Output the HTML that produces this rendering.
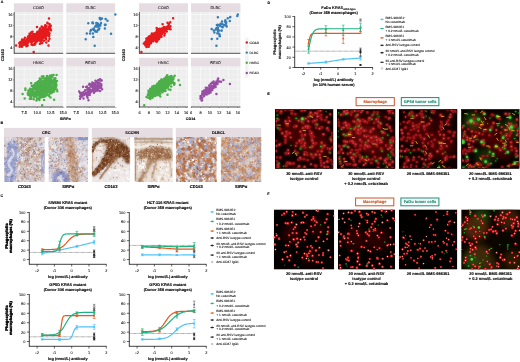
<!DOCTYPE html>
<html lang="en"><head><meta charset="utf-8"><title>Figure</title>
<style>
html,body{margin:0;padding:0;background:#fff;}
body{width:520px;height:362px;overflow:hidden;}
svg{display:block;text-rendering:geometricPrecision;font-family:'Liberation Sans', Arial, sans-serif;}
</style></head><body>
<svg width="520" height="362" viewBox="0 0 520 362">
<defs>
<filter id="semi" x="-5%" y="-5%" width="110%" height="110%"><feGaussianBlur stdDeviation="0.8" result="b"/><feComponentTransfer in="SourceGraphic" result="s"><feFuncA type="linear" slope="0.8"/></feComponentTransfer><feMerge><feMergeNode in="b"/><feMergeNode in="s"/></feMerge></filter>
<filter id="b03" x="-20%" y="-20%" width="140%" height="140%"><feGaussianBlur stdDeviation="0.3"/></filter>
<filter id="b05" x="-20%" y="-20%" width="140%" height="140%"><feGaussianBlur stdDeviation="0.5"/></filter>
<filter id="b08" x="-20%" y="-20%" width="140%" height="140%"><feGaussianBlur stdDeviation="0.8"/></filter>
<filter id="b15" x="-20%" y="-20%" width="140%" height="140%"><feGaussianBlur stdDeviation="1.5"/></filter>
<filter id="b30" x="-20%" y="-20%" width="140%" height="140%"><feGaussianBlur stdDeviation="3"/></filter>
<filter id="b50" x="-20%" y="-20%" width="140%" height="140%"><feGaussianBlur stdDeviation="5"/></filter>
<clipPath id="c1"><rect x="4" y="137" width="40.7" height="45"/></clipPath>
<clipPath id="c2"><rect x="48.5" y="137" width="39.6" height="45"/></clipPath>
<clipPath id="c3"><rect x="91.8" y="137" width="38.4" height="45"/></clipPath>
<clipPath id="c4"><rect x="134.3" y="137" width="38.4" height="45"/></clipPath>
<clipPath id="c5"><rect x="175.9" y="137" width="40.8" height="45"/></clipPath>
<clipPath id="c6"><rect x="220.8" y="137" width="40.6" height="45"/></clipPath>
<radialGradient id="cellE"><stop offset="0" stop-color="#e25c54"/><stop offset="0.55" stop-color="#bc2024"/><stop offset="1" stop-color="#860a0e" stop-opacity="0.25"/></radialGradient>
<radialGradient id="cellD"><stop offset="0" stop-color="#b01a1c"/><stop offset="0.6" stop-color="#a01216" stop-opacity="0.9"/><stop offset="1" stop-color="#700808" stop-opacity="0.3"/></radialGradient>
<radialGradient id="cellF"><stop offset="0" stop-color="#ffd8d0"/><stop offset="0.26" stop-color="#e84840"/><stop offset="0.58" stop-color="#b81418" stop-opacity="0.9"/><stop offset="1" stop-color="#700606" stop-opacity="0"/></radialGradient>
<clipPath id="c7"><rect x="275" y="109.2" width="58.2" height="59.6"/></clipPath>
<clipPath id="c8"><rect x="337" y="109.2" width="58.2" height="59.6"/></clipPath>
<clipPath id="c9"><rect x="399" y="109.2" width="58.2" height="59.6"/></clipPath>
<clipPath id="c10"><rect x="461.2" y="109.2" width="58.2" height="59.6"/></clipPath>
<clipPath id="c11"><rect x="273.8" y="209.4" width="60.4" height="60.2"/></clipPath>
<clipPath id="c12"><rect x="338" y="209.4" width="57" height="60.2"/></clipPath>
<clipPath id="c13"><rect x="398.9" y="209.4" width="58.4" height="60.2"/></clipPath>
<clipPath id="c14"><rect x="461.2" y="209.4" width="58.8" height="60.2"/></clipPath>
</defs>
<rect width="520" height="362" fill="#fff"/>
<rect x="13.9" y="3.3" width="49.3" height="8.8" fill="#e6dde2" />
<rect x="13.9" y="12.1" width="49.3" height="41.2" fill="#ededed" />
<line x1="17.6" y1="12.1" x2="17.6" y2="53.3" stroke="#fff" stroke-width="0.25" />
<line x1="30.8" y1="12.1" x2="30.8" y2="53.3" stroke="#fff" stroke-width="0.25" />
<line x1="44" y1="12.1" x2="44" y2="53.3" stroke="#fff" stroke-width="0.25" />
<line x1="57.2" y1="12.1" x2="57.2" y2="53.3" stroke="#fff" stroke-width="0.25" />
<line x1="13.9" y1="53.12" x2="63.2" y2="53.12" stroke="#fff" stroke-width="0.25" />
<line x1="13.9" y1="42.08" x2="63.2" y2="42.08" stroke="#fff" stroke-width="0.25" />
<line x1="13.9" y1="31.04" x2="63.2" y2="31.04" stroke="#fff" stroke-width="0.25" />
<line x1="13.9" y1="20" x2="63.2" y2="20" stroke="#fff" stroke-width="0.25" />
<line x1="24.2" y1="12.1" x2="24.2" y2="53.3" stroke="#fff" stroke-width="0.5" />
<line x1="37.4" y1="12.1" x2="37.4" y2="53.3" stroke="#fff" stroke-width="0.5" />
<line x1="50.6" y1="12.1" x2="50.6" y2="53.3" stroke="#fff" stroke-width="0.5" />
<line x1="13.9" y1="47.6" x2="63.2" y2="47.6" stroke="#fff" stroke-width="0.5" />
<line x1="13.9" y1="36.56" x2="63.2" y2="36.56" stroke="#fff" stroke-width="0.5" />
<line x1="13.9" y1="25.52" x2="63.2" y2="25.52" stroke="#fff" stroke-width="0.5" />
<line x1="13.9" y1="14.48" x2="63.2" y2="14.48" stroke="#fff" stroke-width="0.5" />
<text transform="translate(38.55 9.1) scale(0.1)" font-size="39" text-anchor="middle" fill="#111" stroke="#111" stroke-width="0.5">COAD</text>
<path d="M34.7 35.9h0M34.2 40.6h0M46.3 30.6h0M39 34.2h0M22.8 41.1h0M41.1 41h0M29.4 41.1h0M36.5 35h0M39.5 34h0M41.6 29.9h0M30.6 40.3h0M42.2 33.2h0M28.8 41.5h0M30 38.9h0M24.3 42h0M19.9 44.7h0M30 38.3h0M24.5 40.2h0M44.9 27.1h0M37.9 40.6h0M31.7 40.2h0M28.7 41.6h0M19.7 46.7h0M49.1 28.5h0M39.9 37.9h0M45.1 28.3h0M38.9 34.1h0M42.1 32.2h0M23.6 39.7h0M41.3 42h0M44 40.7h0M45.5 38.2h0M41.5 35.1h0M42.4 33.7h0M31.3 40.2h0M37.1 39.4h0M49.3 33.1h0M35.7 37.6h0M48.7 35.9h0M26.2 43.2h0M46.4 28.7h0M38.1 35.5h0M35.4 36.3h0M36.9 34h0M39.6 36.9h0M36.8 33.5h0M40.1 28.4h0M27.4 40.2h0M38.9 37.2h0M39.3 37.4h0M39.9 37.2h0M35 37.6h0M32.8 35.4h0M36.3 33.7h0M49.5 38.7h0M34 35.9h0M46.1 38.6h0M24.3 41.8h0M35.6 36.5h0M38.1 36.3h0M45.7 33.9h0M27.2 38.6h0M38 33.6h0M42.3 40.1h0M42.1 38h0M24.5 39.3h0M49.3 35.3h0M27.2 39h0M29.4 35.8h0M35.4 43.6h0M36.1 38.9h0M40.3 29.5h0M46.5 26h0M35.3 39.6h0M37.8 35.7h0M34.6 44.8h0M21.2 42h0M31.7 38.9h0M37.5 31.7h0M45.7 26.4h0M31.2 36.6h0M27.7 45.5h0M26.5 41.2h0M36.6 38.6h0M37.2 34.6h0M35.2 41.3h0M45.9 39.5h0M45.4 29.5h0M43.7 32.9h0M23.7 43.8h0M32.1 41.3h0M23.9 42.6h0M39.9 43.8h0M31.5 44.5h0M34.5 44.6h0M39.3 37.1h0M43.2 31.1h0M48.1 28.6h0M19.3 42.9h0M34.4 39.1h0M22 42.2h0M29 38.2h0M35.9 35.2h0M29.2 40.2h0M43.8 33.6h0M28.3 41.3h0M37.7 39.1h0M46.5 29.6h0M42.1 32.4h0M40.5 35.2h0M20.4 42h0M30.9 35.5h0M25 43.3h0M38.4 37.3h0M45.6 37.7h0M45.2 25.3h0M29.5 39.1h0M30.6 39.5h0M30.7 39.6h0M40.1 32.8h0M34.1 35.3h0M29.9 41.4h0M35.9 36.5h0M38.4 36.4h0M40.4 31.1h0M35.3 35.8h0M20.9 43.6h0M43.1 38.1h0M28.1 36.5h0M25.3 43.4h0M41.1 34h0M42.8 34h0M50.8 25.8h0M27.7 41h0M34.4 34.3h0M44.5 34h0M47.3 32.8h0M34 35.2h0M36.9 40.5h0M39.9 31.1h0M37.1 33.6h0M38.6 35.6h0M42.7 38.1h0M36.9 41.5h0M19.9 45.3h0M41.7 34.6h0M24.9 37.8h0M46.1 36.2h0M21.5 41.9h0M20.8 43.8h0M22 46.8h0M31.6 42.9h0M39 33.4h0M49.6 25.6h0M32.6 41.6h0M36.2 36.8h0M23.5 45.1h0M35.2 38.3h0M30.5 37.5h0M36.1 39.1h0M28.6 40.1h0M38.6 35.3h0M34.8 38.5h0M42 34.4h0M35.7 37.3h0M39.4 38h0M33.7 40.2h0M35.9 38.6h0M41.3 36.2h0M34.2 34.3h0M46.3 42.4h0M39 33.5h0M39.6 30.7h0M44.9 30.9h0M41.2 38.7h0M28.3 39.7h0M35 37.3h0M37.1 39.2h0M41.8 31.7h0M51 30.2h0M33.3 33.9h0M42.6 35.9h0M42.9 28.6h0M31.1 36.8h0M39.5 29.9h0M32.5 31.8h0M43.5 36.2h0M22.1 39.6h0M26.6 44.7h0M46.8 34.1h0M34.2 38.1h0M37.1 41.3h0M39.5 33.7h0M29.2 39.5h0M50.1 27.2h0M32.9 40.4h0M33.9 37h0M41.7 26.4h0M37 27.1h0M32.5 38h0M40.3 35.9h0M37.3 33.7h0M29.4 39.9h0M28 38.9h0M42.2 31.3h0M41.2 35h0M36.6 35.2h0M36 34.5h0M42.3 27h0M38.1 36.5h0M39.5 32.1h0M36.7 36.7h0M49 27.1h0M43.2 34.3h0M40 40.7h0M49.5 33.6h0M25.4 44.4h0M40.5 34h0M32.5 40.5h0M41.5 38.3h0M39.3 34.6h0M35.2 39.1h0M35.9 37.3h0M45.8 26.8h0M44 36.4h0M43.2 27.8h0M36.2 36.2h0M37 38.8h0M27.3 45.7h0M39.1 37.5h0M34.6 39.5h0M23.6 43.9h0M44 34h0M31.3 38.2h0M31.1 32.5h0M37 35.9h0M26.4 46.2h0M43.6 31.1h0M38.6 34.9h0M40 29.1h0M33.7 35.1h0M36.8 37.4h0M29.8 41.4h0M37.2 36.2h0M44.6 31.1h0M42.5 34.7h0M49.2 29h0M46 31.1h0M50.5 29h0M38.5 36.3h0M45.1 32.8h0M39.8 35h0M33.7 38.1h0M33.3 36.1h0M33.8 38.3h0M34.1 35.5h0M37.2 32.3h0M38.6 36.1h0M32 37.3h0M41.1 32.5h0M41.4 40.4h0M23.8 43.8h0M33.5 35.5h0M33.5 36.4h0M36.9 35.3h0M39.1 40.1h0M20.1 44.1h0M45 30.2h0M28 40.3h0M27.7 43.2h0M20.5 44.3h0M40.7 37.5h0M33.5 38.2h0M37 34h0M30.3 40.7h0M30.7 39.4h0M25.4 40.6h0M21.4 42.9h0M21.1 42.1h0M40.9 33.1h0M35 34.6h0M43 37h0M40.6 35.5h0M30.2 39h0M40.5 33h0M48.3 33.2h0M44.4 33h0M32 39.5h0M39.9 39.6h0M38.4 39.4h0M34.5 38.7h0M48 34.6h0M29.5 33.7h0M47 34.9h0M33.2 36.7h0M31.2 33h0M23 41h0M46.6 34.7h0M47.5 31.3h0M22.5 40.5h0M30 37.3h0M42.3 42.9h0M44.5 30.2h0M16.1 45.5h0M28.8 41h0M44.4 35h0M30.2 38.8h0M38.2 38.4h0M46.1 31.2h0M38.6 32.3h0M35.9 35.2h0M34 44.3h0M39.6 35.3h0M39.1 37.1h0M30.6 41h0M27.1 39.4h0M42.4 38h0M48.5 30.5h0M37.3 35.9h0M31.7 38.4h0M37.5 33.8h0M44.5 30.8h0M36.7 37.5h0M35.4 42.8h0M36.7 39.9h0M41.2 35.2h0M35.1 43.2h0M38 34.3h0M41.5 43h0M40 35.1h0M42.3 36h0M32.6 45.1h0M38.6 33.1h0M36.6 34.6h0M47.4 23.3h0M20.6 42.2h0M44.7 29.8h0M30.8 36.8h0M21.6 45.3h0M31.1 41.2h0M49 18.6h0M49.5 23.9h0M49 28.3h0M48.5 32.1h0M49 36.3h0M48.5 40.7h0M48.5 45.4h0M33.7 52h0M47.4 22.8h0" stroke="#e41a1c" stroke-width="2.5" stroke-linecap="round" fill="none"/>
<line x1="14.2" y1="12.1" x2="14.2" y2="53.6" stroke="#2a2a2a" stroke-width="0.8" />
<line x1="13.9" y1="53.3" x2="63.2" y2="53.3" stroke="#2a2a2a" stroke-width="0.8" />
<rect x="66.3" y="3.3" width="48.8" height="8.8" fill="#e6dde2" />
<rect x="66.3" y="12.1" width="48.8" height="41.2" fill="#ededed" />
<line x1="69.6" y1="12.1" x2="69.6" y2="53.3" stroke="#fff" stroke-width="0.25" />
<line x1="82.8" y1="12.1" x2="82.8" y2="53.3" stroke="#fff" stroke-width="0.25" />
<line x1="96" y1="12.1" x2="96" y2="53.3" stroke="#fff" stroke-width="0.25" />
<line x1="109.2" y1="12.1" x2="109.2" y2="53.3" stroke="#fff" stroke-width="0.25" />
<line x1="66.3" y1="53.12" x2="115.1" y2="53.12" stroke="#fff" stroke-width="0.25" />
<line x1="66.3" y1="42.08" x2="115.1" y2="42.08" stroke="#fff" stroke-width="0.25" />
<line x1="66.3" y1="31.04" x2="115.1" y2="31.04" stroke="#fff" stroke-width="0.25" />
<line x1="66.3" y1="20" x2="115.1" y2="20" stroke="#fff" stroke-width="0.25" />
<line x1="76.2" y1="12.1" x2="76.2" y2="53.3" stroke="#fff" stroke-width="0.5" />
<line x1="89.4" y1="12.1" x2="89.4" y2="53.3" stroke="#fff" stroke-width="0.5" />
<line x1="102.6" y1="12.1" x2="102.6" y2="53.3" stroke="#fff" stroke-width="0.5" />
<line x1="66.3" y1="47.6" x2="115.1" y2="47.6" stroke="#fff" stroke-width="0.5" />
<line x1="66.3" y1="36.56" x2="115.1" y2="36.56" stroke="#fff" stroke-width="0.5" />
<line x1="66.3" y1="25.52" x2="115.1" y2="25.52" stroke="#fff" stroke-width="0.5" />
<line x1="66.3" y1="14.48" x2="115.1" y2="14.48" stroke="#fff" stroke-width="0.5" />
<text transform="translate(90.7 9.1) scale(0.1)" font-size="39" text-anchor="middle" fill="#111" stroke="#111" stroke-width="0.5">DLBC</text>
<path d="M93 23.3h0M96.9 31.7h0M104.9 24.9h0M98.6 25.9h0M95.5 26.2h0M93.3 37.1h0M92.9 29.2h0M97.6 24h0M98 29.7h0M96.3 25h0M100.4 25.4h0M96.3 23.1h0M97.4 23.3h0M100.7 23.8h0M104.9 24.8h0M95.2 31.4h0M92.7 22.4h0M107.5 20.7h0M100.6 19.6h0M102 18.6h0M90 33.6h0M99.9 18.8h0M97.9 30.1h0M95.3 30.7h0M92.3 22.8h0M93.7 28.6h0M99.3 28.2h0M99.7 18.1h0M100.9 19h0M97.9 24h0M96.2 25.4h0M104.9 28.6h0M97 25.8h0M94 29.9h0M101 23.1h0M88.3 23.3h0M97.8 26.5h0M90.8 30.6h0M91 29.9h0M100 24.9h0M98.9 29.5h0M105.6 24.8h0M86.8 33.5h0M92.9 33.6h0M95.3 26.5h0M90.5 31.1h0M105.6 18.9h0M96.4 26.6h0M115.3 14.5h0M111 33.8h0M94.7 45.7h0M85.7 39.3h0" stroke="#377eb8" stroke-width="2.5" stroke-linecap="round" fill="none"/>
<line x1="66.3" y1="53.3" x2="115.1" y2="53.3" stroke="#2a2a2a" stroke-width="0.8" />
<rect x="13.9" y="57.8" width="49.3" height="8.8" fill="#e6dde2" />
<rect x="13.9" y="66.6" width="49.3" height="40.4" fill="#ededed" />
<line x1="17.6" y1="66.6" x2="17.6" y2="107" stroke="#fff" stroke-width="0.25" />
<line x1="30.8" y1="66.6" x2="30.8" y2="107" stroke="#fff" stroke-width="0.25" />
<line x1="44" y1="66.6" x2="44" y2="107" stroke="#fff" stroke-width="0.25" />
<line x1="57.2" y1="66.6" x2="57.2" y2="107" stroke="#fff" stroke-width="0.25" />
<line x1="13.9" y1="96.48" x2="63.2" y2="96.48" stroke="#fff" stroke-width="0.25" />
<line x1="13.9" y1="85.44" x2="63.2" y2="85.44" stroke="#fff" stroke-width="0.25" />
<line x1="13.9" y1="74.4" x2="63.2" y2="74.4" stroke="#fff" stroke-width="0.25" />
<line x1="24.2" y1="66.6" x2="24.2" y2="107" stroke="#fff" stroke-width="0.5" />
<line x1="37.4" y1="66.6" x2="37.4" y2="107" stroke="#fff" stroke-width="0.5" />
<line x1="50.6" y1="66.6" x2="50.6" y2="107" stroke="#fff" stroke-width="0.5" />
<line x1="13.9" y1="102" x2="63.2" y2="102" stroke="#fff" stroke-width="0.5" />
<line x1="13.9" y1="90.96" x2="63.2" y2="90.96" stroke="#fff" stroke-width="0.5" />
<line x1="13.9" y1="79.92" x2="63.2" y2="79.92" stroke="#fff" stroke-width="0.5" />
<line x1="13.9" y1="68.88" x2="63.2" y2="68.88" stroke="#fff" stroke-width="0.5" />
<text transform="translate(38.55 63.6) scale(0.1)" font-size="39" text-anchor="middle" fill="#111" stroke="#111" stroke-width="0.5">HNSC</text>
<path d="M43.4 87.9h0M49.3 86.1h0M27.8 93.1h0M38.2 86.4h0M40.1 88.1h0M36.5 96.6h0M46.8 89.5h0M31.4 98.7h0M48.5 89.5h0M41.7 86.7h0M53.6 75.1h0M51.4 84.3h0M45.5 78.5h0M54.1 85.5h0M47.4 84.9h0M44.6 89.6h0M35.2 93h0M33.7 85.3h0M47.9 91.8h0M53.8 79.9h0M31.2 83.3h0M49.8 75.8h0M35.8 87.8h0M47.2 85.4h0M45.4 82h0M34 96.7h0M34.7 93.3h0M40.1 87.1h0M46.1 86.6h0M39.6 91h0M50.8 81.5h0M45 88.6h0M54.9 86.5h0M48.7 80.4h0M42.4 84.1h0M36.6 85.3h0M45.6 94.3h0M48.9 90h0M53.1 87.5h0M43.1 86.4h0M42 86.9h0M40.5 85.5h0M44.3 86.4h0M25.4 88.4h0M44.5 95.6h0M44.9 85h0M51.6 89.9h0M54.9 84.5h0M48.9 87.5h0M36.6 84.9h0M50.5 78h0M50.1 88h0M32.9 94.3h0M39.6 92.8h0M48.3 84.5h0M42.4 87.2h0M43.3 86.7h0M49.4 81.1h0M39.6 96h0M54.1 83.5h0M51.9 92.5h0M42 88h0M34.4 93.2h0M49.2 80.6h0M55.2 87.7h0M34.6 88.2h0M50.7 84.2h0M35.3 86.8h0M49.7 82.9h0M40.9 87.1h0M49.7 88.1h0M31.6 90.2h0M47.6 86.2h0M50.4 88h0M43.7 89h0M48.2 78.6h0M42.5 78.3h0M54.8 80.1h0M48.3 77.7h0M43 88.3h0M37 87.7h0M53.5 81.7h0M47.2 87.3h0M45.4 93.6h0M51.5 86.8h0M36.7 93.5h0M38.6 85.3h0M51.5 91.2h0M50.6 81h0M40.3 95.7h0M39.1 92.1h0M46.6 88.2h0M30.3 91.1h0M33.7 86.8h0M36 93.5h0M38.4 91.9h0M53.2 80.3h0M48.4 84.5h0M33.6 93.5h0M40.5 93.3h0M47.8 89.6h0M39.4 93.9h0M30.1 89.4h0M53.4 83.4h0M45.5 81.3h0M46.3 82.3h0M54.4 78.6h0M41.2 83.5h0M49.6 92.7h0M41.5 95h0M43.5 84.9h0M36.9 99.5h0M53.2 82.5h0M54.4 90.1h0M51.5 75.2h0M46.1 87.5h0M51.1 80.2h0M44.9 93.5h0M49.4 87.8h0M48.6 84.7h0M55.4 78.2h0M41.2 86.8h0M56.4 85.7h0M47.2 80.8h0M52.9 82h0M35.2 96.4h0M46 85h0M52.1 81.1h0M32.8 95.1h0M45.4 89.3h0M43.2 85.5h0M38.7 87.1h0M39.9 91.4h0M47.9 88.8h0M46.2 79.2h0M44.4 88h0M49.3 87.3h0M51.7 90.8h0M48.5 88.3h0M38.8 81h0M38.4 81.2h0M48.8 79h0M37.6 84.1h0M54.3 84.5h0M43.4 76.2h0M45.5 88.9h0M39.9 86.8h0M46.5 85.8h0M56.1 84.8h0M47.5 79.4h0M37.4 84.9h0M56.8 89.4h0M36.7 94.8h0M31.6 89.6h0M31.5 89.4h0M54.2 91.5h0M42.1 97.1h0M49.6 89h0M42.4 87.7h0M48 87.7h0M44.4 89.9h0M45.1 92.6h0M44.7 96.3h0M40.9 79.6h0M44.8 93.1h0M46 91.3h0M32.9 94.7h0M49.3 83.8h0M43.6 91.9h0M36.9 83.6h0M45.9 91.3h0M29.8 98.8h0M43.7 86.6h0M43.2 89h0M34.8 95.5h0M55.9 86.9h0M50.1 93.3h0M42.4 86.8h0M51.4 90.2h0M48.4 84.2h0M39.2 86.9h0M38.1 93.2h0M44.1 100.1h0M43.5 92.3h0M34.2 92.8h0M49.5 87.5h0M53 89.8h0M35.3 83.2h0M47 82h0M38.6 85.6h0M46 83.7h0M44.4 81.7h0M39.8 93.4h0M34.1 85.4h0M39.2 94h0M37.8 91.7h0M35.5 91.7h0M40 91.4h0M37.7 89.5h0M41.1 87.9h0M46 85.2h0M29.2 95h0M38.8 85.6h0M33.4 94.4h0M42.2 89.6h0M51.1 87.1h0M50.9 92h0M31.8 85.9h0M47.3 84.1h0M45.1 84.8h0M35.9 85.8h0M40.6 84h0M44.9 96.4h0M35.4 85.1h0M43.3 89.5h0M45.9 88.8h0M40.5 88.2h0M45.3 79.9h0M44.6 78.5h0M56.6 75.1h0M51.5 84.3h0M45.2 87.7h0M39.2 89.4h0M39.9 81.2h0M47.9 88.2h0M31.1 92.1h0M41.4 93.4h0M36.5 100.6h0M48.2 86.3h0M43.2 81h0M45.2 86.3h0M41.7 91.1h0M54.6 79.1h0M56 85h0M44.5 91.4h0M50.9 91.6h0M48.1 80.9h0M54 88.4h0M51.7 88.1h0M39.1 95.4h0M52.2 76.9h0M40.2 92.3h0M41.9 76.4h0M51.2 87.5h0M31.9 94.8h0M52.4 75.8h0M42.4 91.2h0M40.8 97.4h0M50.5 90.3h0M51.6 92.9h0M35.5 89h0M39 85.5h0M44.3 92.9h0M48.5 82h0M31.1 83.3h0M47.7 82.6h0M31.5 95.1h0M41.9 83.2h0M34.2 95h0M30.3 93.3h0M46.6 94.5h0M40.2 86.4h0M55.1 80.5h0M42.2 93.6h0M37.8 92.7h0M45.3 87.3h0M55.7 82.1h0M36.9 82.7h0M50.8 84.7h0M39.3 97.8h0M37.2 85.5h0M38.8 95.4h0M45.6 85.8h0M48.4 82.9h0M53.9 88h0M51 89.7h0M49 84.9h0M45.9 82.3h0M44.1 82.2h0M50.3 84.7h0M40.4 92.2h0M40.6 89.6h0M48.6 82.3h0M38.4 92.7h0M42.1 87.2h0M37.2 82.3h0M40.4 83.7h0M28.2 92.9h0M46.2 85.8h0M48.4 84.6h0M45.4 95.9h0M39.4 100h0M48.6 84.4h0M42.9 91.7h0M40.3 80.1h0M56.1 83.6h0M53.1 91.8h0M31 94.2h0M38.3 92.1h0M39.7 88.7h0M46.2 86.9h0M50.7 76.9h0M35.7 89.5h0M42.4 86.3h0M33.8 99.2h0M28.4 90.4h0M45.6 86.6h0M28 94.7h0M39.1 95.8h0M38 86.3h0M48 86.2h0M47.8 89h0M44.8 87h0M48.1 86.4h0M43.3 88.3h0M39.8 78.4h0M47.8 84.1h0M33.6 87.8h0M50 76.6h0M53.3 80.7h0M36.2 94.2h0M46.1 84.4h0M37.3 91.6h0M41.5 88h0M46.6 87.9h0M35.8 84.5h0M55.2 84.1h0M51.3 82.9h0M48.8 83.6h0M39 86.5h0M51.2 89.2h0M49.4 87.2h0M40.1 92.6h0M45.1 87.3h0M48.9 95.2h0M44.1 84.3h0M47.5 85h0M42.8 88.4h0M38.6 88.5h0M44.1 85.9h0M38.4 89.2h0M44.6 84.4h0M37 87.9h0M51 82.3h0M41.7 90.5h0M42.6 84.5h0M54.9 84.4h0M39.9 87.1h0M45.7 91.1h0M39.2 89.6h0M48.9 91.4h0M37.3 87.4h0M35.9 89.8h0M46.7 87.1h0M37.3 90.1h0M42 86.6h0M38.5 84.2h0M32.8 92.2h0M44.3 82.9h0M40.1 86.3h0M40.4 85.3h0M56.2 85.2h0M47.3 90.7h0M50.9 79.4h0M44.5 92.6h0M47 81h0M51.7 81h0M31.7 94.9h0M54 89.8h0M52 75.9h0M49.5 80.3h0M42 93.9h0M43.6 88.5h0M43.9 84.2h0M43.3 86.8h0M47.2 86.4h0M56.9 81h0M44.8 88.1h0M40 82.6h0M45.3 92.1h0M40.4 89.3h0M41.2 83.3h0M36.3 87.8h0M45.2 92.5h0M44.6 87.7h0M47.7 88.3h0M46.3 94.5h0M36.8 86.3h0M51.4 85h0M40.2 83.7h0M29.9 96.1h0M48.9 82.7h0M37.2 98.6h0M54.2 83.2h0M38.1 89.2h0M50.5 97.4h0M51.9 81.3h0M30 88.7h0M32 86.2h0M47 75.9h0M40.1 88.8h0M51.5 87.9h0M39.4 90.8h0M43.8 92.6h0M47.6 83.7h0M44.8 79.2h0M42 82h0M40.5 85.1h0M31 91h0M43.1 90.1h0M40.1 90.4h0M39.3 99.3h0M40.2 91.4h0M40.7 93.6h0M43.3 84h0M42.5 90.3h0M53.6 79.6h0M50.6 79.8h0M42 88.7h0M51.9 87.3h0M43.4 85.9h0M46.8 87.8h0M51 85.9h0M49.2 80.6h0M48.8 82.4h0M36.3 96.2h0M40 86.6h0M54.6 89.6h0M46.4 90.6h0M39.2 90.4h0M49 84.7h0M52.4 89.2h0M50.4 80.9h0M44.7 85h0M40.4 93.8h0M41.5 91.3h0M55.6 82.5h0M46.4 83.2h0M38.9 84.9h0M46.8 93.6h0M48.4 83.4h0M47.4 78.9h0M41.4 86h0M49.4 89.8h0M52.5 91.3h0M35.3 88h0M36.8 90.5h0M33 90.9h0M36.5 88.4h0M33.7 88.9h0M42.4 87.7h0M43.8 86.9h0M44.5 91.7h0M41.1 86.4h0M30.6 95.6h0M40.1 93.8h0M46.5 87.3h0M38.6 93.9h0M49.8 88.6h0M48.3 83.9h0M31.3 96.9h0M44.3 85.8h0M49.6 81.8h0M51.4 86.7h0M42.8 84.2h0M41.3 83.4h0M33.4 88.1h0M43.1 97h0M51 83.6h0M44.4 92.4h0M41.1 81.4h0M38.4 95h0M43.4 89.5h0M38 93.5h0M51.5 91.7h0M36.8 86.3h0M48.1 90.9h0M49.4 94.2h0M37.9 84.3h0M42.5 94.1h0M47.8 81.9h0M44.1 95.9h0M41.9 86.2h0M49.5 76.9h0M42.5 90.2h0M44 81.8h0M37.8 83.5h0M25.4 90.1h0M39.6 86.8h0M49 91.3h0M43.7 86.4h0M48.3 90.3h0M37.5 98.7h0M42.7 94.9h0M50.6 87.7h0M54.1 80h0M44.4 83.9h0M36.6 91.5h0M40.3 94.7h0M44.4 88h0M54.1 99.7h0M39.7 93.3h0M41.1 86.5h0M47 86.3h0M41 86.2h0M46.7 95.2h0M42.5 94.4h0M36.2 89.5h0M44.7 86.7h0M38.3 90.4h0M38 87.7h0M49 77.5h0M53 88.2h0M41.1 92.8h0M46.4 77.4h0M49.1 96h0M35.6 96.4h0M47.8 86.2h0M46.3 78.3h0M38.6 93.3h0M38.9 98.7h0M44.7 87h0M51.1 85.7h0M39.5 92.5h0M57.3 91.2h0M45.5 86.8h0M48.5 87.8h0M47.7 82.4h0M43.3 89.9h0M43 92.3h0M42.8 89.3h0M45.7 80.6h0M53.2 86.4h0M48.4 84.6h0M49.5 85.5h0M46.1 88.9h0M38.9 85.1h0M53.2 81.2h0M47.3 85.1h0M41.2 96.8h0M22.6 94h0M24.7 98.4h0M42.2 105.3h0M56.4 84.9h0" stroke="#4daf4a" stroke-width="2.5" stroke-linecap="round" fill="none"/>
<line x1="14.2" y1="66.6" x2="14.2" y2="107.3" stroke="#2a2a2a" stroke-width="0.8" />
<line x1="13.9" y1="107" x2="63.2" y2="107" stroke="#2a2a2a" stroke-width="0.8" />
<rect x="66.3" y="57.8" width="48.8" height="8.8" fill="#e6dde2" />
<rect x="66.3" y="66.6" width="48.8" height="40.4" fill="#ededed" />
<line x1="69.6" y1="66.6" x2="69.6" y2="107" stroke="#fff" stroke-width="0.25" />
<line x1="82.8" y1="66.6" x2="82.8" y2="107" stroke="#fff" stroke-width="0.25" />
<line x1="96" y1="66.6" x2="96" y2="107" stroke="#fff" stroke-width="0.25" />
<line x1="109.2" y1="66.6" x2="109.2" y2="107" stroke="#fff" stroke-width="0.25" />
<line x1="66.3" y1="96.48" x2="115.1" y2="96.48" stroke="#fff" stroke-width="0.25" />
<line x1="66.3" y1="85.44" x2="115.1" y2="85.44" stroke="#fff" stroke-width="0.25" />
<line x1="66.3" y1="74.4" x2="115.1" y2="74.4" stroke="#fff" stroke-width="0.25" />
<line x1="76.2" y1="66.6" x2="76.2" y2="107" stroke="#fff" stroke-width="0.5" />
<line x1="89.4" y1="66.6" x2="89.4" y2="107" stroke="#fff" stroke-width="0.5" />
<line x1="102.6" y1="66.6" x2="102.6" y2="107" stroke="#fff" stroke-width="0.5" />
<line x1="66.3" y1="102" x2="115.1" y2="102" stroke="#fff" stroke-width="0.5" />
<line x1="66.3" y1="90.96" x2="115.1" y2="90.96" stroke="#fff" stroke-width="0.5" />
<line x1="66.3" y1="79.92" x2="115.1" y2="79.92" stroke="#fff" stroke-width="0.5" />
<line x1="66.3" y1="68.88" x2="115.1" y2="68.88" stroke="#fff" stroke-width="0.5" />
<text transform="translate(90.7 63.6) scale(0.1)" font-size="39" text-anchor="middle" fill="#111" stroke="#111" stroke-width="0.5">READ</text>
<path d="M96.2 85.8h0M88.5 94.7h0M100.1 91.1h0M91.9 91h0M93 89.2h0M87.3 87.8h0M87.1 93.8h0M95.6 89h0M89.3 89.3h0M89.7 95h0M91.4 90.2h0M98.2 88.4h0M89.8 91.6h0M93.8 84.8h0M100.5 80.4h0M97.2 88.9h0M97.7 86.1h0M94.3 88.7h0M96.2 82.4h0M99.2 85.6h0M98.3 79.9h0M86.1 86.9h0M83.6 91.9h0M95.8 81.3h0M93.8 89.8h0M87 96.6h0M96.9 87.1h0M87.5 89.7h0M87.2 93.5h0M89.1 84.5h0M101.3 84.3h0M82.1 93.8h0M92.5 87.5h0M95.6 88.2h0M97.9 82.5h0M93.4 89.8h0M89 88.2h0M85.1 93.7h0M87.3 97h0M95.9 86.9h0M92.3 85.6h0M82.6 94.8h0M93.9 84.9h0M85.2 90.3h0M93.4 83.1h0M99.3 82.8h0M89.4 91.9h0M86.1 92.6h0M80.1 96.2h0M94.7 83.8h0M89.8 85.1h0M87.9 91.9h0M80.1 98.8h0M87 86.5h0M95.3 91.2h0M95.3 85.4h0M90.6 89.8h0M90.2 92.1h0M81.1 95.7h0M100 79.2h0M90.3 92.8h0M90.7 86.5h0M94.2 89.9h0M94.3 88.5h0M95.2 88.7h0M82.9 94.1h0M96.7 90.4h0M91.4 86.2h0M89.7 92.7h0M98.4 88.8h0M102.1 89.2h0M88.8 88.2h0M100.2 87.7h0M87.9 90.7h0M80.2 93.6h0M95.5 88.7h0M95.4 84.3h0M93.9 86h0M101.4 85.4h0M93 90.4h0M98.4 86.8h0M95 86.8h0M92.4 82.6h0M91.5 84.2h0M97.1 81.3h0M91 86.3h0M96.7 88.6h0M93.7 88.5h0M91.8 84.4h0M87.6 97.7h0M81.4 96.8h0M88.1 91.3h0M95.5 80.7h0M93.9 86.3h0M87.5 89.5h0M100.3 79.4h0M80.1 92.7h0M101.7 80.4h0M82.9 95.4h0M95.6 85.5h0M87.1 95.1h0M97.9 90.4h0M100.8 83.9h0M93.9 92.8h0M88.4 88.6h0M83.1 86.8h0M83.5 98.4h0M92.3 87.1h0M96.5 87.8h0M90.8 90.6h0M88.5 100.3h0M97.9 84.7h0M93 90.7h0M93.6 88.2h0M91.6 85.3h0M81.6 94.2h0M85.5 93.9h0M101.2 87.6h0M91.4 91.5h0M97.8 89.2h0M81.8 93.1h0M89.9 91.4h0M98.6 88.4h0M89.8 89.8h0M94.6 89.4h0M89.6 83.7h0M79.2 91.4h0M89.9 89.7h0M90 92.5h0M84.3 95h0" stroke="#984ea3" stroke-width="2.5" stroke-linecap="round" fill="none"/>
<line x1="66.3" y1="107" x2="115.1" y2="107" stroke="#2a2a2a" stroke-width="0.8" />
<text transform="translate(12.5 48.85) scale(0.1)" font-size="39" text-anchor="end" fill="#222" stroke="#222" stroke-width="1.1">4</text>
<line x1="12.9" y1="47.6" x2="13.9" y2="47.6" stroke="#333" stroke-width="0.4" />
<text transform="translate(137.6 48.85) scale(0.1)" font-size="39" text-anchor="end" fill="#222" stroke="#222" stroke-width="1.1">4</text>
<line x1="138.1" y1="47.6" x2="139.1" y2="47.6" stroke="#333" stroke-width="0.4" />
<text transform="translate(12.5 37.81) scale(0.1)" font-size="39" text-anchor="end" fill="#222" stroke="#222" stroke-width="1.1">8</text>
<line x1="12.9" y1="36.56" x2="13.9" y2="36.56" stroke="#333" stroke-width="0.4" />
<text transform="translate(137.6 37.81) scale(0.1)" font-size="39" text-anchor="end" fill="#222" stroke="#222" stroke-width="1.1">8</text>
<line x1="138.1" y1="36.56" x2="139.1" y2="36.56" stroke="#333" stroke-width="0.4" />
<text transform="translate(12.5 26.77) scale(0.1)" font-size="39" text-anchor="end" fill="#222" stroke="#222" stroke-width="1.1">12</text>
<line x1="12.9" y1="25.52" x2="13.9" y2="25.52" stroke="#333" stroke-width="0.4" />
<text transform="translate(137.6 26.77) scale(0.1)" font-size="39" text-anchor="end" fill="#222" stroke="#222" stroke-width="1.1">12</text>
<line x1="138.1" y1="25.52" x2="139.1" y2="25.52" stroke="#333" stroke-width="0.4" />
<text transform="translate(12.5 15.73) scale(0.1)" font-size="39" text-anchor="end" fill="#222" stroke="#222" stroke-width="1.1">16</text>
<line x1="12.9" y1="14.48" x2="13.9" y2="14.48" stroke="#333" stroke-width="0.4" />
<text transform="translate(137.6 15.73) scale(0.1)" font-size="39" text-anchor="end" fill="#222" stroke="#222" stroke-width="1.1">16</text>
<line x1="138.1" y1="14.48" x2="139.1" y2="14.48" stroke="#333" stroke-width="0.4" />
<text transform="translate(12.5 103.25) scale(0.1)" font-size="39" text-anchor="end" fill="#222" stroke="#222" stroke-width="1.1">4</text>
<line x1="12.9" y1="102" x2="13.9" y2="102" stroke="#333" stroke-width="0.4" />
<text transform="translate(137.6 103.25) scale(0.1)" font-size="39" text-anchor="end" fill="#222" stroke="#222" stroke-width="1.1">4</text>
<line x1="138.1" y1="102" x2="139.1" y2="102" stroke="#333" stroke-width="0.4" />
<text transform="translate(12.5 92.21) scale(0.1)" font-size="39" text-anchor="end" fill="#222" stroke="#222" stroke-width="1.1">8</text>
<line x1="12.9" y1="90.96" x2="13.9" y2="90.96" stroke="#333" stroke-width="0.4" />
<text transform="translate(137.6 92.21) scale(0.1)" font-size="39" text-anchor="end" fill="#222" stroke="#222" stroke-width="1.1">8</text>
<line x1="138.1" y1="90.96" x2="139.1" y2="90.96" stroke="#333" stroke-width="0.4" />
<text transform="translate(12.5 81.17) scale(0.1)" font-size="39" text-anchor="end" fill="#222" stroke="#222" stroke-width="1.1">12</text>
<line x1="12.9" y1="79.92" x2="13.9" y2="79.92" stroke="#333" stroke-width="0.4" />
<text transform="translate(137.6 81.17) scale(0.1)" font-size="39" text-anchor="end" fill="#222" stroke="#222" stroke-width="1.1">12</text>
<line x1="138.1" y1="79.92" x2="139.1" y2="79.92" stroke="#333" stroke-width="0.4" />
<text transform="translate(12.5 70.13) scale(0.1)" font-size="39" text-anchor="end" fill="#222" stroke="#222" stroke-width="1.1">16</text>
<line x1="12.9" y1="68.88" x2="13.9" y2="68.88" stroke="#333" stroke-width="0.4" />
<text transform="translate(137.6 70.13) scale(0.1)" font-size="39" text-anchor="end" fill="#222" stroke="#222" stroke-width="1.1">16</text>
<line x1="138.1" y1="68.88" x2="139.1" y2="68.88" stroke="#333" stroke-width="0.4" />
<text transform="translate(24.2 113.9) scale(0.1)" font-size="39" text-anchor="middle" fill="#222" stroke="#222" stroke-width="1.1">7.5</text>
<line x1="24.2" y1="107" x2="24.2" y2="108" stroke="#333" stroke-width="0.4" />
<text transform="translate(37.4 113.9) scale(0.1)" font-size="39" text-anchor="middle" fill="#222" stroke="#222" stroke-width="1.1">10.0</text>
<line x1="37.4" y1="107" x2="37.4" y2="108" stroke="#333" stroke-width="0.4" />
<text transform="translate(50.6 113.9) scale(0.1)" font-size="39" text-anchor="middle" fill="#222" stroke="#222" stroke-width="1.1">12.5</text>
<line x1="50.6" y1="107" x2="50.6" y2="108" stroke="#333" stroke-width="0.4" />
<text transform="translate(63.2 113.9) scale(0.1)" font-size="39" text-anchor="middle" fill="#222" stroke="#222" stroke-width="1.1">15.0</text>
<line x1="63.8" y1="107" x2="63.8" y2="108" stroke="#333" stroke-width="0.4" />
<text transform="translate(76.2 113.9) scale(0.1)" font-size="39" text-anchor="middle" fill="#222" stroke="#222" stroke-width="1.1">7.5</text>
<line x1="76.2" y1="107" x2="76.2" y2="108" stroke="#333" stroke-width="0.4" />
<text transform="translate(89.4 113.9) scale(0.1)" font-size="39" text-anchor="middle" fill="#222" stroke="#222" stroke-width="1.1">10.0</text>
<line x1="89.4" y1="107" x2="89.4" y2="108" stroke="#333" stroke-width="0.4" />
<text transform="translate(102.6 113.9) scale(0.1)" font-size="39" text-anchor="middle" fill="#222" stroke="#222" stroke-width="1.1">12.5</text>
<line x1="102.6" y1="107" x2="102.6" y2="108" stroke="#333" stroke-width="0.4" />
<text transform="translate(115.2 113.9) scale(0.1)" font-size="39" text-anchor="middle" fill="#222" stroke="#222" stroke-width="1.1">15.0</text>
<line x1="115.8" y1="107" x2="115.8" y2="108" stroke="#333" stroke-width="0.4" />
<text transform="translate(65.2 119.6) scale(0.1)" font-size="37" text-anchor="middle" font-weight="bold" stroke="#000" stroke-width="1.2" >SIRPα</text>
<text transform="translate(3.6 55.2) rotate(-90) scale(0.1)" font-size="39" text-anchor="middle" font-weight="bold" stroke="#000" stroke-width="1.2" >CD163</text>
<text transform="translate(2.2 3.4) scale(0.1)" font-size="37" text-anchor="middle" font-weight="bold" stroke="#000" stroke-width="1.2" >A</text>
<rect x="139.1" y="3.3" width="48.9" height="8.8" fill="#e6dde2" />
<rect x="139.1" y="12.1" width="48.9" height="41.2" fill="#ededed" />
<line x1="144.16" y1="12.1" x2="144.16" y2="53.3" stroke="#fff" stroke-width="0.25" />
<line x1="153.48" y1="12.1" x2="153.48" y2="53.3" stroke="#fff" stroke-width="0.25" />
<line x1="162.8" y1="12.1" x2="162.8" y2="53.3" stroke="#fff" stroke-width="0.25" />
<line x1="172.12" y1="12.1" x2="172.12" y2="53.3" stroke="#fff" stroke-width="0.25" />
<line x1="181.44" y1="12.1" x2="181.44" y2="53.3" stroke="#fff" stroke-width="0.25" />
<line x1="139.1" y1="53.12" x2="188" y2="53.12" stroke="#fff" stroke-width="0.25" />
<line x1="139.1" y1="42.08" x2="188" y2="42.08" stroke="#fff" stroke-width="0.25" />
<line x1="139.1" y1="31.04" x2="188" y2="31.04" stroke="#fff" stroke-width="0.25" />
<line x1="139.1" y1="20" x2="188" y2="20" stroke="#fff" stroke-width="0.25" />
<line x1="139.5" y1="12.1" x2="139.5" y2="53.3" stroke="#fff" stroke-width="0.5" />
<line x1="148.82" y1="12.1" x2="148.82" y2="53.3" stroke="#fff" stroke-width="0.5" />
<line x1="158.14" y1="12.1" x2="158.14" y2="53.3" stroke="#fff" stroke-width="0.5" />
<line x1="167.46" y1="12.1" x2="167.46" y2="53.3" stroke="#fff" stroke-width="0.5" />
<line x1="176.78" y1="12.1" x2="176.78" y2="53.3" stroke="#fff" stroke-width="0.5" />
<line x1="186.1" y1="12.1" x2="186.1" y2="53.3" stroke="#fff" stroke-width="0.5" />
<line x1="139.1" y1="47.6" x2="188" y2="47.6" stroke="#fff" stroke-width="0.5" />
<line x1="139.1" y1="36.56" x2="188" y2="36.56" stroke="#fff" stroke-width="0.5" />
<line x1="139.1" y1="25.52" x2="188" y2="25.52" stroke="#fff" stroke-width="0.5" />
<line x1="139.1" y1="14.48" x2="188" y2="14.48" stroke="#fff" stroke-width="0.5" />
<text transform="translate(163.55 9.1) scale(0.1)" font-size="39" text-anchor="middle" fill="#111" stroke="#111" stroke-width="0.5">COAD</text>
<path d="M164 27.6h0M153 38.7h0M150.6 41.8h0M167.5 26.4h0M156.1 36.6h0M148.5 37.8h0M160.6 34.6h0M162 34h0M159.7 35.2h0M152.6 36.8h0M158.2 31.8h0M149.7 36.3h0M164.4 29.9h0M158.5 35.6h0M154.3 39.6h0M155.9 35.2h0M164.4 27.8h0M160.8 33.1h0M153.8 37.8h0M156.8 39.2h0M160.5 36h0M151.9 38.3h0M151.9 34.7h0M154.7 33h0M163.2 31.8h0M158 31.3h0M153.1 37.3h0M151.6 38.4h0M153 37.4h0M162.1 28.4h0M156.2 35h0M161.1 32.8h0M148.2 38.4h0M149.1 38.2h0M148.9 36.4h0M148.3 38.9h0M165.4 31.3h0M165.3 31.1h0M160.1 33.3h0M153.3 38.2h0M153.4 41.2h0M151.5 34.6h0M165.7 29.8h0M150.6 38.4h0M162.5 29.6h0M147.5 40.9h0M156.3 32.2h0M163.4 29.4h0M163.5 31.4h0M165.7 30h0M158 32.2h0M149.2 41.7h0M155 37h0M158.7 38.4h0M155.2 35.9h0M153.6 35.5h0M167.1 29h0M149 41.6h0M156 34.3h0M149.6 37.7h0M148.5 38.8h0M158.2 33.1h0M169.8 26.8h0M154.2 35.7h0M161.1 35h0M157.2 36.4h0M159.6 30.1h0M155.7 36h0M156.6 41.7h0M160.5 31.3h0M156.4 36.1h0M150.4 39.7h0M163.5 30.7h0M164.4 35.5h0M152.3 37.5h0M155.3 39.7h0M150.9 36.3h0M146.7 44h0M148 42.2h0M159.7 31.8h0M151.4 40h0M166.5 28.6h0M147 43h0M150.5 41.5h0M153.1 35.6h0M157.7 37.5h0M156.1 35.4h0M160.5 33.3h0M158.4 29.3h0M156 37.9h0M157.5 36.3h0M152.9 37.3h0M157.6 35.1h0M161 32.6h0M146.6 40h0M152.9 35h0M151 37.7h0M157.5 40.5h0M145.3 45.2h0M164.8 33.8h0M161.5 29.5h0M158.7 32.3h0M152 38.3h0M156.9 34.1h0M160.1 33.3h0M150.6 40.4h0M158.1 37.8h0M146.9 42.6h0M151.6 39.1h0M153.7 35.4h0M158.5 32.8h0M163.4 28.3h0M148.3 39.4h0M153.1 39.3h0M165.6 30.4h0M149.6 40.8h0M149.6 37.7h0M157.9 31.2h0M158.1 35.5h0M162.4 32.7h0M152.2 38.5h0M155.6 33.2h0M151.3 38h0M155.2 38.9h0M148 41.5h0M158.1 33.5h0M158.6 33.7h0M152.3 37.1h0M148.6 43.5h0M153.1 40.7h0M151.9 40h0M151.6 38.6h0M150 40.6h0M143.8 43.5h0M149.4 39.1h0M157 40.3h0M152.9 37.4h0M156 38.8h0M156.9 34.6h0M148.8 38.8h0M155 36.2h0M152.3 36.8h0M156 33.1h0M158.4 35.3h0M153.8 35h0M152.9 36.8h0M158.9 34h0M156.8 34.7h0M150.2 36.8h0M154.4 38h0M150.5 38.5h0M148 43.2h0M168.9 24h0M162.5 28.2h0M159.4 37h0M163.4 27.8h0M158.7 38.1h0M163.8 27.3h0M152 38h0M160.6 32.6h0M162.8 30.8h0M160 32.7h0M145.3 45h0M164.2 27.5h0M167 26.9h0M151.3 38.7h0M161.5 36.7h0M156.7 33.3h0M164.3 32h0M150.9 43.2h0M148.4 39.5h0M169.4 29.1h0M164.7 28.7h0M152 33.4h0M156.8 30.3h0M167.5 22.7h0M156.3 33.2h0M164.6 28.6h0M157.8 34.8h0M152.6 40.6h0M168.6 28.1h0M155.1 35.8h0M167.7 27.9h0M153.5 38.9h0M155.2 37.1h0M156.7 28.1h0M158 36.1h0M168.5 25.2h0M160.9 30.7h0M160.9 30.7h0M164.9 27.3h0M164.5 30.9h0M155.3 37.6h0M161.9 29.8h0M152.2 36.8h0M147.8 41.3h0M159.7 33.2h0M158 31.6h0M157.6 36.9h0M160.2 32.9h0M156.1 36.7h0M145.9 45.1h0M152.9 40h0M147.4 43h0M159 38.9h0M164.5 31.6h0M159.8 34h0M157.4 34.4h0M155.3 40.1h0M145.3 42.9h0M164.9 30.7h0M159 33.2h0M158.6 31.6h0M145.1 42.3h0M154.1 37.5h0M149.5 41.7h0M148.3 43.2h0M155.4 34.3h0M148.7 46.7h0M165.1 29.5h0M148.5 41.1h0M148.5 43.7h0M153.8 38h0M149.8 41.7h0M149 39.8h0M164.8 30.1h0M170.6 29.3h0M157.2 37.3h0M154.2 36.5h0M159.2 30.9h0M151.6 41.3h0M154.1 36.2h0M150.6 37.2h0M166.8 31.4h0M157.8 32.1h0M153.8 40.2h0M164.3 29.5h0M152.1 37.2h0M159.7 31.3h0M159.3 32.4h0M147.3 42.4h0M156.2 41.6h0M169.9 27h0M148.2 44.9h0M157 34.8h0M151.4 39.6h0M149.3 41.8h0M154.7 37.9h0M160 33.2h0M156.2 34.5h0M164 28.8h0M156.9 35.3h0M149.9 40.5h0M160 32.4h0M152.7 40.8h0M144.9 42.3h0M162.3 30.5h0M146 42.8h0M156.9 37h0M157.7 34.9h0M149.7 42.6h0M160.9 31.5h0M149.3 42.3h0M161.4 30.6h0M153.3 33.9h0M153.4 39.7h0M162.8 31.4h0M157.7 34.3h0M148.5 43.3h0M154 33.8h0M148.5 37.6h0M156.8 37.5h0M157.2 33.5h0M149.2 44.9h0M157.8 36.8h0M158.3 38.2h0M154.4 38.5h0M145.3 43.3h0M156.5 36.5h0M147.3 41h0M158.7 30h0M161.4 31.2h0M157.1 34.7h0M146.3 38.8h0M158.9 34.2h0M147.6 38h0M159 36.2h0M159.9 28.7h0M155.2 35.2h0M152.5 39.3h0M162.6 24.2h0M156.1 35.7h0M160.7 33h0M160.3 30.8h0M148.4 43h0M154.8 34.5h0M157.2 32h0M146 41.2h0M151.1 38.6h0M157.5 36.7h0M153.8 39.6h0M157.1 36.7h0M152 37.8h0M150.9 36.5h0M151 37h0M157.3 37h0M153.9 38.9h0M152.9 38.3h0M167.7 28.6h0M166 27.8h0M146.5 47.1h0M159.9 37.3h0M160.2 30.4h0M158 34.7h0M153.6 36.6h0M153.3 38.6h0M152.8 35.1h0M151.1 38h0M147.5 42.8h0M146 42.7h0M160 32.2h0M152 36.9h0M153 36.8h0M157.2 33.6h0M160.6 32.7h0M170.5 26.3h0M151.6 35.2h0M159.1 29.3h0M158.8 34.1h0M160.2 34.4h0M141.4 52h0M173.1 18.3h0M170.3 22.2h0" stroke="#e41a1c" stroke-width="2.5" stroke-linecap="round" fill="none"/>
<line x1="139.4" y1="12.1" x2="139.4" y2="53.6" stroke="#2a2a2a" stroke-width="0.8" />
<line x1="139.1" y1="53.3" x2="188" y2="53.3" stroke="#2a2a2a" stroke-width="0.8" />
<rect x="191" y="3.3" width="49.4" height="8.8" fill="#e6dde2" />
<rect x="191" y="12.1" width="49.4" height="41.2" fill="#ededed" />
<line x1="195.86" y1="12.1" x2="195.86" y2="53.3" stroke="#fff" stroke-width="0.25" />
<line x1="205.18" y1="12.1" x2="205.18" y2="53.3" stroke="#fff" stroke-width="0.25" />
<line x1="214.5" y1="12.1" x2="214.5" y2="53.3" stroke="#fff" stroke-width="0.25" />
<line x1="223.82" y1="12.1" x2="223.82" y2="53.3" stroke="#fff" stroke-width="0.25" />
<line x1="233.14" y1="12.1" x2="233.14" y2="53.3" stroke="#fff" stroke-width="0.25" />
<line x1="191" y1="53.12" x2="240.4" y2="53.12" stroke="#fff" stroke-width="0.25" />
<line x1="191" y1="42.08" x2="240.4" y2="42.08" stroke="#fff" stroke-width="0.25" />
<line x1="191" y1="31.04" x2="240.4" y2="31.04" stroke="#fff" stroke-width="0.25" />
<line x1="191" y1="20" x2="240.4" y2="20" stroke="#fff" stroke-width="0.25" />
<line x1="191.2" y1="12.1" x2="191.2" y2="53.3" stroke="#fff" stroke-width="0.5" />
<line x1="200.52" y1="12.1" x2="200.52" y2="53.3" stroke="#fff" stroke-width="0.5" />
<line x1="209.84" y1="12.1" x2="209.84" y2="53.3" stroke="#fff" stroke-width="0.5" />
<line x1="219.16" y1="12.1" x2="219.16" y2="53.3" stroke="#fff" stroke-width="0.5" />
<line x1="228.48" y1="12.1" x2="228.48" y2="53.3" stroke="#fff" stroke-width="0.5" />
<line x1="237.8" y1="12.1" x2="237.8" y2="53.3" stroke="#fff" stroke-width="0.5" />
<line x1="191" y1="47.6" x2="240.4" y2="47.6" stroke="#fff" stroke-width="0.5" />
<line x1="191" y1="36.56" x2="240.4" y2="36.56" stroke="#fff" stroke-width="0.5" />
<line x1="191" y1="25.52" x2="240.4" y2="25.52" stroke="#fff" stroke-width="0.5" />
<line x1="191" y1="14.48" x2="240.4" y2="14.48" stroke="#fff" stroke-width="0.5" />
<text transform="translate(215.7 9.1) scale(0.1)" font-size="39" text-anchor="middle" fill="#111" stroke="#111" stroke-width="0.5">DLBC</text>
<path d="M218 31.1h0M219.3 25h0M217.8 27.9h0M217.7 25.8h0M221.5 30.7h0M226.3 22.2h0M227.8 18.3h0M224.2 25.2h0M214.4 32.4h0M218 28.1h0M217.9 17.2h0M211.6 29.1h0M217.9 30h0M225.8 23.4h0M213.7 30.5h0M219.5 36h0M221.7 30.5h0M216.4 28.3h0M222.2 27.1h0M217.1 28.7h0M219.9 36.2h0M211.7 38.9h0M219 30.5h0M226.1 23.1h0M230.1 17.2h0M229.8 21h0M222.7 27.3h0M219.6 34.6h0M217.3 33.2h0M216.9 25.1h0M222 21.4h0M225.4 20.2h0M226.2 25.5h0M225.1 25.2h0M217.6 24.7h0M230.3 17h0M215.8 29.5h0M222.6 24.2h0M218.6 33.6h0M220.7 23.7h0M225 21.5h0M226.7 26.6h0M220.3 26h0M226.2 22.6h0M237.8 14.5h0M237.3 15.9h0M216.4 45.7h0M217.3 38.8h0" stroke="#377eb8" stroke-width="2.5" stroke-linecap="round" fill="none"/>
<line x1="191" y1="53.3" x2="240.4" y2="53.3" stroke="#2a2a2a" stroke-width="0.8" />
<rect x="139.1" y="57.8" width="48.9" height="8.8" fill="#e6dde2" />
<rect x="139.1" y="66.6" width="48.9" height="40.4" fill="#ededed" />
<line x1="144.16" y1="66.6" x2="144.16" y2="107" stroke="#fff" stroke-width="0.25" />
<line x1="153.48" y1="66.6" x2="153.48" y2="107" stroke="#fff" stroke-width="0.25" />
<line x1="162.8" y1="66.6" x2="162.8" y2="107" stroke="#fff" stroke-width="0.25" />
<line x1="172.12" y1="66.6" x2="172.12" y2="107" stroke="#fff" stroke-width="0.25" />
<line x1="181.44" y1="66.6" x2="181.44" y2="107" stroke="#fff" stroke-width="0.25" />
<line x1="139.1" y1="96.48" x2="188" y2="96.48" stroke="#fff" stroke-width="0.25" />
<line x1="139.1" y1="85.44" x2="188" y2="85.44" stroke="#fff" stroke-width="0.25" />
<line x1="139.1" y1="74.4" x2="188" y2="74.4" stroke="#fff" stroke-width="0.25" />
<line x1="139.5" y1="66.6" x2="139.5" y2="107" stroke="#fff" stroke-width="0.5" />
<line x1="148.82" y1="66.6" x2="148.82" y2="107" stroke="#fff" stroke-width="0.5" />
<line x1="158.14" y1="66.6" x2="158.14" y2="107" stroke="#fff" stroke-width="0.5" />
<line x1="167.46" y1="66.6" x2="167.46" y2="107" stroke="#fff" stroke-width="0.5" />
<line x1="176.78" y1="66.6" x2="176.78" y2="107" stroke="#fff" stroke-width="0.5" />
<line x1="186.1" y1="66.6" x2="186.1" y2="107" stroke="#fff" stroke-width="0.5" />
<line x1="139.1" y1="102" x2="188" y2="102" stroke="#fff" stroke-width="0.5" />
<line x1="139.1" y1="90.96" x2="188" y2="90.96" stroke="#fff" stroke-width="0.5" />
<line x1="139.1" y1="79.92" x2="188" y2="79.92" stroke="#fff" stroke-width="0.5" />
<line x1="139.1" y1="68.88" x2="188" y2="68.88" stroke="#fff" stroke-width="0.5" />
<text transform="translate(163.55 63.6) scale(0.1)" font-size="39" text-anchor="middle" fill="#111" stroke="#111" stroke-width="0.5">HNSC</text>
<path d="M164.5 84.2h0M174.1 84.8h0M161.3 79.5h0M162.8 90.9h0M162.2 90.1h0M157.3 88.5h0M171.8 78.7h0M165.5 81.1h0M162.6 88.2h0M160.8 86h0M159.7 89.5h0M159.2 92.2h0M155.2 90.7h0M159.2 87.8h0M169.9 80.3h0M161.2 90h0M154.9 89.6h0M156.1 88.7h0M154.9 90.3h0M161 84h0M159 89.1h0M162.9 85.4h0M171.6 80.8h0M158.2 89.5h0M164.3 84.1h0M165.6 87.9h0M161.2 90.1h0M162.3 84.8h0M147.9 95h0M152.5 90.9h0M169.8 78.3h0M152.3 88.3h0M166.9 84.1h0M164.4 80.3h0M159.4 87.9h0M158 85.4h0M148.4 90.7h0M155.5 87.6h0M151.6 95.4h0M157.8 86.5h0M151.6 91h0M157.6 85.4h0M159.5 86.3h0M160.4 82.1h0M159.2 88h0M173.4 78.7h0M165.6 86h0M162.6 92.3h0M162 88h0M152.3 96.4h0M168.3 81h0M152.2 87.1h0M157.2 90.3h0M162.9 88.9h0M151.6 94.9h0M168.6 79.3h0M151.8 89.1h0M161.6 85h0M161.7 85.2h0M155.3 93h0M157.1 90.3h0M165.2 87.7h0M171.1 82.3h0M157.8 86.8h0M164 85.9h0M154.9 93.5h0M151.7 89.4h0M168 77h0M164.4 83.7h0M166 80.9h0M159.8 86.5h0M174.4 83.2h0M152.9 94.7h0M166 80.3h0M159.4 85.9h0M161.1 85.9h0M158.1 88.7h0M161.4 83.3h0M164.6 84.5h0M167.3 79.8h0M166.1 81.2h0M155.6 95.1h0M171.5 76.7h0M155.6 86.5h0M165.4 91h0M166.8 85.9h0M168.5 84h0M156.9 93.8h0M160.1 84.5h0M157.3 94.5h0M165.6 85.4h0M154.1 95.9h0M164.8 80.7h0M155 90.6h0M159.7 88.3h0M164.4 78.6h0M157.5 86.5h0M168 83.2h0M160.5 91h0M167.9 83.9h0M157.4 88.9h0M156.2 92.8h0M159.6 83.4h0M160.2 85.8h0M152.5 97.8h0M172.4 80.7h0M152.1 92.7h0M165.1 89.2h0M156.1 89.2h0M155.8 87.8h0M167.2 81.6h0M158.8 88.3h0M157.6 89.3h0M163.3 86.2h0M167.3 75.3h0M158.1 87.7h0M166.4 81.5h0M160 88.8h0M167.5 80.9h0M164.5 86.9h0M165.2 81.8h0M160.3 85.4h0M174.6 83.6h0M165.1 87.6h0M153.1 92.5h0M164.7 84.3h0M154.3 95.2h0M158 88.6h0M156.4 94.1h0M172.1 82.2h0M160.5 88.7h0M157.8 88.7h0M159.6 85.9h0M154.2 95.4h0M173.3 79.3h0M166.1 80.2h0M164.8 84.3h0M151.9 97.1h0M167.4 80.8h0M164.9 89.1h0M148.4 97.8h0M154.2 90.6h0M155.2 85.9h0M157.6 90.6h0M166.7 82.3h0M155.9 87.6h0M173.1 82.7h0M159.9 90.6h0M149.6 92.2h0M165.7 81h0M164 90.7h0M161.2 88.6h0M154.2 94.3h0M166.1 84.4h0M173.4 77.6h0M149.7 91.3h0M169 81.6h0M154 86.1h0M153.4 91.9h0M149.7 97.5h0M151 90h0M168.6 83.2h0M153.1 92h0M163.7 89.5h0M154.3 91.3h0M165.7 83.6h0M164.2 88.4h0M155.8 90.5h0M159.1 86.6h0M156.7 85.3h0M161.6 84.9h0M165.3 81.1h0M163.9 90.1h0M157.5 83.6h0M164.3 83.1h0M164.3 86.6h0M157.2 91.1h0M168.5 81h0M172.3 78.2h0M173 77.9h0M154.1 86.1h0M163.5 81.8h0M162.7 86.7h0M162.4 89.2h0M154 93.8h0M158.2 92.5h0M160.8 86.1h0M161.1 84.2h0M160 86.3h0M161.2 88.3h0M161.9 90.6h0M164.1 85.7h0M154.7 91.8h0M164.8 86.4h0M164.3 83h0M171 83.6h0M160.7 85.5h0M170.7 79.9h0M166.1 87.9h0M157.8 84h0M159.6 81.3h0M156.9 90.2h0M151.5 90.9h0M163 79.6h0M162.4 86.6h0M152.7 92.3h0M167.3 80.7h0M169 79.2h0M161.1 84.9h0M162.5 89.8h0M172 78.7h0M154.9 89.5h0M163.2 82.5h0M170.4 89.8h0M164.9 79.9h0M155.5 95.7h0M163.1 84.5h0M163.6 88.4h0M158.5 87.8h0M166 77.1h0M163.2 87.2h0M160.6 87.4h0M155.2 88.3h0M150.2 93.3h0M162.2 85.2h0M169.5 81.7h0M162 83.6h0M151.7 93.5h0M161.8 83.5h0M156.4 87.3h0M163.8 89.4h0M152.2 96.6h0M162.3 85.4h0M165.9 81.3h0M158 85.6h0M166.5 81.9h0M164.4 88.5h0M163.7 88.2h0M154 92.3h0M162.3 86.2h0M159.3 90.8h0M162.6 88h0M152.6 91.8h0M170.5 82h0M154.8 86.6h0M172.1 80.6h0M160.1 86.8h0M167.6 81.3h0M150 97h0M153.7 90.1h0M162.1 80.8h0M159.7 86.7h0M161.9 85.8h0M170.6 76.9h0M157.6 86.9h0M159 87.7h0M162.4 85.9h0M158.5 83.8h0M159.7 85.5h0M171.9 78h0M167.8 78.4h0M168.2 77.1h0M152.4 86.4h0M161.6 91.6h0M157.4 93.2h0M161.3 91.1h0M155.1 89.7h0M162.4 88.3h0M159.9 87.8h0M161.9 86.3h0M160 84.8h0M151.3 94.4h0M162.2 87.2h0M157.9 90h0M162.7 82h0M160.2 88.1h0M163.6 85.9h0M149.2 93.4h0M159 89.7h0M165.4 83.9h0M157.9 95.3h0M150.6 93.3h0M160.7 85.7h0M162.8 87.1h0M153.4 94.8h0M160.5 90.5h0M166.2 87.5h0M150.1 94.2h0M150.2 88.7h0M155.2 90.6h0M159.9 90h0M150.3 99.1h0M166.8 80.1h0M164.9 84.4h0M166.7 84.7h0M165.9 81h0M165.2 79.8h0M160.3 82.6h0M157 84.4h0M156.4 89.7h0M167.9 80.3h0M162 81.1h0M152.1 94.8h0M170.9 79.6h0M148.4 93.8h0M154 86.8h0M168.6 83.6h0M169.5 83.9h0M167.2 81.2h0M160.6 91.3h0M159.6 94.5h0M157.9 94.3h0M169 84.6h0M163.7 86.6h0M174.7 75.8h0M161.8 88.2h0M167.4 84.5h0M152.5 92.3h0M150.9 93.2h0M166.3 79h0M163.1 84.9h0M166.1 79.4h0M159.4 91.5h0M156.4 93.4h0M155.8 90.4h0M163.6 84.7h0M161.8 87.3h0M164.1 82.2h0M166.2 79.1h0M159.6 88.4h0M172.1 79.2h0M164 85.9h0M167.5 83.9h0M155.1 90.7h0M158.6 85.8h0M159 87.7h0M160 86.4h0M157.4 85.8h0M152.4 93.4h0M156.9 87.4h0M161.7 84.9h0M159.3 90h0M154.4 92h0M158 87.8h0M163.6 82.2h0M160.7 89.2h0M154.7 90.6h0M163.7 79.3h0M162.5 80.6h0M173.2 82.2h0M169 78.3h0M169.9 81.2h0M167.4 84.2h0M161 86.8h0M172.6 80.1h0M167.4 82.6h0M156.9 88.6h0M165.6 86h0M165.4 86.1h0M155.9 89.4h0M159.9 90.4h0M151.2 93h0M162.9 86.9h0M162.6 90.4h0M163.9 83.7h0M163.2 87.3h0M161.9 85.8h0M168.1 81.5h0M163 87.7h0M166.8 79.6h0M158.3 86.6h0M163.3 85.5h0M153.3 86.4h0M149.7 93.1h0M159 84.6h0M158.7 88.1h0M165.2 82.8h0M158.1 86.6h0M163.9 82h0M158.2 88.7h0M158.9 90.6h0M163 84.3h0M170.3 81.9h0M163.8 81.6h0M160.7 86.8h0M162.2 88.1h0M155.2 87.1h0M162.5 86.1h0M153.6 91.1h0M168.8 85.3h0M155.8 86.8h0M170.4 76.3h0M157.9 87h0M156.7 88h0M159.1 87.4h0M169.8 80.2h0M159.9 87.3h0M163.1 87h0M162.7 83.9h0M171.2 86.5h0M154 94.9h0M166.9 75.8h0M162.6 85.4h0M168.5 89.3h0M160.3 96.5h0M162.4 87.4h0M158.4 87.5h0M157.8 85.6h0M161.4 85.4h0M167.2 85.3h0M169.2 78.8h0M162.3 83.1h0M171.5 76.1h0M161.4 86.7h0M168.3 86.5h0M157.6 87.5h0M165 78.8h0M172.4 78.7h0M164.2 88.7h0M160.2 86.5h0M160 87.3h0M165.2 87h0M157.9 94h0M168.5 85.2h0M150.8 91h0M160.1 84.5h0M159.1 81.7h0M165.8 83.3h0M162.1 86.7h0M166.4 77.5h0M158.8 91.4h0M165.1 81h0M152.1 94.4h0M155.2 88.8h0M164.5 86.7h0M154.4 89h0M148.6 92.7h0M160.4 81.5h0M167.6 84.3h0M159.7 88.4h0M156.9 89.2h0M167.4 87.2h0M160 83h0M166 86h0M156.4 92.2h0M151.4 89.5h0M161.8 88.3h0M152.5 93.3h0M158.2 83.5h0M158.6 88h0M168 80.4h0M160.3 93.7h0M170.1 79.3h0M158.7 88.5h0M155.5 92.9h0M152.2 90.9h0M164.6 84h0M166.2 81.9h0M162.2 88.7h0M165.1 80.8h0M165.3 80.4h0M158.5 91.3h0M169.1 83.4h0M162.9 86.2h0M161.5 87.3h0M158.1 93.9h0M173.2 78.5h0M149.5 96.7h0M154.4 93.1h0M171.5 80.9h0M166 81.9h0M153.7 87.8h0M151 94.8h0M159.2 84.3h0M162.1 86.4h0M156.4 89.4h0M161.7 84.2h0M170 79h0M161.5 86.9h0M171.3 79.7h0M161.3 81.4h0M171.1 78.8h0M160.7 88.8h0M168 83.7h0M167.3 85.1h0M162 85h0M162.3 85.3h0M163.8 88.3h0M154.6 91.3h0M172.5 79.9h0M155.7 92.1h0M161.6 83h0M157.9 87.1h0M162.6 86.9h0M155.6 90.7h0M157 87.8h0M150.6 90.1h0M166.1 81.9h0M170.6 79h0M150.9 93h0M164.2 86.8h0M154.5 89.7h0M164.5 85.8h0M159.9 89h0M157.9 88.9h0M168 87.1h0M159.3 83.2h0M163.4 84.9h0M166.5 86.2h0M154 96.1h0M152.5 91.5h0M166.6 84.5h0M157.2 88h0M165.2 83.4h0M149.7 95.5h0M156.2 91.7h0M170.6 76.9h0M164.4 83.9h0M162.5 87.6h0M161.1 81.2h0M144.2 105.3h0M178.6 80.2h0M180 84.9h0M167.5 94.8h0M146.5 97h0" stroke="#4daf4a" stroke-width="2.5" stroke-linecap="round" fill="none"/>
<line x1="139.4" y1="66.6" x2="139.4" y2="107.3" stroke="#2a2a2a" stroke-width="0.8" />
<line x1="139.1" y1="107" x2="188" y2="107" stroke="#2a2a2a" stroke-width="0.8" />
<rect x="191" y="57.8" width="49.4" height="8.8" fill="#e6dde2" />
<rect x="191" y="66.6" width="49.4" height="40.4" fill="#ededed" />
<line x1="195.86" y1="66.6" x2="195.86" y2="107" stroke="#fff" stroke-width="0.25" />
<line x1="205.18" y1="66.6" x2="205.18" y2="107" stroke="#fff" stroke-width="0.25" />
<line x1="214.5" y1="66.6" x2="214.5" y2="107" stroke="#fff" stroke-width="0.25" />
<line x1="223.82" y1="66.6" x2="223.82" y2="107" stroke="#fff" stroke-width="0.25" />
<line x1="233.14" y1="66.6" x2="233.14" y2="107" stroke="#fff" stroke-width="0.25" />
<line x1="191" y1="96.48" x2="240.4" y2="96.48" stroke="#fff" stroke-width="0.25" />
<line x1="191" y1="85.44" x2="240.4" y2="85.44" stroke="#fff" stroke-width="0.25" />
<line x1="191" y1="74.4" x2="240.4" y2="74.4" stroke="#fff" stroke-width="0.25" />
<line x1="191.2" y1="66.6" x2="191.2" y2="107" stroke="#fff" stroke-width="0.5" />
<line x1="200.52" y1="66.6" x2="200.52" y2="107" stroke="#fff" stroke-width="0.5" />
<line x1="209.84" y1="66.6" x2="209.84" y2="107" stroke="#fff" stroke-width="0.5" />
<line x1="219.16" y1="66.6" x2="219.16" y2="107" stroke="#fff" stroke-width="0.5" />
<line x1="228.48" y1="66.6" x2="228.48" y2="107" stroke="#fff" stroke-width="0.5" />
<line x1="237.8" y1="66.6" x2="237.8" y2="107" stroke="#fff" stroke-width="0.5" />
<line x1="191" y1="102" x2="240.4" y2="102" stroke="#fff" stroke-width="0.5" />
<line x1="191" y1="90.96" x2="240.4" y2="90.96" stroke="#fff" stroke-width="0.5" />
<line x1="191" y1="79.92" x2="240.4" y2="79.92" stroke="#fff" stroke-width="0.5" />
<line x1="191" y1="68.88" x2="240.4" y2="68.88" stroke="#fff" stroke-width="0.5" />
<text transform="translate(215.7 63.6) scale(0.1)" font-size="39" text-anchor="middle" fill="#111" stroke="#111" stroke-width="0.5">READ</text>
<path d="M204.8 94.5h0M210.2 86.9h0M213.7 87.4h0M208.7 90.4h0M202.9 94.6h0M206.9 89.7h0M211.6 88.9h0M209.8 89.6h0M206.1 93h0M214.9 85.4h0M200.4 98.4h0M213.6 81.6h0M203.9 94.7h0M207.7 93.4h0M211.5 87.6h0M210.8 83.8h0M208 89h0M213.7 86.8h0M206.3 89h0M213.1 85.9h0M203.7 92.5h0M212.1 82.8h0M217.1 81.2h0M210.8 88h0M206.5 91.2h0M210.6 87h0M215 83.9h0M206.5 90.2h0M217.5 84h0M211.6 86.4h0M212.2 86h0M208.9 89.9h0M218.2 78.5h0M202.1 100.3h0M211.7 88.6h0M206.7 94.6h0M211.2 87.8h0M206.6 90h0M215.5 84.9h0M212.8 86.4h0M215.4 83.1h0M209.2 88.4h0M205.6 91h0M217.2 83.3h0M212.3 90h0M214.3 83.5h0M204.1 90.5h0M210 92.1h0M202.2 93.7h0M208 88.4h0M201.3 96.4h0M214.5 86.2h0M212.9 87h0M211.2 87.2h0M221 81.7h0M213.4 83.4h0M203.5 94.1h0M200.5 96.3h0M205.6 93.6h0M205 92.5h0M206.9 93.1h0M208.2 89.5h0M204.9 91h0M200.7 95.9h0M207.4 88.1h0M206 93.4h0M202.4 91.5h0M212.6 88.6h0M207.6 92.6h0M217.3 81.7h0M214.1 85.2h0M211.8 87.4h0M210.5 88h0M205.7 91.8h0M210.2 88.6h0M205.8 94.3h0M210.7 86.6h0M216.4 81.6h0M205.7 89.9h0M204.2 95.2h0M219.5 81.5h0M208.2 93.4h0M204.1 96h0M208.7 93.4h0M214.9 85.3h0M206.2 93.2h0M213.2 83.1h0M207.3 88.1h0M217.8 79.6h0M210.9 90.8h0M212.9 87.1h0M210.4 92h0M207.9 90.1h0M204.5 92.9h0M218.1 81.4h0M205.8 87.8h0M211.5 88.6h0M213.7 87.1h0M217 81.8h0M215.6 86.9h0M209.4 86.3h0M209.4 89h0M206.1 90h0M205.7 92.2h0M218.7 81.3h0M210.5 92.5h0M209.2 85.5h0M201.6 100.5h0M208.5 91h0M208.3 92.6h0M202.3 97.7h0M212.7 86.5h0M213.7 87.7h0M212.5 87.5h0M209.8 87.1h0M209.5 89.8h0M200.7 96.6h0M213.5 87h0M209 93h0M202.4 94.5h0M229.9 84.1h0M216.4 94h0M223.4 79.9h0" stroke="#984ea3" stroke-width="2.5" stroke-linecap="round" fill="none"/>
<line x1="191" y1="107" x2="240.4" y2="107" stroke="#2a2a2a" stroke-width="0.8" />
<text transform="translate(139.5 113.9) scale(0.1)" font-size="39" text-anchor="middle" fill="#222" stroke="#222" stroke-width="1.1">6</text>
<line x1="139.5" y1="107" x2="139.5" y2="108" stroke="#333" stroke-width="0.4" />
<text transform="translate(148.82 113.9) scale(0.1)" font-size="39" text-anchor="middle" fill="#222" stroke="#222" stroke-width="1.1">8</text>
<line x1="148.82" y1="107" x2="148.82" y2="108" stroke="#333" stroke-width="0.4" />
<text transform="translate(158.14 113.9) scale(0.1)" font-size="39" text-anchor="middle" fill="#222" stroke="#222" stroke-width="1.1">10</text>
<line x1="158.14" y1="107" x2="158.14" y2="108" stroke="#333" stroke-width="0.4" />
<text transform="translate(167.46 113.9) scale(0.1)" font-size="39" text-anchor="middle" fill="#222" stroke="#222" stroke-width="1.1">12</text>
<line x1="167.46" y1="107" x2="167.46" y2="108" stroke="#333" stroke-width="0.4" />
<text transform="translate(176.78 113.9) scale(0.1)" font-size="39" text-anchor="middle" fill="#222" stroke="#222" stroke-width="1.1">14</text>
<line x1="176.78" y1="107" x2="176.78" y2="108" stroke="#333" stroke-width="0.4" />
<text transform="translate(186.1 113.9) scale(0.1)" font-size="39" text-anchor="middle" fill="#222" stroke="#222" stroke-width="1.1">16</text>
<line x1="186.1" y1="107" x2="186.1" y2="108" stroke="#333" stroke-width="0.4" />
<text transform="translate(191.2 113.9) scale(0.1)" font-size="39" text-anchor="middle" fill="#222" stroke="#222" stroke-width="1.1">6</text>
<line x1="191.2" y1="107" x2="191.2" y2="108" stroke="#333" stroke-width="0.4" />
<text transform="translate(200.52 113.9) scale(0.1)" font-size="39" text-anchor="middle" fill="#222" stroke="#222" stroke-width="1.1">8</text>
<line x1="200.52" y1="107" x2="200.52" y2="108" stroke="#333" stroke-width="0.4" />
<text transform="translate(209.84 113.9) scale(0.1)" font-size="39" text-anchor="middle" fill="#222" stroke="#222" stroke-width="1.1">10</text>
<line x1="209.84" y1="107" x2="209.84" y2="108" stroke="#333" stroke-width="0.4" />
<text transform="translate(219.16 113.9) scale(0.1)" font-size="39" text-anchor="middle" fill="#222" stroke="#222" stroke-width="1.1">12</text>
<line x1="219.16" y1="107" x2="219.16" y2="108" stroke="#333" stroke-width="0.4" />
<text transform="translate(228.48 113.9) scale(0.1)" font-size="39" text-anchor="middle" fill="#222" stroke="#222" stroke-width="1.1">14</text>
<line x1="228.48" y1="107" x2="228.48" y2="108" stroke="#333" stroke-width="0.4" />
<text transform="translate(237.8 113.9) scale(0.1)" font-size="39" text-anchor="middle" fill="#222" stroke="#222" stroke-width="1.1">16</text>
<line x1="237.8" y1="107" x2="237.8" y2="108" stroke="#333" stroke-width="0.4" />
<text transform="translate(190.6 119.7) scale(0.1)" font-size="37" text-anchor="middle" font-weight="bold" stroke="#000" stroke-width="1.2" >CD14</text>
<text transform="translate(125.4 55.2) rotate(-90) scale(0.1)" font-size="39" text-anchor="middle" font-weight="bold" stroke="#000" stroke-width="1.2" >CD163</text>
<rect x="245.1" y="37.6" width="3.4" height="40.4" fill="#f2f2f2" />
<circle cx="246.8" cy="42.5" r="1.2" fill="#e41a1c" />
<text transform="translate(249.6 43.65) scale(0.1)" font-size="33" text-anchor="start" fill="#222" stroke="#222" stroke-width="1.1">COAD</text>
<circle cx="246.8" cy="52.6" r="1.2" fill="#377eb8" />
<text transform="translate(249.6 53.75) scale(0.1)" font-size="33" text-anchor="start" fill="#222" stroke="#222" stroke-width="1.1">DLBC</text>
<circle cx="246.8" cy="62.7" r="1.2" fill="#4daf4a" />
<text transform="translate(249.6 63.85) scale(0.1)" font-size="33" text-anchor="start" fill="#222" stroke="#222" stroke-width="1.1">HNSC</text>
<circle cx="246.8" cy="73" r="1.2" fill="#984ea3" />
<text transform="translate(249.6 74.15) scale(0.1)" font-size="33" text-anchor="start" fill="#222" stroke="#222" stroke-width="1.1">READ</text>
<line x1="29.3" y1="252.45" x2="94.17" y2="252.45" stroke="#333" stroke-width="0.55" stroke-dasharray="0.7 0.5"/>
<path d="M42.28 253.39 L43.14 253.23 L44.01 253.06 L44.87 252.9 L45.73 252.73 L46.6 252.57 L47.47 252.4 L48.33 252.24 L49.2 252.07 L50.06 251.91 L50.93 251.75 L51.79 251.58 L52.66 251.42 L53.52 251.25 L54.39 251.09 L55.25 250.92 L56.12 250.76 L56.98 250.59 L57.85 250.43 L58.71 250.26 L59.58 250.1 L60.44 249.91 L61.31 249.72 L62.17 249.54 L63.04 249.35 L63.9 249.16 L64.77 248.97 L65.63 248.78 L66.5 248.6 L67.36 248.41 L68.23 248.22 L69.09 248.03 L69.96 247.84 L70.82 247.66 L71.69 247.47 L72.55 247.28 L73.42 247.09 L74.28 246.9 L75.15 246.72 L76.01 246.53 L76.88 246.34 L77.74 246.13 L78.61 245.92 L79.47 245.71 L80.34 245.49 L81.2 245.28 L82.07 245.07 L82.93 244.86 L83.8 244.65 L84.66 244.44 L85.53 244.22 L86.39 244.01 L87.26 243.8 L88.12 243.59 L88.98 243.38 L89.85 243.17 L90.72 242.96 L91.58 242.74 L92.45 242.53 L93.31 242.32 L94.17 242.11" fill="none" stroke="#4fc3f7" stroke-width="1.2" stroke-linejoin="round"/>
<line x1="42.28" y1="251.98" x2="42.28" y2="254.8" stroke="#4fc3f7" stroke-width="0.65" />
<line x1="40.88" y1="251.98" x2="43.68" y2="251.98" stroke="#4fc3f7" stroke-width="0.65" />
<line x1="40.88" y1="254.8" x2="43.68" y2="254.8" stroke="#4fc3f7" stroke-width="0.65" />
<rect x="41.38" y="252.49" width="1.8" height="1.8" fill="#4fc3f7" />
<line x1="59.58" y1="248.22" x2="59.58" y2="251.98" stroke="#4fc3f7" stroke-width="0.65" />
<line x1="58.18" y1="248.22" x2="60.98" y2="248.22" stroke="#4fc3f7" stroke-width="0.65" />
<line x1="58.18" y1="251.98" x2="60.98" y2="251.98" stroke="#4fc3f7" stroke-width="0.65" />
<rect x="58.68" y="249.2" width="1.8" height="1.8" fill="#4fc3f7" />
<line x1="76.88" y1="245.4" x2="76.88" y2="247.28" stroke="#4fc3f7" stroke-width="0.65" />
<line x1="75.47" y1="245.4" x2="78.28" y2="245.4" stroke="#4fc3f7" stroke-width="0.65" />
<line x1="75.47" y1="247.28" x2="78.28" y2="247.28" stroke="#4fc3f7" stroke-width="0.65" />
<rect x="75.97" y="245.44" width="1.8" height="1.8" fill="#4fc3f7" />
<line x1="94.17" y1="240.23" x2="94.17" y2="243.99" stroke="#4fc3f7" stroke-width="0.65" />
<line x1="92.77" y1="240.23" x2="95.58" y2="240.23" stroke="#4fc3f7" stroke-width="0.65" />
<line x1="92.77" y1="243.99" x2="95.58" y2="243.99" stroke="#4fc3f7" stroke-width="0.65" />
<rect x="93.27" y="241.21" width="1.8" height="1.8" fill="#4fc3f7" />
<path d="M42.28 249.62 L43.14 249.62 L44.01 249.61 L44.87 249.61 L45.73 249.6 L46.6 249.59 L47.47 249.58 L48.33 249.57 L49.2 249.55 L50.06 249.53 L50.93 249.5 L51.79 249.47 L52.66 249.42 L53.52 249.37 L54.39 249.29 L55.25 249.2 L56.12 249.07 L56.98 248.92 L57.85 248.73 L58.71 248.49 L59.58 248.19 L60.44 247.82 L61.31 247.38 L62.17 246.85 L63.04 246.22 L63.9 245.5 L64.77 244.69 L65.63 243.8 L66.5 242.85 L67.36 241.88 L68.23 240.9 L69.09 239.95 L69.96 239.06 L70.82 238.25 L71.69 237.53 L72.55 236.9 L73.42 236.37 L74.28 235.93 L75.15 235.56 L76.01 235.26 L76.88 235.02 L77.74 234.83 L78.61 234.68 L79.47 234.55 L80.34 234.46 L81.2 234.38 L82.07 234.33 L82.93 234.28 L83.8 234.25 L84.66 234.22 L85.53 234.2 L86.39 234.18 L87.26 234.17 L88.12 234.16 L88.98 234.15 L89.85 234.14 L90.72 234.14 L91.58 234.13 L92.45 234.13 L93.31 234.13 L94.17 234.13" fill="none" stroke="#e8571c" stroke-width="1.2" stroke-linejoin="round"/>
<line x1="42.28" y1="248.69" x2="42.28" y2="250.57" stroke="#e8571c" stroke-width="0.65" />
<line x1="40.88" y1="248.69" x2="43.68" y2="248.69" stroke="#e8571c" stroke-width="0.65" />
<line x1="40.88" y1="250.57" x2="43.68" y2="250.57" stroke="#e8571c" stroke-width="0.65" />
<path d="M42.28 248.43L43.48 250.53L41.08 250.53Z" fill="#e8571c"/>
<line x1="59.58" y1="247.28" x2="59.58" y2="250.1" stroke="#e8571c" stroke-width="0.65" />
<line x1="58.18" y1="247.28" x2="60.98" y2="247.28" stroke="#e8571c" stroke-width="0.65" />
<line x1="58.18" y1="250.1" x2="60.98" y2="250.1" stroke="#e8571c" stroke-width="0.65" />
<path d="M59.58 247.49L60.78 249.59L58.38 249.59Z" fill="#e8571c"/>
<line x1="76.88" y1="233.65" x2="76.88" y2="235.53" stroke="#e8571c" stroke-width="0.65" />
<line x1="75.47" y1="233.65" x2="78.28" y2="233.65" stroke="#e8571c" stroke-width="0.65" />
<line x1="75.47" y1="235.53" x2="78.28" y2="235.53" stroke="#e8571c" stroke-width="0.65" />
<path d="M76.88 233.39L78.08 235.49L75.67 235.49Z" fill="#e8571c"/>
<line x1="94.17" y1="233.18" x2="94.17" y2="235.06" stroke="#e8571c" stroke-width="0.65" />
<line x1="92.77" y1="233.18" x2="95.58" y2="233.18" stroke="#e8571c" stroke-width="0.65" />
<line x1="92.77" y1="235.06" x2="95.58" y2="235.06" stroke="#e8571c" stroke-width="0.65" />
<path d="M94.17 232.92L95.38 235.02L92.97 235.02Z" fill="#e8571c"/>
<path d="M42.28 251.51 L43.14 251.51 L44.01 251.51 L44.87 251.51 L45.73 251.51 L46.6 251.51 L47.47 251.51 L48.33 251.51 L49.2 251.51 L50.06 251.5 L50.93 251.5 L51.79 251.48 L52.66 251.46 L53.52 251.4 L54.39 251.3 L55.25 251.1 L56.12 250.7 L56.98 249.97 L57.85 248.69 L58.71 246.65 L59.58 243.91 L60.44 240.9 L61.31 238.27 L62.17 236.39 L63.04 235.24 L63.9 234.59 L64.77 234.25 L65.63 234.07 L66.5 233.98 L67.36 233.93 L68.23 233.91 L69.09 233.9 L69.96 233.89 L70.82 233.89 L71.69 233.89 L72.55 233.89 L73.42 233.89 L74.28 233.89 L75.15 233.89 L76.01 233.89 L76.88 233.89 L77.74 233.89 L78.61 233.89 L79.47 233.89 L80.34 233.89 L81.2 233.89 L82.07 233.89 L82.93 233.89 L83.8 233.89 L84.66 233.89 L85.53 233.89 L86.39 233.89 L87.26 233.89 L88.12 233.89 L88.98 233.89 L89.85 233.89 L90.72 233.89 L91.58 233.89 L92.45 233.89 L93.31 233.89 L94.17 233.89" fill="none" stroke="#1db283" stroke-width="1.2" stroke-linejoin="round"/>
<line x1="42.28" y1="250.57" x2="42.28" y2="252.45" stroke="#1db283" stroke-width="0.65" />
<line x1="40.88" y1="250.57" x2="43.68" y2="250.57" stroke="#1db283" stroke-width="0.65" />
<line x1="40.88" y1="252.45" x2="43.68" y2="252.45" stroke="#1db283" stroke-width="0.65" />
<circle cx="42.28" cy="251.51" r="1" fill="#1db283" />
<line x1="59.58" y1="241.17" x2="59.58" y2="248.69" stroke="#1db283" stroke-width="0.65" />
<line x1="58.18" y1="241.17" x2="60.98" y2="241.17" stroke="#1db283" stroke-width="0.65" />
<line x1="58.18" y1="248.69" x2="60.98" y2="248.69" stroke="#1db283" stroke-width="0.65" />
<circle cx="59.58" cy="244.93" r="1" fill="#1db283" />
<line x1="76.88" y1="231.3" x2="76.88" y2="236" stroke="#1db283" stroke-width="0.65" />
<line x1="75.47" y1="231.3" x2="78.28" y2="231.3" stroke="#1db283" stroke-width="0.65" />
<line x1="75.47" y1="236" x2="78.28" y2="236" stroke="#1db283" stroke-width="0.65" />
<circle cx="76.88" cy="233.65" r="1" fill="#1db283" />
<line x1="94.17" y1="231.77" x2="94.17" y2="236.47" stroke="#1db283" stroke-width="0.65" />
<line x1="92.77" y1="231.77" x2="95.58" y2="231.77" stroke="#1db283" stroke-width="0.65" />
<line x1="92.77" y1="236.47" x2="95.58" y2="236.47" stroke="#1db283" stroke-width="0.65" />
<circle cx="94.17" cy="234.12" r="1" fill="#1db283" />
<line x1="94.17" y1="226.6" x2="94.17" y2="229.42" stroke="#555" stroke-width="0.55" />
<line x1="92.97" y1="226.6" x2="95.38" y2="226.6" stroke="#555" stroke-width="0.55" />
<line x1="92.97" y1="229.42" x2="95.38" y2="229.42" stroke="#555" stroke-width="0.55" />
<path d="M94.17 226.71L95.27 228.01L94.17 229.31L93.08 228.01Z" fill="none" stroke="#555" stroke-width="0.4"/>
<line x1="94.17" y1="229.42" x2="94.17" y2="231.3" stroke="#555" stroke-width="0.55" />
<line x1="92.97" y1="229.42" x2="95.38" y2="229.42" stroke="#555" stroke-width="0.55" />
<line x1="92.97" y1="231.3" x2="95.38" y2="231.3" stroke="#555" stroke-width="0.55" />
<rect x="93.33" y="229.51" width="1.7" height="1.7" fill="#555" />
<line x1="94.17" y1="250.1" x2="94.17" y2="252.92" stroke="#222" stroke-width="0.55" />
<line x1="92.97" y1="250.1" x2="95.38" y2="250.1" stroke="#222" stroke-width="0.55" />
<line x1="92.97" y1="252.92" x2="95.38" y2="252.92" stroke="#222" stroke-width="0.55" />
<circle cx="94.17" cy="251.51" r="0.95" fill="#222" />
<line x1="94.17" y1="253.86" x2="94.17" y2="255.74" stroke="#222" stroke-width="0.55" />
<line x1="92.97" y1="253.86" x2="95.38" y2="253.86" stroke="#222" stroke-width="0.55" />
<line x1="92.97" y1="255.74" x2="95.38" y2="255.74" stroke="#222" stroke-width="0.55" />
<rect x="93.33" y="253.95" width="1.7" height="1.7" fill="#222" />
<line x1="94.17" y1="255.74" x2="94.17" y2="257.62" stroke="#222" stroke-width="0.55" />
<line x1="92.97" y1="255.74" x2="95.38" y2="255.74" stroke="#222" stroke-width="0.55" />
<line x1="92.97" y1="257.62" x2="95.38" y2="257.62" stroke="#222" stroke-width="0.55" />
<path d="M94.17 255.58L95.27 257.58L93.08 257.58Z" fill="#222"/>
<line x1="29.3" y1="212.2" x2="29.3" y2="264.3" stroke="#000" stroke-width="0.75" />
<line x1="28.95" y1="264.3" x2="106.58" y2="264.3" stroke="#000" stroke-width="0.75" />
<line x1="26.9" y1="259.5" x2="29.3" y2="259.5" stroke="#000" stroke-width="0.6" />
<text transform="translate(25.4 260.9) scale(0.1)" font-size="39" text-anchor="end" stroke="#000" stroke-width="0.5">0</text>
<line x1="26.9" y1="250.1" x2="29.3" y2="250.1" stroke="#000" stroke-width="0.6" />
<text transform="translate(25.4 251.5) scale(0.1)" font-size="39" text-anchor="end" stroke="#000" stroke-width="0.5">20</text>
<line x1="26.9" y1="240.7" x2="29.3" y2="240.7" stroke="#000" stroke-width="0.6" />
<text transform="translate(25.4 242.1) scale(0.1)" font-size="39" text-anchor="end" stroke="#000" stroke-width="0.5">40</text>
<line x1="26.9" y1="231.3" x2="29.3" y2="231.3" stroke="#000" stroke-width="0.6" />
<text transform="translate(25.4 232.7) scale(0.1)" font-size="39" text-anchor="end" stroke="#000" stroke-width="0.5">60</text>
<line x1="26.9" y1="221.9" x2="29.3" y2="221.9" stroke="#000" stroke-width="0.6" />
<text transform="translate(25.4 223.3) scale(0.1)" font-size="39" text-anchor="end" stroke="#000" stroke-width="0.5">80</text>
<line x1="26.9" y1="212.5" x2="29.3" y2="212.5" stroke="#000" stroke-width="0.6" />
<text transform="translate(25.4 213.9) scale(0.1)" font-size="39" text-anchor="end" stroke="#000" stroke-width="0.5">100</text>
<line x1="37.09" y1="264.3" x2="37.09" y2="266.5" stroke="#000" stroke-width="0.6" />
<text transform="translate(37.09 271.7) scale(0.1)" font-size="39" text-anchor="middle" stroke="#000" stroke-width="0.5">-2</text>
<line x1="54.39" y1="264.3" x2="54.39" y2="266.5" stroke="#000" stroke-width="0.6" />
<text transform="translate(54.39 271.7) scale(0.1)" font-size="39" text-anchor="middle" stroke="#000" stroke-width="0.5">-1</text>
<line x1="71.69" y1="264.3" x2="71.69" y2="266.5" stroke="#000" stroke-width="0.6" />
<text transform="translate(71.69 271.7) scale(0.1)" font-size="39" text-anchor="middle" stroke="#000" stroke-width="0.5">0</text>
<line x1="88.98" y1="264.3" x2="88.98" y2="266.5" stroke="#000" stroke-width="0.6" />
<text transform="translate(88.98 271.7) scale(0.1)" font-size="39" text-anchor="middle" stroke="#000" stroke-width="0.5">1</text>
<line x1="106.28" y1="264.3" x2="106.28" y2="266.5" stroke="#000" stroke-width="0.6" />
<text transform="translate(106.28 271.7) scale(0.1)" font-size="39" text-anchor="middle" stroke="#000" stroke-width="0.5">2</text>
<text transform="translate(67.79 203.9) scale(0.1)" font-size="39" text-anchor="middle" font-weight="bold" stroke="#000" stroke-width="1.2" >SW480 KRAS mutant</text>
<text transform="translate(67.79 209) scale(0.1)" font-size="39" text-anchor="middle" font-weight="bold" stroke="#000" stroke-width="1.2" >(Donor 336 macrophages)</text>
<text transform="translate(67.79 278) scale(0.1)" font-size="39" text-anchor="middle" font-weight="bold" stroke="#000" stroke-width="1.2" >log (nmol/L) antibody</text>
<text transform="translate(8 236) rotate(-90) scale(0.1)" font-size="40.5" text-anchor="middle" font-weight="bold" stroke="#000" stroke-width="1.2" >Phagocytotic</text>
<text transform="translate(12.4 236) rotate(-90) scale(0.1)" font-size="40.5" text-anchor="middle" font-weight="bold" stroke="#000" stroke-width="1.2" >macrophages (%)</text>
<line x1="129.3" y1="245.4" x2="194.18" y2="245.4" stroke="#333" stroke-width="0.55" stroke-dasharray="0.7 0.5"/>
<path d="M142.28 254.8 L143.14 254.8 L144.01 254.8 L144.87 254.8 L145.74 254.8 L146.6 254.8 L147.47 254.8 L148.33 254.8 L149.2 254.8 L150.06 254.8 L150.93 254.8 L151.79 254.8 L152.66 254.8 L153.52 254.8 L154.39 254.8 L155.25 254.8 L156.12 254.8 L156.98 254.8 L157.85 254.8 L158.71 254.8 L159.58 254.8 L160.44 254.81 L161.31 254.82 L162.17 254.84 L163.04 254.85 L163.9 254.86 L164.77 254.87 L165.63 254.88 L166.5 254.89 L167.36 254.91 L168.23 254.92 L169.09 254.93 L169.96 254.94 L170.82 254.95 L171.69 254.96 L172.55 254.98 L173.42 254.99 L174.28 255 L175.15 255.01 L176.01 255.02 L176.88 255.03 L177.74 255.02 L178.61 255.01 L179.47 255 L180.34 254.99 L181.2 254.98 L182.07 254.96 L182.93 254.95 L183.8 254.94 L184.66 254.93 L185.53 254.92 L186.39 254.91 L187.26 254.89 L188.12 254.88 L188.99 254.87 L189.85 254.86 L190.72 254.85 L191.58 254.84 L192.45 254.82 L193.31 254.81 L194.18 254.8" fill="none" stroke="#4fc3f7" stroke-width="1.2" stroke-linejoin="round"/>
<line x1="142.28" y1="253.86" x2="142.28" y2="255.74" stroke="#4fc3f7" stroke-width="0.65" />
<line x1="140.88" y1="253.86" x2="143.68" y2="253.86" stroke="#4fc3f7" stroke-width="0.65" />
<line x1="140.88" y1="255.74" x2="143.68" y2="255.74" stroke="#4fc3f7" stroke-width="0.65" />
<rect x="141.38" y="253.9" width="1.8" height="1.8" fill="#4fc3f7" />
<line x1="159.58" y1="253.86" x2="159.58" y2="255.74" stroke="#4fc3f7" stroke-width="0.65" />
<line x1="158.18" y1="253.86" x2="160.98" y2="253.86" stroke="#4fc3f7" stroke-width="0.65" />
<line x1="158.18" y1="255.74" x2="160.98" y2="255.74" stroke="#4fc3f7" stroke-width="0.65" />
<rect x="158.68" y="253.9" width="1.8" height="1.8" fill="#4fc3f7" />
<line x1="176.88" y1="254.56" x2="176.88" y2="255.5" stroke="#4fc3f7" stroke-width="0.65" />
<line x1="175.47" y1="254.56" x2="178.28" y2="254.56" stroke="#4fc3f7" stroke-width="0.65" />
<line x1="175.47" y1="255.5" x2="178.28" y2="255.5" stroke="#4fc3f7" stroke-width="0.65" />
<rect x="175.97" y="254.13" width="1.8" height="1.8" fill="#4fc3f7" />
<line x1="194.18" y1="253.86" x2="194.18" y2="255.74" stroke="#4fc3f7" stroke-width="0.65" />
<line x1="192.78" y1="253.86" x2="195.58" y2="253.86" stroke="#4fc3f7" stroke-width="0.65" />
<line x1="192.78" y1="255.74" x2="195.58" y2="255.74" stroke="#4fc3f7" stroke-width="0.65" />
<rect x="193.28" y="253.9" width="1.8" height="1.8" fill="#4fc3f7" />
<path d="M142.28 246.81 L143.14 246.86 L144.01 246.9 L144.87 246.95 L145.74 247 L146.6 247.04 L147.47 247.09 L148.33 247.14 L149.2 247.19 L150.06 247.23 L150.93 247.28 L151.79 247.33 L152.66 247.37 L153.52 247.42 L154.39 247.47 L155.25 247.51 L156.12 247.56 L156.98 247.61 L157.85 247.66 L158.71 247.7 L159.58 247.75 L160.44 247.82 L161.31 247.89 L162.17 247.96 L163.04 248.03 L163.9 248.1 L164.77 248.17 L165.63 248.24 L166.5 248.31 L167.36 248.38 L168.23 248.46 L169.09 248.53 L169.96 248.6 L170.82 248.67 L171.69 248.74 L172.55 248.81 L173.42 248.88 L174.28 248.95 L175.15 249.02 L176.01 249.09 L176.88 249.16 L177.74 249.16 L178.61 249.16 L179.47 249.16 L180.34 249.16 L181.2 249.16 L182.07 249.16 L182.93 249.16 L183.8 249.16 L184.66 249.16 L185.53 249.16 L186.39 249.16 L187.26 249.16 L188.12 249.16 L188.99 249.16 L189.85 249.16 L190.72 249.16 L191.58 249.16 L192.45 249.16 L193.31 249.16 L194.18 249.16" fill="none" stroke="#e8571c" stroke-width="1.2" stroke-linejoin="round"/>
<line x1="142.28" y1="245.4" x2="142.28" y2="248.22" stroke="#e8571c" stroke-width="0.65" />
<line x1="140.88" y1="245.4" x2="143.68" y2="245.4" stroke="#e8571c" stroke-width="0.65" />
<line x1="140.88" y1="248.22" x2="143.68" y2="248.22" stroke="#e8571c" stroke-width="0.65" />
<path d="M142.28 245.61L143.47 247.71L141.08 247.71Z" fill="#e8571c"/>
<line x1="159.58" y1="247.28" x2="159.58" y2="248.22" stroke="#e8571c" stroke-width="0.65" />
<line x1="158.18" y1="247.28" x2="160.98" y2="247.28" stroke="#e8571c" stroke-width="0.65" />
<line x1="158.18" y1="248.22" x2="160.98" y2="248.22" stroke="#e8571c" stroke-width="0.65" />
<path d="M159.58 246.55L160.78 248.65L158.38 248.65Z" fill="#e8571c"/>
<line x1="176.88" y1="250.1" x2="176.88" y2="251.98" stroke="#e8571c" stroke-width="0.65" />
<line x1="175.47" y1="250.1" x2="178.28" y2="250.1" stroke="#e8571c" stroke-width="0.65" />
<line x1="175.47" y1="251.98" x2="178.28" y2="251.98" stroke="#e8571c" stroke-width="0.65" />
<path d="M176.88 249.84L178.07 251.94L175.68 251.94Z" fill="#e8571c"/>
<line x1="194.18" y1="247.28" x2="194.18" y2="251.04" stroke="#e8571c" stroke-width="0.65" />
<line x1="192.78" y1="247.28" x2="195.58" y2="247.28" stroke="#e8571c" stroke-width="0.65" />
<line x1="192.78" y1="251.04" x2="195.58" y2="251.04" stroke="#e8571c" stroke-width="0.65" />
<path d="M194.18 247.96L195.38 250.06L192.98 250.06Z" fill="#e8571c"/>
<path d="M142.28 246.34 L143.14 246.33 L144.01 246.32 L144.87 246.3 L145.74 246.29 L146.6 246.28 L147.47 246.27 L148.33 246.26 L149.2 246.25 L150.06 246.23 L150.93 246.22 L151.79 246.21 L152.66 246.2 L153.52 246.19 L154.39 246.18 L155.25 246.16 L156.12 246.15 L156.98 246.14 L157.85 246.13 L158.71 246.12 L159.58 246.1 L160.44 246.14 L161.31 246.18 L162.17 246.21 L163.04 246.25 L163.9 246.28 L164.77 246.32 L165.63 246.35 L166.5 246.39 L167.36 246.42 L168.23 246.46 L169.09 246.49 L169.96 246.53 L170.82 246.56 L171.69 246.6 L172.55 246.63 L173.42 246.67 L174.28 246.7 L175.15 246.74 L176.01 246.77 L176.88 246.81 L177.74 246.79 L178.61 246.76 L179.47 246.74 L180.34 246.72 L181.2 246.69 L182.07 246.67 L182.93 246.65 L183.8 246.62 L184.66 246.6 L185.53 246.57 L186.39 246.55 L187.26 246.53 L188.12 246.5 L188.99 246.48 L189.85 246.46 L190.72 246.43 L191.58 246.41 L192.45 246.39 L193.31 246.36 L194.18 246.34" fill="none" stroke="#1db283" stroke-width="1.2" stroke-linejoin="round"/>
<line x1="142.28" y1="246.34" x2="142.28" y2="248.22" stroke="#1db283" stroke-width="0.65" />
<line x1="140.88" y1="246.34" x2="143.68" y2="246.34" stroke="#1db283" stroke-width="0.65" />
<line x1="140.88" y1="248.22" x2="143.68" y2="248.22" stroke="#1db283" stroke-width="0.65" />
<circle cx="142.28" cy="247.28" r="1" fill="#1db283" />
<line x1="159.58" y1="245.4" x2="159.58" y2="246.34" stroke="#1db283" stroke-width="0.65" />
<line x1="158.18" y1="245.4" x2="160.98" y2="245.4" stroke="#1db283" stroke-width="0.65" />
<line x1="158.18" y1="246.34" x2="160.98" y2="246.34" stroke="#1db283" stroke-width="0.65" />
<circle cx="159.58" cy="245.87" r="1" fill="#1db283" />
<line x1="176.88" y1="246.81" x2="176.88" y2="248.69" stroke="#1db283" stroke-width="0.65" />
<line x1="175.47" y1="246.81" x2="178.28" y2="246.81" stroke="#1db283" stroke-width="0.65" />
<line x1="175.47" y1="248.69" x2="178.28" y2="248.69" stroke="#1db283" stroke-width="0.65" />
<circle cx="176.88" cy="247.75" r="1" fill="#1db283" />
<line x1="194.18" y1="242.58" x2="194.18" y2="248.22" stroke="#1db283" stroke-width="0.65" />
<line x1="192.78" y1="242.58" x2="195.58" y2="242.58" stroke="#1db283" stroke-width="0.65" />
<line x1="192.78" y1="248.22" x2="195.58" y2="248.22" stroke="#1db283" stroke-width="0.65" />
<circle cx="194.18" cy="245.4" r="1" fill="#1db283" />
<line x1="194.18" y1="250.57" x2="194.18" y2="252.45" stroke="#555" stroke-width="0.55" />
<line x1="192.98" y1="250.57" x2="195.38" y2="250.57" stroke="#555" stroke-width="0.55" />
<line x1="192.98" y1="252.45" x2="195.38" y2="252.45" stroke="#555" stroke-width="0.55" />
<rect x="193.33" y="250.66" width="1.7" height="1.7" fill="#555" />
<line x1="194.18" y1="255.74" x2="194.18" y2="257.62" stroke="#555" stroke-width="0.55" />
<line x1="192.98" y1="255.74" x2="195.38" y2="255.74" stroke="#555" stroke-width="0.55" />
<line x1="192.98" y1="257.62" x2="195.38" y2="257.62" stroke="#555" stroke-width="0.55" />
<path d="M194.18 255.58L195.28 257.58L193.08 257.58Z" fill="#555"/>
<line x1="129.3" y1="212.2" x2="129.3" y2="264.3" stroke="#000" stroke-width="0.75" />
<line x1="128.95" y1="264.3" x2="206.59" y2="264.3" stroke="#000" stroke-width="0.75" />
<line x1="126.9" y1="259.5" x2="129.3" y2="259.5" stroke="#000" stroke-width="0.6" />
<text transform="translate(125.4 260.9) scale(0.1)" font-size="39" text-anchor="end" stroke="#000" stroke-width="0.5">0</text>
<line x1="126.9" y1="250.1" x2="129.3" y2="250.1" stroke="#000" stroke-width="0.6" />
<text transform="translate(125.4 251.5) scale(0.1)" font-size="39" text-anchor="end" stroke="#000" stroke-width="0.5">20</text>
<line x1="126.9" y1="240.7" x2="129.3" y2="240.7" stroke="#000" stroke-width="0.6" />
<text transform="translate(125.4 242.1) scale(0.1)" font-size="39" text-anchor="end" stroke="#000" stroke-width="0.5">40</text>
<line x1="126.9" y1="231.3" x2="129.3" y2="231.3" stroke="#000" stroke-width="0.6" />
<text transform="translate(125.4 232.7) scale(0.1)" font-size="39" text-anchor="end" stroke="#000" stroke-width="0.5">60</text>
<line x1="126.9" y1="221.9" x2="129.3" y2="221.9" stroke="#000" stroke-width="0.6" />
<text transform="translate(125.4 223.3) scale(0.1)" font-size="39" text-anchor="end" stroke="#000" stroke-width="0.5">80</text>
<line x1="126.9" y1="212.5" x2="129.3" y2="212.5" stroke="#000" stroke-width="0.6" />
<text transform="translate(125.4 213.9) scale(0.1)" font-size="39" text-anchor="end" stroke="#000" stroke-width="0.5">100</text>
<line x1="137.09" y1="264.3" x2="137.09" y2="266.5" stroke="#000" stroke-width="0.6" />
<text transform="translate(137.09 271.7) scale(0.1)" font-size="39" text-anchor="middle" stroke="#000" stroke-width="0.5">-2</text>
<line x1="154.39" y1="264.3" x2="154.39" y2="266.5" stroke="#000" stroke-width="0.6" />
<text transform="translate(154.39 271.7) scale(0.1)" font-size="39" text-anchor="middle" stroke="#000" stroke-width="0.5">-1</text>
<line x1="171.69" y1="264.3" x2="171.69" y2="266.5" stroke="#000" stroke-width="0.6" />
<text transform="translate(171.69 271.7) scale(0.1)" font-size="39" text-anchor="middle" stroke="#000" stroke-width="0.5">0</text>
<line x1="188.99" y1="264.3" x2="188.99" y2="266.5" stroke="#000" stroke-width="0.6" />
<text transform="translate(188.99 271.7) scale(0.1)" font-size="39" text-anchor="middle" stroke="#000" stroke-width="0.5">1</text>
<line x1="206.29" y1="264.3" x2="206.29" y2="266.5" stroke="#000" stroke-width="0.6" />
<text transform="translate(206.29 271.7) scale(0.1)" font-size="39" text-anchor="middle" stroke="#000" stroke-width="0.5">2</text>
<text transform="translate(167.79 203.9) scale(0.1)" font-size="39" text-anchor="middle" font-weight="bold" stroke="#000" stroke-width="1.2" >HCT-116 KRAS mutant</text>
<text transform="translate(167.79 209) scale(0.1)" font-size="39" text-anchor="middle" font-weight="bold" stroke="#000" stroke-width="1.2" >(Donor 358 macrophages)</text>
<text transform="translate(167.79 278) scale(0.1)" font-size="39" text-anchor="middle" font-weight="bold" stroke="#000" stroke-width="1.2" >log (nmol/L) antibody</text>
<text transform="translate(8 236) rotate(-90) scale(0.1)" font-size="40.5" text-anchor="middle" font-weight="bold" stroke="#000" stroke-width="1.2" >Phagocytotic</text>
<text transform="translate(12.4 236) rotate(-90) scale(0.1)" font-size="40.5" text-anchor="middle" font-weight="bold" stroke="#000" stroke-width="1.2" >macrophages (%)</text>
<line x1="29.3" y1="336.8" x2="94.17" y2="336.8" stroke="#333" stroke-width="0.55" stroke-dasharray="0.7 0.5"/>
<path d="M42.28 339.38 L43.14 339.38 L44.01 339.38 L44.87 339.38 L45.73 339.38 L46.6 339.38 L47.47 339.38 L48.33 339.38 L49.2 339.38 L50.06 339.38 L50.93 339.38 L51.79 339.38 L52.66 339.38 L53.52 339.38 L54.39 339.38 L55.25 339.38 L56.12 339.38 L56.98 339.38 L57.85 339.38 L58.71 339.38 L59.58 339.38 L60.44 339.38 L61.31 339.38 L62.17 339.38 L63.04 339.38 L63.9 339.38 L64.77 339.38 L65.63 339.37 L66.5 339.36 L67.36 339.32 L68.23 339.25 L69.09 339.09 L69.96 338.74 L70.82 338.02 L71.69 336.7 L72.55 334.63 L73.42 332.16 L74.28 329.98 L75.15 328.5 L76.01 327.69 L76.88 327.28 L77.74 327.09 L78.61 327 L79.47 326.96 L80.34 326.94 L81.2 326.94 L82.07 326.93 L82.93 326.93 L83.8 326.93 L84.66 326.93 L85.53 326.93 L86.39 326.93 L87.26 326.93 L88.12 326.93 L88.98 326.93 L89.85 326.93 L90.72 326.93 L91.58 326.93 L92.45 326.93 L93.31 326.93 L94.17 326.93" fill="none" stroke="#4fc3f7" stroke-width="1.2" stroke-linejoin="round"/>
<line x1="42.28" y1="338.91" x2="42.28" y2="339.86" stroke="#4fc3f7" stroke-width="0.65" />
<line x1="40.88" y1="338.91" x2="43.68" y2="338.91" stroke="#4fc3f7" stroke-width="0.65" />
<line x1="40.88" y1="339.86" x2="43.68" y2="339.86" stroke="#4fc3f7" stroke-width="0.65" />
<rect x="41.38" y="338.49" width="1.8" height="1.8" fill="#4fc3f7" />
<line x1="59.58" y1="338.68" x2="59.58" y2="340.56" stroke="#4fc3f7" stroke-width="0.65" />
<line x1="58.18" y1="338.68" x2="60.98" y2="338.68" stroke="#4fc3f7" stroke-width="0.65" />
<line x1="58.18" y1="340.56" x2="60.98" y2="340.56" stroke="#4fc3f7" stroke-width="0.65" />
<rect x="58.68" y="338.72" width="1.8" height="1.8" fill="#4fc3f7" />
<line x1="76.88" y1="325.52" x2="76.88" y2="329.28" stroke="#4fc3f7" stroke-width="0.65" />
<line x1="75.47" y1="325.52" x2="78.28" y2="325.52" stroke="#4fc3f7" stroke-width="0.65" />
<line x1="75.47" y1="329.28" x2="78.28" y2="329.28" stroke="#4fc3f7" stroke-width="0.65" />
<rect x="75.97" y="326.5" width="1.8" height="1.8" fill="#4fc3f7" />
<line x1="94.17" y1="324.58" x2="94.17" y2="329.28" stroke="#4fc3f7" stroke-width="0.65" />
<line x1="92.77" y1="324.58" x2="95.58" y2="324.58" stroke="#4fc3f7" stroke-width="0.65" />
<line x1="92.77" y1="329.28" x2="95.58" y2="329.28" stroke="#4fc3f7" stroke-width="0.65" />
<rect x="93.27" y="326.03" width="1.8" height="1.8" fill="#4fc3f7" />
<path d="M42.28 335.39 L43.14 335.39 L44.01 335.39 L44.87 335.39 L45.73 335.39 L46.6 335.39 L47.47 335.39 L48.33 335.39 L49.2 335.39 L50.06 335.39 L50.93 335.39 L51.79 335.39 L52.66 335.39 L53.52 335.39 L54.39 335.39 L55.25 335.39 L56.12 335.39 L56.98 335.37 L57.85 335.31 L58.71 335.08 L59.58 334.22 L60.44 331.43 L61.31 325.52 L62.17 319.61 L63.04 316.82 L63.9 315.96 L64.77 315.73 L65.63 315.67 L66.5 315.65 L67.36 315.65 L68.23 315.65 L69.09 315.65 L69.96 315.65 L70.82 315.65 L71.69 315.65 L72.55 315.65 L73.42 315.65 L74.28 315.65 L75.15 315.65 L76.01 315.65 L76.88 315.65 L77.74 315.65 L78.61 315.65 L79.47 315.65 L80.34 315.65 L81.2 315.65 L82.07 315.65 L82.93 315.65 L83.8 315.65 L84.66 315.65 L85.53 315.65 L86.39 315.65 L87.26 315.65 L88.12 315.65 L88.98 315.65 L89.85 315.65 L90.72 315.65 L91.58 315.65 L92.45 315.65 L93.31 315.65 L94.17 315.65" fill="none" stroke="#e8571c" stroke-width="1.2" stroke-linejoin="round"/>
<line x1="42.28" y1="333.98" x2="42.28" y2="335.86" stroke="#e8571c" stroke-width="0.65" />
<line x1="40.88" y1="333.98" x2="43.68" y2="333.98" stroke="#e8571c" stroke-width="0.65" />
<line x1="40.88" y1="335.86" x2="43.68" y2="335.86" stroke="#e8571c" stroke-width="0.65" />
<path d="M42.28 333.72L43.48 335.82L41.08 335.82Z" fill="#e8571c"/>
<line x1="59.58" y1="334.45" x2="59.58" y2="336.33" stroke="#e8571c" stroke-width="0.65" />
<line x1="58.18" y1="334.45" x2="60.98" y2="334.45" stroke="#e8571c" stroke-width="0.65" />
<line x1="58.18" y1="336.33" x2="60.98" y2="336.33" stroke="#e8571c" stroke-width="0.65" />
<path d="M59.58 334.19L60.78 336.29L58.38 336.29Z" fill="#e8571c"/>
<line x1="76.88" y1="314.71" x2="76.88" y2="316.59" stroke="#e8571c" stroke-width="0.65" />
<line x1="75.47" y1="314.71" x2="78.28" y2="314.71" stroke="#e8571c" stroke-width="0.65" />
<line x1="75.47" y1="316.59" x2="78.28" y2="316.59" stroke="#e8571c" stroke-width="0.65" />
<path d="M76.88 314.45L78.08 316.55L75.67 316.55Z" fill="#e8571c"/>
<line x1="94.17" y1="312.83" x2="94.17" y2="318.47" stroke="#e8571c" stroke-width="0.65" />
<line x1="92.77" y1="312.83" x2="95.58" y2="312.83" stroke="#e8571c" stroke-width="0.65" />
<line x1="92.77" y1="318.47" x2="95.58" y2="318.47" stroke="#e8571c" stroke-width="0.65" />
<path d="M94.17 314.45L95.38 316.55L92.97 316.55Z" fill="#e8571c"/>
<path d="M42.28 335.14 L43.14 335.13 L44.01 335.12 L44.87 335.12 L45.73 335.1 L46.6 335.09 L47.47 335.07 L48.33 335.04 L49.2 335.01 L50.06 334.96 L50.93 334.9 L51.79 334.83 L52.66 334.73 L53.52 334.61 L54.39 334.45 L55.25 334.24 L56.12 333.98 L56.98 333.65 L57.85 333.23 L58.71 332.71 L59.58 332.07 L60.44 331.29 L61.31 330.36 L62.17 329.29 L63.04 328.06 L63.9 326.71 L64.77 325.26 L65.63 323.76 L66.5 322.26 L67.36 320.81 L68.23 319.45 L69.09 318.23 L69.96 317.15 L70.82 316.23 L71.69 315.45 L72.55 314.81 L73.42 314.29 L74.28 313.87 L75.15 313.53 L76.01 313.27 L76.88 313.07 L77.74 312.91 L78.61 312.78 L79.47 312.68 L80.34 312.61 L81.2 312.55 L82.07 312.51 L82.93 312.47 L83.8 312.45 L84.66 312.43 L85.53 312.41 L86.39 312.4 L87.26 312.39 L88.12 312.38 L88.98 312.38 L89.85 312.37 L90.72 312.37 L91.58 312.37 L92.45 312.37 L93.31 312.36 L94.17 312.36" fill="none" stroke="#1db283" stroke-width="1.2" stroke-linejoin="round"/>
<line x1="42.28" y1="333.51" x2="42.28" y2="336.33" stroke="#1db283" stroke-width="0.65" />
<line x1="40.88" y1="333.51" x2="43.68" y2="333.51" stroke="#1db283" stroke-width="0.65" />
<line x1="40.88" y1="336.33" x2="43.68" y2="336.33" stroke="#1db283" stroke-width="0.65" />
<circle cx="42.28" cy="334.92" r="1" fill="#1db283" />
<line x1="59.58" y1="330.22" x2="59.58" y2="333.98" stroke="#1db283" stroke-width="0.65" />
<line x1="58.18" y1="330.22" x2="60.98" y2="330.22" stroke="#1db283" stroke-width="0.65" />
<line x1="58.18" y1="333.98" x2="60.98" y2="333.98" stroke="#1db283" stroke-width="0.65" />
<circle cx="59.58" cy="332.1" r="1" fill="#1db283" />
<line x1="76.88" y1="311.89" x2="76.88" y2="313.77" stroke="#1db283" stroke-width="0.65" />
<line x1="75.47" y1="311.89" x2="78.28" y2="311.89" stroke="#1db283" stroke-width="0.65" />
<line x1="75.47" y1="313.77" x2="78.28" y2="313.77" stroke="#1db283" stroke-width="0.65" />
<circle cx="76.88" cy="312.83" r="1" fill="#1db283" />
<line x1="94.17" y1="310.48" x2="94.17" y2="314.24" stroke="#1db283" stroke-width="0.65" />
<line x1="92.77" y1="310.48" x2="95.58" y2="310.48" stroke="#1db283" stroke-width="0.65" />
<line x1="92.77" y1="314.24" x2="95.58" y2="314.24" stroke="#1db283" stroke-width="0.65" />
<circle cx="94.17" cy="312.36" r="1" fill="#1db283" />
<line x1="94.17" y1="304.37" x2="94.17" y2="308.13" stroke="#555" stroke-width="0.55" />
<line x1="92.97" y1="304.37" x2="95.38" y2="304.37" stroke="#555" stroke-width="0.55" />
<line x1="92.97" y1="308.13" x2="95.38" y2="308.13" stroke="#555" stroke-width="0.55" />
<path d="M94.17 304.95L95.27 306.25L94.17 307.55L93.08 306.25Z" fill="none" stroke="#555" stroke-width="0.4"/>
<line x1="94.17" y1="308.13" x2="94.17" y2="310.95" stroke="#555" stroke-width="0.55" />
<line x1="92.97" y1="308.13" x2="95.38" y2="308.13" stroke="#555" stroke-width="0.55" />
<line x1="92.97" y1="310.95" x2="95.38" y2="310.95" stroke="#555" stroke-width="0.55" />
<rect x="93.33" y="308.69" width="1.7" height="1.7" fill="#555" />
<line x1="94.17" y1="333.04" x2="94.17" y2="335.86" stroke="#222" stroke-width="0.55" />
<line x1="92.97" y1="333.04" x2="95.38" y2="333.04" stroke="#222" stroke-width="0.55" />
<line x1="92.97" y1="335.86" x2="95.38" y2="335.86" stroke="#222" stroke-width="0.55" />
<circle cx="94.17" cy="334.45" r="0.95" fill="#222" />
<line x1="94.17" y1="336.8" x2="94.17" y2="338.68" stroke="#222" stroke-width="0.55" />
<line x1="92.97" y1="336.8" x2="95.38" y2="336.8" stroke="#222" stroke-width="0.55" />
<line x1="92.97" y1="338.68" x2="95.38" y2="338.68" stroke="#222" stroke-width="0.55" />
<rect x="93.33" y="336.89" width="1.7" height="1.7" fill="#222" />
<line x1="94.17" y1="338.21" x2="94.17" y2="340.09" stroke="#222" stroke-width="0.55" />
<line x1="92.97" y1="338.21" x2="95.38" y2="338.21" stroke="#222" stroke-width="0.55" />
<line x1="92.97" y1="340.09" x2="95.38" y2="340.09" stroke="#222" stroke-width="0.55" />
<path d="M94.17 338.05L95.27 340.05L93.08 340.05Z" fill="#222"/>
<line x1="29.3" y1="294.2" x2="29.3" y2="346.3" stroke="#000" stroke-width="0.75" />
<line x1="28.95" y1="346.3" x2="106.58" y2="346.3" stroke="#000" stroke-width="0.75" />
<line x1="26.9" y1="341.5" x2="29.3" y2="341.5" stroke="#000" stroke-width="0.6" />
<text transform="translate(25.4 342.9) scale(0.1)" font-size="39" text-anchor="end" stroke="#000" stroke-width="0.5">0</text>
<line x1="26.9" y1="332.1" x2="29.3" y2="332.1" stroke="#000" stroke-width="0.6" />
<text transform="translate(25.4 333.5) scale(0.1)" font-size="39" text-anchor="end" stroke="#000" stroke-width="0.5">20</text>
<line x1="26.9" y1="322.7" x2="29.3" y2="322.7" stroke="#000" stroke-width="0.6" />
<text transform="translate(25.4 324.1) scale(0.1)" font-size="39" text-anchor="end" stroke="#000" stroke-width="0.5">40</text>
<line x1="26.9" y1="313.3" x2="29.3" y2="313.3" stroke="#000" stroke-width="0.6" />
<text transform="translate(25.4 314.7) scale(0.1)" font-size="39" text-anchor="end" stroke="#000" stroke-width="0.5">60</text>
<line x1="26.9" y1="303.9" x2="29.3" y2="303.9" stroke="#000" stroke-width="0.6" />
<text transform="translate(25.4 305.3) scale(0.1)" font-size="39" text-anchor="end" stroke="#000" stroke-width="0.5">80</text>
<line x1="26.9" y1="294.5" x2="29.3" y2="294.5" stroke="#000" stroke-width="0.6" />
<text transform="translate(25.4 295.9) scale(0.1)" font-size="39" text-anchor="end" stroke="#000" stroke-width="0.5">100</text>
<line x1="37.09" y1="346.3" x2="37.09" y2="348.5" stroke="#000" stroke-width="0.6" />
<text transform="translate(37.09 353.7) scale(0.1)" font-size="39" text-anchor="middle" stroke="#000" stroke-width="0.5">-2</text>
<line x1="54.39" y1="346.3" x2="54.39" y2="348.5" stroke="#000" stroke-width="0.6" />
<text transform="translate(54.39 353.7) scale(0.1)" font-size="39" text-anchor="middle" stroke="#000" stroke-width="0.5">-1</text>
<line x1="71.69" y1="346.3" x2="71.69" y2="348.5" stroke="#000" stroke-width="0.6" />
<text transform="translate(71.69 353.7) scale(0.1)" font-size="39" text-anchor="middle" stroke="#000" stroke-width="0.5">0</text>
<line x1="88.98" y1="346.3" x2="88.98" y2="348.5" stroke="#000" stroke-width="0.6" />
<text transform="translate(88.98 353.7) scale(0.1)" font-size="39" text-anchor="middle" stroke="#000" stroke-width="0.5">1</text>
<line x1="106.28" y1="346.3" x2="106.28" y2="348.5" stroke="#000" stroke-width="0.6" />
<text transform="translate(106.28 353.7) scale(0.1)" font-size="39" text-anchor="middle" stroke="#000" stroke-width="0.5">2</text>
<text transform="translate(67.79 285.9) scale(0.1)" font-size="39" text-anchor="middle" font-weight="bold" stroke="#000" stroke-width="1.2" >GP5D KRAS mutant</text>
<text transform="translate(67.79 291) scale(0.1)" font-size="39" text-anchor="middle" font-weight="bold" stroke="#000" stroke-width="1.2" >(Donor 336 macrophages)</text>
<text transform="translate(67.79 360) scale(0.1)" font-size="39" text-anchor="middle" font-weight="bold" stroke="#000" stroke-width="1.2" >log (nmol/L) antibody</text>
<text transform="translate(8 318) rotate(-90) scale(0.1)" font-size="40.5" text-anchor="middle" font-weight="bold" stroke="#000" stroke-width="1.2" >Phagocytotic</text>
<text transform="translate(12.4 318) rotate(-90) scale(0.1)" font-size="40.5" text-anchor="middle" font-weight="bold" stroke="#000" stroke-width="1.2" >macrophages (%)</text>
<line x1="129.3" y1="333.51" x2="194.18" y2="333.51" stroke="#333" stroke-width="0.55" stroke-dasharray="0.7 0.5"/>
<path d="M142.28 339.38 L143.14 339.38 L144.01 339.38 L144.87 339.37 L145.74 339.37 L146.6 339.37 L147.47 339.36 L148.33 339.36 L149.2 339.35 L150.06 339.35 L150.93 339.34 L151.79 339.32 L152.66 339.31 L153.52 339.29 L154.39 339.27 L155.25 339.25 L156.12 339.22 L156.98 339.18 L157.85 339.13 L158.71 339.07 L159.58 339.01 L160.44 338.92 L161.31 338.82 L162.17 338.69 L163.04 338.54 L163.9 338.36 L164.77 338.14 L165.63 337.88 L166.5 337.57 L167.36 337.21 L168.23 336.79 L169.09 336.31 L169.96 335.76 L170.82 335.14 L171.69 334.46 L172.55 333.72 L173.42 332.93 L174.28 332.11 L175.15 331.28 L176.01 330.44 L176.88 329.62 L177.74 328.84 L178.61 328.1 L179.47 327.42 L180.34 326.8 L181.2 326.25 L182.07 325.77 L182.93 325.34 L183.8 324.98 L184.66 324.68 L185.53 324.42 L186.39 324.2 L187.26 324.01 L188.12 323.86 L188.99 323.74 L189.85 323.63 L190.72 323.55 L191.58 323.48 L192.45 323.42 L193.31 323.38 L194.18 323.34" fill="none" stroke="#4fc3f7" stroke-width="1.2" stroke-linejoin="round"/>
<line x1="142.28" y1="338.91" x2="142.28" y2="339.86" stroke="#4fc3f7" stroke-width="0.65" />
<line x1="140.88" y1="338.91" x2="143.68" y2="338.91" stroke="#4fc3f7" stroke-width="0.65" />
<line x1="140.88" y1="339.86" x2="143.68" y2="339.86" stroke="#4fc3f7" stroke-width="0.65" />
<rect x="141.38" y="338.49" width="1.8" height="1.8" fill="#4fc3f7" />
<line x1="159.58" y1="338.21" x2="159.58" y2="339.15" stroke="#4fc3f7" stroke-width="0.65" />
<line x1="158.18" y1="338.21" x2="160.98" y2="338.21" stroke="#4fc3f7" stroke-width="0.65" />
<line x1="158.18" y1="339.15" x2="160.98" y2="339.15" stroke="#4fc3f7" stroke-width="0.65" />
<rect x="158.68" y="337.78" width="1.8" height="1.8" fill="#4fc3f7" />
<line x1="176.88" y1="327.87" x2="176.88" y2="330.69" stroke="#4fc3f7" stroke-width="0.65" />
<line x1="175.47" y1="327.87" x2="178.28" y2="327.87" stroke="#4fc3f7" stroke-width="0.65" />
<line x1="175.47" y1="330.69" x2="178.28" y2="330.69" stroke="#4fc3f7" stroke-width="0.65" />
<rect x="175.97" y="328.38" width="1.8" height="1.8" fill="#4fc3f7" />
<line x1="194.18" y1="319.41" x2="194.18" y2="327.87" stroke="#4fc3f7" stroke-width="0.65" />
<line x1="192.78" y1="319.41" x2="195.58" y2="319.41" stroke="#4fc3f7" stroke-width="0.65" />
<line x1="192.78" y1="327.87" x2="195.58" y2="327.87" stroke="#4fc3f7" stroke-width="0.65" />
<rect x="193.28" y="322.74" width="1.8" height="1.8" fill="#4fc3f7" />
<path d="M142.28 331.61 L143.14 331.6 L144.01 331.59 L144.87 331.58 L145.74 331.57 L146.6 331.55 L147.47 331.53 L148.33 331.5 L149.2 331.47 L150.06 331.42 L150.93 331.36 L151.79 331.28 L152.66 331.18 L153.52 331.06 L154.39 330.9 L155.25 330.7 L156.12 330.44 L156.98 330.13 L157.85 329.73 L158.71 329.25 L159.58 328.66 L160.44 327.96 L161.31 327.13 L162.17 326.18 L163.04 325.11 L163.9 323.94 L164.77 322.7 L165.63 321.41 L166.5 320.12 L167.36 318.87 L168.23 317.7 L169.09 316.63 L169.96 315.68 L170.82 314.85 L171.69 314.15 L172.55 313.57 L173.42 313.08 L174.28 312.69 L175.15 312.37 L176.01 312.12 L176.88 311.92 L177.74 311.76 L178.61 311.63 L179.47 311.53 L180.34 311.46 L181.2 311.4 L182.07 311.35 L182.93 311.31 L183.8 311.28 L184.66 311.26 L185.53 311.25 L186.39 311.23 L187.26 311.22 L188.12 311.21 L188.99 311.21 L189.85 311.2 L190.72 311.2 L191.58 311.2 L192.45 311.19 L193.31 311.19 L194.18 311.19" fill="none" stroke="#e8571c" stroke-width="1.2" stroke-linejoin="round"/>
<line x1="142.28" y1="330.22" x2="142.28" y2="333.04" stroke="#e8571c" stroke-width="0.65" />
<line x1="140.88" y1="330.22" x2="143.68" y2="330.22" stroke="#e8571c" stroke-width="0.65" />
<line x1="140.88" y1="333.04" x2="143.68" y2="333.04" stroke="#e8571c" stroke-width="0.65" />
<path d="M142.28 330.43L143.47 332.53L141.08 332.53Z" fill="#e8571c"/>
<line x1="159.58" y1="329.28" x2="159.58" y2="332.1" stroke="#e8571c" stroke-width="0.65" />
<line x1="158.18" y1="329.28" x2="160.98" y2="329.28" stroke="#e8571c" stroke-width="0.65" />
<line x1="158.18" y1="332.1" x2="160.98" y2="332.1" stroke="#e8571c" stroke-width="0.65" />
<path d="M159.58 329.49L160.78 331.59L158.38 331.59Z" fill="#e8571c"/>
<line x1="176.88" y1="311.42" x2="176.88" y2="313.3" stroke="#e8571c" stroke-width="0.65" />
<line x1="175.47" y1="311.42" x2="178.28" y2="311.42" stroke="#e8571c" stroke-width="0.65" />
<line x1="175.47" y1="313.3" x2="178.28" y2="313.3" stroke="#e8571c" stroke-width="0.65" />
<path d="M176.88 311.16L178.07 313.26L175.68 313.26Z" fill="#e8571c"/>
<line x1="194.18" y1="310.48" x2="194.18" y2="312.36" stroke="#e8571c" stroke-width="0.65" />
<line x1="192.78" y1="310.48" x2="195.58" y2="310.48" stroke="#e8571c" stroke-width="0.65" />
<line x1="192.78" y1="312.36" x2="195.58" y2="312.36" stroke="#e8571c" stroke-width="0.65" />
<path d="M194.18 310.22L195.38 312.32L192.98 312.32Z" fill="#e8571c"/>
<path d="M142.28 332.44 L143.14 332.42 L144.01 332.4 L144.87 332.37 L145.74 332.33 L146.6 332.29 L147.47 332.24 L148.33 332.18 L149.2 332.12 L150.06 332.04 L150.93 331.95 L151.79 331.85 L152.66 331.72 L153.52 331.58 L154.39 331.42 L155.25 331.23 L156.12 331.01 L156.98 330.76 L157.85 330.48 L158.71 330.15 L159.58 329.78 L160.44 329.36 L161.31 328.9 L162.17 328.38 L163.04 327.8 L163.9 327.17 L164.77 326.49 L165.63 325.75 L166.5 324.97 L167.36 324.14 L168.23 323.29 L169.09 322.41 L169.96 321.52 L170.82 320.64 L171.69 319.76 L172.55 318.91 L173.42 318.08 L174.28 317.3 L175.15 316.56 L176.01 315.88 L176.88 315.25 L177.74 314.67 L178.61 314.15 L179.47 313.69 L180.34 313.27 L181.2 312.9 L182.07 312.57 L182.93 312.29 L183.8 312.04 L184.66 311.82 L185.53 311.63 L186.39 311.47 L187.26 311.33 L188.12 311.2 L188.99 311.1 L189.85 311.01 L190.72 310.93 L191.58 310.87 L192.45 310.81 L193.31 310.76 L194.18 310.72" fill="none" stroke="#1db283" stroke-width="1.2" stroke-linejoin="round"/>
<line x1="142.28" y1="328.81" x2="142.28" y2="335.39" stroke="#1db283" stroke-width="0.65" />
<line x1="140.88" y1="328.81" x2="143.68" y2="328.81" stroke="#1db283" stroke-width="0.65" />
<line x1="140.88" y1="335.39" x2="143.68" y2="335.39" stroke="#1db283" stroke-width="0.65" />
<circle cx="142.28" cy="332.1" r="1" fill="#1db283" />
<line x1="159.58" y1="327.4" x2="159.58" y2="331.16" stroke="#1db283" stroke-width="0.65" />
<line x1="158.18" y1="327.4" x2="160.98" y2="327.4" stroke="#1db283" stroke-width="0.65" />
<line x1="158.18" y1="331.16" x2="160.98" y2="331.16" stroke="#1db283" stroke-width="0.65" />
<circle cx="159.58" cy="329.28" r="1" fill="#1db283" />
<line x1="176.88" y1="313.3" x2="176.88" y2="318" stroke="#1db283" stroke-width="0.65" />
<line x1="175.47" y1="313.3" x2="178.28" y2="313.3" stroke="#1db283" stroke-width="0.65" />
<line x1="175.47" y1="318" x2="178.28" y2="318" stroke="#1db283" stroke-width="0.65" />
<circle cx="176.88" cy="315.65" r="1" fill="#1db283" />
<line x1="194.18" y1="309.54" x2="194.18" y2="312.36" stroke="#1db283" stroke-width="0.65" />
<line x1="192.78" y1="309.54" x2="195.58" y2="309.54" stroke="#1db283" stroke-width="0.65" />
<line x1="192.78" y1="312.36" x2="195.58" y2="312.36" stroke="#1db283" stroke-width="0.65" />
<circle cx="194.18" cy="310.95" r="1" fill="#1db283" />
<line x1="194.18" y1="301.08" x2="194.18" y2="307.66" stroke="#555" stroke-width="0.55" />
<line x1="192.98" y1="301.08" x2="195.38" y2="301.08" stroke="#555" stroke-width="0.55" />
<line x1="192.98" y1="307.66" x2="195.38" y2="307.66" stroke="#555" stroke-width="0.55" />
<path d="M194.18 303.27L195.28 305.27L193.08 305.27Z" fill="#555"/>
<line x1="194.18" y1="333.04" x2="194.18" y2="335.86" stroke="#222" stroke-width="0.55" />
<line x1="192.98" y1="333.04" x2="195.38" y2="333.04" stroke="#222" stroke-width="0.55" />
<line x1="192.98" y1="335.86" x2="195.38" y2="335.86" stroke="#222" stroke-width="0.55" />
<circle cx="194.18" cy="334.45" r="0.95" fill="#222" />
<line x1="194.18" y1="337.74" x2="194.18" y2="339.62" stroke="#222" stroke-width="0.55" />
<line x1="192.98" y1="337.74" x2="195.38" y2="337.74" stroke="#222" stroke-width="0.55" />
<line x1="192.98" y1="339.62" x2="195.38" y2="339.62" stroke="#222" stroke-width="0.55" />
<rect x="193.33" y="337.83" width="1.7" height="1.7" fill="#222" />
<line x1="129.3" y1="294.2" x2="129.3" y2="346.3" stroke="#000" stroke-width="0.75" />
<line x1="128.95" y1="346.3" x2="206.59" y2="346.3" stroke="#000" stroke-width="0.75" />
<line x1="126.9" y1="341.5" x2="129.3" y2="341.5" stroke="#000" stroke-width="0.6" />
<text transform="translate(125.4 342.9) scale(0.1)" font-size="39" text-anchor="end" stroke="#000" stroke-width="0.5">0</text>
<line x1="126.9" y1="332.1" x2="129.3" y2="332.1" stroke="#000" stroke-width="0.6" />
<text transform="translate(125.4 333.5) scale(0.1)" font-size="39" text-anchor="end" stroke="#000" stroke-width="0.5">20</text>
<line x1="126.9" y1="322.7" x2="129.3" y2="322.7" stroke="#000" stroke-width="0.6" />
<text transform="translate(125.4 324.1) scale(0.1)" font-size="39" text-anchor="end" stroke="#000" stroke-width="0.5">40</text>
<line x1="126.9" y1="313.3" x2="129.3" y2="313.3" stroke="#000" stroke-width="0.6" />
<text transform="translate(125.4 314.7) scale(0.1)" font-size="39" text-anchor="end" stroke="#000" stroke-width="0.5">60</text>
<line x1="126.9" y1="303.9" x2="129.3" y2="303.9" stroke="#000" stroke-width="0.6" />
<text transform="translate(125.4 305.3) scale(0.1)" font-size="39" text-anchor="end" stroke="#000" stroke-width="0.5">80</text>
<line x1="126.9" y1="294.5" x2="129.3" y2="294.5" stroke="#000" stroke-width="0.6" />
<text transform="translate(125.4 295.9) scale(0.1)" font-size="39" text-anchor="end" stroke="#000" stroke-width="0.5">100</text>
<line x1="137.09" y1="346.3" x2="137.09" y2="348.5" stroke="#000" stroke-width="0.6" />
<text transform="translate(137.09 353.7) scale(0.1)" font-size="39" text-anchor="middle" stroke="#000" stroke-width="0.5">-2</text>
<line x1="154.39" y1="346.3" x2="154.39" y2="348.5" stroke="#000" stroke-width="0.6" />
<text transform="translate(154.39 353.7) scale(0.1)" font-size="39" text-anchor="middle" stroke="#000" stroke-width="0.5">-1</text>
<line x1="171.69" y1="346.3" x2="171.69" y2="348.5" stroke="#000" stroke-width="0.6" />
<text transform="translate(171.69 353.7) scale(0.1)" font-size="39" text-anchor="middle" stroke="#000" stroke-width="0.5">0</text>
<line x1="188.99" y1="346.3" x2="188.99" y2="348.5" stroke="#000" stroke-width="0.6" />
<text transform="translate(188.99 353.7) scale(0.1)" font-size="39" text-anchor="middle" stroke="#000" stroke-width="0.5">1</text>
<line x1="206.29" y1="346.3" x2="206.29" y2="348.5" stroke="#000" stroke-width="0.6" />
<text transform="translate(206.29 353.7) scale(0.1)" font-size="39" text-anchor="middle" stroke="#000" stroke-width="0.5">2</text>
<text transform="translate(167.79 285.9) scale(0.1)" font-size="39" text-anchor="middle" font-weight="bold" stroke="#000" stroke-width="1.2" >GP2D KRAS mutant</text>
<text transform="translate(167.79 291) scale(0.1)" font-size="39" text-anchor="middle" font-weight="bold" stroke="#000" stroke-width="1.2" >(Donor 358 macrophages)</text>
<text transform="translate(167.79 360) scale(0.1)" font-size="39" text-anchor="middle" font-weight="bold" stroke="#000" stroke-width="1.2" >log (nmol/L) antibody</text>
<text transform="translate(8 318) rotate(-90) scale(0.1)" font-size="40.5" text-anchor="middle" font-weight="bold" stroke="#000" stroke-width="1.2" >Phagocytotic</text>
<text transform="translate(12.4 318) rotate(-90) scale(0.1)" font-size="40.5" text-anchor="middle" font-weight="bold" stroke="#000" stroke-width="1.2" >macrophages (%)</text>
<text transform="translate(1.9 196.8) scale(0.1)" font-size="37" text-anchor="middle" font-weight="bold" stroke="#000" stroke-width="1.2" >C</text>
<line x1="210.5" y1="211.9" x2="213.9" y2="211.9" stroke="#4fc3f7" stroke-width="0.9" />
<rect x="211.4" y="211.1" width="1.6" height="1.6" fill="#4fc3f7" />
<text transform="translate(216.3 211) scale(0.1)" font-size="32" text-anchor="start" fill="#111" stroke="#111" stroke-width="0.8">BMS-986351:</text>
<text transform="translate(216.3 215) scale(0.1)" font-size="32" text-anchor="start" fill="#111" stroke="#111" stroke-width="0.8">No cetuximab</text>
<line x1="210.5" y1="221.45" x2="213.9" y2="221.45" stroke="#1db283" stroke-width="0.9" />
<circle cx="212.2" cy="221.45" r="0.85" fill="#1db283" />
<text transform="translate(216.3 220.4) scale(0.1)" font-size="32" text-anchor="start" fill="#111" stroke="#111" stroke-width="0.8">BMS-986351</text>
<text transform="translate(216.3 224.7) scale(0.1)" font-size="32" text-anchor="start" fill="#111" stroke="#111" stroke-width="0.8">+ 0.2 nmol/L cetuximab</text>
<line x1="210.5" y1="231" x2="213.9" y2="231" stroke="#e8571c" stroke-width="0.9" />
<path d="M212.2 230L213.2 231.8L211.2 231.8Z" fill="#e8571c"/>
<text transform="translate(216.3 230.1) scale(0.1)" font-size="32" text-anchor="start" fill="#111" stroke="#111" stroke-width="0.8">BMS-986351</text>
<text transform="translate(216.3 234.1) scale(0.1)" font-size="32" text-anchor="start" fill="#111" stroke="#111" stroke-width="0.8">+ 1 nmol/L cetuximab</text>
<line x1="210.5" y1="238" x2="213.9" y2="238" stroke="#222" stroke-width="0.9" />
<circle cx="212.2" cy="238" r="0.85" fill="#222" />
<text transform="translate(216.3 239.1) scale(0.1)" font-size="32" text-anchor="start" fill="#111" stroke="#111" stroke-width="0.8">Anti-RSV isotype control</text>
<line x1="210.5" y1="245.5" x2="213.9" y2="245.5" stroke="#222" stroke-width="0.9" />
<rect x="211.4" y="244.7" width="1.6" height="1.6" fill="#222" />
<text transform="translate(216.3 245.1) scale(0.1)" font-size="32" text-anchor="start" fill="#111" stroke="#111" stroke-width="0.8">20 nmol/L anti-RSV isotype control</text>
<text transform="translate(216.3 248.1) scale(0.1)" font-size="32" text-anchor="start" fill="#111" stroke="#111" stroke-width="0.8">+ 0.2 nmol/L cetuximab</text>
<line x1="210.5" y1="255.05" x2="213.9" y2="255.05" stroke="#222" stroke-width="0.9" />
<path d="M212.2 254.05L213.2 255.85L211.2 255.85Z" fill="#222"/>
<text transform="translate(216.3 254.3) scale(0.1)" font-size="32" text-anchor="start" fill="#111" stroke="#111" stroke-width="0.8">20 anti-RSV isotype control</text>
<text transform="translate(216.3 258) scale(0.1)" font-size="32" text-anchor="start" fill="#111" stroke="#111" stroke-width="0.8">+ 1 nmol/L cetuximab</text>
<path d="M212.2 261L213 262L212.2 263L211.4 262Z" fill="none" stroke="#555" stroke-width="0.35"/>
<text transform="translate(216.3 263.1) scale(0.1)" font-size="32" text-anchor="start" fill="#111" stroke="#111" stroke-width="0.8">Anti-CD47 IgG1</text>
<line x1="210.5" y1="293.9" x2="213.9" y2="293.9" stroke="#4fc3f7" stroke-width="0.9" />
<rect x="211.4" y="293.1" width="1.6" height="1.6" fill="#4fc3f7" />
<text transform="translate(216.3 293) scale(0.1)" font-size="32" text-anchor="start" fill="#111" stroke="#111" stroke-width="0.8">BMS-986351:</text>
<text transform="translate(216.3 297) scale(0.1)" font-size="32" text-anchor="start" fill="#111" stroke="#111" stroke-width="0.8">No cetuximab</text>
<line x1="210.5" y1="303.45" x2="213.9" y2="303.45" stroke="#1db283" stroke-width="0.9" />
<circle cx="212.2" cy="303.45" r="0.85" fill="#1db283" />
<text transform="translate(216.3 302.4) scale(0.1)" font-size="32" text-anchor="start" fill="#111" stroke="#111" stroke-width="0.8">BMS-986351</text>
<text transform="translate(216.3 306.7) scale(0.1)" font-size="32" text-anchor="start" fill="#111" stroke="#111" stroke-width="0.8">+ 0.2 nmol/L cetuximab</text>
<line x1="210.5" y1="313" x2="213.9" y2="313" stroke="#e8571c" stroke-width="0.9" />
<path d="M212.2 312L213.2 313.8L211.2 313.8Z" fill="#e8571c"/>
<text transform="translate(216.3 312.1) scale(0.1)" font-size="32" text-anchor="start" fill="#111" stroke="#111" stroke-width="0.8">BMS-986351</text>
<text transform="translate(216.3 316.1) scale(0.1)" font-size="32" text-anchor="start" fill="#111" stroke="#111" stroke-width="0.8">+ 1 nmol/L cetuximab</text>
<line x1="210.5" y1="320" x2="213.9" y2="320" stroke="#222" stroke-width="0.9" />
<circle cx="212.2" cy="320" r="0.85" fill="#222" />
<text transform="translate(216.3 321.1) scale(0.1)" font-size="32" text-anchor="start" fill="#111" stroke="#111" stroke-width="0.8">Anti-RSV isotype control</text>
<line x1="210.5" y1="327.5" x2="213.9" y2="327.5" stroke="#222" stroke-width="0.9" />
<rect x="211.4" y="326.7" width="1.6" height="1.6" fill="#222" />
<text transform="translate(216.3 327.1) scale(0.1)" font-size="32" text-anchor="start" fill="#111" stroke="#111" stroke-width="0.8">20 nmol/L anti-RSV isotype control</text>
<text transform="translate(216.3 330.1) scale(0.1)" font-size="32" text-anchor="start" fill="#111" stroke="#111" stroke-width="0.8">+ 0.2 nmol/L cetuximab</text>
<line x1="210.5" y1="337.05" x2="213.9" y2="337.05" stroke="#222" stroke-width="0.9" />
<path d="M212.2 336.05L213.2 337.85L211.2 337.85Z" fill="#222"/>
<text transform="translate(216.3 336.3) scale(0.1)" font-size="32" text-anchor="start" fill="#111" stroke="#111" stroke-width="0.8">20 anti-RSV isotype control</text>
<text transform="translate(216.3 340) scale(0.1)" font-size="32" text-anchor="start" fill="#111" stroke="#111" stroke-width="0.8">+ 1 nmol/L cetuximab</text>
<path d="M212.2 343L213 344L212.2 345L211.4 344Z" fill="none" stroke="#555" stroke-width="0.35"/>
<text transform="translate(216.3 345.1) scale(0.1)" font-size="32" text-anchor="start" fill="#111" stroke="#111" stroke-width="0.8">Anti-CD47 IgG1</text>
<line x1="294.7" y1="51.18" x2="360.49" y2="51.18" stroke="#333" stroke-width="0.55" stroke-dasharray="0.7 0.5"/>
<path d="M308.59 63.42 L309.46 63.36 L310.32 63.29 L311.19 63.23 L312.05 63.16 L312.92 63.1 L313.78 63.04 L314.65 62.97 L315.51 62.91 L316.38 62.85 L317.24 62.78 L318.11 62.72 L318.97 62.66 L319.84 62.59 L320.7 62.53 L321.57 62.46 L322.43 62.4 L323.3 62.34 L324.16 62.27 L325.03 62.21 L325.89 62.15 L326.76 62 L327.62 61.86 L328.49 61.72 L329.35 61.58 L330.22 61.44 L331.08 61.3 L331.95 61.16 L332.81 61.02 L333.68 60.88 L334.54 60.74 L335.41 60.6 L336.27 60.46 L337.14 60.32 L338 60.18 L338.87 60.04 L339.73 59.9 L340.6 59.76 L341.46 59.62 L342.33 59.48 L343.19 59.34 L344.06 59.28 L344.92 59.21 L345.79 59.15 L346.65 59.09 L347.52 59.02 L348.38 58.96 L349.25 58.89 L350.11 58.83 L350.98 58.77 L351.84 58.7 L352.71 58.64 L353.57 58.58 L354.44 58.51 L355.3 58.45 L356.17 58.38 L357.03 58.32 L357.9 58.26 L358.76 58.19 L359.63 58.13 L360.49 58.06" fill="none" stroke="#4fc3f7" stroke-width="1.2" stroke-linejoin="round"/>
<line x1="308.59" y1="62.91" x2="308.59" y2="63.93" stroke="#4fc3f7" stroke-width="0.65" />
<line x1="307.19" y1="62.91" x2="309.99" y2="62.91" stroke="#4fc3f7" stroke-width="0.65" />
<line x1="307.19" y1="63.93" x2="309.99" y2="63.93" stroke="#4fc3f7" stroke-width="0.65" />
<rect x="307.69" y="62.52" width="1.8" height="1.8" fill="#4fc3f7" />
<line x1="325.89" y1="61.12" x2="325.89" y2="63.17" stroke="#4fc3f7" stroke-width="0.65" />
<line x1="324.49" y1="61.12" x2="327.29" y2="61.12" stroke="#4fc3f7" stroke-width="0.65" />
<line x1="324.49" y1="63.17" x2="327.29" y2="63.17" stroke="#4fc3f7" stroke-width="0.65" />
<rect x="324.99" y="61.25" width="1.8" height="1.8" fill="#4fc3f7" />
<line x1="343.19" y1="58.83" x2="343.19" y2="59.85" stroke="#4fc3f7" stroke-width="0.65" />
<line x1="341.79" y1="58.83" x2="344.59" y2="58.83" stroke="#4fc3f7" stroke-width="0.65" />
<line x1="341.79" y1="59.85" x2="344.59" y2="59.85" stroke="#4fc3f7" stroke-width="0.65" />
<rect x="342.29" y="58.44" width="1.8" height="1.8" fill="#4fc3f7" />
<line x1="360.49" y1="56.02" x2="360.49" y2="60.1" stroke="#4fc3f7" stroke-width="0.65" />
<line x1="359.09" y1="56.02" x2="361.89" y2="56.02" stroke="#4fc3f7" stroke-width="0.65" />
<line x1="359.09" y1="60.1" x2="361.89" y2="60.1" stroke="#4fc3f7" stroke-width="0.65" />
<rect x="359.59" y="57.16" width="1.8" height="1.8" fill="#4fc3f7" />
<path d="M308.59 43.56 L309.46 38.81 L310.32 35.86 L311.19 34.41 L312.05 33.77 L312.92 33.51 L313.78 33.4 L314.65 33.36 L315.51 33.34 L316.38 33.33 L317.24 33.33 L318.11 33.33 L318.97 33.33 L319.84 33.33 L320.7 33.33 L321.57 33.33 L322.43 33.33 L323.3 33.33 L324.16 33.33 L325.03 33.33 L325.89 33.33 L326.76 33.33 L327.62 33.33 L328.49 33.33 L329.35 33.33 L330.22 33.33 L331.08 33.33 L331.95 33.33 L332.81 33.33 L333.68 33.33 L334.54 33.33 L335.41 33.33 L336.27 33.33 L337.14 33.33 L338 33.33 L338.87 33.33 L339.73 33.33 L340.6 33.33 L341.46 33.33 L342.33 33.33 L343.19 33.33 L344.06 33.33 L344.92 33.33 L345.79 33.33 L346.65 33.33 L347.52 33.33 L348.38 33.33 L349.25 33.33 L350.11 33.33 L350.98 33.33 L351.84 33.33 L352.71 33.33 L353.57 33.33 L354.44 33.33 L355.3 33.33 L356.17 33.33 L357.03 33.33 L357.9 33.33 L358.76 33.33 L359.63 33.33 L360.49 33.33" fill="none" stroke="#e8571c" stroke-width="1.2" stroke-linejoin="round"/>
<line x1="308.59" y1="39.45" x2="308.59" y2="46.59" stroke="#e8571c" stroke-width="0.65" />
<line x1="307.19" y1="39.45" x2="309.99" y2="39.45" stroke="#e8571c" stroke-width="0.65" />
<line x1="307.19" y1="46.59" x2="309.99" y2="46.59" stroke="#e8571c" stroke-width="0.65" />
<path d="M308.59 41.82L309.79 43.92L307.39 43.92Z" fill="#e8571c"/>
<line x1="325.89" y1="29.76" x2="325.89" y2="35.88" stroke="#e8571c" stroke-width="0.65" />
<line x1="324.49" y1="29.76" x2="327.29" y2="29.76" stroke="#e8571c" stroke-width="0.65" />
<line x1="324.49" y1="35.88" x2="327.29" y2="35.88" stroke="#e8571c" stroke-width="0.65" />
<path d="M325.89 31.62L327.09 33.72L324.69 33.72Z" fill="#e8571c"/>
<line x1="343.19" y1="33.33" x2="343.19" y2="43.53" stroke="#e8571c" stroke-width="0.65" />
<line x1="341.79" y1="33.33" x2="344.59" y2="33.33" stroke="#e8571c" stroke-width="0.65" />
<line x1="341.79" y1="43.53" x2="344.59" y2="43.53" stroke="#e8571c" stroke-width="0.65" />
<path d="M343.19 37.23L344.39 39.33L341.99 39.33Z" fill="#e8571c"/>
<line x1="360.49" y1="28.23" x2="360.49" y2="33.33" stroke="#e8571c" stroke-width="0.65" />
<line x1="359.09" y1="28.23" x2="361.89" y2="28.23" stroke="#e8571c" stroke-width="0.65" />
<line x1="359.09" y1="33.33" x2="361.89" y2="33.33" stroke="#e8571c" stroke-width="0.65" />
<path d="M360.49 29.58L361.69 31.68L359.29 31.68Z" fill="#e8571c"/>
<path d="M308.59 49.14 L309.46 44.93 L310.32 41.01 L311.19 37.66 L312.05 35.01 L312.92 33.04 L313.78 31.63 L314.65 30.65 L315.51 30 L316.38 29.56 L317.24 29.27 L318.11 29.09 L318.97 28.96 L319.84 28.89 L320.7 28.83 L321.57 28.8 L322.43 28.78 L323.3 28.77 L324.16 28.76 L325.03 28.75 L325.89 28.75 L326.76 28.74 L327.62 28.74 L328.49 28.74 L329.35 28.74 L330.22 28.74 L331.08 28.74 L331.95 28.74 L332.81 28.74 L333.68 28.74 L334.54 28.74 L335.41 28.74 L336.27 28.74 L337.14 28.74 L338 28.74 L338.87 28.74 L339.73 28.74 L340.6 28.74 L341.46 28.74 L342.33 28.74 L343.19 28.74 L344.06 28.74 L344.92 28.74 L345.79 28.74 L346.65 28.74 L347.52 28.74 L348.38 28.74 L349.25 28.74 L350.11 28.74 L350.98 28.74 L351.84 28.74 L352.71 28.74 L353.57 28.74 L354.44 28.74 L355.3 28.74 L356.17 28.74 L357.03 28.74 L357.9 28.74 L358.76 28.74 L359.63 28.74 L360.49 28.74" fill="none" stroke="#1db283" stroke-width="1.2" stroke-linejoin="round"/>
<line x1="308.59" y1="45.06" x2="308.59" y2="53.22" stroke="#1db283" stroke-width="0.65" />
<line x1="307.19" y1="45.06" x2="309.99" y2="45.06" stroke="#1db283" stroke-width="0.65" />
<line x1="307.19" y1="53.22" x2="309.99" y2="53.22" stroke="#1db283" stroke-width="0.65" />
<circle cx="308.59" cy="49.14" r="1" fill="#1db283" />
<line x1="325.89" y1="25.68" x2="325.89" y2="32.82" stroke="#1db283" stroke-width="0.65" />
<line x1="324.49" y1="25.68" x2="327.29" y2="25.68" stroke="#1db283" stroke-width="0.65" />
<line x1="324.49" y1="32.82" x2="327.29" y2="32.82" stroke="#1db283" stroke-width="0.65" />
<circle cx="325.89" cy="29.25" r="1" fill="#1db283" />
<line x1="343.19" y1="25.17" x2="343.19" y2="35.37" stroke="#1db283" stroke-width="0.65" />
<line x1="341.79" y1="25.17" x2="344.59" y2="25.17" stroke="#1db283" stroke-width="0.65" />
<line x1="341.79" y1="35.37" x2="344.59" y2="35.37" stroke="#1db283" stroke-width="0.65" />
<circle cx="343.19" cy="30.27" r="1" fill="#1db283" />
<line x1="360.49" y1="23.13" x2="360.49" y2="31.29" stroke="#1db283" stroke-width="0.65" />
<line x1="359.09" y1="23.13" x2="361.89" y2="23.13" stroke="#1db283" stroke-width="0.65" />
<line x1="359.09" y1="31.29" x2="361.89" y2="31.29" stroke="#1db283" stroke-width="0.65" />
<circle cx="360.49" cy="27.21" r="1" fill="#1db283" />
<line x1="360.49" y1="19.05" x2="360.49" y2="21.09" stroke="#555" stroke-width="0.55" />
<line x1="359.29" y1="19.05" x2="361.69" y2="19.05" stroke="#555" stroke-width="0.55" />
<line x1="359.29" y1="21.09" x2="361.69" y2="21.09" stroke="#555" stroke-width="0.55" />
<path d="M360.49 18.77L361.59 20.07L360.49 21.37L359.39 20.07Z" fill="none" stroke="#555" stroke-width="0.4"/>
<line x1="360.49" y1="48.12" x2="360.49" y2="56.28" stroke="#222" stroke-width="0.55" />
<line x1="359.29" y1="48.12" x2="361.69" y2="48.12" stroke="#222" stroke-width="0.55" />
<line x1="359.29" y1="56.28" x2="361.69" y2="56.28" stroke="#222" stroke-width="0.55" />
<circle cx="360.49" cy="52.2" r="0.95" fill="#222" />
<line x1="360.49" y1="49.65" x2="360.49" y2="52.71" stroke="#222" stroke-width="0.55" />
<line x1="359.29" y1="49.65" x2="361.69" y2="49.65" stroke="#222" stroke-width="0.55" />
<line x1="359.29" y1="52.71" x2="361.69" y2="52.71" stroke="#222" stroke-width="0.55" />
<rect x="359.64" y="50.33" width="1.7" height="1.7" fill="#222" />
<line x1="360.49" y1="64.44" x2="360.49" y2="65.46" stroke="#222" stroke-width="0.55" />
<line x1="359.29" y1="64.44" x2="361.69" y2="64.44" stroke="#222" stroke-width="0.55" />
<line x1="359.29" y1="65.46" x2="361.69" y2="65.46" stroke="#222" stroke-width="0.55" />
<circle cx="360.49" cy="64.95" r="0.95" fill="#222" />
<line x1="294.7" y1="16.2" x2="294.7" y2="67.5" stroke="#000" stroke-width="0.75" />
<line x1="294.35" y1="67.5" x2="372.9" y2="67.5" stroke="#000" stroke-width="0.75" />
<line x1="292.3" y1="67.5" x2="294.7" y2="67.5" stroke="#000" stroke-width="0.6" />
<text transform="translate(290.8 68.9) scale(0.1)" font-size="39" text-anchor="end" stroke="#000" stroke-width="0.5">0</text>
<line x1="292.3" y1="57.3" x2="294.7" y2="57.3" stroke="#000" stroke-width="0.6" />
<text transform="translate(290.8 58.7) scale(0.1)" font-size="39" text-anchor="end" stroke="#000" stroke-width="0.5">20</text>
<line x1="292.3" y1="47.1" x2="294.7" y2="47.1" stroke="#000" stroke-width="0.6" />
<text transform="translate(290.8 48.5) scale(0.1)" font-size="39" text-anchor="end" stroke="#000" stroke-width="0.5">40</text>
<line x1="292.3" y1="36.9" x2="294.7" y2="36.9" stroke="#000" stroke-width="0.6" />
<text transform="translate(290.8 38.3) scale(0.1)" font-size="39" text-anchor="end" stroke="#000" stroke-width="0.5">60</text>
<line x1="292.3" y1="26.7" x2="294.7" y2="26.7" stroke="#000" stroke-width="0.6" />
<text transform="translate(290.8 28.1) scale(0.1)" font-size="39" text-anchor="end" stroke="#000" stroke-width="0.5">80</text>
<line x1="292.3" y1="16.5" x2="294.7" y2="16.5" stroke="#000" stroke-width="0.6" />
<text transform="translate(290.8 17.9) scale(0.1)" font-size="39" text-anchor="end" stroke="#000" stroke-width="0.5">100</text>
<line x1="303.4" y1="67.5" x2="303.4" y2="69.7" stroke="#000" stroke-width="0.6" />
<text transform="translate(303.4 74.5) scale(0.1)" font-size="39" text-anchor="middle" stroke="#000" stroke-width="0.5">-2</text>
<line x1="320.7" y1="67.5" x2="320.7" y2="69.7" stroke="#000" stroke-width="0.6" />
<text transform="translate(320.7 74.5) scale(0.1)" font-size="39" text-anchor="middle" stroke="#000" stroke-width="0.5">-1</text>
<line x1="338" y1="67.5" x2="338" y2="69.7" stroke="#000" stroke-width="0.6" />
<text transform="translate(338 74.5) scale(0.1)" font-size="39" text-anchor="middle" stroke="#000" stroke-width="0.5">0</text>
<line x1="355.3" y1="67.5" x2="355.3" y2="69.7" stroke="#000" stroke-width="0.6" />
<text transform="translate(355.3 74.5) scale(0.1)" font-size="39" text-anchor="middle" stroke="#000" stroke-width="0.5">1</text>
<line x1="372.6" y1="67.5" x2="372.6" y2="69.7" stroke="#000" stroke-width="0.6" />
<text transform="translate(372.6 74.5) scale(0.1)" font-size="39" text-anchor="middle" stroke="#000" stroke-width="0.5">2</text>
<text transform="translate(333.65 13.8) scale(0.1)" font-size="39" text-anchor="middle" font-weight="bold" stroke="#000" stroke-width="1.2" >(Donor 358 macrophages)</text>
<text transform="translate(333.65 80.8) scale(0.1)" font-size="39" text-anchor="middle" font-weight="bold" stroke="#000" stroke-width="1.2" >log (nmol/L) antibody</text>
<text transform="translate(333.65 86) scale(0.1)" font-size="39" text-anchor="middle" font-weight="bold" stroke="#000" stroke-width="1.2" >(in 10% human serum)</text>
<text transform="translate(276.3 42) rotate(-90) scale(0.1)" font-size="40.5" text-anchor="middle" font-weight="bold" stroke="#000" stroke-width="1.2" >Phagocytotic</text>
<text transform="translate(281.3 42) rotate(-90) scale(0.1)" font-size="40.5" text-anchor="middle" font-weight="bold" stroke="#000" stroke-width="1.2" >macrophages (%)</text>
<text transform="translate(338.5 8.5) scale(0.1)" font-size="39" text-anchor="middle" font-weight="bold" stroke="#000" stroke-width="0.9">FaDu KRAS<tspan font-size="29" dy="10">wild-type</tspan></text>
<text transform="translate(268.8 4.3) scale(0.1)" font-size="37" text-anchor="middle" font-weight="bold" stroke="#000" stroke-width="1.2" >D</text>
<line x1="380.3" y1="19.4" x2="383.7" y2="19.4" stroke="#4fc3f7" stroke-width="0.9" />
<rect x="381.2" y="18.6" width="1.6" height="1.6" fill="#4fc3f7" />
<text transform="translate(385.4 18.5) scale(0.1)" font-size="32" text-anchor="start" fill="#111" stroke="#111" stroke-width="0.8">BMS-986351:</text>
<text transform="translate(385.4 22.5) scale(0.1)" font-size="32" text-anchor="start" fill="#111" stroke="#111" stroke-width="0.8">No cetuximab</text>
<line x1="380.3" y1="28.5" x2="383.7" y2="28.5" stroke="#1db283" stroke-width="0.9" />
<circle cx="382" cy="28.5" r="0.85" fill="#1db283" />
<text transform="translate(385.4 27.7) scale(0.1)" font-size="32" text-anchor="start" fill="#111" stroke="#111" stroke-width="0.8">BMS-986351</text>
<text transform="translate(385.4 31.5) scale(0.1)" font-size="32" text-anchor="start" fill="#111" stroke="#111" stroke-width="0.8">+ 0.2 nmol/L cetuximab</text>
<line x1="380.3" y1="37.75" x2="383.7" y2="37.75" stroke="#e8571c" stroke-width="0.9" />
<path d="M382 36.75L383 38.55L381 38.55Z" fill="#e8571c"/>
<text transform="translate(385.4 36.8) scale(0.1)" font-size="32" text-anchor="start" fill="#111" stroke="#111" stroke-width="0.8">BMS-986351</text>
<text transform="translate(385.4 40.9) scale(0.1)" font-size="32" text-anchor="start" fill="#111" stroke="#111" stroke-width="0.8">+ 1 nmol/L cetuximab</text>
<line x1="380.3" y1="45.3" x2="383.7" y2="45.3" stroke="#222" stroke-width="0.9" />
<circle cx="382" cy="45.3" r="0.85" fill="#222" />
<text transform="translate(385.4 46.4) scale(0.1)" font-size="32" text-anchor="start" fill="#111" stroke="#111" stroke-width="0.8">Anti-RSV isotype control</text>
<line x1="380.3" y1="52.7" x2="383.7" y2="52.7" stroke="#222" stroke-width="0.9" />
<rect x="381.2" y="51.9" width="1.6" height="1.6" fill="#222" />
<text transform="translate(385.4 51.8) scale(0.1)" font-size="32" text-anchor="start" fill="#111" stroke="#111" stroke-width="0.8">20 nmol/L anti-RSV isotype control</text>
<text transform="translate(385.4 55.8) scale(0.1)" font-size="32" text-anchor="start" fill="#111" stroke="#111" stroke-width="0.8">+ 0.2 nmol/L cetuximab</text>
<line x1="380.3" y1="62.3" x2="383.7" y2="62.3" stroke="#222" stroke-width="0.9" />
<path d="M382 61.3L383 63.1L381 63.1Z" fill="#222"/>
<text transform="translate(385.4 61.5) scale(0.1)" font-size="32" text-anchor="start" fill="#111" stroke="#111" stroke-width="0.8">20 anti-RSV isotype control</text>
<text transform="translate(385.4 65.3) scale(0.1)" font-size="32" text-anchor="start" fill="#111" stroke="#111" stroke-width="0.8">+ 1 nmol/L cetuximab</text>
<path d="M382 67.4L382.8 68.4L382 69.4L381.2 68.4Z" fill="none" stroke="#555" stroke-width="0.35"/>
<text transform="translate(385.4 69.5) scale(0.1)" font-size="32" text-anchor="start" fill="#111" stroke="#111" stroke-width="0.8">Anti-CD47 IgG1</text>
<rect x="4" y="127.9" width="84.5" height="9.1" fill="#e6dde2" />
<text transform="translate(46.25 133.8) scale(0.1)" font-size="39" text-anchor="middle" font-weight="bold" stroke="#111" stroke-width="1.2" fill="#111" >CRC</text>
<rect x="91.8" y="127.9" width="80.9" height="9.1" fill="#e6dde2" />
<text transform="translate(132.25 133.8) scale(0.1)" font-size="39" text-anchor="middle" font-weight="bold" stroke="#111" stroke-width="1.2" fill="#111" >SCCHN</text>
<rect x="175.8" y="127.9" width="85.4" height="9.1" fill="#e6dde2" />
<text transform="translate(218.5 133.8) scale(0.1)" font-size="39" text-anchor="middle" font-weight="bold" stroke="#111" stroke-width="1.2" fill="#111" >DLBCL</text>
<g clip-path="url(#c1)">
<rect x="4" y="137" width="40.7" height="45" fill="#d8d0d2" />
<g filter="url(#semi)">
<path d="M33.3 170.7h0M39.4 177.4h0M10.2 175.9h0M17.5 154.4h0M34 139.7h0M36.6 152.2h0M42.6 165.5h0M26.5 146.3h0M44.5 181.7h0M31.9 168.4h0M43.5 166h0M17.7 153.8h0M25.1 148.2h0M20.7 156.7h0M13.8 165.5h0M38.5 164.1h0M15.2 171.3h0M19 142.1h0M28.1 168h0M18.2 158.8h0M36.3 143.2h0M13.1 155.8h0M34.4 167.5h0M19.5 169.4h0" stroke="#f0ece8" stroke-width="2.2" stroke-linecap="round" fill="none"/>
<path d="M12.8 174.6h0M12.8 161.4h0M18.3 168.1h0M21.7 145.7h0M31.7 138.5h0M42.4 181.9h0M27.7 180.5h0M12 160.3h0M19.3 150.1h0M30.6 174.2h0M8.9 177.6h0M40.1 151.4h0M21.9 172.6h0" stroke="#e8e0dc" stroke-width="2.2" stroke-linecap="round" fill="none"/>
<path d="M6.1 179.5h0M13.5 152.8h0M25.7 178.8h0M15.2 152h0M32.3 144.6h0M17.2 155.4h0M25 159.4h0M30.2 151.3h0M37.2 138.5h0M10.7 178.8h0M19.6 165.1h0M28.3 168.4h0M4.1 147h0M5.5 155.7h0M6.6 163.5h0M8.2 145.9h0M40.7 142.2h0M37.2 139.6h0M32.5 157.9h0M36.4 168.9h0M10.5 159.3h0M21.8 167.3h0M43.9 176.2h0M30.4 153.7h0M17.4 141.9h0M31.9 177.5h0" stroke="#e8e0dc" stroke-width="1.2" stroke-linecap="round" fill="none"/>
<path d="M20.9 151.4h0M19.7 141.2h0M38.4 153.3h0M14.5 172.2h0M16.2 180.6h0M15.7 141.5h0M24.3 181.5h0M5.9 160.4h0M9.8 158.8h0M36.6 147.8h0M42.6 149.1h0M7.7 169.7h0M15.7 144h0M20.4 144.3h0M5.7 161.6h0M9.5 150.9h0M29.4 142.4h0M42.8 160h0M43.5 146.4h0M38.5 144h0M41.4 147h0M40.9 173.9h0" stroke="#dcdae4" stroke-width="2.2" stroke-linecap="round" fill="none"/>
<path d="M14 145.9h0M26.4 155.1h0M41.9 171.1h0M28.5 175.9h0M29.9 153.9h0M43.1 181.2h0M20.5 147.3h0M14.5 157.4h0M17.9 158.3h0M24.8 142.5h0M11 168.7h0M11 166h0M28.9 175.8h0M25.4 143.9h0M19.3 163h0M26.9 177.4h0M10.6 163.4h0M37.8 158.4h0" stroke="#dcdae4" stroke-width="1.7" stroke-linecap="round" fill="none"/>
<path d="M18.5 156.6h0M28 142.6h0M28 167.5h0M16.9 153.9h0M5.9 174.6h0M11.6 159.5h0M37.5 180.3h0M24.1 149.1h0M27.6 167h0M41.7 145.9h0M17.6 149h0M37.8 155.3h0M13 143.9h0M40.2 176.1h0M11.5 144.1h0M41.5 175.4h0M20.2 163.8h0M19.1 171.3h0M23.2 171.8h0M16.7 155.7h0M7.8 141.1h0M10.6 138h0M25.6 153.2h0M41.7 173.5h0M43.9 144.1h0M14.1 140.8h0M30.2 166.6h0M7.7 165.9h0" stroke="#ebe8ee" stroke-width="1.2" stroke-linecap="round" fill="none"/>
<path d="M29.8 157h0M12.5 170.2h0M23.7 138.1h0M14.2 178.1h0M4.5 146.1h0M26.1 144.3h0M6.4 156h0M13.8 174.1h0M35.7 157.1h0M24.4 159h0M31.7 165.1h0M16 146h0M18.2 153.6h0M22.5 147.7h0M4.5 165.2h0M33 169.8h0M36.4 168h0" stroke="#dcdae4" stroke-width="1.2" stroke-linecap="round" fill="none"/>
<path d="M21 174.8h0M32 151.3h0M26.5 171.3h0M40.4 168.2h0M36 175.9h0M31 145.3h0M13.3 165.1h0M16.5 179.7h0M34.8 155.5h0" stroke="#f0ece8" stroke-width="1.7" stroke-linecap="round" fill="none"/>
<path d="M23.3 149.5h0M23.2 159.9h0M6.7 173.5h0M32.1 137.2h0M42.9 178.8h0M15.8 174.8h0M31.3 153.2h0M18.2 169h0M37.8 177.2h0M24.9 178.8h0M10.3 140.2h0M4.8 167.3h0M5.5 151.6h0M37 159.6h0M25.7 169.2h0M43.6 172.4h0M42.1 140.6h0M16.8 165.5h0M15.3 141.5h0M33.6 147.3h0M6 146.7h0" stroke="#f0ece8" stroke-width="1.2" stroke-linecap="round" fill="none"/>
<path d="M20.4 152.9h0M4.3 175.2h0M24.7 169.1h0M9.9 153.5h0M17.2 158.6h0M16.7 146.9h0M36.2 162.9h0M28 143h0M39.7 164.3h0M6.5 154.3h0M40.2 178.2h0M38 163.5h0M31.3 159.3h0M24.5 159.7h0M15.2 171.7h0M33 177.3h0M38.7 177.1h0M37 149.1h0M44.2 139.4h0M39.1 146.4h0M9.1 175.4h0M15.2 165.6h0M31.4 141.3h0M40.5 151.3h0" stroke="#e8e0dc" stroke-width="1.7" stroke-linecap="round" fill="none"/>
<path d="M29.2 144h0M8.7 177.4h0M20.1 179.5h0M36.2 172.5h0M39.9 173.4h0M38 150.5h0M22.9 158.1h0M42.9 166h0M40.9 164.6h0M8.8 174.7h0M16.6 162.5h0M24.2 157.8h0M44.2 147.7h0M7.2 171h0M16.4 151.6h0M8.8 173.3h0M20 145.4h0M26.4 144.4h0M29.2 147.3h0M40.2 166.1h0M13.4 140.1h0" stroke="#e4e2ea" stroke-width="2.2" stroke-linecap="round" fill="none"/>
<path d="M18.8 177.3h0M10.5 138.8h0M8.4 145.9h0M11.3 143.9h0M39.9 164h0M35 162.8h0M8 178.1h0M8.1 178.9h0M39.8 160.2h0M30.6 144.3h0M35.5 171h0M40.9 166.7h0M39.6 181.8h0M27.9 147h0M5.3 148.6h0M31.7 169.8h0M16.5 153.2h0M33.9 148.5h0M11.8 171.8h0M30.6 156h0M21.6 159.9h0M30.8 176.1h0M31.3 170.4h0M44.3 156.8h0M42.2 146.9h0M21.7 175.3h0" stroke="#ebe8ee" stroke-width="2.2" stroke-linecap="round" fill="none"/>
<path d="M36 148.7h0M19.5 166.8h0M32.2 166.1h0M25.2 142.4h0M10.6 176.9h0M12.3 142.6h0M29.6 162.3h0M43.7 140.9h0M9.4 178.4h0M12.1 141h0M4.7 161.7h0M24.8 159.2h0M21.8 137.1h0M23.1 142.9h0M7.2 138.9h0" stroke="#ebe8ee" stroke-width="1.7" stroke-linecap="round" fill="none"/>
<path d="M42.2 154h0M9 180.7h0M26.4 178.5h0M9.1 150.6h0M24.7 168.7h0M7.5 175.3h0M43.6 139.9h0M43.3 155.2h0M21.4 176.2h0M8.5 172.9h0M5.8 169.2h0M43.8 156.7h0M22.8 146.6h0M10 173.3h0M40.9 179.7h0M9.4 153.8h0M15.9 149.5h0M16.4 139.1h0M30.3 158.9h0M14.3 173.6h0M38.1 176.2h0M20.8 170.9h0M44.5 159.9h0" stroke="#e4e2ea" stroke-width="1.2" stroke-linecap="round" fill="none"/>
<path d="M42.3 145.9h0M23.9 149.4h0M22.3 153.6h0M26.3 151.1h0M23.4 138.9h0M36.2 149.8h0M44.3 178.4h0M26.3 154.4h0M34.9 170.7h0M17.3 151.8h0M33.4 152.9h0M14.7 145.2h0M44.5 146.4h0" stroke="#e4e2ea" stroke-width="1.7" stroke-linecap="round" fill="none"/>
<path d="M35.7 178.2h0M22.9 174.8h0M17.5 164.1h0M31.2 144.7h0M39.9 165.6h0" stroke="#9ca6d0" stroke-width="1.4" stroke-linecap="round" fill="none"/>
<path d="M20.1 159.6h0M10.2 160.4h0M24.2 145.4h0M36.6 145.3h0M30.8 155h0M12.4 178.4h0M19.5 137.6h0M11.1 140.4h0M5.5 172.5h0M26.1 153.9h0M4.8 149.2h0" stroke="#aab2d6" stroke-width="0.8" stroke-linecap="round" fill="none"/>
<path d="M8.8 157.9h0M43.4 151.5h0M15.8 180.6h0M34.2 141.4h0M43.9 177.2h0M32.1 178.8h0M40.5 180.1h0M39.8 149h0M7.8 179.5h0M10 154.9h0M15.2 156.4h0M42.6 181.9h0M28.3 142.2h0M36.5 166.7h0M9.9 167.4h0" stroke="#aab2d6" stroke-width="1.1" stroke-linecap="round" fill="none"/>
<path d="M19.6 156.6h0M36.6 159.3h0M34.2 169.2h0M10.3 169.3h0M41.4 174.2h0M15.8 167h0M17.4 144h0" stroke="#9ca6d0" stroke-width="1.1" stroke-linecap="round" fill="none"/>
<path d="M25.1 162h0M26.8 155.7h0M27.8 151.1h0M25.6 158.5h0M27.4 138.4h0M18.1 144.2h0M24.1 153.8h0M33.9 150.7h0" stroke="#8e99c8" stroke-width="1.4" stroke-linecap="round" fill="none"/>
<path d="M5.7 157.2h0M42.2 177.4h0M14.5 173.6h0M34.2 167.5h0M36.3 165.4h0M42.8 155.6h0M32.9 168.6h0M36.8 164.2h0M29 153.7h0" stroke="#9ca6d0" stroke-width="0.8" stroke-linecap="round" fill="none"/>
<path d="M21.9 171.3h0M14.5 168.7h0M31.9 145.8h0M35 164.7h0M36.7 144.9h0M35.7 171.5h0M10.5 141.8h0M13.9 172.5h0" stroke="#8590c2" stroke-width="1.1" stroke-linecap="round" fill="none"/>
<path d="M22.1 178.2h0M6.6 168.2h0M15.5 163.4h0M8.7 159.9h0M16.5 148.1h0M11.1 166.3h0M19.9 143.3h0M44 172.4h0M21.7 145.7h0M31.8 139.1h0M8.2 152h0M27.9 147.7h0M5.9 176.5h0M27.5 154h0M33.8 174.7h0" stroke="#8590c2" stroke-width="1.4" stroke-linecap="round" fill="none"/>
<path d="M21.9 171.3h0M18.8 172.9h0M5.1 159.7h0M26.5 164.2h0M15.2 165.9h0M44.6 166.1h0M21.1 167h0M32 144.9h0M13 181.4h0M27.9 180h0M24.6 143.4h0M32.3 137.9h0M39.8 144.3h0M7.7 167h0" stroke="#8e99c8" stroke-width="0.8" stroke-linecap="round" fill="none"/>
<path d="M20.5 159.8h0M28.3 175.8h0M43.5 150h0M22.3 146.6h0M24 154.8h0M14.6 164.9h0M42.1 144.3h0M38 167.7h0M26.1 138.8h0" stroke="#8e99c8" stroke-width="1.1" stroke-linecap="round" fill="none"/>
<path d="M13.8 163.7h0M4.9 169h0M4.7 158.6h0M38.3 175.4h0M19.4 151.2h0M20.5 141.6h0M26.1 178.8h0M40.6 145.2h0M41.5 151.1h0M8 149.7h0M14 166.9h0" stroke="#aab2d6" stroke-width="1.4" stroke-linecap="round" fill="none"/>
<path d="M22.8 171.2h0M9.5 159.2h0M41.1 144.4h0M21.9 176.9h0M40.1 143.9h0M40.7 139.4h0M25.2 173.3h0M22.3 138.4h0" stroke="#8590c2" stroke-width="0.8" stroke-linecap="round" fill="none"/>
<path d="M12.1 146Q13 150.5 14.6 152.8Q16.2 155 13.8 157.2Q11.3 159.5 9.7 162.2Q8.1 164.9 10.1 167.8Q12.1 170.8 10.5 173.7Q8.9 176.6 8.1 179.3L7.3 182" fill="none" stroke="#8c97c8" stroke-width="8.5" stroke-linecap="round" stroke-linejoin="round" opacity="0.8" filter="url(#b08)"/>
<path d="M8.9 147.8Q12.1 146 14.2 147.3L16.2 148.7" fill="none" stroke="#8c97c8" stroke-width="3.5" stroke-linecap="round" stroke-linejoin="round" opacity="0.8" filter="url(#b05)"/>
<path d="M12.1 149.2Q14.6 153.2 13.4 155.2Q12.1 157.2 10.1 159.3Q8.1 161.3 8.5 163.6Q8.9 165.8 10.9 168.1Q13 170.3 10.5 173L8.1 175.7" fill="none" stroke="#e2e0ee" stroke-width="2.2" stroke-linecap="round" stroke-linejoin="round" opacity="0.9" filter="url(#b03)"/>
<path d="M19.7 150.2h0M11.8 180.8h0M7.9 152.7h0M12.6 155.4h0M10.4 148.8h0M6.2 170.5h0M9.2 150.2h0M15.1 142.6h0M21.5 155.6h0M16.4 144.9h0M8.8 151.4h0M20.1 156h0M15.8 148.5h0M6.5 167.2h0M8.2 153.2h0M4.8 175.8h0" stroke="#6f7ab8" stroke-width="0.8" stroke-linecap="round" fill="none"/>
<path d="M16.5 160.2h0M13.8 165.2h0M14.2 160.2h0M5.8 179h0M9 155.8h0M14.4 168.4h0M16.1 159.5h0M14.4 141.4h0M12.2 175.7h0" stroke="#808bc4" stroke-width="1.1" stroke-linecap="round" fill="none"/>
<path d="M15.7 176.2h0M5.8 158.9h0M14.3 178.2h0M10.3 153.4h0M17.5 161.1h0M14.4 141.4h0M11.5 154.6h0M7.3 171.8h0M10.2 180h0M6 170.3h0M8.6 144.1h0M12.6 177h0M16.9 161h0" stroke="#6f7ab8" stroke-width="1.1" stroke-linecap="round" fill="none"/>
<path d="M6.7 167h0M16.3 147.5h0M9.2 146.8h0M6.3 172.9h0M14.7 147.9h0M7.3 158.2h0M6.9 171.5h0M17.5 152.9h0M12.5 163.3h0M11.9 152.6h0" stroke="#808bc4" stroke-width="0.8" stroke-linecap="round" fill="none"/>
<path d="M6.7 161.9h0M15.5 160.1h0M4.3 163h0M14.8 167.3h0M15.2 164.5h0M5.1 169.5h0M7 147.8h0M8.5 169.7h0M14.5 143.8h0M8.3 157.5h0M7.9 170.8h0M13.3 141h0M5.9 166.5h0M6.5 162.3h0" stroke="#7681bd" stroke-width="0.8" stroke-linecap="round" fill="none"/>
<path d="M13.4 174.9h0M14.1 167.6h0M12.2 181.1h0M17.3 143.6h0M7.6 157.9h0M6 168.7h0" stroke="#808bc4" stroke-width="1.4" stroke-linecap="round" fill="none"/>
<path d="M18.2 158.8h0M12.4 175.8h0M5.5 162.4h0M17.2 147.8h0M11.1 181.7h0M8.6 143.6h0" stroke="#7681bd" stroke-width="1.4" stroke-linecap="round" fill="none"/>
<path d="M13.8 160.4h0M6.4 177.2h0M11.2 178.2h0M15 170.2h0M13.4 141.4h0M5.1 160.7h0M8.1 172.8h0M14.7 167.1h0M15.6 141.8h0M7.5 155h0M16 173.6h0M17.8 151.6h0" stroke="#7681bd" stroke-width="1.1" stroke-linecap="round" fill="none"/>
<path d="M8.5 144.8h0M8.1 151.2h0M19.5 157.2h0M4.2 164.3h0" stroke="#6f7ab8" stroke-width="1.4" stroke-linecap="round" fill="none"/>
<path d="M9.3 180.9h0M10.6 151.1h0M10.8 160.7h0" stroke="#eeeaf2" stroke-width="1.1" stroke-linecap="round" fill="none"/>
<path d="M9.9 161.7h0M18.8 158h0M9 169.4h0M9.4 166.4h0" stroke="#d2d2e8" stroke-width="1.1" stroke-linecap="round" fill="none"/>
<path d="M12.3 145.3h0M8.5 172.1h0M11.5 142.1h0M16 148.9h0" stroke="#d2d2e8" stroke-width="0.8" stroke-linecap="round" fill="none"/>
<path d="M12.8 143.2h0M6.9 174.7h0M8.3 174.1h0M10.1 160.8h0M11.3 147.9h0M12.1 149.6h0M9.4 178.9h0" stroke="#eeeaf2" stroke-width="1.4" stroke-linecap="round" fill="none"/>
<path d="M15.6 145.4h0M18.7 153.2h0M11.9 154.8h0M8.6 162.7h0" stroke="#c4c6e0" stroke-width="1.4" stroke-linecap="round" fill="none"/>
<path d="M6.2 167h0M10.2 175.3h0M11.6 168.7h0M13.2 173.7h0M4.4 179h0M5.2 175.6h0" stroke="#d2d2e8" stroke-width="1.4" stroke-linecap="round" fill="none"/>
<path d="M9 172.7h0M15.1 160h0M14.8 146.8h0M6.5 177.7h0M8.9 148.7h0M14.3 158.3h0M16.4 155h0" stroke="#c4c6e0" stroke-width="0.8" stroke-linecap="round" fill="none"/>
<path d="M15.9 156.5h0M8 174.9h0M11.6 152.1h0M10.6 158h0M7.8 178.2h0M8.7 167h0M7.2 180.7h0M10.7 172.9h0M9.9 161.9h0" stroke="#eeeaf2" stroke-width="0.8" stroke-linecap="round" fill="none"/>
<path d="M20 155.9h0M7 173.8h0M11.4 160.3h0M12.4 158h0M8.3 176.6h0M5.3 161.6h0" stroke="#c4c6e0" stroke-width="1.1" stroke-linecap="round" fill="none"/>
<path d="M44.7 154.1Q41.4 159.5 42.5 162.2Q43.5 164.9 42.7 167.8L41.9 170.8" fill="none" stroke="#8c97c8" stroke-width="4.5" stroke-linecap="round" stroke-linejoin="round" opacity="0.8" filter="url(#b08)"/>
<path d="M43.5 157.2Q41.9 163.1 42.9 165.8L43.9 168.5" fill="none" stroke="#e6e4f0" stroke-width="1" stroke-linecap="round" stroke-linejoin="round" opacity="0.8"/>
<path d="M39.3 140.5h0M27.4 142.9h0M23.2 152.4h0M32 157.4h0M37.1 157.2h0M32.8 153.5h0M21.9 138.8h0M40.7 152.5h0M39 161.4h0M27.2 150.6h0M17.7 137.2h0M34 141.4h0M24.7 138.8h0" stroke="#ad7448" stroke-width="1.1" stroke-linecap="round" fill="none"/>
<path d="M40.3 179.2h0M44.4 162.8h0M23.4 149.8h0M34.5 161.6h0M40 151.4h0M33.8 153.3h0M32.3 171.3h0M42.3 149.9h0M32.2 149.4h0M25.9 153.2h0" stroke="#b98258" stroke-width="0.6" stroke-linecap="round" fill="none"/>
<path d="M18.3 181h0M33.1 175.4h0M36.2 172.1h0M29.3 153.5h0M36.2 146h0M37.8 177.1h0M22.2 179.3h0M16.8 175.8h0M22.1 138.4h0M35.3 159.9h0M23 173.2h0M38 166.4h0M40.5 166.1h0M31.2 146.7h0M32.6 174.4h0M25.7 154h0M31.7 167.4h0M22.7 178.8h0M25.6 147.3h0M18 138.9h0M23.2 147.7h0M31.9 148.4h0M28.5 152.5h0M17.4 164.6h0M24.9 181.6h0M43.3 167.3h0" stroke="#b98868" stroke-width="0.85" stroke-linecap="round" fill="none"/>
<path d="M33.9 172.3h0M25.2 145.6h0M38.2 179.3h0M34.9 179.2h0M22.2 139.3h0M39 171h0M26.6 152.6h0M31.8 176.1h0M19.1 160.2h0M23.3 151.4h0" stroke="#a0663c" stroke-width="0.6" stroke-linecap="round" fill="none"/>
<path d="M27.6 169.1h0M33 146h0M35 178.5h0M27.7 158.9h0M29.1 145h0M27 150h0M25.5 160.7h0M34.8 168.7h0M44.6 158.1h0M34.4 153.7h0M17 140.8h0M27.9 155h0M36.9 154.3h0M24.9 176.8h0" stroke="#a0663c" stroke-width="1.1" stroke-linecap="round" fill="none"/>
<path d="M43.1 172h0M28.6 148.5h0M18.2 146.7h0M25.9 168.9h0M25.3 172.2h0M39.8 151.3h0M41.7 172.8h0M22.9 144.4h0M36.1 143.4h0M44.7 160.6h0M33.9 143.8h0M27.1 178.1h0M21.9 167h0M43.4 175.7h0M38.7 162.5h0M18.9 142.3h0M15.4 179.2h0M25.7 171.8h0M38.4 171.4h0M25 140.9h0M28.6 141h0M22.3 163.2h0" stroke="#c09070" stroke-width="1.1" stroke-linecap="round" fill="none"/>
<path d="M19.4 162.4h0M34.7 173.6h0M28.8 164.7h0M23.3 158.9h0M36 143.5h0M20.9 181.3h0M20.5 139h0M28.5 142.2h0M33.3 177.8h0M43.2 157h0M20.5 147.1h0M39.9 170.8h0M44.2 167.7h0M33.6 162.8h0M19 163.5h0M29.4 176.8h0M44.1 142.4h0M21.6 148.5h0M31.5 155.5h0M30.8 147.9h0M36.8 147.3h0M30.8 156.6h0M17.5 163.1h0M33.9 167.6h0M33.2 149.3h0" stroke="#b98868" stroke-width="0.6" stroke-linecap="round" fill="none"/>
<path d="M34 137.9h0M31.4 167.3h0M24.6 155.4h0M17.6 138.8h0M41.9 152.5h0M33.4 147.2h0M25.6 145h0" stroke="#ad7448" stroke-width="0.6" stroke-linecap="round" fill="none"/>
<path d="M17 137.4h0M41.1 156.5h0M27.1 169.3h0M35.4 170.9h0M28.3 137.4h0M22.7 179.8h0M33.9 156.3h0M24 155.9h0M24.6 162.2h0M37.2 161.4h0M26.5 154.6h0M27.9 175.3h0M37.7 166.5h0M35.1 180.4h0M23.6 169.1h0M31 145.1h0M35.8 180.6h0M6.7 152.3h0M41.5 147.5h0M41.2 173.9h0" stroke="#b98868" stroke-width="1.1" stroke-linecap="round" fill="none"/>
<path d="M29.4 147.5h0M41.7 170.9h0M32.8 166.2h0M41.4 151.5h0M24 164.6h0M5.3 146.2h0M26.6 153.1h0M32 156.9h0M36.3 171h0M41.2 175.8h0M44.5 137h0" stroke="#96582e" stroke-width="0.85" stroke-linecap="round" fill="none"/>
<path d="M18.7 176.4h0M35.6 144h0M44.2 179.4h0M32.4 155.7h0M22.5 151.2h0M39.7 140.3h0M26.4 164.7h0M27.1 139h0M40 172.2h0M21.6 164.8h0M20.7 142.2h0M21.8 144h0M24.6 155.5h0M26.4 146.5h0M17.3 137.7h0M31.6 156.5h0M13.4 137.1h0M31.4 151.8h0M34.4 141h0M33.8 151.6h0" stroke="#c8a080" stroke-width="0.85" stroke-linecap="round" fill="none"/>
<path d="M37.7 138.9h0M29.9 163.9h0M16 141.8h0M38.8 155h0M32.7 174.2h0M39.2 164.3h0M19.5 163.9h0M26.9 161.1h0M38.3 158.8h0M23.8 139.3h0M38 164.8h0M39.8 139.4h0M21 168.9h0M39.4 156.9h0M21.3 174h0M17.6 165.3h0M33.2 138.8h0M30.9 169.2h0M31.5 157.1h0M19.6 159.8h0M24.7 155.2h0M27.2 149.2h0M29.2 146.7h0" stroke="#c09070" stroke-width="0.85" stroke-linecap="round" fill="none"/>
<path d="M37 172.8h0M17.7 139.8h0M26.7 178.1h0M31.6 137.9h0M32.8 167.7h0M23.1 173.3h0M43.5 150.5h0M29.5 174h0M31.9 161.1h0M35.8 169.1h0M26.5 161.5h0M32.1 177.8h0M38.5 156.8h0M37.2 156.5h0M25.3 169.9h0M32.8 153.6h0M40.5 139.1h0M27.3 147h0M24.2 158.2h0M33.5 149.3h0M22.1 176.5h0M24 160.9h0M30.8 144.7h0M21.4 174.5h0M11.9 148.2h0M41.9 172.1h0M26 173.1h0M26.5 164.9h0M24.6 171.2h0M28.9 166.1h0M38.5 154.4h0" stroke="#c8a080" stroke-width="0.6" stroke-linecap="round" fill="none"/>
<path d="M21 174h0M31.7 174.2h0M38.4 154.9h0M37.6 170.1h0M44.1 141.2h0M34.8 170.8h0M29.6 147.5h0M23.1 146.3h0M31.5 173.5h0M11.6 139.5h0" stroke="#ad7448" stroke-width="0.85" stroke-linecap="round" fill="none"/>
<path d="M29.6 163.8h0M20.3 161.9h0M29.9 173.8h0M36.8 156.3h0M39.4 177.6h0M30.3 139h0M28.2 171.9h0M26.2 153.6h0M27 164.8h0M31.5 164.1h0M37.3 176.1h0M28.3 152.1h0M38.1 178.2h0" stroke="#b98258" stroke-width="1.1" stroke-linecap="round" fill="none"/>
<path d="M13.7 139.7h0M27.9 173.2h0M42.7 152.2h0M30.3 147.6h0M28.7 155.8h0M19.1 163.7h0M31.2 150.4h0M18 177.9h0M27.8 162.9h0" stroke="#96582e" stroke-width="0.6" stroke-linecap="round" fill="none"/>
<path d="M26.4 148.5h0M34 170.1h0M39.6 154.2h0M36.1 175h0M14.2 163.9h0M20.8 172.4h0M38.6 150.7h0M24.6 141.4h0M35.1 153.6h0M20.1 146.9h0" stroke="#b98258" stroke-width="0.85" stroke-linecap="round" fill="none"/>
<path d="M34 154.2h0M29.2 158.4h0M30.2 181.8h0M20.6 163.8h0M38.2 168.3h0M31.3 156.6h0M29.6 150.2h0M26.4 166.5h0M40.5 178.1h0M28.9 155.2h0M29.7 140.7h0M29.1 139.7h0" stroke="#a0663c" stroke-width="0.85" stroke-linecap="round" fill="none"/>
<path d="M29.3 140.8h0M36.7 159.2h0M28.4 145.8h0M29.4 165.9h0M34.4 157.1h0M33.9 169.3h0M29.7 166h0M22.9 175.9h0M38.1 158.9h0M35.2 142.9h0M34.5 160.1h0M29.4 156.4h0M31.1 158.7h0M28.6 171.5h0M20.1 162.5h0M21.7 137.4h0M39.6 154.1h0M33.3 159.3h0M24.9 160.2h0M25.8 177.7h0" stroke="#c8a080" stroke-width="1.1" stroke-linecap="round" fill="none"/>
<path d="M28 144.1h0M37.8 171.3h0M27.2 171h0M30.5 142.3h0M30.7 179.9h0M21.2 177.1h0M26.6 163.8h0M24.5 147.7h0M23.5 156.2h0M35.6 158.6h0M29.7 159.7h0M21.7 171.6h0M19 137.1h0M27.6 175.8h0" stroke="#c09070" stroke-width="0.6" stroke-linecap="round" fill="none"/>
<path d="M23.2 143.8h0M36.2 162.2h0M24.8 175.2h0M36.5 175.9h0M32.3 145.1h0M35.5 180.5h0M28.4 139.4h0M17.1 168h0M15.6 178h0M17.9 181.7h0M24.5 173.8h0M36.7 161.9h0M20.5 169.4h0M36.7 176h0" stroke="#8c4e28" stroke-width="0.6" stroke-linecap="round" fill="none"/>
<path d="M36.6 169.5h0M31.1 169.4h0M15.8 146.6h0M19.1 162.3h0M41.5 143.3h0M30.5 174h0M21.2 137.2h0" stroke="#8c4e28" stroke-width="0.85" stroke-linecap="round" fill="none"/>
<path d="M19.6 171h0M30.5 171h0M29.6 150.3h0M23.5 168.7h0M28.4 151h0M20 148.8h0M25.3 160.1h0M37 165.8h0M39.4 153.9h0M30.1 141.8h0M34.3 172.5h0M30.1 138.4h0M24.4 174.8h0" stroke="#96582e" stroke-width="1.1" stroke-linecap="round" fill="none"/>
<path d="M11.4 176.6h0M18 180.6h0M21.1 142.9h0M33.8 152.2h0M30.5 163.2h0M34.4 151.5h0" stroke="#8c4e28" stroke-width="1.1" stroke-linecap="round" fill="none"/>
<path d="M39.8 138h0M40.9 138.7h0M26.9 141.9h0M4.3 157.9h0M36.1 149.7h0M30.5 139.5h0M22 144h0M23.3 146.6h0M24.2 170.3h0M28.4 148h0" stroke="#85461f" stroke-width="0.85" stroke-linecap="round" fill="none"/>
<path d="M27.1 160h0M17.3 141.7h0M39.2 149.8h0M43.6 151.3h0M4.6 145.7h0M35.9 143.3h0M28.2 160.9h0M22.2 153.6h0M27 141.3h0M19 150.1h0" stroke="#7a3e1c" stroke-width="1" stroke-linecap="round" fill="none"/>
<path d="M38.5 149.9h0M42.2 152.1h0M27 178.1h0M21.9 150.6h0M37.4 150.6h0M35.4 152.7h0M6.2 175.1h0M43.4 152.7h0M28.4 179.1h0M43 147.7h0M21.9 145.4h0" stroke="#85461f" stroke-width="0.7" stroke-linecap="round" fill="none"/>
<path d="M21.5 147.4h0M31.2 138.3h0M26.7 144.4h0M25.6 145.4h0M34.8 140.2h0M40.7 169.9h0M44.6 150.5h0M11.2 148h0M7.8 176.8h0M17.1 166.4h0" stroke="#85461f" stroke-width="1" stroke-linecap="round" fill="none"/>
<path d="M32.3 138.3h0M24.9 177.1h0M25.3 143.7h0M24.4 174.5h0M35.3 146.2h0M25.8 149.8h0M20.5 173.2h0M21 154.2h0M25.3 152.6h0" stroke="#7a3e1c" stroke-width="0.85" stroke-linecap="round" fill="none"/>
<path d="M35.1 146.5h0M33.4 149.8h0M28.2 163.3h0M39.2 175.9h0M24 139.6h0M21.7 155.6h0M35.7 148.2h0M29.8 147.8h0M38.4 148.2h0M32.8 147.1h0" stroke="#7a3e1c" stroke-width="0.7" stroke-linecap="round" fill="none"/>
</g></g>
<text transform="translate(24.35 187.6) scale(0.1)" font-size="41.5" text-anchor="middle" font-weight="bold" stroke="#000" stroke-width="1.2" >CD163</text>
<g clip-path="url(#c2)">
<rect x="48.5" y="137" width="39.6" height="45" fill="#dad6de" />
<g filter="url(#semi)">
<path d="M77.9 161.5h0M59.2 152.6h0M71.3 159.6h0M74.4 175.3h0M53.6 142.7h0M73.7 177.2h0M59.3 157.8h0M72.5 162.1h0M52.8 162.1h0M53.5 158.4h0M49 146.8h0M52.9 160h0M62.9 160.5h0M54.5 146.2h0M84.1 181.4h0M58.2 139.4h0M70.7 181.5h0M65.7 137.9h0M52.8 152.3h0M61.1 139.6h0M74.6 142h0M59.8 167.3h0" stroke="#dcdae4" stroke-width="2.2" stroke-linecap="round" fill="none"/>
<path d="M66.7 169.9h0M85.3 159h0M62.7 161.4h0M61.3 163.3h0M87.9 159.9h0M62.2 166.2h0M84.5 171.9h0M49.6 179.8h0M77.3 157.8h0M76 174.3h0M50.6 150.4h0M66 179.9h0M74.5 139.1h0M70 155h0M85.3 179.6h0M52.9 146h0M61.3 145.6h0M84.6 143.3h0M57.5 155.5h0" stroke="#f0ece8" stroke-width="1.2" stroke-linecap="round" fill="none"/>
<path d="M84.8 162.7h0M84.8 143.9h0M85.5 163.6h0M48.9 139.8h0M67.8 153.8h0M70.4 144.4h0M84.1 177.1h0M87.6 179.4h0M86.9 147h0M56.1 163h0M81 167.6h0M63.7 177.1h0M66.1 144.3h0M49 155h0M82.9 161.8h0M52 176.1h0M56.6 151.2h0M82.2 181.5h0M53.2 149h0M64.2 139.9h0M77.3 169.1h0M88 148.5h0M74.9 165.5h0M58.2 150.3h0" stroke="#ebe8ee" stroke-width="1.7" stroke-linecap="round" fill="none"/>
<path d="M66 168h0M68.5 165h0M71.7 164.6h0M71.8 179.6h0M54.3 148.4h0M64.5 161.1h0M59.3 140.5h0M86.2 164.9h0M74.1 164.8h0M56.5 159.3h0M53.5 153.4h0M62.1 169.3h0M69.4 147.3h0M58.2 163.3h0M76.4 178.9h0M51.4 179.5h0M78.8 170h0M76.4 176.6h0M70.5 161.6h0M69.5 161.1h0M67.8 139.4h0M51 181.7h0" stroke="#e8e0dc" stroke-width="1.7" stroke-linecap="round" fill="none"/>
<path d="M63 167.4h0M80.7 154.2h0M64.2 167.9h0M50.4 157.5h0M86.9 166.2h0M55.5 178.2h0M56 147.9h0M76.6 154.5h0M54.1 146.3h0M70.7 178.2h0M87.1 162.7h0M66.2 154.3h0M84.1 137.9h0M75 143.8h0M72.2 141.2h0M76.5 153.8h0M66.5 168.1h0M78.2 157.9h0M83.5 152h0M59.1 141.4h0M79 156.2h0M63.1 173.7h0M65.8 146.1h0M56.2 155.1h0M54.9 149.1h0M77.3 171.9h0M85.9 171.6h0" stroke="#f0ece8" stroke-width="2.2" stroke-linecap="round" fill="none"/>
<path d="M58 158h0M87.8 174.8h0M61.3 150.5h0M62 179.6h0M76.6 160.2h0M70.6 168.5h0M68.3 158.3h0M50.6 151.6h0M84.7 151.2h0M80 155.4h0M85.8 144.6h0M53.2 159.8h0M69.5 150.2h0M70.4 158.8h0M56.4 176.1h0M80.7 144.6h0M82.1 145.4h0" stroke="#ebe8ee" stroke-width="1.2" stroke-linecap="round" fill="none"/>
<path d="M80.3 169h0M79.2 152.5h0M85.6 150.3h0M77.8 169.1h0M48.7 153h0M58.3 179.3h0M66.7 142.2h0M78 146.3h0M58.8 176.9h0M69.1 142h0M65.3 161.7h0M87.9 142.4h0M87.1 177h0M64.1 170.9h0M81.9 180.9h0M68.7 159.3h0M54.2 170.3h0M75.8 150.2h0M87.1 155h0" stroke="#e4e2ea" stroke-width="1.7" stroke-linecap="round" fill="none"/>
<path d="M52.8 143.4h0M59.4 177.3h0M78.4 144.9h0M53.3 178.9h0M56.9 162.1h0M79.8 166.2h0M50.3 173.8h0M84.7 181.7h0M53.7 139.3h0M55 140.6h0M69.7 176.9h0M79.1 169.7h0M87.6 143.7h0M85.1 147.2h0M77.6 174.6h0M61.3 169.1h0M86.2 147.3h0M49.8 163.1h0M58.8 138h0M80.8 174h0M81.1 169h0M78.3 152.6h0M78.7 169.1h0" stroke="#f0ece8" stroke-width="1.7" stroke-linecap="round" fill="none"/>
<path d="M52.4 145.5h0M84 155.1h0M58.1 175.7h0M75.7 156.8h0M60.1 155.8h0M67.6 137.5h0M86.4 146.9h0M66.7 146.5h0M62.1 142.2h0M49 171.3h0M53 163.5h0M65.4 174.3h0M55.4 145.3h0M64.3 169h0M51.4 147h0M80.5 148.3h0M76.8 153h0M81 176.1h0M53.5 165.2h0M75.6 172.2h0" stroke="#e8e0dc" stroke-width="2.2" stroke-linecap="round" fill="none"/>
<path d="M58.7 150.2h0M52.4 156.9h0M76.3 172.7h0M81.7 152.5h0M65.4 146.1h0M66.7 137.6h0M73.7 147.2h0M66.2 154h0M63.7 161.4h0M81.4 138.3h0M64.8 181h0M53.8 176.7h0M79.7 151.7h0M84.4 149.6h0M58 176.6h0M57 170.6h0M85.4 169.6h0M62.9 157h0M54.9 149.9h0M70.1 161.5h0" stroke="#dcdae4" stroke-width="1.2" stroke-linecap="round" fill="none"/>
<path d="M76.3 170h0M83.5 143.6h0M67.8 178.6h0M83.4 139.1h0M55.1 167h0M54.6 151.7h0M87.9 164.8h0M81.8 181.6h0M82.7 152.9h0M61.1 167.1h0M60.3 151.3h0M76 146.3h0M80.5 146h0M80.9 146h0M71.5 181.7h0M66.8 179.2h0M53.1 176.6h0M76.8 141.4h0M69.7 157.8h0M76.4 145.6h0M49.2 137.9h0M50.1 153.3h0" stroke="#e4e2ea" stroke-width="1.2" stroke-linecap="round" fill="none"/>
<path d="M58.1 142.3h0M60.7 178.7h0M62.5 174h0M51.1 146.3h0M56.5 167.8h0M68.6 181.6h0M60.8 179.9h0M58.6 178.5h0M83.4 156.4h0M52.1 139.4h0M65.3 162.6h0M80.6 156.1h0M76.7 160.3h0M57.2 173.5h0M77.6 153.2h0M54.2 160.1h0M65.2 165.4h0M65.3 173.4h0M67.7 161.7h0M80.2 163.4h0M75.4 180.5h0M78.2 143.4h0M87.9 143.4h0M54 143.9h0" stroke="#e4e2ea" stroke-width="2.2" stroke-linecap="round" fill="none"/>
<path d="M51.6 181.1h0M70.3 164.2h0M84.3 144.7h0M54.5 153.1h0M85.5 149.8h0M60.8 142h0M69.4 151.2h0M82.5 155.9h0M53.6 176.8h0M63 170.3h0M76.4 142.6h0M60.8 155.5h0M75.3 159.7h0M84.9 143.6h0M67.3 150.6h0M67.8 149.2h0M70.2 171.8h0M68.3 140.5h0M63.7 163.8h0M58 163.3h0" stroke="#e8e0dc" stroke-width="1.2" stroke-linecap="round" fill="none"/>
<path d="M55.1 154.2h0M58.3 154.4h0M79.7 155.4h0M67.9 172.4h0M71.2 164.8h0M80.1 147.8h0M72.3 174.1h0M72.4 168h0M80.1 165.1h0M53.1 149h0M53.3 153.6h0M60.9 180.7h0M72.1 141.3h0M54.6 153.3h0M52.5 146.9h0M57.5 156.8h0M49.4 160h0M76.7 138.6h0M67.2 154h0M88 171.4h0M83.7 163.6h0" stroke="#ebe8ee" stroke-width="2.2" stroke-linecap="round" fill="none"/>
<path d="M56.3 159.5h0M80.5 142h0M61.1 158.5h0M63.3 164.3h0M73.7 161.4h0M75.7 151.1h0M61.2 160.7h0M85.4 178.3h0M63.6 175.5h0M83.6 172.2h0M72.1 147.2h0M77.8 168.7h0M68.4 159.8h0M75.3 137.7h0M85.6 167.3h0M82.1 139.4h0M76.2 161.4h0M55.1 175.3h0M63.4 148.2h0M68.9 137.7h0" stroke="#dcdae4" stroke-width="1.7" stroke-linecap="round" fill="none"/>
<path d="M52.6 155.2h0M56.4 145.5h0M69.3 155h0M67.7 139.1h0M70.4 178.7h0M57.8 143.3h0M69.6 139.9h0M75.7 181.4h0M88.1 180.3h0M56.8 180.5h0M64.4 141.9h0M59.7 154.8h0M68.2 146.4h0" stroke="#9ca6d0" stroke-width="0.8" stroke-linecap="round" fill="none"/>
<path d="M49.5 168.6h0M55.6 165.2h0M50 155.5h0M67 177.1h0M74.2 176.2h0M51.7 175.2h0M52.1 168.6h0M63.1 140h0M82 181.8h0M73.1 163.7h0M55.1 161.9h0M58.7 141h0M53.3 142.2h0M49.5 149.5h0M62.9 144.9h0" stroke="#aab2d6" stroke-width="1.1" stroke-linecap="round" fill="none"/>
<path d="M78 139.7h0M82.1 146.1h0M55.2 155.6h0M49.7 155.1h0M61.1 169.4h0M61.2 137.7h0M82.2 153.8h0M82.5 171.2h0M78.9 152.3h0M63.1 178.2h0M71.6 179.8h0M62 152.6h0M54.9 154.2h0M53.3 143.3h0M63.7 142.6h0M64.4 140.5h0M51.3 168.6h0" stroke="#8e99c8" stroke-width="0.8" stroke-linecap="round" fill="none"/>
<path d="M60.4 150.7h0M55.8 179.6h0M65.1 168.3h0M52.2 165.5h0M56.2 177.9h0M61.9 172.8h0M83.3 138.9h0M63.1 176.4h0M85 147.6h0M58.7 157.3h0M70.8 161.1h0" stroke="#8590c2" stroke-width="1.4" stroke-linecap="round" fill="none"/>
<path d="M72.9 166h0M74.8 163.3h0M63 139.3h0M57 150.3h0M82.1 137.8h0M62.2 179.2h0M82.1 175h0M71.4 165.6h0M76.4 169.1h0M85.8 145h0M57.4 154.6h0M53.3 168.4h0M65 161.9h0M61.1 160.6h0M73.1 176.9h0M49.2 173.5h0M55.9 152.5h0" stroke="#8e99c8" stroke-width="1.1" stroke-linecap="round" fill="none"/>
<path d="M76.9 148.9h0M81.6 167.2h0M80 158.9h0M73.6 157h0M51.3 173.3h0M63.1 138.5h0M61.9 157.9h0M85.6 177.4h0M75.1 169.4h0M57.7 154.7h0M52.1 167h0M78.5 177.1h0M83.4 148.7h0M86.8 156.5h0M55.3 168.5h0M82.5 149.7h0M64.3 161.7h0M78.3 167.9h0M85 170.8h0M62.6 177.2h0M74.7 176.7h0" stroke="#9ca6d0" stroke-width="1.1" stroke-linecap="round" fill="none"/>
<path d="M83.7 158.9h0M74 145.6h0M59.1 159h0M68.7 173.8h0M75.5 151.8h0M57.7 154.5h0M61.1 139.3h0M72 169h0M53.7 153.3h0M72.9 167.1h0M70.9 147.9h0M70.7 173.6h0M63.9 138.9h0M60.9 143.6h0M63.9 168.4h0M48.9 179h0M62.7 148.2h0M56.1 144.4h0" stroke="#aab2d6" stroke-width="0.8" stroke-linecap="round" fill="none"/>
<path d="M60.6 143.2h0M48.6 144.1h0M49 168.3h0M71.3 150.9h0M63.4 150.1h0M54.7 172.8h0M54.3 162.1h0M87.3 144.8h0M76.7 138.5h0M52.8 149.7h0" stroke="#aab2d6" stroke-width="1.4" stroke-linecap="round" fill="none"/>
<path d="M63.7 147.7h0M59.2 169.4h0M72.2 142.3h0M84.1 145.5h0M50.4 165.6h0M58.7 168.7h0M84.7 169.4h0M61.2 151.4h0M61.2 139.7h0M69.6 146.7h0M69.4 179.3h0M62.8 145.2h0M63.3 175.4h0M80.6 172.4h0M52.4 160.4h0M56 161.5h0M64.8 168.8h0M59.2 179.9h0M57.4 169.9h0" stroke="#8e99c8" stroke-width="1.4" stroke-linecap="round" fill="none"/>
<path d="M72.2 175.2h0M49.5 171.1h0M84.2 137.6h0M54.4 151.7h0M66.2 155.3h0M60.7 173.1h0M59.8 175.8h0M72.7 144.8h0M86.5 149.9h0M76.7 166.4h0M83.5 141h0M58.8 173.9h0" stroke="#9ca6d0" stroke-width="1.4" stroke-linecap="round" fill="none"/>
<path d="M82.5 143.1h0M64.5 160.5h0M64.8 150.2h0M75.1 167.8h0M66 164h0M81.1 156.5h0M58.1 161h0M64.7 159.9h0M78.2 144.8h0M66.3 137.8h0M60.5 181.2h0M55.8 152.6h0M57.3 179.5h0" stroke="#8590c2" stroke-width="1.1" stroke-linecap="round" fill="none"/>
<path d="M52.1 164.7h0M67.7 144.6h0M58.1 147.8h0M63.6 165.3h0M76.7 149.8h0M53.7 158.3h0M58.4 147.2h0M55.5 168.2h0M60.3 155.2h0M63.6 166.9h0M51.4 176.9h0M58.2 179.1h0M87.6 178.5h0M81.3 167.3h0" stroke="#8590c2" stroke-width="0.8" stroke-linecap="round" fill="none"/>
<path d="M54.8 182Q54.8 175.7 57.6 173.9Q60.4 172.1 63.2 173.9Q65.9 175.7 66.3 178.8L66.7 182" fill="none" stroke="#8792c6" stroke-width="5" stroke-linecap="round" stroke-linejoin="round" opacity="0.85" filter="url(#b08)"/>
<path d="M57.2 180.7Q58 176.6 59.6 175.9Q61.2 175.2 62.4 176.8L63.5 178.4" fill="none" stroke="#e6e4f0" stroke-width="1.5" stroke-linecap="round" stroke-linejoin="round" opacity="0.9" filter="url(#b03)"/>
<path d="M66.5 181.7h0M64.7 179.6h0M63 177h0M63.5 173.9h0M57.4 181h0" stroke="#6f7ab8" stroke-width="1.4" stroke-linecap="round" fill="none"/>
<path d="M61.7 172.9h0M64.5 180.5h0M66 181.5h0M65.1 179.5h0" stroke="#7681bd" stroke-width="1.4" stroke-linecap="round" fill="none"/>
<path d="M66.2 178.8h0M57.8 175.2h0" stroke="#808bc4" stroke-width="1.4" stroke-linecap="round" fill="none"/>
<path d="M62.9 176.2h0M57.3 182h0M56.4 178.7h0M61.6 172.9h0" stroke="#6f7ab8" stroke-width="1.1" stroke-linecap="round" fill="none"/>
<path d="M62.2 175.9h0M57 173h0M62.3 170.5h0M57.9 173.6h0M63.2 176.8h0M54.6 181.8h0M63.9 178.7h0" stroke="#808bc4" stroke-width="1.1" stroke-linecap="round" fill="none"/>
<path d="M64.3 173h0M54.3 179.5h0M67.1 178.8h0M53.8 182h0M68.4 180.1h0" stroke="#6f7ab8" stroke-width="0.8" stroke-linecap="round" fill="none"/>
<path d="M64.3 180.8h0M57.5 175.9h0M63.9 172.1h0M57.1 170.7h0M58.9 175.2h0M53.2 174.6h0M65.6 180.8h0" stroke="#7681bd" stroke-width="1.1" stroke-linecap="round" fill="none"/>
<path d="M68.8 178h0M57.3 180.3h0" stroke="#7681bd" stroke-width="0.8" stroke-linecap="round" fill="none"/>
<path d="M54.5 177h0M54.6 176.9h0M65.4 181.2h0M61.3 171h0" stroke="#808bc4" stroke-width="0.8" stroke-linecap="round" fill="none"/>
<path d="M79.4 137.9Q83.3 140.2 85.1 139.2L86.9 138.3" fill="none" stroke="#7f8bc4" stroke-width="3.5" stroke-linecap="round" stroke-linejoin="round" opacity="0.85" filter="url(#b05)"/>
<path d="M69.1 137Q69.1 148.2 70.7 153.9Q72.3 159.5 74.2 165.1Q76.2 170.8 76.2 176.4L76.2 182" fill="none" stroke="#bf9272" stroke-width="10" stroke-linecap="round" stroke-linejoin="round" opacity="0.45" filter="url(#b15)"/>
<path d="M81.2 170.2h0M76.8 161h0M68.5 155.6h0M79.1 180.5h0M75.8 163.6h0M71.9 165.2h0M77.2 156.3h0M77.7 169h0M77.5 169.2h0M65.2 141.1h0M78.2 167.6h0M64.9 137.6h0M73.8 155.4h0M82.3 143.3h0M58.7 147.2h0M56.5 178.8h0M78.3 181.9h0M78.1 155.1h0M70 153.4h0M68 143.9h0M75.4 175.5h0M73.9 168.5h0M79.2 161.1h0M77.8 167.3h0M64.7 140.8h0M68 173.1h0M59.7 154.8h0M70.7 151.3h0M73.6 161.8h0M71.7 158.6h0M77.3 157.8h0M74.6 147.1h0M70.9 161.2h0M74.8 169.2h0" stroke="#c8a080" stroke-width="0.85" stroke-linecap="round" fill="none"/>
<path d="M68.8 162.5h0M78.1 172.6h0M73.4 154.5h0M84.3 176.8h0M76.3 174.4h0M72.5 162.5h0M81.3 175.9h0M74.1 169.3h0M73.1 170h0M68 140.3h0M73.2 161.7h0M53.4 160h0M65.3 149.5h0M61.7 163.9h0M65.7 146.5h0M73.8 157.3h0M83.9 168.5h0M82.5 168.5h0M72 174.1h0M71.5 141.9h0M62.1 158.8h0M75.8 172.2h0M66.9 158.4h0M77.4 178.5h0M72 157.4h0M63.6 141h0M69.2 137.4h0M75 144.5h0M75.6 154.8h0M73.8 167.8h0M70 171.4h0M65.6 150h0M69.1 150.3h0" stroke="#b98868" stroke-width="1.1" stroke-linecap="round" fill="none"/>
<path d="M70.7 151.4h0M80.7 171.9h0M70.8 156.7h0M76.4 162.2h0M67.1 138h0M68.3 171.5h0M78.3 157.1h0M75.7 158.3h0M51.7 165.9h0M73.9 167.3h0M56.1 166.4h0M52.1 161.4h0M66.9 178.6h0" stroke="#96582e" stroke-width="1.1" stroke-linecap="round" fill="none"/>
<path d="M69.1 138.2h0M64.7 137.2h0M73.7 158.2h0M50.6 148.6h0M66.6 145.2h0M77.9 167h0M72.1 146.7h0M57.8 155.2h0M79.8 172.4h0M62.3 151.6h0" stroke="#b98258" stroke-width="1.1" stroke-linecap="round" fill="none"/>
<path d="M87.3 174.2h0M62.4 152h0M72 152.1h0M60.8 139.6h0M72.8 166.8h0M68.2 168.3h0M80.7 169.1h0M85.4 150.8h0M75.9 172.1h0M77 156.4h0M67.2 151.4h0" stroke="#ad7448" stroke-width="0.6" stroke-linecap="round" fill="none"/>
<path d="M65.8 160.2h0M77.7 159.3h0M63 139.5h0M77.3 149.1h0M72.8 143h0M71.8 145.5h0M70.7 178.2h0M67.2 149.9h0M61.5 147.2h0M71.8 153.1h0M83.4 148.9h0M67.8 145.1h0M73.3 141.9h0M85.6 169h0M70.5 166.6h0M70.5 151.5h0M73.8 152.5h0M53 172.5h0M75.5 172.8h0M74.8 152.2h0M73.1 142.4h0M72 173.3h0M66.3 140.2h0M84.2 176.6h0M64.3 150.1h0M52.3 151.2h0" stroke="#c09070" stroke-width="0.6" stroke-linecap="round" fill="none"/>
<path d="M69.1 161.6h0M74.1 160.6h0M85.3 179.5h0M88.1 150.8h0M73.1 176h0M73.9 159.1h0M50.6 158.3h0M63.8 147.3h0M57.7 165.2h0M58.3 160.7h0M66.9 138.8h0M68.5 153.5h0M69.3 175.5h0M68.3 157.2h0M71.8 154.7h0M70.2 158.9h0M53.8 174.7h0M73 153.2h0M66.5 157.2h0M71.5 172.5h0M66.5 154.7h0M71.4 177.3h0M59.2 162.1h0M82.5 150.9h0M60.2 138.7h0M71.7 156.4h0M67.2 139.4h0M68.2 150.3h0" stroke="#c09070" stroke-width="0.85" stroke-linecap="round" fill="none"/>
<path d="M76.1 152.2h0M69.5 155.6h0M49.8 158.3h0M74.7 176.8h0M71.4 146.8h0M80.7 171h0M74 156.9h0M68.3 175.9h0M72.4 153.7h0M61.4 172.4h0M58.9 159.5h0M70.9 165.1h0M62.2 139.9h0M70.6 140h0M68.9 154.1h0" stroke="#8c4e28" stroke-width="1.1" stroke-linecap="round" fill="none"/>
<path d="M82 139h0M71.7 171.1h0M76.4 173.8h0M75.7 153.4h0M79.9 167.8h0M60.9 156.3h0M72.4 167.3h0M70 162.4h0M79.3 153.2h0M68.3 153.9h0M73.9 173h0M82.8 160.8h0M76.3 181.4h0M77.8 169h0M60.8 155.6h0M72.4 178.3h0M76.6 180.9h0M65.7 143.1h0M68.2 145.3h0" stroke="#96582e" stroke-width="0.6" stroke-linecap="round" fill="none"/>
<path d="M72.6 178.2h0M73.6 156.5h0M58.9 161.1h0M68 179.8h0M83.7 167.6h0M80.5 146.9h0M76.1 174h0M55.3 139.1h0M71 151.6h0M67.3 140.7h0M72.6 150.1h0M66.6 156h0M81 171h0M64.5 152.2h0M79.2 174.7h0M53.3 148.8h0M61.9 164.7h0" stroke="#b98868" stroke-width="0.6" stroke-linecap="round" fill="none"/>
<path d="M69.8 165.7h0M72.3 137.1h0M79.9 168.3h0M78.7 162.9h0M73 180.5h0M75.5 178h0M73.6 176.4h0M69.5 178.9h0M62.9 168.6h0M75.1 174.3h0M79.4 143.8h0M77.4 169.5h0M68.4 173.6h0M75.8 139.7h0" stroke="#8c4e28" stroke-width="0.6" stroke-linecap="round" fill="none"/>
<path d="M74.8 173.6h0M67.4 179h0M70.1 150.6h0M52 149.2h0M70.7 152.6h0M69.8 160.7h0M73.3 154.5h0M72.8 154.5h0M75.5 178.8h0M71.1 153.5h0M71.6 157.2h0M77.1 179.7h0" stroke="#ad7448" stroke-width="1.1" stroke-linecap="round" fill="none"/>
<path d="M75.3 138.1h0M70.8 159.1h0M82.6 173.7h0M72.6 166.8h0M60.7 140.3h0M72.7 154h0M67.2 138.7h0M66.2 139.1h0M69.4 181.8h0M76.9 164.8h0M70.3 137.1h0M75.1 181.4h0M58.6 163.9h0M69 182h0M65.6 140.8h0M73.7 149.5h0M82.3 154.6h0M71.7 168.1h0M72.8 167.8h0M70.4 146.1h0" stroke="#a0663c" stroke-width="1.1" stroke-linecap="round" fill="none"/>
<path d="M70.4 154.2h0M65.2 149.8h0M65.1 176.9h0M57.6 150.1h0M79.6 169.7h0M78.1 139.6h0M83 170.6h0M50.3 161.5h0M68.9 156h0M68.1 170.2h0M76.3 142.2h0M77.4 181.9h0M74.9 172.7h0M64.1 138.9h0" stroke="#b98258" stroke-width="0.6" stroke-linecap="round" fill="none"/>
<path d="M67.6 162.4h0M87.2 172.3h0M72.8 160.5h0M75.3 172h0M67 159.8h0M52.1 171.2h0M59.6 172.2h0" stroke="#a0663c" stroke-width="0.85" stroke-linecap="round" fill="none"/>
<path d="M52.6 177.5h0M70.9 164.7h0M78 171.8h0M63.4 148.9h0M81.2 180h0M69.5 176.6h0M60.9 148.3h0M70.7 155.8h0M60 169.5h0M59.9 169.6h0M79.9 159.2h0M57.7 173h0M56.2 149.6h0M71.2 150.8h0M69.5 181.9h0M71.9 159.9h0M72.2 146.4h0M69 169.2h0M80.2 174.9h0M53.1 151.2h0M56.5 166.8h0M64.1 141.9h0M77 151.5h0" stroke="#b98868" stroke-width="0.85" stroke-linecap="round" fill="none"/>
<path d="M69.3 151.2h0M70.1 160h0M77.3 163.5h0M67 164.1h0M76.5 146.6h0M74.4 150.8h0M73.5 161.9h0M64.7 139.1h0M74.4 158.5h0M75.8 180.3h0M65.8 146.3h0" stroke="#ad7448" stroke-width="0.85" stroke-linecap="round" fill="none"/>
<path d="M62.1 139.6h0M54.5 162.1h0M54.5 138.9h0M65 162.5h0M64.7 173.6h0M72.7 178.6h0M61 156h0M68.1 167.6h0M75.4 181.2h0M85.3 156.3h0M73.3 157.3h0M70.5 170.2h0M66.4 142h0M78.7 178.3h0M66.3 145h0M70.8 142.1h0M75 179.3h0M74.1 143.2h0M53.1 140h0M63.7 159.7h0M61.3 137.2h0M54.3 166.2h0M68.3 163.6h0M66 144.9h0M64 145.1h0M66.7 144.5h0" stroke="#c8a080" stroke-width="1.1" stroke-linecap="round" fill="none"/>
<path d="M74.1 165.3h0M67.9 176.7h0M76.8 151.3h0M71.6 163.1h0M76.1 172.5h0M71.4 174.3h0M57.2 164.5h0M78.8 179.3h0M75.7 173.3h0M55.2 168.4h0M65.5 181h0M84.3 165.8h0M68.8 168.8h0M64 142.4h0M76.7 141.1h0M73.9 170.1h0M63.3 172.2h0M79.6 161.3h0M74.8 175.9h0M70 154.4h0M87.4 148.1h0M69.7 173h0M78.1 161.6h0M76.7 168.2h0" stroke="#c8a080" stroke-width="0.6" stroke-linecap="round" fill="none"/>
<path d="M75.2 169.8h0M74.9 161.7h0M68.7 155.4h0M77.6 160.7h0M58.9 175.7h0M87.3 159.5h0M75.4 170.2h0M62.9 142.7h0M56.9 169h0M70.2 155.9h0M65.8 144.4h0M69 172.6h0M79.8 149.4h0" stroke="#96582e" stroke-width="0.85" stroke-linecap="round" fill="none"/>
<path d="M74.8 161.2h0M66.5 166.4h0M81.7 175.1h0M74.4 176.1h0M72.6 144.6h0M69.1 158h0M81.6 175.9h0M65.7 139.1h0M79.6 176.8h0M86.7 181.5h0M70.9 153.5h0M82.6 167.7h0M59.1 171.8h0M77.5 175.8h0M77.1 162h0M71.3 174.3h0M73.9 175.2h0M66.6 170.1h0M86.3 150.2h0M71.4 148h0" stroke="#c09070" stroke-width="1.1" stroke-linecap="round" fill="none"/>
<path d="M75.3 172.8h0M70 155.3h0M70.1 171.5h0M83.1 174h0M72.2 175.6h0M69.5 169.8h0M58 179.6h0M74.2 155.5h0M70.4 161.2h0M67.9 174.4h0M73.8 149.9h0M86.8 178.4h0M72.3 175.7h0" stroke="#b98258" stroke-width="0.85" stroke-linecap="round" fill="none"/>
<path d="M69.3 171.5h0M56.5 170.7h0M71.8 147.1h0M87.4 162.8h0M66.5 140.2h0M69.6 153.4h0M70 153.2h0M72.5 168.9h0M60.3 173h0M77.1 174.6h0" stroke="#8c4e28" stroke-width="0.85" stroke-linecap="round" fill="none"/>
<path d="M77.4 178.7h0M67.5 155.1h0M76.2 163.6h0M61.9 138.9h0M78.9 172.8h0M87.8 142.9h0M71.7 176.4h0" stroke="#a0663c" stroke-width="0.6" stroke-linecap="round" fill="none"/>
<path d="M48.6 161.6h0" stroke="#8c4e28" stroke-width="1" stroke-linecap="round" fill="none"/>
<path d="M53.5 154.6h0M56.5 162.5h0" stroke="#a0663c" stroke-width="0.6" stroke-linecap="round" fill="none"/>
<path d="M58.1 160.5h0M57.9 150.6h0M60.3 149.5h0M57.1 168.5h0M52.4 149.2h0" stroke="#b98258" stroke-width="0.6" stroke-linecap="round" fill="none"/>
<path d="M59 144.3h0M62.2 160.9h0M56.2 139.4h0M62.1 162.6h0M52 159.6h0M58 169.7h0M57.2 152.2h0" stroke="#ad7448" stroke-width="0.6" stroke-linecap="round" fill="none"/>
<path d="M56.5 145.1h0M58.9 154.1h0M60.7 143.8h0M59.9 138.2h0M57 148.4h0M55.3 164.6h0" stroke="#a0663c" stroke-width="1" stroke-linecap="round" fill="none"/>
<path d="M54.6 139.9h0M60.9 153.5h0M54.7 170.6h0M59.7 157.9h0M50 147.9h0" stroke="#b98258" stroke-width="0.8" stroke-linecap="round" fill="none"/>
<path d="M57.3 138.4h0M49 142.2h0M57.8 169.9h0" stroke="#ad7448" stroke-width="1" stroke-linecap="round" fill="none"/>
<path d="M53.6 154.9h0M58.1 141.4h0M52.8 144.3h0M56.4 158.4h0" stroke="#8c4e28" stroke-width="0.8" stroke-linecap="round" fill="none"/>
<path d="M60.8 149.7h0M56.7 158.8h0" stroke="#a0663c" stroke-width="0.8" stroke-linecap="round" fill="none"/>
<path d="M48.5 143.1h0M60.6 141.2h0" stroke="#96582e" stroke-width="0.8" stroke-linecap="round" fill="none"/>
<path d="M53.2 149.7h0M48.7 139.7h0M53.8 149.9h0M53 151.4h0M50.7 156.4h0" stroke="#ad7448" stroke-width="0.8" stroke-linecap="round" fill="none"/>
<path d="M58.9 167.5h0M49.7 167.8h0" stroke="#96582e" stroke-width="0.6" stroke-linecap="round" fill="none"/>
<path d="M48.9 146.1h0M61 149.2h0M56.5 141.9h0M49.9 162.7h0M51 157.8h0M55.5 143h0M61 143.8h0" stroke="#96582e" stroke-width="1" stroke-linecap="round" fill="none"/>
<path d="M60.5 149h0M54 162.2h0" stroke="#8c4e28" stroke-width="0.6" stroke-linecap="round" fill="none"/>
<path d="M48.5 154.3h0M50.2 146.5h0M52.4 138.3h0M54.8 166.5h0M55.7 141.5h0M55.9 138.4h0M49.2 167.7h0" stroke="#b98258" stroke-width="1" stroke-linecap="round" fill="none"/>
</g></g>
<text transform="translate(68.3 187.6) scale(0.1)" font-size="41.5" text-anchor="middle" font-weight="bold" stroke="#000" stroke-width="1.2" >SIRPα</text>
<g clip-path="url(#c3)">
<rect x="91.8" y="137" width="38.4" height="45" fill="#ebe5e3" />
<g filter="url(#semi)">
<path d="M110.6 169.5h0M97.4 160h0M125.5 166.6h0M126.5 143.3h0M117.2 149.3h0M101.2 164.1h0M104.7 168.6h0M121.4 150.7h0M96.1 147.9h0M121.6 170.7h0M119.6 169.7h0M119.4 159.2h0M94.5 159.3h0M119.5 177.3h0M106.4 181.3h0M117.3 149.8h0M113.4 170.9h0" stroke="#e8e0dc" stroke-width="1.2" stroke-linecap="round" fill="none"/>
<path d="M99.7 168.3h0M123.3 148.1h0M111.9 173.3h0M96.2 170.8h0M121 168.8h0M112.4 139.7h0M114.4 141.6h0M107 159.1h0M109.9 141.4h0M105.7 167.3h0M99.7 169.8h0" stroke="#e6e2e8" stroke-width="1.7" stroke-linecap="round" fill="none"/>
<path d="M102.4 173.7h0M123.5 169.1h0M109.7 169.3h0M118.1 140.6h0M94.8 151.6h0M94.5 180.9h0M97.6 179h0M97.1 173.7h0M105.6 149.6h0M96.3 144.7h0M108.2 167.5h0M115.2 142.3h0M107.9 152.3h0M112.4 137.9h0M108.2 179.6h0M92 178.8h0" stroke="#f4f0ee" stroke-width="1.7" stroke-linecap="round" fill="none"/>
<path d="M123.6 152.2h0M127.2 177.4h0M126.6 157.9h0M126 140.5h0M112.1 170.7h0M115.5 158.2h0M109.3 172.2h0M122.1 149.5h0M115.5 167.7h0M100.2 170.7h0M92.3 138.2h0M101.8 180.7h0M107.9 150.2h0M103.2 155h0M105.5 143.5h0M110.7 155.4h0M110.2 145.3h0M126.1 151.1h0" stroke="#f4f0ee" stroke-width="2.2" stroke-linecap="round" fill="none"/>
<path d="M128.8 177.4h0M107.9 156.8h0M121.8 161.1h0M123.7 164h0M113.4 158.6h0M115.5 144.7h0M121.7 164.8h0M115.4 181.4h0M106.1 164.4h0M115.9 139.1h0M97.6 141.1h0M108 163.2h0M114.5 167.2h0M125.2 173.1h0M111.1 140h0M100.4 145.3h0M117.4 140.6h0M107.7 144.1h0M94 163.5h0" stroke="#e8e0dc" stroke-width="2.2" stroke-linecap="round" fill="none"/>
<path d="M126.9 144.9h0M107.1 164h0M106.7 159h0M110.3 138.4h0M102.9 173.7h0M93.6 137.4h0M100.9 144.1h0M115.4 179.9h0M111.8 150h0M106.4 159.2h0M123.6 174.9h0" stroke="#e8e0dc" stroke-width="1.7" stroke-linecap="round" fill="none"/>
<path d="M110.6 158.9h0M92.6 173.7h0M105.8 179.6h0M107.2 159.3h0M129.5 159.6h0M118.7 178.5h0M129.2 164.9h0M98.3 148.6h0M96.4 137.8h0M106 166.3h0M114.3 152.6h0M92 159.7h0M123.2 171.9h0M128.9 157.7h0M125.8 137.9h0M105.2 142.9h0M99.1 157.4h0" stroke="#f4f0ee" stroke-width="1.2" stroke-linecap="round" fill="none"/>
<path d="M96.1 172h0M105.3 155.6h0M99.6 174.7h0M92.3 153.8h0M114.3 169.8h0M103 171.3h0M114.3 152.1h0M114.7 154.6h0M93.9 165.7h0M109.3 172.5h0M124.2 164.6h0M128.6 145.6h0M121.1 141.5h0M106 157.8h0M130 153.1h0M127.9 166.2h0M114.8 160.6h0M113.2 143h0M101.6 148.4h0M121.1 157.3h0M103.9 160.9h0M120.7 177.5h0M125.2 171.1h0" stroke="#eee8e6" stroke-width="2.2" stroke-linecap="round" fill="none"/>
<path d="M106.7 176.2h0M95.5 159.9h0M119.8 165.5h0M95.1 151.3h0M92.8 173.6h0M127.7 150.3h0M94.1 167.1h0M123.3 170h0M97.5 174.1h0M98.3 168.3h0M98.3 171.5h0M121.5 141.4h0M109.2 140.5h0M94.6 166.6h0M100.5 177.5h0M112.1 141.9h0M98.7 169.1h0M109.2 168.5h0M102.5 145.9h0M97 160h0" stroke="#eee8e6" stroke-width="1.7" stroke-linecap="round" fill="none"/>
<path d="M108.5 172.3h0M126.3 158.8h0M104.9 164.7h0M100 138.7h0M109 175.6h0M92.8 149.2h0M102.4 179.5h0M106.3 155.3h0M100 157h0M93.3 170.5h0M112.3 163.8h0M102.4 148.8h0M100.4 142h0" stroke="#e6e2e8" stroke-width="1.2" stroke-linecap="round" fill="none"/>
<path d="M125.7 179.8h0M103.1 162.8h0M115.2 140.4h0M120.6 143.6h0M121.3 159.1h0M119.8 157.4h0M96.7 181.2h0M96.4 164.5h0M104.6 163.5h0M104.6 172.6h0M118.8 174.2h0M112.9 176.7h0M104.8 176.3h0M125.9 174.5h0M114.3 173.1h0" stroke="#e6e2e8" stroke-width="2.2" stroke-linecap="round" fill="none"/>
<path d="M117.3 147.2h0M129 146.3h0M120 155.8h0M112.9 138h0M125 137.6h0M97.2 165.1h0M96.3 161.7h0M104.2 150.4h0M123.3 161.8h0M116.4 139.6h0M99.1 158.3h0M102.5 171h0M111.2 164.8h0M109.3 144.2h0M105.9 146.7h0M100.2 147.9h0M97.9 148.3h0M95 146h0M117.8 165.4h0M106.3 168.7h0" stroke="#eee8e6" stroke-width="1.2" stroke-linecap="round" fill="none"/>
<path d="M92.6 151.4Q94.1 144.7 97.2 142.6Q100.2 140.6 103.7 141.1L107.2 141.5" fill="none" stroke="#7a4524" stroke-width="2.6" stroke-linecap="round" stroke-linejoin="round" opacity="0.8" filter="url(#b05)"/>
<path d="M104.5 141.5L111 138.3L119.4 140.2L125.6 145.1L129.8 149.6L129.8 164L126.4 163.1L122.5 156.8L117.1 157.7L114.1 162.2L107.9 163.1L102.2 161.3L104.5 155L107.2 147.8Z" fill="#7a4524" opacity="0.8" filter="url(#b08)"/>
<path d="M102.9 157.7L111 160.8L106 166.2L99.5 172.1L93.7 176.6L91.8 173.9L96 168.1L100.2 163.1Z" fill="#7a4524" opacity="0.8" filter="url(#b05)"/>
<path d="M111.8 162.2Q108.7 167.6 106 170.3Q103.3 173 101.8 175.7L100.2 178.4" fill="none" stroke="#8a5630" stroke-width="1.8" stroke-linecap="round" stroke-linejoin="round" opacity="0.7" filter="url(#b05)"/>
<path d="M92.6 150.5Q93 159.5 92.8 165.1L92.6 170.8" fill="none" stroke="#a87850" stroke-width="1.5" stroke-linecap="round" stroke-linejoin="round" opacity="0.6" filter="url(#b05)"/>
<path d="M91.8 138.8Q103.3 137.9 109.1 138.1L114.8 138.3" fill="none" stroke="#b89880" stroke-width="1.5" stroke-linecap="round" stroke-linejoin="round" opacity="0.6" filter="url(#b05)"/>
<path d="M102.6 141.3h0M110.5 152.6h0M113 151h0M116.1 149.4h0M99.5 171.2h0M104.7 164.6h0M106.8 151.7h0M129 160.3h0M106.4 144.4h0M107.3 162.6h0M121.8 154h0M104.2 164.9h0M110.9 151.7h0M119.2 152.2h0M107.3 147.4h0M117.3 149.8h0" stroke="#633216" stroke-width="0.9" stroke-linecap="round" fill="none"/>
<path d="M111.1 145.3h0M111.4 150.8h0M127.6 148.3h0M118.8 146.1h0M119.7 144.5h0M113.2 147.2h0M117.4 148.2h0M127.7 149.6h0M118.7 154.9h0M115.2 158.5h0M125.2 154.3h0M116 144.5h0M117.4 147.6h0M121.9 145.4h0M111.1 141.9h0M110.7 139.5h0" stroke="#4e240c" stroke-width="0.9" stroke-linecap="round" fill="none"/>
<path d="M107.5 152.8h0M100.1 166.2h0M94 171.7h0M111.6 149.2h0M123.6 156.8h0M114.8 146h0M103.9 163.4h0M110.9 140.3h0M111.6 145h0M102.3 161.6h0M113.6 145h0M102.3 159.5h0M107.6 147.9h0M97.6 168.6h0M97.1 144.7h0M104.1 166.2h0M106.3 157.7h0" stroke="#7a4422" stroke-width="0.9" stroke-linecap="round" fill="none"/>
<path d="M127 151.4h0M99.5 166.1h0M105.6 165.8h0M116.7 146.8h0M110.3 140.7h0M109.1 148.3h0M112.2 146.3h0M109.3 162.5h0M95.4 145.5h0M95.7 169.1h0M97.3 170.2h0M113.8 151.5h0M113.3 140.7h0" stroke="#6e3a1a" stroke-width="1.6" stroke-linecap="round" fill="none"/>
<path d="M109.8 159.6h0M111.8 139.6h0M125.9 156.8h0M116.7 152.1h0M103.7 158.8h0M121.9 147.5h0M119.8 156.4h0M101.7 141.8h0M100.1 166.3h0M100.6 165.3h0M121.7 151.4h0M116 149.7h0M121 153.8h0M108.6 144h0M119.1 149.6h0M115 144.9h0M118.3 141.1h0M97.3 172.6h0M121.9 145.2h0M112.1 141.1h0M128.5 150.8h0M92.4 174h0M108.8 145.2h0M94.4 172.6h0" stroke="#633216" stroke-width="1.25" stroke-linecap="round" fill="none"/>
<path d="M91.9 147.7h0M105.5 142.5h0M97.8 171h0M105.8 164.9h0M106.7 142.1h0M127.1 155.4h0M106.5 160.3h0M109.9 154h0M111.8 144.3h0M117.7 146.5h0M117.8 152h0M121.6 144.1h0M128.1 161.7h0M103.8 164.2h0M120.3 152.9h0" stroke="#57290f" stroke-width="1.25" stroke-linecap="round" fill="none"/>
<path d="M112.2 145.2h0M105.6 160.7h0M93.3 144.1h0M107.5 154.3h0M97.1 173.8h0M108.4 146.5h0M119.6 157.1h0M99.1 172.4h0M106.1 162.8h0M121.3 142.9h0M117.9 153.5h0M106.4 153h0M112.6 153.1h0M102.3 168.9h0M110.9 158.8h0M116.7 155h0" stroke="#6e3a1a" stroke-width="1.25" stroke-linecap="round" fill="none"/>
<path d="M110.3 150.5h0M114.6 151h0M106.2 161.6h0M102.3 162.8h0M126.7 150.9h0M94.6 174.7h0M117.7 144.2h0M123 148h0M99.9 166.7h0M103.7 139.9h0M106.2 155.6h0M102.4 168.2h0M101.3 166.9h0M112 144h0M92 151h0" stroke="#7a4422" stroke-width="1.6" stroke-linecap="round" fill="none"/>
<path d="M92.5 147.1h0M126.8 147.3h0M123 149.2h0M124.1 156.5h0M101.1 139h0M104 161h0M102.8 168.6h0M111.3 155.5h0M127.2 160.9h0M93.2 150.9h0M107.2 158h0M106.6 159.2h0M102.8 163.1h0M127.5 155.8h0M108.3 150.2h0M127.1 158.4h0M110.4 140.6h0M124.6 148.4h0" stroke="#57290f" stroke-width="1.6" stroke-linecap="round" fill="none"/>
<path d="M108.9 157.4h0M96.4 174.2h0M118.8 148.2h0M96.5 171.6h0M92.8 146.7h0M112.1 151.2h0M112.2 149.5h0M119.9 153.1h0M105.7 142h0M119.3 153.9h0M125.8 147.5h0M92.6 148.6h0M126 152.2h0M107.8 163.9h0M93.1 175h0M114.9 143.1h0M122.2 145.1h0M127.2 148.8h0" stroke="#57290f" stroke-width="0.9" stroke-linecap="round" fill="none"/>
<path d="M103.9 158.1h0M126.5 146.1h0M120.1 156.6h0M97.4 143.3h0M95.9 142.4h0M99.7 141.7h0M127.1 150h0M106.5 150.3h0M128.2 155h0M109.1 148.3h0M125.4 154.5h0M103 159.2h0M113.3 146.7h0M115.9 156.2h0M119.7 155.5h0M110.2 149h0M95.6 145.3h0M110.1 153.7h0" stroke="#4e240c" stroke-width="1.25" stroke-linecap="round" fill="none"/>
<path d="M107.6 159.9h0M106.2 158.2h0M93.3 172h0M97.6 143.9h0M106.7 140.5h0M104.7 158.1h0M109 148.7h0M128.9 157.5h0M126.6 148.6h0M112.9 161.2h0M121.4 146.6h0M127.8 157.1h0M92.4 173.1h0M126.4 157.4h0M111.3 147.8h0M123.7 156.4h0M128.7 161.5h0M107 140.3h0M127.1 158.5h0M106.8 160.1h0M127.8 153.5h0" stroke="#633216" stroke-width="1.6" stroke-linecap="round" fill="none"/>
<path d="M111.5 151.4h0M128.6 153.6h0M121.5 151.8h0M98 171.5h0M113.6 141.1h0M101.8 167.6h0M114.5 147h0M108.5 154.8h0M109.5 153.6h0M109.7 139.4h0M104.3 159.7h0M108.2 155.8h0M126.2 161.9h0M106 159.4h0M101.6 165.7h0M104.7 140.8h0M117.8 154.9h0" stroke="#7a4422" stroke-width="1.25" stroke-linecap="round" fill="none"/>
<path d="M124 148.1h0M121.5 150.6h0M97.6 169.2h0M105 156h0M107.7 153h0M116.3 149.5h0M106.7 154.2h0M122.9 156.2h0M94.9 145.7h0M109.6 154.8h0M98.7 166h0M111.4 155.4h0M123.3 147h0M123.7 151.4h0M128.8 151.4h0M114.7 143.1h0M105.1 164.2h0M116.4 140.1h0" stroke="#4e240c" stroke-width="1.6" stroke-linecap="round" fill="none"/>
<path d="M99.1 140.4h0M104.9 164.5h0M94.9 145.4h0M128.3 152h0M115 141.7h0M109.8 144.1h0M119.4 150.9h0M113.9 142.5h0M98.3 168.2h0M110.9 152.5h0M128.1 151h0M110.9 141.8h0M106.2 164.8h0M103.7 166.9h0M129.1 161.1h0M112.5 162.4h0M119.7 153.6h0M116.4 150.5h0" stroke="#6e3a1a" stroke-width="0.9" stroke-linecap="round" fill="none"/>
<path d="M107.2 145.5h0M109.4 147.6h0M105.1 156.6h0M122.4 151.5h0M127.5 154.4h0M92.4 148.5h0" stroke="#e0c8b4" stroke-width="0.95" stroke-linecap="round" fill="none"/>
<path d="M94.1 175.7h0M117.6 155.4h0M109.6 144h0M105.3 142.1h0M111.4 162.1h0M114.7 153.6h0" stroke="#a87850" stroke-width="0.7" stroke-linecap="round" fill="none"/>
<path d="M114.9 144.9h0M109.1 154.1h0M100 139.2h0" stroke="#96643c" stroke-width="1.2" stroke-linecap="round" fill="none"/>
<path d="M114.5 144h0M95.7 141.6h0M129.4 161.3h0M108.1 155.5h0M97.2 166.9h0M128.2 150.2h0M105.5 162.7h0" stroke="#c8a080" stroke-width="1.2" stroke-linecap="round" fill="none"/>
<path d="M129.1 160.1h0M111.1 141h0M124.6 160h0" stroke="#c8a080" stroke-width="0.7" stroke-linecap="round" fill="none"/>
<path d="M126.6 157.5h0M107.8 140.9h0M119.1 146.3h0M105.8 161.9h0M101.7 161.9h0" stroke="#96643c" stroke-width="0.95" stroke-linecap="round" fill="none"/>
<path d="M103.6 157.4h0M101.1 164.7h0M121.6 154.1h0M106.4 143.5h0M112 162.3h0M127 160.6h0M95.2 170.9h0" stroke="#e0c8b4" stroke-width="0.7" stroke-linecap="round" fill="none"/>
<path d="M109.8 159.6h0M96.2 144.1h0M120.1 155.6h0M108.6 162.6h0M108.6 154.4h0M111 144.9h0M95.6 145.2h0" stroke="#96643c" stroke-width="0.7" stroke-linecap="round" fill="none"/>
<path d="M113 152.2h0M124.9 151.7h0" stroke="#c8a080" stroke-width="0.95" stroke-linecap="round" fill="none"/>
<path d="M111.5 140.5h0M118.9 143.5h0M100.3 140.9h0M116.4 144.7h0M115.4 145.6h0M107.3 158h0" stroke="#e0c8b4" stroke-width="1.2" stroke-linecap="round" fill="none"/>
<path d="M104.5 162.4h0M116.9 156.1h0M125.4 148.6h0" stroke="#a87850" stroke-width="0.95" stroke-linecap="round" fill="none"/>
<path d="M94.1 146.5h0M94.1 145.8h0M106.3 151.1h0M93.4 175.9h0M128 157.9h0" stroke="#a87850" stroke-width="1.2" stroke-linecap="round" fill="none"/>
<path d="M105.4 158.6h0M96.3 150.8h0M102.3 145.8h0M104.5 144.1h0M118.4 155.7h0M124.6 145.5h0M118.7 154.7h0M115.2 166.6h0M115.4 147.9h0M116.5 154.6h0M99.7 169h0M114.8 142.8h0M119.6 149h0" stroke="#ad7448" stroke-width="0.85" stroke-linecap="round" fill="none"/>
<path d="M118.4 163.4h0M108.6 141.5h0M110.4 138.5h0M111.7 143.9h0M101.3 152h0M114.4 160.7h0" stroke="#b98258" stroke-width="1.1" stroke-linecap="round" fill="none"/>
<path d="M114.5 143.6h0M124.2 153.3h0M127.6 139.5h0M123.9 149h0M114.4 163.2h0" stroke="#b98868" stroke-width="0.6" stroke-linecap="round" fill="none"/>
<path d="M114.3 155.5h0M109.3 147.3h0M116.7 177.2h0M110.3 152.7h0M114 163.1h0M93.2 167h0M125.2 169.6h0M92.8 161.1h0M110.6 146.3h0" stroke="#c8a080" stroke-width="1.1" stroke-linecap="round" fill="none"/>
<path d="M105.5 164.3h0M111.7 167.8h0M112.5 137h0M107.8 144.9h0M113.4 146.7h0M105.5 137.1h0M111.8 152h0M107.7 157.8h0M107.8 166.5h0M102.5 161.1h0M115.5 139.6h0M111.7 160.9h0" stroke="#a0663c" stroke-width="1.1" stroke-linecap="round" fill="none"/>
<path d="M105.4 158.6h0M115.4 166.5h0" stroke="#b98258" stroke-width="0.6" stroke-linecap="round" fill="none"/>
<path d="M116.5 158.5h0M123.8 146.9h0M94.3 145.8h0M123.1 155.6h0M126.1 155.5h0M117.3 178h0M116.2 159.7h0" stroke="#96582e" stroke-width="0.6" stroke-linecap="round" fill="none"/>
<path d="M110.3 149.5h0M121.7 150.7h0M115.8 146.7h0M94.1 159.8h0M109.2 158.8h0M118.5 154.5h0M125.4 142h0M115.9 158.7h0" stroke="#b98868" stroke-width="0.85" stroke-linecap="round" fill="none"/>
<path d="M115.2 150.3h0M130 169.5h0M124.2 170.1h0M116.9 161h0M117.7 162.7h0M105.6 150.1h0M110.8 142.9h0M110.5 150.4h0" stroke="#a0663c" stroke-width="0.6" stroke-linecap="round" fill="none"/>
<path d="M109.7 171.1h0M125.7 145.9h0M101.4 142.5h0M101.5 169.2h0M110.9 158.8h0M93 160.8h0M128.1 148.2h0M123.2 155.7h0M127.1 150.8h0" stroke="#ad7448" stroke-width="0.6" stroke-linecap="round" fill="none"/>
<path d="M113.6 177.5h0M108.5 147.9h0M122.4 165.8h0M124.6 153.1h0M101.9 160.3h0M93.9 141.3h0M91.8 167h0M95 148.5h0M112.3 155.6h0" stroke="#96582e" stroke-width="1.1" stroke-linecap="round" fill="none"/>
<path d="M120.1 150.2h0M121.1 153.9h0M107.2 143.3h0M128.1 180.7h0M103.2 174.1h0M102.2 165.4h0" stroke="#c09070" stroke-width="0.85" stroke-linecap="round" fill="none"/>
<path d="M116.1 157.5h0M118.6 146.6h0M116.7 154.9h0M105 145.4h0M114.2 159.4h0M113.9 149h0M122.2 158.8h0" stroke="#c8a080" stroke-width="0.6" stroke-linecap="round" fill="none"/>
<path d="M115.3 141.2h0M99.5 172.4h0M115 154.8h0M107.3 155.6h0M101.1 159h0M118.1 141.1h0M111.5 165.3h0M111.4 141.2h0M125.1 150.1h0M100.7 138.7h0" stroke="#c09070" stroke-width="0.6" stroke-linecap="round" fill="none"/>
<path d="M115.3 168.2h0M110.6 151.6h0M105.2 156.7h0M96.5 157.8h0M122.3 160.7h0M125.7 146h0M108.4 146h0M93 149.7h0M126.1 167.5h0" stroke="#8c4e28" stroke-width="1.1" stroke-linecap="round" fill="none"/>
<path d="M106.2 144.9h0M126 155.2h0M106.9 146.8h0M100 146.4h0" stroke="#ad7448" stroke-width="1.1" stroke-linecap="round" fill="none"/>
<path d="M120.6 165.3h0M114.2 167.8h0M94.8 175.7h0M125.2 140.2h0M110.2 179.3h0M122.8 166.6h0" stroke="#8c4e28" stroke-width="0.85" stroke-linecap="round" fill="none"/>
<path d="M98.3 150.3h0M123.4 140.7h0M100.7 157h0M113.9 155.7h0M108.6 166.6h0M113.5 147h0M99.8 146.6h0M122.1 153h0M96.2 159.9h0M93.1 148.2h0M101.3 166.5h0M112.4 160.8h0" stroke="#c09070" stroke-width="1.1" stroke-linecap="round" fill="none"/>
<path d="M103.8 148.9h0M100.2 150.3h0M103.7 145.9h0M101.1 140.5h0M106.3 156.6h0" stroke="#b98868" stroke-width="1.1" stroke-linecap="round" fill="none"/>
<path d="M103.2 153.6h0M109.6 151.7h0M122.4 156.3h0M100 174.3h0M111 164h0M94.7 172.6h0" stroke="#96582e" stroke-width="0.85" stroke-linecap="round" fill="none"/>
<path d="M109.5 158.1h0M105.8 151.8h0" stroke="#b98258" stroke-width="0.85" stroke-linecap="round" fill="none"/>
<path d="M98.5 161.1h0M106.5 141.3h0M102.1 142.8h0M116.2 157.3h0M129.5 138.1h0" stroke="#8c4e28" stroke-width="0.6" stroke-linecap="round" fill="none"/>
<path d="M106.8 167.2h0M100.8 163.9h0M107.5 137.5h0M101.9 161.3h0M109.4 157.4h0M101.1 142.7h0" stroke="#a0663c" stroke-width="0.85" stroke-linecap="round" fill="none"/>
<path d="M114.3 168.9h0M109 160.6h0M108.9 163.5h0M116.4 143.9h0" stroke="#c8a080" stroke-width="0.85" stroke-linecap="round" fill="none"/>
<path d="M99.6 147.7h0M126.4 173.3h0M119.1 170h0M115.2 170.1h0M109.2 172.4h0" stroke="#ffffff" stroke-width="2" stroke-linecap="round" fill="none"/>
<path d="M110.6 180.6h0M115.5 181h0M101.3 153.3h0M127.2 177.6h0M120.7 172.9h0M128.3 179.8h0M125.3 169.3h0M119.9 170.5h0M122.8 177.5h0M122.3 172h0M116.1 175.4h0" stroke="#ffffff" stroke-width="1.2" stroke-linecap="round" fill="none"/>
<path d="M128.7 179.5h0M110.1 173.7h0M116.2 170.3h0M123.1 179.3h0M127.7 178.4h0M118.3 181h0M126.1 168.1h0M128.8 178.9h0M127.9 171.2h0M112.8 181.7h0" stroke="#f8f4f2" stroke-width="2" stroke-linecap="round" fill="none"/>
<path d="M114.5 177.8h0M98.7 152.2h0M114.9 174.9h0M129.3 180.2h0M120.8 176.6h0M127.6 173.9h0M127 179.3h0" stroke="#f8f4f2" stroke-width="1.2" stroke-linecap="round" fill="none"/>
<path d="M128.6 176.2h0M121 180.5h0M122.2 172.2h0M127 180.7h0M114.7 170.2h0" stroke="#f8f4f2" stroke-width="1.6" stroke-linecap="round" fill="none"/>
<path d="M123.8 181.5h0M130.2 178.9h0" stroke="#ffffff" stroke-width="1.6" stroke-linecap="round" fill="none"/>
</g></g>
<text transform="translate(111 187.6) scale(0.1)" font-size="41.5" text-anchor="middle" font-weight="bold" stroke="#000" stroke-width="1.2" >CD163</text>
<g clip-path="url(#c4)">
<rect x="134.3" y="137" width="38.4" height="45" fill="#eae0d6" />
<g filter="url(#semi)">
<path d="M170.5 140.4h0M138.3 156.4h0M157.8 167.2h0M141.6 168.8h0M136.9 156h0M154.4 181.9h0M144.7 147.8h0M171.7 168.4h0M162.8 164.6h0M142.6 170.1h0M148 137h0M139.9 166.4h0M143.5 160.2h0M139 177.3h0M158.3 146.3h0M170.2 139.7h0M135.5 147.9h0M135.3 160.4h0M164.9 165.8h0M165.1 139.1h0M140.2 176.3h0M166.9 148.2h0M167.5 152.2h0M169 140.4h0M170.9 180.8h0M152.9 169.7h0" stroke="#f2ece6" stroke-width="1.7" stroke-linecap="round" fill="none"/>
<path d="M153.9 152.2h0M150.6 154.6h0M155.8 157.4h0M142 165.7h0M152.3 150.5h0M156.9 161h0M137.3 159.7h0M146.6 141.2h0M146.9 164.6h0M144.1 158.2h0M165 137h0M161.5 153.8h0M165.7 168.3h0M141.2 165.4h0M164.3 139.7h0M149.2 162.1h0M166.7 174.2h0M137.7 181.4h0M145.5 181h0M143.6 159.2h0" stroke="#e6d8c8" stroke-width="2.2" stroke-linecap="round" fill="none"/>
<path d="M152.8 147.2h0M168.1 140.5h0M139.7 177.6h0M157.1 168.9h0M155.6 170.9h0M155.7 177.4h0M150.3 152.6h0M155.3 158.1h0M140.4 158h0M142 157.8h0M170.5 142.7h0M160.1 175h0M169.8 160.6h0M155.5 160.1h0M159.3 163.7h0M144.9 170.7h0M160.5 147.5h0M136 171.8h0M166.9 152h0M159.1 161.3h0M142.5 173.7h0M134.5 180.2h0M157.7 137.6h0M168.3 178.7h0M143.3 170.5h0M160.7 137.5h0M150.9 150.9h0M165.1 156.1h0M170.1 141.8h0M159.8 159h0M159.1 144.1h0" stroke="#f2ece6" stroke-width="1.2" stroke-linecap="round" fill="none"/>
<path d="M141.8 177h0M151.7 178h0M141.4 147.4h0M160.2 165h0M158.4 180.3h0M145.7 159.9h0M139.1 145.1h0M148.8 141.2h0M143.8 179.4h0M168.7 151.3h0M163.1 170.6h0M140.8 165.3h0M164.5 171.7h0M150 177.5h0M135.4 160.6h0M138.6 143.2h0M140.8 174.7h0M167.4 153.5h0M146.4 144.4h0M157.8 162.6h0M152.7 171.4h0M152.3 174.8h0" stroke="#eee6de" stroke-width="2.2" stroke-linecap="round" fill="none"/>
<path d="M167 145h0M162.8 138.3h0M156.9 147.4h0M145.3 144.8h0M142.4 140.5h0M139.2 175h0M150.8 157.5h0M147.2 167.9h0M167.1 166.1h0M146.3 170.4h0M157.8 159.8h0M144.9 166.7h0M159.5 154.8h0M137.9 149.9h0M146.4 143.7h0M143.6 167.6h0M161.5 178.1h0M166.8 177.9h0M137.6 177.3h0M166.6 176.3h0M170.2 152h0" stroke="#e4dada" stroke-width="1.2" stroke-linecap="round" fill="none"/>
<path d="M146.8 155.7h0M137.3 177.3h0M169.2 172.8h0M137.4 178.8h0M142.9 151.8h0M167.5 174.9h0M168.3 146.9h0M154.3 149.8h0M143 160h0M163.1 176h0M149.2 170.9h0M162.2 157.6h0M162.9 179.5h0M164.6 148.4h0M139.5 137h0M136.5 140.4h0M156 167.7h0M170 152.9h0M155.1 174.3h0M165.8 181.5h0" stroke="#e6d8c8" stroke-width="1.7" stroke-linecap="round" fill="none"/>
<path d="M160.1 168.5h0M153.3 148.6h0M145.4 142.1h0M143.6 148.6h0M144.5 142.5h0M170.3 170.3h0M150.6 177.8h0M155.3 155.6h0M160 149.2h0M141.4 163.4h0M137.6 151.8h0M148.5 164.8h0M161.9 137.7h0M152.7 158.8h0M142.2 145.1h0M136.7 146.4h0M169.2 176.4h0" stroke="#e4dada" stroke-width="1.7" stroke-linecap="round" fill="none"/>
<path d="M166.9 161.6h0M138.4 141.3h0M144 147.5h0M171.1 171.8h0M160.8 167.9h0M138.7 168.3h0M157.4 161.1h0M164.7 157h0M172.7 163.8h0M144 148.9h0M172.1 168.4h0M171.5 179.1h0M134.5 181.5h0M168.4 144.7h0M168.2 140.2h0M150.7 176.5h0M168.7 146.3h0M169.8 152.2h0M171.6 156.2h0M164.5 140.6h0M148.3 153h0M147.5 154.6h0M170.6 180.3h0M147.6 157.6h0" stroke="#f2ece6" stroke-width="2.2" stroke-linecap="round" fill="none"/>
<path d="M165.6 147.8h0M143.5 160.4h0M166.2 140.1h0M142.3 173.9h0M165 162.8h0M169.5 180.1h0M134.5 164h0M160.2 174.3h0M172.4 144.3h0M147.3 174.8h0M142.4 153.8h0M146.3 169.8h0M141.9 174.3h0M164.1 166.4h0M148.9 166.6h0M160.3 161.6h0M151.9 167.5h0M135.4 155h0M170.8 171.7h0M144.8 143.2h0" stroke="#e4dada" stroke-width="2.2" stroke-linecap="round" fill="none"/>
<path d="M144.5 147.3h0M140 143.5h0M164.8 162.7h0M146 144.8h0M139.3 163.5h0M145 177.5h0M140.3 155.1h0M172.6 146h0M134.6 148.1h0M154.6 142.9h0M136.9 173.3h0M138.5 174.1h0M162.4 138.9h0M169.9 140h0M156.4 158.1h0M172.1 181.6h0M172.4 160.2h0M160.3 178.8h0M158.6 163.2h0" stroke="#e6d8c8" stroke-width="1.2" stroke-linecap="round" fill="none"/>
<path d="M149.5 143.1h0M139 162.9h0M158.7 140.1h0M167.3 180.5h0M154.1 157.1h0M134.5 138.9h0M167.4 177.5h0M166.2 168.4h0M153.8 156.9h0M160.1 151.1h0M149.7 149h0M144.3 175.1h0M163.7 150.7h0M151.6 157.5h0M163.8 153.5h0M149 145.4h0M140 150.3h0M143 143.4h0M165.1 172.1h0M166.7 169.6h0M142.7 140h0" stroke="#eee6de" stroke-width="1.7" stroke-linecap="round" fill="none"/>
<path d="M136.4 150.2h0M141.4 167.4h0M170.5 156.8h0M143.5 144.5h0M137.4 171.7h0M142.4 141.8h0M161.6 175.2h0M151.5 160.1h0M137.4 162.9h0M153.9 164.2h0M140.7 175.9h0M157.5 139.4h0M162.1 147.1h0M135.9 176.9h0M136.6 142h0M169.3 176.7h0M135.7 150.6h0M145 148.8h0M155.7 175.9h0" stroke="#eee6de" stroke-width="1.2" stroke-linecap="round" fill="none"/>
<path d="M134.3 138.8Q149.7 137.9 161.2 138.6L172.7 139.2" fill="none" stroke="#a48a78" stroke-width="2.6" stroke-linecap="round" stroke-linejoin="round" opacity="0.75" filter="url(#b05)"/>
<path d="M134.3 142.4Q149.7 141.5 161.2 142.2L172.7 142.8" fill="none" stroke="#b49a84" stroke-width="1.8" stroke-linecap="round" stroke-linejoin="round" opacity="0.65" filter="url(#b05)"/>
<path d="M142 149.2L157.3 146.9L170.8 149.6L172.3 157.7L166.9 160.4L161.2 157.7L155.8 162.7L149.7 160.4L145.8 156.8L139.7 158.2L137.4 153.2Z" fill="#9a6842" opacity="0.78" filter="url(#b08)"/>
<path d="M134.3 147.8Q143.9 146 150.6 145.1Q157.3 144.2 165 145.1L172.7 146" fill="none" stroke="#f4eee8" stroke-width="1.6" stroke-linecap="round" stroke-linejoin="round" opacity="0.85" filter="url(#b05)"/>
<path d="M151.6 159.5Q148.9 164.9 146.4 168.9Q143.9 173 141.6 177.5L139.3 182" fill="none" stroke="#9a6842" stroke-width="3.2" stroke-linecap="round" stroke-linejoin="round" opacity="0.75" filter="url(#b08)"/>
<path d="M135.5 149.6Q135.8 164 135.6 171.9L135.5 179.8" fill="none" stroke="#9a6842" stroke-width="2.4" stroke-linecap="round" stroke-linejoin="round" opacity="0.7" filter="url(#b05)"/>
<path d="M155.8 164Q153.5 170.8 152.7 174.1L152 177.5" fill="none" stroke="#b08660" stroke-width="2" stroke-linecap="round" stroke-linejoin="round" opacity="0.6" filter="url(#b05)"/>
<path d="M168.9 159.5Q171.5 168.5 171.4 173L171.2 177.5" fill="none" stroke="#c0a080" stroke-width="1.6" stroke-linecap="round" stroke-linejoin="round" opacity="0.5" filter="url(#b05)"/>
<path d="M152.7 146.1h0M161.8 149.8h0M151.2 147.7h0M162 152.7h0M155.1 155h0M151.2 151.9h0M169 152.8h0M147.9 151.3h0M160.2 155.3h0M166.6 149.8h0M154.3 161.2h0M142.9 152.6h0M141.7 160.1h0M158.2 150.8h0M161.8 153.8h0M147.6 153.5h0M146.8 162.1h0M159.8 156.7h0M169 151.6h0M143.8 162h0M168.9 147.3h0M158.1 153.8h0" stroke="#8a5630" stroke-width="0.7" stroke-linecap="round" fill="none"/>
<path d="M146.4 148.5h0M157.7 157.4h0M159 155.9h0M156.6 152.1h0M161.3 153.3h0M157.5 149.4h0M168 149.7h0M145.9 155.4h0M142.1 157.8h0M136.6 155.8h0M152.8 151.4h0M145.4 152.1h0M154.2 155.4h0M147 149.2h0M160.2 145.4h0M142.3 154.5h0M166.8 151.4h0" stroke="#7d4a26" stroke-width="0.7" stroke-linecap="round" fill="none"/>
<path d="M163 149h0M141.5 161.3h0M148 150.3h0M146.9 153.7h0M154.8 151.8h0M153.8 150.1h0M148.7 151.3h0M166.6 151.8h0M147.3 150.6h0M160.3 155h0M167.7 151.8h0M155.7 151.7h0M165.8 159h0M143.3 155.5h0M169.3 148.7h0" stroke="#9a6640" stroke-width="0.95" stroke-linecap="round" fill="none"/>
<path d="M140.9 156.7h0M162.8 160.2h0M152.8 149.4h0M159.4 157h0M150.7 152.8h0M164.2 156.9h0M148.3 150.6h0M162.7 155.4h0M161.3 153.1h0M172.5 156h0M164 163h0M138.1 155.5h0M170.2 152.2h0M154.5 153.2h0M162 146.7h0M155 154.6h0M149.2 156.2h0M168.6 154.8h0M149.3 155.8h0M140.9 151h0M170.8 156.8h0" stroke="#7d4a26" stroke-width="0.95" stroke-linecap="round" fill="none"/>
<path d="M160.5 153.7h0M157.4 144.4h0M163.4 150.9h0M144.5 157.8h0M166.7 160h0M153.2 146.4h0M158.5 151.7h0M157.8 153.4h0M157.8 149.8h0M145.1 149h0M154.1 158h0M156.3 147.8h0M145.2 153.5h0M156.3 153.3h0M150.7 154.7h0M164.9 156.1h0M138.7 152.2h0" stroke="#8a5630" stroke-width="1.2" stroke-linecap="round" fill="none"/>
<path d="M147.3 153.7h0M161.9 154.9h0M148.6 159h0M153.6 150.8h0M154.5 151.9h0M162.2 158.8h0M147.4 161.1h0M146.4 155.9h0M161.4 156.2h0M160.8 153.3h0M136.5 150h0M150.2 148.8h0M162.8 150.2h0M162.7 148.6h0M172.7 160h0M152.3 157.5h0M163.3 163.1h0M171.9 153.5h0M160.4 151.4h0" stroke="#8a5630" stroke-width="0.95" stroke-linecap="round" fill="none"/>
<path d="M146.3 155h0M160.5 153.4h0M146.4 150.7h0M146 153.2h0M154.8 151.6h0M149.7 146.4h0M143.1 158h0M153.3 154.4h0M158.8 155.6h0M159.7 152.7h0M162.7 149h0M145.8 153.7h0M170.2 157.3h0M164.2 157.4h0M158.4 152.2h0" stroke="#7d4a26" stroke-width="1.2" stroke-linecap="round" fill="none"/>
<path d="M145.5 156.4h0M160.4 154.2h0M167.1 158.9h0M153.4 162.1h0M152.2 152h0M144.2 151.4h0M153.2 151.9h0M153 148.6h0M149 151h0M149.4 154.8h0M153 151.6h0M138.9 158.5h0M160.4 160.4h0" stroke="#9a6640" stroke-width="0.7" stroke-linecap="round" fill="none"/>
<path d="M160.9 155.2h0M167.2 153.3h0M154.6 155.3h0M163.5 149.3h0M154.9 154.6h0M153.2 159h0M150 157.4h0M137.7 159.3h0M151.9 149.6h0M141 158.7h0M160.8 159h0" stroke="#9a6640" stroke-width="1.2" stroke-linecap="round" fill="none"/>
<path d="M152.2 161.2h0M159.5 153.1h0M153.2 148.9h0M146.1 148.1h0M162.5 161.3h0M151.7 154.7h0M151.5 153h0M148.2 148h0M155.9 149.8h0" stroke="#e8d8c8" stroke-width="0.7" stroke-linecap="round" fill="none"/>
<path d="M152.8 153.6h0M141.2 164.1h0M153.3 148.5h0M154 157.2h0M147.6 155.5h0M162.2 155.2h0M150.1 148.3h0M151.7 155.2h0M139.9 153.5h0M147.8 154.8h0M158.3 153h0M163.2 154.3h0M145.4 152h0" stroke="#e8d8c8" stroke-width="1.2" stroke-linecap="round" fill="none"/>
<path d="M145.4 154.9h0M166.4 159.8h0M139.3 160h0M153.9 151.7h0M164.2 151.5h0M163.9 150.4h0" stroke="#d8c0a8" stroke-width="0.95" stroke-linecap="round" fill="none"/>
<path d="M146 158.2h0M150 147.3h0M155.8 153.7h0M148.4 150.5h0M142.2 154.4h0M138.1 153.9h0M163.4 157.3h0M151.6 157.7h0M169.1 152h0M168.5 151.3h0" stroke="#d8c0a8" stroke-width="1.2" stroke-linecap="round" fill="none"/>
<path d="M166 152h0M154.4 160.8h0M165.9 152.4h0M146.7 162.2h0M154.1 155.7h0M154.2 160h0M152.3 145.5h0M146.1 154h0" stroke="#f4ece4" stroke-width="0.7" stroke-linecap="round" fill="none"/>
<path d="M151 155.8h0M147.6 153h0M152.7 155.9h0M165.6 150.9h0" stroke="#f4ece4" stroke-width="0.95" stroke-linecap="round" fill="none"/>
<path d="M160.4 153.7h0M170.7 153.4h0M167.4 146.9h0M167.2 160h0" stroke="#f4ece4" stroke-width="1.2" stroke-linecap="round" fill="none"/>
<path d="M151.6 154.3h0M150 160.2h0M155 155.7h0M157.5 164h0M143 150.2h0" stroke="#e8d8c8" stroke-width="0.95" stroke-linecap="round" fill="none"/>
<path d="M150.8 154.2h0M141 159.3h0M160.4 160.2h0M152.2 162.1h0M151.9 151.1h0M164.5 157.2h0M151.5 158h0M162.1 159.9h0M158.1 150h0M160.5 160.1h0M142.5 155.3h0" stroke="#d8c0a8" stroke-width="0.7" stroke-linecap="round" fill="none"/>
<path d="M163.2 157.9h0M142.4 181h0M153.4 154.2h0M137.8 153.4h0M171.4 172.1h0M166.1 166.7h0M142 144.1h0" stroke="#c8a080" stroke-width="1" stroke-linecap="round" fill="none"/>
<path d="M170.9 150.3h0M160.8 181.1h0M162.8 154.5h0M156 149.8h0M145.1 177.9h0M163.6 175.3h0M154.5 179.3h0M136.3 172.5h0M139.7 162.4h0M151.2 146.2h0" stroke="#c8a080" stroke-width="0.6" stroke-linecap="round" fill="none"/>
<path d="M135.6 174.7h0M162.6 178.3h0M161.8 179.7h0M135.8 144.8h0M148 156.2h0M141.9 162.1h0M134.8 137.6h0M166.8 139h0" stroke="#a0663c" stroke-width="1" stroke-linecap="round" fill="none"/>
<path d="M137.5 154h0M143.5 182h0M140.2 158h0M137.9 166.7h0M150.9 145.4h0M152.9 157.2h0M140.8 160.8h0" stroke="#8c4e28" stroke-width="0.8" stroke-linecap="round" fill="none"/>
<path d="M166.2 162.8h0M159.3 179.2h0M166.6 162.1h0M151.8 152.4h0M153 140.6h0" stroke="#8c4e28" stroke-width="0.6" stroke-linecap="round" fill="none"/>
<path d="M139.6 163.3h0M146.1 142.8h0M150.4 150.5h0M160.3 167h0" stroke="#96582e" stroke-width="1" stroke-linecap="round" fill="none"/>
<path d="M135.7 153h0M161.2 147h0M145.7 151.5h0M153.7 179.9h0M161.6 152.2h0M143.7 160.9h0" stroke="#a0663c" stroke-width="0.8" stroke-linecap="round" fill="none"/>
<path d="M156.1 181.9h0M172.5 169h0M157 158.5h0M169.5 154.9h0M139.6 160.1h0" stroke="#b98868" stroke-width="0.8" stroke-linecap="round" fill="none"/>
<path d="M146.4 164.1h0M152.8 173.2h0M136.3 155.7h0M139.6 180.3h0M142.4 169.8h0" stroke="#8c4e28" stroke-width="1" stroke-linecap="round" fill="none"/>
<path d="M161.1 139.5h0M161 158.9h0M135.5 140.3h0M154.8 177.7h0" stroke="#c8a080" stroke-width="0.8" stroke-linecap="round" fill="none"/>
<path d="M153.3 166.5h0M141.4 177.2h0M161.4 149.2h0M158.6 170.7h0M146.4 177.7h0M161.5 146.5h0" stroke="#b98258" stroke-width="0.8" stroke-linecap="round" fill="none"/>
<path d="M141.6 158.7h0M171.6 175.1h0" stroke="#96582e" stroke-width="0.8" stroke-linecap="round" fill="none"/>
<path d="M152.6 141.3h0M136.2 177.9h0M166.1 142h0M144.7 138.3h0M156.3 169.5h0M144 144.3h0M163.6 163.2h0M168.5 180.1h0" stroke="#c09070" stroke-width="1" stroke-linecap="round" fill="none"/>
<path d="M148.3 140.8h0M149.4 153.2h0M154.8 180.4h0M157.7 138.2h0M168.1 144.2h0M149.3 159.6h0M161.4 143.3h0M142 178h0" stroke="#b98258" stroke-width="1" stroke-linecap="round" fill="none"/>
<path d="M141 145.6h0M136.2 162.6h0M155.7 156.7h0M165.3 152.7h0M140.4 167.2h0M153.1 148h0" stroke="#ad7448" stroke-width="0.8" stroke-linecap="round" fill="none"/>
<path d="M136.4 138h0M144 161.2h0M143.1 152.1h0M156.8 168.3h0M139.9 157.6h0M161.2 143h0M136.5 150.2h0M146.1 157.1h0M151.3 140.9h0" stroke="#ad7448" stroke-width="1" stroke-linecap="round" fill="none"/>
<path d="M135 167h0M140.1 172.9h0M168.3 148.2h0M170.5 154.1h0M159.3 180.9h0M135.9 165.1h0" stroke="#c09070" stroke-width="0.8" stroke-linecap="round" fill="none"/>
<path d="M141.1 150.7h0M152 155.9h0M149.8 160.6h0M163.8 139.1h0M158.8 140.5h0M159 148.3h0M137.6 169.1h0" stroke="#b98258" stroke-width="0.6" stroke-linecap="round" fill="none"/>
<path d="M156.3 158.3h0M144.8 169.3h0M146.2 176.1h0M139 178.7h0M163.2 152.6h0M155.7 155.8h0M158.3 146.8h0M144.9 141h0" stroke="#a0663c" stroke-width="0.6" stroke-linecap="round" fill="none"/>
<path d="M165.1 169.9h0M169.9 139.7h0M151.7 182h0M139 155.8h0" stroke="#b98868" stroke-width="1" stroke-linecap="round" fill="none"/>
<path d="M147.1 172.2h0M160.9 159.6h0M163.4 179.3h0M138.6 149.6h0" stroke="#b98868" stroke-width="0.6" stroke-linecap="round" fill="none"/>
<path d="M165.8 147.3h0M162.4 168.3h0M154.4 147.2h0" stroke="#ad7448" stroke-width="0.6" stroke-linecap="round" fill="none"/>
<path d="M170.9 160.7h0M155.4 160.1h0M143.3 181.8h0M148.9 138.8h0" stroke="#c09070" stroke-width="0.6" stroke-linecap="round" fill="none"/>
<path d="M164 177.4h0M156.7 146.7h0M162.8 143.8h0M165.9 171.5h0" stroke="#96582e" stroke-width="0.6" stroke-linecap="round" fill="none"/>
<path d="M166.6 180.2h0M167.5 165.8h0M159.3 179.1h0M145.6 167.1h0M164.5 176.6h0M170.2 180.8h0M162 166.5h0M142.6 162.1h0M144.1 168.9h0" stroke="#f8f4f0" stroke-width="1.6" stroke-linecap="round" fill="none"/>
<path d="M142.8 163.3h0M142.4 167.8h0M161.5 172.7h0M158.9 180.8h0M163.8 164.2h0M143.2 167h0M166.7 170.2h0M140.6 166.5h0M166.5 169.5h0" stroke="#ffffff" stroke-width="2" stroke-linecap="round" fill="none"/>
<path d="M160.7 165.5h0M160.2 176.3h0M159 178h0M158.5 177.8h0M145 170.7h0M171.2 178.6h0" stroke="#ffffff" stroke-width="1.6" stroke-linecap="round" fill="none"/>
<path d="M162.3 170.8h0M164.4 177.6h0M139 170.2h0M161.1 173.4h0M161.8 181.6h0M172.3 177.2h0M157.9 176.2h0" stroke="#f8f4f0" stroke-width="1.2" stroke-linecap="round" fill="none"/>
<path d="M162.9 163.3h0M168.2 164.8h0M165.7 178.1h0M144.2 164.9h0M138.2 164.1h0M169.1 175.5h0M160.3 169.1h0M172.3 167.1h0M139 166.7h0M164.7 170.9h0M168 168.9h0M160.4 169.3h0M165.8 173.8h0" stroke="#f8f4f0" stroke-width="2" stroke-linecap="round" fill="none"/>
<path d="M146.2 169.1h0M170.4 178.6h0M140.3 161.2h0M158.8 179.5h0M167.4 174.7h0M144.3 163.2h0" stroke="#ffffff" stroke-width="1.2" stroke-linecap="round" fill="none"/>
</g></g>
<text transform="translate(153.5 187.6) scale(0.1)" font-size="41.5" text-anchor="middle" font-weight="bold" stroke="#000" stroke-width="1.2" >SIRPα</text>
<g clip-path="url(#c5)">
<rect x="175.9" y="137" width="40.8" height="45" fill="#dcc8bc" />
<g filter="url(#semi)">
<path d="M201.4 176.4h0M176.7 158.1h0M191 143.4h0M212.7 163.1h0M205.4 176.9h0M215.3 151.6h0M204.3 155.1h0M178.4 152.1h0M179.2 142.2h0M211.1 181.5h0" stroke="#aab2d6" stroke-width="2.6" stroke-linecap="round" fill="none"/>
<path d="M212.4 172.6h0M215.3 153.7h0M176.9 180h0M208.5 175.1h0M204.3 141.7h0M199.5 176.4h0M200 167.6h0M180 142.5h0M212.9 147.1h0M195.9 143.5h0M185.6 138h0M209 164.9h0M180.5 162.7h0" stroke="#9ca6d0" stroke-width="2.6" stroke-linecap="round" fill="none"/>
<path d="M177.3 154.2h0M190.8 143h0M190.6 179.2h0M191.7 167.5h0M183.3 148h0M211.8 164h0M201.5 168.4h0M200.6 168.3h0M203.4 162.7h0M203.5 164.8h0" stroke="#aab2d6" stroke-width="2.1" stroke-linecap="round" fill="none"/>
<path d="M200.7 138.5h0M182.3 154.4h0M205.9 154h0M215.1 155.1h0M204.3 160.4h0M180 148.3h0M188.4 149.5h0M185 160.2h0M181.5 148.9h0M197.8 180.7h0M177.8 149.8h0" stroke="#9ca6d0" stroke-width="2.1" stroke-linecap="round" fill="none"/>
<path d="M208.8 164.6h0M210.2 151.6h0M178.1 153.7h0M200.8 175.6h0M189.5 147.2h0" stroke="#8590c2" stroke-width="2.1" stroke-linecap="round" fill="none"/>
<path d="M203.3 146.8h0M178.7 150.3h0M213.1 155.2h0M177.9 153.1h0M213.9 176.4h0M203 142.1h0M180.2 161h0" stroke="#8590c2" stroke-width="1.6" stroke-linecap="round" fill="none"/>
<path d="M193.9 164h0M188.9 180.4h0M181.8 144.7h0M182.8 176.2h0M181.1 148.4h0M187.1 142.9h0" stroke="#aab2d6" stroke-width="1.6" stroke-linecap="round" fill="none"/>
<path d="M193.1 156.4h0M187.9 169.6h0M199.6 180h0M179.4 166.9h0M183.8 142.4h0M181.1 169h0M214.2 163.1h0M185.7 150.2h0M206.8 146.1h0M188.6 169.9h0" stroke="#8e99c8" stroke-width="2.1" stroke-linecap="round" fill="none"/>
<path d="M182.9 170.5h0M177 180.1h0M216.2 181h0M197.2 167.2h0" stroke="#8590c2" stroke-width="2.6" stroke-linecap="round" fill="none"/>
<path d="M200.9 161.2h0M187 155.3h0M214.3 162.4h0M201.3 166h0M212 166.6h0M205.7 139.3h0M186.6 147.4h0M201.9 180.7h0" stroke="#b8bcd6" stroke-width="2.6" stroke-linecap="round" fill="none"/>
<path d="M199.7 179.8h0M190.6 141.5h0M189.8 181.5h0M196.7 171.4h0M181.5 157.4h0M205.6 149h0" stroke="#8e99c8" stroke-width="2.6" stroke-linecap="round" fill="none"/>
<path d="M179.3 153.3h0M211.9 137h0M198 154.4h0M182.8 175.3h0M214.8 159.1h0M191.4 163.7h0M176.1 143.6h0M193.6 169.3h0" stroke="#9ca6d0" stroke-width="1.6" stroke-linecap="round" fill="none"/>
<path d="M195.7 181h0M189.3 175.9h0M201 140.6h0M179.9 158h0M213.3 145h0" stroke="#b8bcd6" stroke-width="2.1" stroke-linecap="round" fill="none"/>
<path d="M199.2 154.1h0M206.8 156.8h0M213.1 172.4h0M190 161.5h0M210.8 169.9h0M181.4 156.8h0M182.1 177.7h0M210.5 171.7h0" stroke="#8e99c8" stroke-width="1.6" stroke-linecap="round" fill="none"/>
<path d="M210.6 143.6h0M187.5 164.2h0M203 151h0M181.9 163.5h0M208.9 146.2h0M215.7 169.9h0M179.6 174.5h0M216.5 139.7h0M214.9 144.8h0" stroke="#b8bcd6" stroke-width="1.6" stroke-linecap="round" fill="none"/>
<path d="M184.8 162.1h0M202.2 141.2h0M195.3 152.7h0M212.5 173.8h0M176.3 162.3h0M208.1 176.5h0M215.9 152.9h0M209.4 146.8h0M210.2 174.8h0M201.5 180.4h0M213.5 154.9h0M201.5 145.2h0M183.8 149.3h0M176.7 142.7h0M211.4 162.6h0M181.6 139.9h0" stroke="#b8703e" stroke-width="2.8" stroke-linecap="round" fill="none"/>
<path d="M182 176.8h0M205 175.1h0M199.6 171h0M191.7 137.2h0M203.6 165.1h0M206.7 165h0M177.9 154.8h0M204.2 145.7h0M185.4 161.8h0M210 153.8h0" stroke="#b8703e" stroke-width="2.2" stroke-linecap="round" fill="none"/>
<path d="M187.7 138.1h0M211.8 174.4h0M205.7 169.3h0M214.1 156.8h0M187.6 148.8h0M191.1 152.1h0M202.3 153.2h0M185.4 137.6h0M182.3 173.6h0M213.6 139.2h0M214.3 176.4h0M210.9 147.8h0M202.5 147.5h0M205.5 150.6h0" stroke="#b56c3c" stroke-width="2.8" stroke-linecap="round" fill="none"/>
<path d="M193.9 147.2h0M181.7 148.9h0M192.6 144.9h0M177.5 161.3h0M194.2 174.8h0M203.9 140.3h0M206.8 175.4h0M179.6 167.6h0M176.3 157.4h0M213.1 170.4h0M206.7 163.7h0M209 143.6h0M187.5 170.6h0" stroke="#b56c3c" stroke-width="2.2" stroke-linecap="round" fill="none"/>
<path d="M194.5 150.4h0M178.7 170.5h0M210.9 155.6h0M189.3 155.7h0M199.3 159.3h0M204.1 160.5h0M182.2 139.2h0M188.8 162.9h0M209 147h0M194.7 146.1h0M190.5 137.2h0M175.9 157.9h0M189 168h0M199.4 169.2h0M186.1 156.8h0M177.3 145.5h0M190.5 162.5h0M214.2 179.2h0M202.2 145h0M184.3 168.2h0M183.1 178.4h0M209.6 162.2h0M190.2 161.3h0M180.7 156.5h0M215.1 164.9h0M208.4 161.2h0" stroke="#c88858" stroke-width="2.8" stroke-linecap="round" fill="none"/>
<path d="M204.1 157.7h0M208 139.5h0M206.2 168.3h0M204.5 176.5h0M215 147.5h0M208.2 146.6h0M195.7 165.6h0M183.6 160.7h0M199.2 149.1h0M208.9 154.1h0M184.9 137h0M179.3 159.3h0" stroke="#c88858" stroke-width="1.6" stroke-linecap="round" fill="none"/>
<path d="M180.4 166.6h0M191.6 137.9h0M204.2 159.1h0M202.2 152.9h0M200.8 153.2h0M200 142.3h0M187.6 174.1h0M210.1 142.2h0M193.3 173.6h0M177.3 154.9h0M214.7 155.2h0M215.5 158.7h0" stroke="#c07a48" stroke-width="1.6" stroke-linecap="round" fill="none"/>
<path d="M212 145.2h0M211.3 152.7h0M182.4 170.9h0M185.4 155.1h0M202.1 154.5h0M197.4 173.6h0M195.4 151.8h0M197 141.9h0M199.5 181.5h0M176.3 169.9h0M196.9 151.5h0" stroke="#b8703e" stroke-width="1.6" stroke-linecap="round" fill="none"/>
<path d="M199.6 151.4h0M189.4 159.1h0M180.9 139.6h0M213.3 143.2h0M182.7 155.7h0M198.1 155.5h0M186.8 137.2h0M207.3 180.6h0M189.4 181.1h0M206.7 181.2h0M181.7 154.2h0M192 165.8h0M186.5 178.8h0M202.7 171.9h0M214.4 147.4h0M213.2 148.7h0M210.6 158.9h0M200.5 164.8h0M202.5 159.1h0" stroke="#c88858" stroke-width="2.2" stroke-linecap="round" fill="none"/>
<path d="M194.3 176.2h0M216.4 181.2h0M193.9 161.3h0M210.6 167.6h0M206.2 167.5h0M199.4 143.8h0M184.9 140.2h0M195.5 155.8h0M200.4 145.5h0M212.4 173.4h0M196.6 156.1h0M190 165.4h0M204.4 141.4h0" stroke="#a86030" stroke-width="2.8" stroke-linecap="round" fill="none"/>
<path d="M212.2 166.6h0M177.1 171.4h0M200.5 176.6h0M183 164.5h0M188.8 147.2h0M183.3 148.6h0M189 158.7h0M216.6 160h0M200.4 174.8h0M190 149.4h0M206.3 162.2h0M188.3 174.6h0M201.4 141.1h0M183.9 159.4h0M184 168.7h0M187.2 142.6h0M192.6 155.3h0M203 149.6h0M178.2 173.9h0M182.9 153.8h0" stroke="#a86030" stroke-width="2.2" stroke-linecap="round" fill="none"/>
<path d="M177.5 144.9h0M179.9 158.6h0M199 161.5h0M191.7 148.9h0M183.2 170h0M207.2 161.3h0M209.9 143.1h0M201.9 156h0M186.6 170.2h0M198 139.3h0M196.2 159.8h0M215.8 143.1h0M209.4 159.3h0M197.5 139.7h0M211.4 175h0M199.4 157.3h0" stroke="#c07a48" stroke-width="2.8" stroke-linecap="round" fill="none"/>
<path d="M193.9 175.6h0M210 164.3h0M182.3 149h0M199.8 143.2h0M211.5 144.6h0M206.6 137.2h0M211.7 149.7h0M204.7 141.2h0M179 156.9h0M202.1 163.6h0M177.3 169.7h0M197.3 142.4h0M202.4 154.8h0M194.2 169.8h0M184.6 161.6h0M198.1 145.2h0M181.8 139.7h0M207.3 178.8h0M193.9 150.9h0M179.3 155.3h0M210.6 156.3h0" stroke="#a86030" stroke-width="1.6" stroke-linecap="round" fill="none"/>
<path d="M198.9 142h0M193.7 145h0M195.1 177.3h0M213.1 149.7h0M210.9 170.4h0M185 163h0M202.1 138.3h0M191.7 162.6h0M190.4 180.5h0M202.7 175h0M185.4 170.9h0M208.1 160.2h0M204.6 153.5h0M214 172.3h0M207.7 150.3h0" stroke="#c07a48" stroke-width="2.2" stroke-linecap="round" fill="none"/>
<path d="M183.6 180.7h0M188.7 148.3h0M179.7 175.2h0M179.4 141.7h0M208.5 162.4h0M206.1 150.1h0M181.4 163.6h0M183.9 163.9h0M194.5 172.6h0M207.9 175.3h0M199 164.7h0M203.7 141.4h0" stroke="#b56c3c" stroke-width="1.6" stroke-linecap="round" fill="none"/>
<path d="M190.9 139.8h0M191.2 161.5h0M212.7 169.2h0M183.4 145.8h0M214.1 143.3h0M203.1 173.8h0M186.6 177h0M196.3 139.1h0" stroke="#b8bcd6" stroke-width="1.6" stroke-linecap="round" fill="none"/>
<path d="M179 155.7h0M215.3 161.1h0M200.2 140.9h0M199.2 158.6h0M204.1 166.1h0" stroke="#8590c2" stroke-width="1.2" stroke-linecap="round" fill="none"/>
<path d="M202.5 159.4h0M201.7 171.6h0M194.5 144.5h0M179.9 163.2h0M215.1 149.5h0M180.5 148.2h0" stroke="#9ca6d0" stroke-width="1.2" stroke-linecap="round" fill="none"/>
<path d="M182.1 172.2h0M176.4 161.5h0M196.2 160.4h0M213.6 148.8h0M197.2 160.6h0" stroke="#b8bcd6" stroke-width="1.2" stroke-linecap="round" fill="none"/>
<path d="M205.2 159.2h0M176.3 150h0M192.8 165.5h0M180.3 144.9h0M176.3 142.1h0M200.2 140.5h0M200.9 168.6h0M188.1 175.1h0" stroke="#aab2d6" stroke-width="1.6" stroke-linecap="round" fill="none"/>
<path d="M205.6 145.7h0M176.8 180.1h0M198.9 171.4h0M211.6 158.2h0M194.4 164.8h0" stroke="#9ca6d0" stroke-width="1.6" stroke-linecap="round" fill="none"/>
<path d="M192.9 149.4h0M192.1 138.6h0M190.4 181.3h0M192.7 153.2h0M190 141h0M187.1 146.9h0M212.5 177.1h0M201.5 177.7h0M207.7 155.9h0M185.6 157.9h0" stroke="#aab2d6" stroke-width="2" stroke-linecap="round" fill="none"/>
<path d="M193.3 175h0M180.8 138.7h0M195.7 151.3h0" stroke="#8e99c8" stroke-width="1.2" stroke-linecap="round" fill="none"/>
<path d="M200.4 159.9h0M190.4 138.7h0M189.5 168.6h0M188.4 166.3h0M195.1 174.3h0" stroke="#b8bcd6" stroke-width="2" stroke-linecap="round" fill="none"/>
<path d="M190.9 158.2h0M195.3 154h0M210.2 147.6h0M209.4 175.5h0M212.5 146.8h0" stroke="#8590c2" stroke-width="1.6" stroke-linecap="round" fill="none"/>
<path d="M179.7 160.4h0M179.2 167.2h0" stroke="#8e99c8" stroke-width="2" stroke-linecap="round" fill="none"/>
<path d="M177.1 157.8h0M187.8 162.3h0M185.4 144.7h0M199.7 170.9h0M177.7 137.5h0M195.5 166.3h0" stroke="#8e99c8" stroke-width="1.6" stroke-linecap="round" fill="none"/>
<path d="M207.4 165.2h0M181.2 151.7h0M198 163.8h0M199.4 171.3h0M196.6 157.1h0M201.6 138.7h0" stroke="#9ca6d0" stroke-width="2" stroke-linecap="round" fill="none"/>
<path d="M187.7 163.9h0M212.3 171.8h0M201.3 175.6h0M184.9 165.9h0M210 166.5h0M205.2 174.6h0M204.1 143.8h0M191.4 167h0" stroke="#8590c2" stroke-width="2" stroke-linecap="round" fill="none"/>
<path d="M177.1 176h0M181.7 163h0M206.2 162.4h0M194.1 147h0M194.2 167.1h0M200.4 145.2h0M176.9 151.4h0M201.2 137.8h0" stroke="#aab2d6" stroke-width="1.2" stroke-linecap="round" fill="none"/>
<path d="M212.6 172.1h0M201 171h0M177.5 163.3h0M183.2 141.1h0M213.2 178.5h0M196.8 151.3h0M186.9 167.7h0M185.5 144h0M213.7 161h0M191 170.4h0M212.9 158.9h0M182.7 138.3h0M208.6 154h0M176.6 149.6h0M184.5 146.1h0M209.1 143.9h0M186.2 181.9h0" stroke="#efe8e2" stroke-width="1.6" stroke-linecap="round" fill="none"/>
<path d="M206.5 143.1h0M177.8 138h0M213.3 168.2h0M187.7 164.5h0M191.5 156.4h0M177.6 175.9h0M203.8 175.8h0M187.6 162.4h0M204.5 177.6h0M195.8 174.6h0M177.3 153.3h0M207.6 157.8h0M192.9 142h0M206.2 152.2h0" stroke="#ffffff" stroke-width="1.2" stroke-linecap="round" fill="none"/>
<path d="M186.5 167.9h0M184.1 141.2h0M209.4 152.6h0M190.2 144.9h0M198.7 175h0M202.8 178h0M183.9 139h0M183.2 139.9h0M176.4 150.2h0" stroke="#f6f2ee" stroke-width="1.2" stroke-linecap="round" fill="none"/>
<path d="M181.6 176h0M201.7 150.3h0M194.4 164.1h0M190.4 181.2h0M201.4 166.2h0M209.4 168.7h0M209.4 165.4h0M192.9 159.5h0M192 171.5h0M199.4 141.2h0M186.9 175.2h0M188.1 177.7h0M188.4 141.9h0M215.4 143h0M194.4 165.8h0M201.2 174.3h0M187.7 164h0M202.7 164.7h0" stroke="#f6f2ee" stroke-width="2" stroke-linecap="round" fill="none"/>
<path d="M202.6 181.9h0M202 162.8h0M189.1 151.8h0M187.8 139.5h0M205.5 137.5h0M197.2 151h0M195.8 137.2h0M196.4 155.1h0M209.9 140.6h0M204.5 162.7h0M201.5 149.6h0M202.5 164.5h0M205.5 172.6h0M204.1 181.4h0M192.1 167.6h0M192.1 169.1h0" stroke="#efe8e2" stroke-width="1.2" stroke-linecap="round" fill="none"/>
<path d="M185.7 139.5h0M187.5 142.6h0M202.7 178.4h0M213.3 157.7h0M204.2 180.2h0M209.6 179.1h0M198.2 181.1h0M202.7 157.5h0M177.1 154.2h0M204.9 144.3h0" stroke="#ffffff" stroke-width="1.6" stroke-linecap="round" fill="none"/>
<path d="M189.2 161.6h0M206.1 137.8h0M190.4 178.6h0M199.6 140.4h0M186.1 181.5h0M213.4 179.6h0M193 160.2h0M185.4 174.1h0M184.5 141.2h0M213.8 150h0" stroke="#ffffff" stroke-width="2" stroke-linecap="round" fill="none"/>
<path d="M190.2 145h0M195.4 142h0M197.2 146.6h0M191.1 150.7h0M194.5 164.9h0M179.3 167.8h0M181.1 147.2h0M213.4 162.4h0M210.5 140.9h0" stroke="#f6f2ee" stroke-width="1.6" stroke-linecap="round" fill="none"/>
<path d="M212.5 170.7h0M196.3 159.7h0M196.5 161h0M179.4 143.9h0M210.6 141h0M178.9 179.6h0M212 172.3h0" stroke="#efe8e2" stroke-width="2" stroke-linecap="round" fill="none"/>
<path d="M212.2 153.2h0M198.9 163.3h0M182.8 167.2h0M194.7 165.5h0M189.5 147.3h0M206.3 177.3h0M203.7 174.4h0M182 178h0M205.7 169.1h0M214.3 147.6h0M182.6 180.5h0M200 171.2h0M183.7 158.9h0M193 141.1h0M190.9 138.1h0" stroke="#984e22" stroke-width="0.9" stroke-linecap="round" fill="none"/>
<path d="M203.6 158.1h0M209.1 154.3h0M176.2 168h0M176 170.5h0M200.5 139.5h0M184.3 158.6h0M182.8 148.5h0M202.4 175.2h0M202.8 152.2h0M195.2 148.3h0M183.4 153.6h0M209.7 150.6h0M202.4 169.3h0M183.4 153.7h0M211.6 140.4h0M215 144.9h0M184.2 171.2h0M216.3 168.1h0M189.4 157h0M201.9 165.5h0M190 175.9h0" stroke="#a45a2a" stroke-width="0.9" stroke-linecap="round" fill="none"/>
<path d="M190.7 160.4h0M178.8 154h0M193.7 138.5h0M192.3 163.8h0M184.7 153.1h0M213.1 179.5h0M201.1 137.6h0M210.1 170.2h0M178.2 172.6h0M189.4 181.2h0M176.2 147.8h0M185.9 162.1h0" stroke="#a45a2a" stroke-width="1.25" stroke-linecap="round" fill="none"/>
<path d="M216.5 156.5h0M211.9 163.3h0M180.5 154.9h0M183.5 179h0M193.6 161.8h0M184.1 145.7h0M201.5 163h0M192.9 172.5h0M185.5 181.8h0M209.9 181.5h0M192.5 170.7h0M190.4 154.8h0M203.1 167.5h0M209.7 173.8h0M183.4 150.2h0" stroke="#bb7444" stroke-width="0.9" stroke-linecap="round" fill="none"/>
<path d="M196.9 174.1h0M206.1 151.4h0M193.6 142.7h0M197.1 168.1h0M196.5 150.7h0M189.5 137.3h0M184.5 166.6h0M211.4 138.3h0M206 165h0M192.5 158.2h0M203.1 173.9h0M194.6 173.9h0M197.7 169.3h0M193.8 164.9h0M184.8 181.6h0" stroke="#984e22" stroke-width="1.6" stroke-linecap="round" fill="none"/>
<path d="M180.7 181.2h0M198.4 160h0M211.6 164.8h0M209.9 160.8h0M193.3 141.7h0M184 158.1h0M196.8 179h0M199.5 147.8h0M179.2 174.5h0M196.2 160.5h0M213.2 157.1h0" stroke="#b0683a" stroke-width="1.6" stroke-linecap="round" fill="none"/>
<path d="M188.8 175.3h0M197.6 150.2h0M176.3 180.3h0M214.5 147.5h0M210.5 179.2h0M190.7 148.5h0M198.9 161.5h0M192.1 175.1h0M205.1 161.7h0M205.9 141.4h0M189.7 150h0M204.5 160.8h0M210.3 174.2h0" stroke="#b0683a" stroke-width="0.9" stroke-linecap="round" fill="none"/>
<path d="M194.5 150h0M203.9 155.5h0M203 169.2h0M207.3 144.3h0M205 165.9h0M179.3 155.1h0M183.2 143.5h0M214.6 176.2h0M210.3 164.1h0M211.1 176.8h0M192.5 156.5h0M190.3 169.1h0M197.8 140.3h0" stroke="#bb7444" stroke-width="1.25" stroke-linecap="round" fill="none"/>
<path d="M189.5 150.3h0M184.2 178.3h0M187 159.8h0M215.8 158.3h0M207.3 158.8h0M184.4 166h0M189.9 167.8h0M200.9 145h0M191.5 156.1h0M182.3 178.2h0M183.8 180.1h0M183.8 139.8h0" stroke="#a45a2a" stroke-width="1.6" stroke-linecap="round" fill="none"/>
<path d="M178.5 175.4h0M180.3 178.8h0M212.4 146h0M184.9 174.7h0M203.2 177h0M193 172.4h0M206.4 143.3h0M180.2 161.1h0M190.9 177.1h0M208 160.6h0M183 175.1h0M180.2 172.6h0" stroke="#bb7444" stroke-width="1.6" stroke-linecap="round" fill="none"/>
<path d="M212.6 163.7h0M208.1 142.8h0M200.3 170.2h0M196.3 157h0M184.2 158.3h0M215.7 155.3h0M204.6 179.1h0" stroke="#984e22" stroke-width="1.25" stroke-linecap="round" fill="none"/>
<path d="M190.6 165.5h0M215.8 170.5h0M210.4 160.1h0M201.1 169.3h0" stroke="#b0683a" stroke-width="1.25" stroke-linecap="round" fill="none"/>
</g></g>
<text transform="translate(196.3 187.6) scale(0.1)" font-size="41.5" text-anchor="middle" font-weight="bold" stroke="#000" stroke-width="1.2" >CD163</text>
<g clip-path="url(#c6)">
<rect x="220.8" y="137" width="40.6" height="45" fill="#dcc6b4" />
<g filter="url(#semi)">
<path d="M233.8 169.2h0M239.1 165.9h0M252.1 138.9h0M236.7 164.3h0M260.1 137.2h0M258.1 170.9h0M246.1 176.5h0M239.6 156h0M243.5 148h0M224.3 180.2h0" stroke="#8e99c8" stroke-width="2.2" stroke-linecap="round" fill="none"/>
<path d="M225.9 173.9h0M252.4 151.5h0M251.2 147.5h0M242.5 162.5h0M239.6 149h0M251.8 176.7h0M257.9 181.2h0M240.1 179.7h0M231.4 142.4h0M256.3 165.6h0M232.1 142.3h0M253.7 156h0M233.9 156.3h0" stroke="#9ca6d0" stroke-width="2.2" stroke-linecap="round" fill="none"/>
<path d="M243 179.4h0M228.5 179.2h0M227 149.9h0M227.4 154.5h0M259.6 180.2h0M221.3 145.1h0M232.8 153.1h0M252.9 141.5h0M229.1 137.7h0M238.9 138h0M228.2 167.8h0M226.6 181.9h0M225.4 161.5h0M225.9 137.7h0M251.2 169.1h0" stroke="#b8bcd6" stroke-width="1.8" stroke-linecap="round" fill="none"/>
<path d="M229.7 156.3h0M253.3 137.6h0M243.2 146.9h0M248.2 142.1h0M234 150.5h0M253.3 175h0M230.2 177.4h0M246.8 156.1h0M223.2 168.1h0M253.5 142.1h0M249.4 170.6h0M230.5 164.5h0M222.1 166.5h0" stroke="#9ca6d0" stroke-width="1.8" stroke-linecap="round" fill="none"/>
<path d="M245.4 154h0M239.5 170.6h0M239.5 170.2h0M252.6 138.5h0M255.6 145h0M247.5 162.5h0M244.6 149.8h0M224.3 139.6h0" stroke="#c4c6da" stroke-width="1.4" stroke-linecap="round" fill="none"/>
<path d="M239.1 156.9h0M261.3 167.4h0M244.1 138.9h0M221.7 161.7h0M256.8 167.1h0M224 152.4h0M246.8 177.6h0" stroke="#9ca6d0" stroke-width="1.4" stroke-linecap="round" fill="none"/>
<path d="M244 146.5h0M256.3 141.1h0M236.5 176.3h0M233.2 174.4h0M258.1 153h0M230.9 141.3h0M243.8 177h0M256.5 170h0M240.5 162.7h0M239.9 152.8h0M259.3 146.9h0M224.5 181.4h0" stroke="#b8bcd6" stroke-width="1.4" stroke-linecap="round" fill="none"/>
<path d="M260.2 142.2h0M245.7 138.3h0M239.7 174.2h0M231.7 145.2h0M250 138.6h0M226.2 161.2h0M228.8 163.3h0M222.6 178.5h0M240.8 156h0M259.1 152.1h0M238.1 149.9h0M252.9 164.7h0M250.3 171.3h0M248.2 177.6h0M247.8 144.2h0M245.3 139h0M253.8 137.7h0M235.8 154.7h0M237.5 174.1h0" stroke="#c4c6da" stroke-width="2.2" stroke-linecap="round" fill="none"/>
<path d="M248.5 146.7h0M239.3 150.2h0M224.3 161.6h0M255.8 148.8h0M247.4 156.4h0M233.5 138.5h0M249.8 172.8h0M227.4 182h0M259 176.6h0M230.7 162.2h0M242.7 159.4h0M224.1 176.4h0" stroke="#b8bcd6" stroke-width="2.2" stroke-linecap="round" fill="none"/>
<path d="M248.7 162.4h0M257.7 142.5h0M249 143.6h0M236.6 145.4h0M226 149.9h0M249.4 144.1h0M252.4 151.5h0M243.1 142.4h0M229.9 164.6h0M224.2 177.2h0M236.5 145.4h0M250.6 160.6h0M242.2 156.1h0M242.7 160.1h0" stroke="#aab2d6" stroke-width="2.2" stroke-linecap="round" fill="none"/>
<path d="M251.2 144.4h0M249.3 142.5h0M244.6 179.2h0M225.7 162.6h0M243 158.4h0M231.5 155.3h0M249.4 174.6h0M225.3 142.7h0M220.9 170.6h0M230.3 166.5h0" stroke="#aab2d6" stroke-width="1.8" stroke-linecap="round" fill="none"/>
<path d="M259.7 154.1h0M256.4 145.8h0M228 167.5h0M238.5 153.4h0M257.4 170.3h0M237.1 176.1h0M248.5 169.7h0M239 176.6h0M239.6 140.7h0M245.4 144.5h0" stroke="#aab2d6" stroke-width="1.4" stroke-linecap="round" fill="none"/>
<path d="M248.9 144.6h0M258.7 162.9h0M247.4 137.7h0M260.5 143.9h0M238.8 137.2h0M245.6 173.8h0M230.9 166.9h0M226.1 159.3h0M230.1 160.8h0M239.4 169.2h0" stroke="#8590c2" stroke-width="1.8" stroke-linecap="round" fill="none"/>
<path d="M251 147.6h0M234.2 176h0M235 159.8h0M233.1 180.2h0M245 174.2h0M224.2 181.9h0M259.7 152.1h0M250.4 166.5h0" stroke="#c4c6da" stroke-width="1.8" stroke-linecap="round" fill="none"/>
<path d="M255.4 171.5h0M241.2 144.2h0M238.2 177.4h0M252.2 138.7h0M229.3 154.8h0M249.6 171.2h0M229.8 167.6h0" stroke="#8e99c8" stroke-width="1.8" stroke-linecap="round" fill="none"/>
<path d="M255.4 150.1h0M252.4 170.6h0M247.2 175h0M232 141.2h0M231 168.1h0M244.1 164.2h0M223.1 143.2h0M254.5 154.3h0M251.1 176.5h0M252.8 171.6h0M247.7 142.9h0M243.4 149.5h0M237.6 141.2h0M250.9 156.8h0" stroke="#8e99c8" stroke-width="1.4" stroke-linecap="round" fill="none"/>
<path d="M238 146.3h0M255.4 158.6h0M225.4 154.9h0M236.3 146.4h0M255.4 158.4h0M259.4 149.5h0M258.5 160.6h0M255.7 140.8h0M226.7 166.6h0M252.7 141.9h0M230 174.7h0M228.9 145.8h0M249.5 155.4h0M233.8 167.5h0" stroke="#8590c2" stroke-width="2.2" stroke-linecap="round" fill="none"/>
<path d="M250.2 162.9h0M234.7 156.3h0M234.1 180h0M248.4 165.9h0" stroke="#8590c2" stroke-width="1.4" stroke-linecap="round" fill="none"/>
<path d="M244.3 176.2h0M232.8 163.5h0M247.9 151.6h0M245.8 148.5h0M258.9 171.2h0M247.1 143.8h0M222.3 151.9h0M245.8 166.8h0M233.5 143.4h0M235.2 173.8h0M229.6 160.3h0M243.1 171.9h0M258.1 176.5h0M244.9 173.1h0M222 155.4h0M233.8 169.6h0M243.9 142.2h0M258 158.8h0M244.8 149.7h0M228.9 149.1h0M254.4 153h0M228 157.1h0" stroke="#d09a70" stroke-width="2.2" stroke-linecap="round" fill="none"/>
<path d="M250.4 177.5h0M234.9 166.5h0M221 138.5h0M251.8 181.3h0M235.3 165.9h0M256.2 137.2h0M232.3 149.7h0M242.2 165.3h0M221.2 154.6h0M241.8 172.7h0M233.7 177.6h0M242.4 170.5h0M259 148.9h0M248.3 146.1h0M250.8 179.2h0M236.5 179.8h0M248 166.8h0M232.4 174.1h0M225.3 171.8h0M225.8 175.9h0M238.8 146.2h0M241.6 167.8h0M239.4 152h0M242.7 145.4h0M226.7 178.6h0" stroke="#d09a70" stroke-width="1.2" stroke-linecap="round" fill="none"/>
<path d="M239.2 170.9h0M228.8 181.1h0M229.7 151.1h0M238.3 161h0M236.5 165.5h0M225.2 154.4h0M261.2 181.1h0M234.5 178.9h0M221 174h0M246 159.8h0M244.8 160.6h0M244.8 138h0M247 180.6h0M241.4 146.4h0M257.8 161.4h0M232.5 165.7h0M231.2 160.8h0M257.7 138.7h0M226.5 180.9h0M224.3 158.8h0M242.4 181.4h0M239.4 140.9h0M258 168.1h0M244.1 146.3h0M229.2 138.7h0M229.7 151.6h0" stroke="#c4865a" stroke-width="1.2" stroke-linecap="round" fill="none"/>
<path d="M245 166.2h0M253.4 170.8h0M245.3 165.9h0M229.2 163h0M239.4 153.4h0M246.7 139h0M223.1 141.1h0M228 170h0M261 163.8h0M235.1 156.9h0M223.7 180.3h0M234.8 161.8h0M227.5 152.3h0M242.1 168.6h0M239.3 166.1h0M252.2 169.9h0M232.7 153.9h0M230.2 171.5h0M245.4 171.7h0M229.1 143.2h0M254.9 161.5h0" stroke="#c07a48" stroke-width="1.7" stroke-linecap="round" fill="none"/>
<path d="M242.2 149.2h0M236.7 167.5h0M228.5 142.4h0M260.6 165.3h0M251.2 165.6h0M255.1 169.2h0M234.1 154.7h0M238.1 181.3h0M239.6 138.1h0M238.5 155h0M228.9 159h0M224.7 164.1h0M244 138h0M229.8 171.4h0M256.4 164.2h0M229.2 157.9h0M246.6 155.8h0M242.9 170.3h0M236.6 140.4h0M259.2 148h0M234 161.6h0M236.3 156.3h0" stroke="#bd7c4e" stroke-width="1.2" stroke-linecap="round" fill="none"/>
<path d="M233.7 140.4h0M233.5 145.9h0M233.1 165.9h0M242.4 156.6h0M227 149.5h0M250 162.4h0M256.4 148.8h0M229.3 165.8h0M257.9 171.2h0M229.2 150.9h0M224.1 168.1h0M230.5 151.5h0M222 145.5h0M250.6 143.3h0M240.2 160.5h0M247.4 173.8h0M230.8 166.3h0" stroke="#bd7c4e" stroke-width="1.7" stroke-linecap="round" fill="none"/>
<path d="M224 155.7h0M229 157h0M247.9 153h0M237.1 159.5h0M232 137.4h0M260.7 164.4h0M254.4 174.6h0M238.2 141.4h0M256.9 169.7h0M227.1 161.7h0M240.7 159.3h0M251.9 138.1h0M226.2 138h0M229.6 158.1h0M231.4 176.4h0M242.9 172.5h0M225.6 171.5h0" stroke="#c07a48" stroke-width="2.2" stroke-linecap="round" fill="none"/>
<path d="M252 139.7h0M241.9 178.5h0M233 176.8h0M223.7 142.9h0M259 169.4h0M246.7 146.6h0M259.2 168.7h0M229.8 180.3h0M221.6 171.9h0M244.8 179.5h0M244.7 163.4h0M257 156.2h0M244.4 141.3h0M225.4 158.6h0M233.4 167.6h0M221.1 153.6h0M239.1 179.8h0M254.1 168.2h0M229.4 152.1h0M250.7 177.4h0" stroke="#bd7c4e" stroke-width="2.2" stroke-linecap="round" fill="none"/>
<path d="M222.4 163.3h0M251.7 162.6h0M245.4 179.6h0M228.1 173.7h0M228.7 171.3h0M227.7 157.8h0M240.1 160.6h0M222.1 181.8h0M236.2 147.8h0M240.8 182h0M245.5 164.9h0M232.4 152.6h0M222.6 144.5h0M225.5 140.9h0M225 174.6h0" stroke="#c4865a" stroke-width="2.2" stroke-linecap="round" fill="none"/>
<path d="M243.8 157.6h0M224 142.9h0M257.3 152.3h0M238.5 164.5h0M223.7 142.7h0M245.5 177.2h0M241.6 161.3h0M226.2 172.8h0M232.7 159.9h0M249.6 164.9h0M259.8 169.7h0M254.1 170.7h0M257.2 159h0M237.1 152h0M223.9 145.1h0M243 174.7h0M236.7 179.5h0M225.2 146.8h0M249.7 179.3h0M259.2 151.2h0" stroke="#d09a70" stroke-width="1.7" stroke-linecap="round" fill="none"/>
<path d="M248.5 175.4h0M226.7 146.5h0M247.2 146.8h0M240.5 176.8h0M254.7 179.4h0M243.3 137.4h0M252.1 140.1h0M260.3 155.5h0M247.4 175.2h0M258.6 175.6h0M240.7 147.3h0M250.7 141.5h0M245.3 164.6h0" stroke="#cc9266" stroke-width="1.7" stroke-linecap="round" fill="none"/>
<path d="M246 175.5h0M259.4 175.3h0M243 148.3h0M222.3 160.9h0M239 168h0M255.3 144.9h0M237.5 158.7h0M240.4 147.2h0M232.4 174.4h0M244.4 147.5h0M221 162.1h0M235 175.5h0M233.1 167.7h0M229.2 140.3h0M224.4 164.5h0M222.4 140.5h0M261.2 155h0M233.1 153.2h0M257.7 177.4h0M247.6 177.8h0M244.5 147h0M227 160.2h0M222.8 138.1h0M251.1 142.6h0M227.7 144h0M244.2 162.5h0" stroke="#c07a48" stroke-width="1.2" stroke-linecap="round" fill="none"/>
<path d="M238 180.3h0M257.5 168.6h0M246.2 138.3h0M254.6 138.3h0M243.5 174.5h0M260 171.3h0M241.1 150.6h0M237.4 139.5h0M258.5 140.5h0M243.6 179.5h0M241.6 169.7h0M256.1 170.9h0M249.2 173.7h0M230.4 144.7h0M243.6 176h0M255.1 152.3h0M259.7 148.5h0M228 142.1h0M244.2 159.8h0M240.4 152h0M243 174.5h0M233.8 152.9h0M237.7 154.9h0M221.9 144.5h0" stroke="#cc9266" stroke-width="1.2" stroke-linecap="round" fill="none"/>
<path d="M255.6 160.1h0M247.4 176.8h0M236.7 162.9h0M257.3 178.4h0M243.8 181.9h0M236.8 180.3h0M260 163.6h0M239.7 159.8h0M227.5 181h0M257.7 138.8h0M234.5 155.1h0M251.3 164.5h0M224.1 148.1h0M221.6 154.5h0M236.1 175.1h0M225.6 153.9h0M245.3 169.8h0M252.8 155.5h0M252.6 154.5h0M239.8 169.5h0" stroke="#c4865a" stroke-width="1.7" stroke-linecap="round" fill="none"/>
<path d="M233.2 178.1h0M225.9 160.1h0M232 147.6h0M222.8 173h0M251.5 168.5h0M250.6 166.9h0M254.2 177.4h0M249.1 177.2h0M238.2 147.2h0M253.6 158.2h0M234.7 158.3h0M232 153.7h0" stroke="#cc9266" stroke-width="2.2" stroke-linecap="round" fill="none"/>
<path d="M246.4 141.8h0M249.8 139h0M240.7 179.6h0M233.6 175.1h0M258.8 172.7h0M242.3 139.2h0" stroke="#8e99c8" stroke-width="1" stroke-linecap="round" fill="none"/>
<path d="M233.1 167.9h0M260.2 154h0M240.4 148.2h0M255.4 181h0M237.2 151.2h0M260.8 151.4h0M259.5 181.5h0M238.3 148.2h0M229.1 138.1h0" stroke="#8590c2" stroke-width="1.6" stroke-linecap="round" fill="none"/>
<path d="M234.7 180h0M253 148.1h0M244.5 163.8h0M248.3 140.7h0M246.2 160.5h0M235.5 144.3h0M244.1 167.5h0" stroke="#c4c6da" stroke-width="1.3" stroke-linecap="round" fill="none"/>
<path d="M234.6 154.3h0M221.7 137.9h0M257.2 140.7h0M221.4 152.3h0M254 164.9h0M253.2 155h0M234.7 159.7h0M236 138.2h0M226.9 173.4h0M251.2 168h0" stroke="#c4c6da" stroke-width="1.6" stroke-linecap="round" fill="none"/>
<path d="M243 181.8h0M233.6 151.8h0M238.2 151.9h0M250 141.2h0M226.6 171.6h0M253.1 155.3h0M249.8 151.9h0" stroke="#c4c6da" stroke-width="1" stroke-linecap="round" fill="none"/>
<path d="M261.2 161.4h0M223.8 147.8h0M230.4 151.4h0M235.8 181h0M225.5 164.5h0M248.7 176.4h0M235.7 175.3h0" stroke="#9ca6d0" stroke-width="1.6" stroke-linecap="round" fill="none"/>
<path d="M226.5 151.2h0M238.5 150.9h0M247.6 164.6h0M233 176.1h0M229.8 156.4h0M223.6 166.1h0M239.9 155.1h0M248.9 160.8h0M255.6 162.3h0" stroke="#b8bcd6" stroke-width="1" stroke-linecap="round" fill="none"/>
<path d="M247.5 180.1h0M260.8 158.5h0M243.4 140.4h0M259.7 153.8h0M230.9 155.5h0M242.3 137.3h0M254.5 173.8h0M232.5 144.2h0" stroke="#8e99c8" stroke-width="1.3" stroke-linecap="round" fill="none"/>
<path d="M260.1 165.9h0M234.8 162h0M258.9 139.4h0M252.4 143.4h0M236.4 151.4h0M250.2 173.7h0M224.4 171.3h0M232.4 145.7h0" stroke="#8590c2" stroke-width="1.3" stroke-linecap="round" fill="none"/>
<path d="M237.7 160.4h0M255.8 151.8h0M237.2 144.3h0M252.9 174.6h0M225 178.8h0M247.6 175.6h0" stroke="#b8bcd6" stroke-width="1.3" stroke-linecap="round" fill="none"/>
<path d="M255.1 165.6h0M230.8 162.6h0M252.6 158.9h0M247.6 138.4h0M240 181.7h0" stroke="#aab2d6" stroke-width="1.3" stroke-linecap="round" fill="none"/>
<path d="M233.1 181h0M252.1 165.4h0M220.9 181.7h0M245.5 153.6h0M255.1 156.7h0M252.1 137.7h0M223.1 150.7h0" stroke="#9ca6d0" stroke-width="1" stroke-linecap="round" fill="none"/>
<path d="M253.4 169.6h0M238.6 152h0M253.9 148.4h0M226.3 181h0M243.7 143.7h0" stroke="#8590c2" stroke-width="1" stroke-linecap="round" fill="none"/>
<path d="M251.1 173.2h0M256.3 156.2h0M237.9 144h0M244.4 162h0M243 172.7h0" stroke="#9ca6d0" stroke-width="1.3" stroke-linecap="round" fill="none"/>
<path d="M254.6 150.8h0M255.6 142.1h0M235.4 168.5h0M232.2 161h0M243.1 173.9h0M247.2 173.1h0M240.7 156.8h0M233.2 163.6h0M244.1 171.9h0" stroke="#aab2d6" stroke-width="1" stroke-linecap="round" fill="none"/>
<path d="M233.6 141.3h0M240.4 147.8h0M241.4 158.4h0" stroke="#8e99c8" stroke-width="1.6" stroke-linecap="round" fill="none"/>
<path d="M226.5 174.3h0M251.6 167.8h0M243.2 165.2h0M236.8 165.9h0" stroke="#aab2d6" stroke-width="1.6" stroke-linecap="round" fill="none"/>
<path d="M232.3 175.6h0M258.2 146.6h0M250 160.1h0M221.8 178.1h0M245.7 175.2h0" stroke="#b8bcd6" stroke-width="1.6" stroke-linecap="round" fill="none"/>
<path d="M232.2 151.7h0M243.7 146.1h0M239.3 163.5h0M251.3 153.7h0M230.6 181.4h0M241.6 157.1h0M231.5 145.9h0M238.2 158h0M252.4 141.2h0" stroke="#f2ece6" stroke-width="1.3" stroke-linecap="round" fill="none"/>
<path d="M229.4 151.2h0M255.7 166.2h0M246.1 139.2h0M256.6 168.7h0M231.9 138.2h0M240.9 180.8h0M243.8 146h0M241.9 149h0M233.8 138.8h0M227.4 154.4h0M233 137.1h0M223.6 173.4h0M232.3 177.8h0M254 173.2h0M228.2 150.5h0M247.1 169.1h0M235.9 179h0" stroke="#ebe2da" stroke-width="1" stroke-linecap="round" fill="none"/>
<path d="M240.5 154.6h0M255.6 163.1h0M226.3 141.2h0M239.1 165.2h0M242.6 149.2h0M235.3 161.5h0M224.6 172.3h0M244.6 166.9h0M254.6 179.8h0M234.4 161.6h0M244.3 150.7h0M248.9 173.6h0M247 176.8h0M260.9 162.4h0M256 165.4h0M227.2 171.9h0M252.4 137.2h0M225.9 172.6h0M229.2 149.4h0" stroke="#ebe2da" stroke-width="1.3" stroke-linecap="round" fill="none"/>
<path d="M232.6 174.8h0M251.5 163.1h0M231.3 137.1h0M255.8 149.4h0M253.2 161h0M253.9 173.4h0M256.6 144.4h0M242.6 139.9h0M224.4 137.7h0M230.9 144.3h0M239 142.4h0M230 160.1h0" stroke="#ebe2da" stroke-width="1.6" stroke-linecap="round" fill="none"/>
<path d="M249.3 171.1h0M242.1 175.4h0M228.5 162.3h0M251.2 160.7h0M257.9 146h0M232.3 140.9h0M253.6 181.1h0M237.9 169.5h0M240.2 139.3h0M221.2 137.1h0M253.9 158.3h0M230.7 177.3h0M246.8 150.7h0M248.5 162.8h0M222.5 148.2h0" stroke="#f2ece6" stroke-width="1.6" stroke-linecap="round" fill="none"/>
<path d="M231.7 165.9h0M255.6 158.7h0M244.4 152.4h0M245.8 164.2h0M240.4 141.3h0M260.3 164.6h0M240.2 160h0M235.4 171.8h0M251.1 170.2h0M256 157.5h0M236.4 142.4h0M247.7 165.2h0M250 155.4h0M258.7 180.7h0M253.6 146.7h0M226.4 149.2h0M230 166.3h0M244.5 137.9h0" stroke="#f2ece6" stroke-width="1" stroke-linecap="round" fill="none"/>
<path d="M241.1 164.9Q249.2 160.4 253.3 158.8L257.3 157.2" fill="none" stroke="#e8dcd6" stroke-width="2.5" stroke-linecap="round" stroke-linejoin="round" opacity="0.6" filter="url(#b08)"/>
<path d="M232 146.7h0M238.6 140.4h0M253.2 156.1h0M231.7 156h0M244.9 145.5h0M225.4 160.9h0M229.6 169.1h0M225.1 142.3h0M250.2 167.5h0M228.7 149h0M226.9 166.8h0M237.4 154.2h0M260.9 145.8h0M228 178.4h0M225.3 167.6h0M249.7 139.8h0" stroke="#b06838" stroke-width="0.8" stroke-linecap="round" fill="none"/>
<path d="M228.4 178h0M223.2 173.8h0M260.3 147.5h0M251.2 138.6h0M230 154.8h0M246.9 152.7h0M230 148.9h0M228.3 171.4h0M250.6 166.6h0M226.5 176.5h0M257.8 140.9h0M224.4 181h0M227.5 139.8h0M232.4 146.8h0M240 151.3h0M257.3 169.9h0M250.1 166.5h0M237.5 161.7h0M226.3 155.4h0" stroke="#b87040" stroke-width="1.1" stroke-linecap="round" fill="none"/>
<path d="M256.4 174h0M223.1 166.3h0M232.7 139.6h0M238.5 153h0M243.9 169.8h0M226.3 171.4h0M244.5 145.9h0M255.4 139.1h0M257.1 149.1h0M246.7 156.4h0M258.3 146.9h0M247.6 141.7h0M248.1 177.5h0M254.8 155.3h0M259.8 142.2h0M248.3 178.1h0" stroke="#c07c4c" stroke-width="1.4" stroke-linecap="round" fill="none"/>
<path d="M243.7 147h0M234.9 138.5h0M232.8 140.9h0M228.5 161.3h0M236.4 139.4h0M229.2 156.4h0M256.4 143.6h0M260.7 169.3h0M253.4 143.1h0M229.6 180.9h0M228.2 149.4h0M237.6 163.2h0" stroke="#c88a5c" stroke-width="1.4" stroke-linecap="round" fill="none"/>
<path d="M226.6 142.2h0M258.9 173h0M257.9 167.5h0M247.7 158.1h0M243.1 153.1h0M229.5 163h0M242.7 149.4h0M254.2 147.3h0M239.8 161.2h0M256.6 164.8h0M230.7 179.5h0M255.4 142.2h0M259.1 150.9h0M236.4 159.2h0M244.4 151h0" stroke="#c07c4c" stroke-width="1.1" stroke-linecap="round" fill="none"/>
<path d="M243.1 177.5h0M239.5 178.1h0M228.3 147.7h0M242.9 167.6h0M253.3 179.1h0M242.8 177.1h0M251.9 139.3h0M251.6 177.1h0M259.5 138.5h0M224.3 159h0M257.5 145h0M222.8 167.9h0M239.4 156.9h0" stroke="#b87040" stroke-width="1.4" stroke-linecap="round" fill="none"/>
<path d="M228.7 150.5h0M236 164.7h0M245.9 137.9h0M254.7 171.5h0M222 170.3h0M242.6 142.3h0M254.7 137h0M239.1 157.8h0M224.9 138.5h0M242.2 169.5h0M235.1 169.7h0M261 146.1h0M240.6 166.4h0M257.3 146.5h0M234.9 139.7h0M261.2 151.6h0" stroke="#c07c4c" stroke-width="0.8" stroke-linecap="round" fill="none"/>
<path d="M243.9 157.6h0M254.2 137.1h0M243.9 168h0M221.6 170.7h0M236.3 166h0M244 165.6h0M227.8 143.2h0M233 145.8h0M242.6 159.8h0M244.8 176.6h0M223.2 154.6h0M242.9 164.3h0M253.2 170.4h0" stroke="#b87040" stroke-width="0.8" stroke-linecap="round" fill="none"/>
<path d="M229.2 173.9h0M228.6 153.5h0M233.7 149.8h0M225.1 159.6h0M224.6 167.1h0M230.6 139.6h0M242.9 170.7h0M242.6 177.2h0M229.4 140.2h0M260 149.6h0M246.9 177.2h0M254.2 153.2h0M239.1 173.2h0M241.5 151.9h0" stroke="#b06838" stroke-width="1.1" stroke-linecap="round" fill="none"/>
<path d="M254.3 157.9h0M237.8 150h0M242.3 152h0M260.2 161.5h0M224.1 157.7h0M223.4 178.4h0M247 161.4h0M259.9 161.6h0M240.5 175.4h0M234.6 138.8h0M237.4 151.2h0M222.3 177.6h0M230 149.1h0M224.8 174.8h0M245.4 172.5h0M221.8 173.2h0M226.3 147.3h0M226.1 143.8h0M224 162h0M245.3 181.5h0M240.4 165.2h0M238.3 168.6h0M240.3 170.8h0M249.6 157.7h0M243.5 147h0" stroke="#c88a5c" stroke-width="0.8" stroke-linecap="round" fill="none"/>
<path d="M261.2 140.6h0M254.4 178.4h0M231.5 165.8h0M226.3 169.3h0M250.9 179.1h0M227.5 171.6h0M234.6 153.4h0M252.1 162h0M223.6 179.9h0M256 181.7h0M233.9 163.2h0M223.8 179.2h0M251.2 178.1h0M236.6 167.1h0M244.5 156.5h0M253.4 142.5h0M258.3 150.4h0M257.8 156.7h0M257.6 151.5h0M245.3 180.2h0M251.9 166.6h0" stroke="#b06838" stroke-width="1.4" stroke-linecap="round" fill="none"/>
<path d="M229.6 174.9h0M258.2 141.8h0M252.6 171.2h0M234.5 154.7h0M241 176h0M241.1 149h0M229.9 161.8h0M248.8 178.3h0M260.6 138.2h0M257.1 150.9h0M253.6 151.6h0M246.7 145.7h0M235.7 149.5h0M260 140.2h0M258.1 158.5h0M238.1 154.8h0M254.2 141.5h0M233.2 174.4h0M230.9 141.6h0M257.3 163.6h0" stroke="#c88a5c" stroke-width="1.1" stroke-linecap="round" fill="none"/>
</g></g>
<text transform="translate(241.1 187.6) scale(0.1)" font-size="41.5" text-anchor="middle" font-weight="bold" stroke="#000" stroke-width="1.2" >SIRPα</text>
<text transform="translate(1.8 124) scale(0.1)" font-size="37" text-anchor="middle" font-weight="bold" stroke="#000" stroke-width="1.2" >B</text>
<g clip-path="url(#c7)">
<rect x="275" y="109.2" width="58.2" height="59.6" fill="#0e0000" />
<circle cx="295.37" cy="130.06" r="15" fill="#5a0606" opacity="0.7" filter="url(#b30)"/>
<circle cx="315.74" cy="144.96" r="14" fill="#5a0606" opacity="0.7" filter="url(#b30)"/>
<circle cx="316.9" cy="121.12" r="10" fill="#4a0505" opacity="0.5" filter="url(#b30)"/>
<g filter="url(#semi)">
<circle cx="301.3" cy="142.6" r="2.02" fill="url(#cellD)"/>
<circle cx="302.1" cy="139.5" r="1.86" fill="url(#cellD)"/>
<circle cx="285.7" cy="139.7" r="1.88" fill="url(#cellD)"/>
<circle cx="321.2" cy="114.8" r="1.72" fill="url(#cellD)"/>
<circle cx="280.3" cy="157.5" r="1.91" fill="url(#cellD)"/>
<circle cx="277.4" cy="167.7" r="2.05" fill="url(#cellD)"/>
<circle cx="313.1" cy="145.9" r="1.65" fill="url(#cellD)"/>
<circle cx="275.9" cy="140.7" r="1.6" fill="url(#cellD)"/>
<circle cx="286.1" cy="123.6" r="1.58" fill="url(#cellD)"/>
<circle cx="302" cy="135.5" r="1.98" fill="url(#cellD)"/>
<circle cx="305.2" cy="147.4" r="1.81" fill="url(#cellD)"/>
<circle cx="313.6" cy="136.5" r="1.71" fill="url(#cellD)"/>
<circle cx="333.1" cy="168.5" r="1.98" fill="url(#cellD)"/>
<circle cx="316.2" cy="128" r="1.68" fill="url(#cellD)"/>
<circle cx="291.8" cy="113.4" r="1.95" fill="url(#cellD)"/>
<circle cx="298.3" cy="159.7" r="1.76" fill="url(#cellD)"/>
<circle cx="330.8" cy="159.7" r="1.57" fill="url(#cellD)"/>
<circle cx="287.2" cy="163.5" r="1.8" fill="url(#cellD)"/>
<circle cx="332.1" cy="132.9" r="1.6" fill="url(#cellD)"/>
<circle cx="311.6" cy="155.6" r="1.7" fill="url(#cellD)"/>
<circle cx="280.1" cy="129" r="2.04" fill="url(#cellD)"/>
<circle cx="319.1" cy="116.2" r="1.69" fill="url(#cellD)"/>
<circle cx="280.9" cy="112.8" r="1.96" fill="url(#cellD)"/>
<circle cx="285.3" cy="142.5" r="1.79" fill="url(#cellD)"/>
<circle cx="286.1" cy="152.8" r="1.63" fill="url(#cellD)"/>
<circle cx="312.5" cy="116.1" r="1.78" fill="url(#cellD)"/>
<circle cx="287.4" cy="125.3" r="2.05" fill="url(#cellD)"/>
<circle cx="321.8" cy="127.3" r="2.01" fill="url(#cellD)"/>
<circle cx="287.3" cy="132.7" r="1.99" fill="url(#cellD)"/>
<circle cx="312.4" cy="115.2" r="2.06" fill="url(#cellD)"/>
<circle cx="287.4" cy="124.6" r="1.95" fill="url(#cellD)"/>
<circle cx="294.1" cy="126.9" r="1.6" fill="url(#cellD)"/>
<circle cx="280.2" cy="143.9" r="1.69" fill="url(#cellD)"/>
<circle cx="310" cy="131.4" r="1.79" fill="url(#cellD)"/>
<circle cx="330.8" cy="138" r="1.85" fill="url(#cellD)"/>
<circle cx="325.4" cy="120.1" r="1.64" fill="url(#cellD)"/>
<circle cx="327.9" cy="157.9" r="1.69" fill="url(#cellD)"/>
<circle cx="286" cy="153.3" r="2.03" fill="url(#cellD)"/>
<circle cx="286.4" cy="165.8" r="2" fill="url(#cellD)"/>
<circle cx="310.1" cy="134.3" r="1.62" fill="url(#cellD)"/>
<circle cx="277.3" cy="166.6" r="1.69" fill="url(#cellD)"/>
<circle cx="316" cy="124.5" r="1.98" fill="url(#cellD)"/>
<circle cx="309.7" cy="126.7" r="1.65" fill="url(#cellD)"/>
<circle cx="316.9" cy="113.3" r="1.68" fill="url(#cellD)"/>
<circle cx="307.6" cy="160" r="1.87" fill="url(#cellD)"/>
<circle cx="291.3" cy="163.9" r="1.67" fill="url(#cellD)"/>
<circle cx="276" cy="125.2" r="1.79" fill="url(#cellD)"/>
<circle cx="278.5" cy="119.7" r="1.75" fill="url(#cellD)"/>
<circle cx="308.3" cy="117" r="1.75" fill="url(#cellD)"/>
<circle cx="326.9" cy="167.6" r="1.89" fill="url(#cellD)"/>
<circle cx="315.2" cy="144" r="1.64" fill="url(#cellD)"/>
<circle cx="277" cy="110.3" r="2.02" fill="url(#cellD)"/>
<circle cx="315.8" cy="166.6" r="1.58" fill="url(#cellD)"/>
<circle cx="312" cy="137.9" r="1.93" fill="url(#cellD)"/>
<circle cx="293.6" cy="168.8" r="1.6" fill="url(#cellD)"/>
<circle cx="306.8" cy="153.1" r="2.01" fill="url(#cellD)"/>
<circle cx="317.9" cy="151.1" r="1.96" fill="url(#cellD)"/>
<circle cx="328.3" cy="130.2" r="1.91" fill="url(#cellD)"/>
<circle cx="327.4" cy="161.1" r="1.77" fill="url(#cellD)"/>
<circle cx="321" cy="160.7" r="1.85" fill="url(#cellD)"/>
<circle cx="311.4" cy="132" r="1.86" fill="url(#cellD)"/>
<circle cx="310.4" cy="114" r="1.88" fill="url(#cellD)"/>
<circle cx="332.8" cy="161.6" r="1.93" fill="url(#cellD)"/>
<circle cx="297.6" cy="153" r="1.86" fill="url(#cellD)"/>
<circle cx="300.6" cy="159.2" r="1.61" fill="url(#cellD)"/>
<circle cx="318.7" cy="111" r="1.87" fill="url(#cellD)"/>
<circle cx="303" cy="122.9" r="1.91" fill="url(#cellD)"/>
<circle cx="303.9" cy="145.8" r="2.02" fill="url(#cellD)"/>
<circle cx="289.9" cy="109.9" r="1.72" fill="url(#cellD)"/>
<circle cx="314.5" cy="121.3" r="1.65" fill="url(#cellD)"/>
<circle cx="327.7" cy="148.5" r="1.79" fill="url(#cellD)"/>
<circle cx="326.9" cy="128.7" r="1.9" fill="url(#cellD)"/>
<circle cx="286.6" cy="134.9" r="1.97" fill="url(#cellD)"/>
<circle cx="328.2" cy="161.7" r="1.76" fill="url(#cellD)"/>
<circle cx="308.9" cy="128.1" r="1.63" fill="url(#cellD)"/>
<circle cx="303.9" cy="159.1" r="1.99" fill="url(#cellD)"/>
<circle cx="316.4" cy="165.8" r="1.7" fill="url(#cellD)"/>
<circle cx="284.8" cy="136.1" r="1.7" fill="url(#cellD)"/>
<circle cx="287.5" cy="133.9" r="1.88" fill="url(#cellD)"/>
<circle cx="303.7" cy="128" r="1.98" fill="url(#cellD)"/>
<circle cx="332.2" cy="136.2" r="1.6" fill="url(#cellD)"/>
<circle cx="276.8" cy="161.2" r="1.59" fill="url(#cellD)"/>
<circle cx="316.2" cy="143.2" r="1.72" fill="url(#cellD)"/>
<circle cx="321.1" cy="110.3" r="1.63" fill="url(#cellD)"/>
<circle cx="301.5" cy="110.7" r="1.98" fill="url(#cellD)"/>
<circle cx="288.8" cy="117.6" r="1.59" fill="url(#cellD)"/>
<circle cx="311.6" cy="135.8" r="1.88" fill="url(#cellD)"/>
<circle cx="313.1" cy="157.3" r="2.04" fill="url(#cellD)"/>
<circle cx="314.8" cy="121.1" r="1.8" fill="url(#cellD)"/>
<circle cx="285.4" cy="109.8" r="1.8" fill="url(#cellD)"/>
<circle cx="316.6" cy="119.9" r="1.7" fill="url(#cellD)"/>
<circle cx="295.1" cy="150.8" r="1.83" fill="url(#cellD)"/>
<circle cx="310.8" cy="154.3" r="1.76" fill="url(#cellD)"/>
<circle cx="321.1" cy="163.2" r="1.61" fill="url(#cellD)"/>
<circle cx="329.3" cy="152.3" r="1.63" fill="url(#cellD)"/>
<circle cx="301.4" cy="146.5" r="2.02" fill="url(#cellD)"/>
<circle cx="296.9" cy="143.1" r="2" fill="url(#cellD)"/>
<circle cx="321.4" cy="165.5" r="1.8" fill="url(#cellD)"/>
<circle cx="312.9" cy="121.4" r="1.92" fill="url(#cellD)"/>
<circle cx="322.6" cy="147.4" r="1.92" fill="url(#cellD)"/>
<circle cx="287.4" cy="162.8" r="2.05" fill="url(#cellD)"/>
<circle cx="331.9" cy="141.2" r="1.96" fill="url(#cellD)"/>
<circle cx="293.6" cy="163.4" r="1.99" fill="url(#cellD)"/>
<circle cx="295.3" cy="114.1" r="1.79" fill="url(#cellD)"/>
<circle cx="307" cy="155" r="1.81" fill="url(#cellD)"/>
<circle cx="276.7" cy="157.4" r="1.6" fill="url(#cellD)"/>
<circle cx="321.6" cy="119.5" r="1.73" fill="url(#cellD)"/>
<circle cx="320.9" cy="117.6" r="1.64" fill="url(#cellD)"/>
<circle cx="305.1" cy="152.3" r="1.98" fill="url(#cellD)"/>
<circle cx="315.1" cy="165.6" r="1.81" fill="url(#cellD)"/>
<circle cx="330.2" cy="114.3" r="1.51" fill="url(#cellE)"/>
<circle cx="305.7" cy="126.5" r="1.76" fill="url(#cellE)"/>
<circle cx="312.2" cy="140.4" r="1.82" fill="url(#cellE)"/>
<circle cx="307.6" cy="127.8" r="1.59" fill="url(#cellE)"/>
<circle cx="324.2" cy="162.9" r="1.51" fill="url(#cellE)"/>
<circle cx="324.5" cy="166.9" r="1.66" fill="url(#cellE)"/>
<circle cx="308.3" cy="121.2" r="1.67" fill="url(#cellE)"/>
<circle cx="304.3" cy="145.3" r="1.42" fill="url(#cellE)"/>
<circle cx="331.4" cy="140" r="1.6" fill="url(#cellE)"/>
<circle cx="321.6" cy="142.7" r="1.65" fill="url(#cellE)"/>
<circle cx="315.2" cy="113.1" r="1.67" fill="url(#cellE)"/>
<circle cx="299.1" cy="166.2" r="1.86" fill="url(#cellE)"/>
<circle cx="290.7" cy="137.4" r="1.47" fill="url(#cellE)"/>
<circle cx="300.2" cy="157.8" r="1.85" fill="url(#cellE)"/>
<circle cx="302.7" cy="128.1" r="1.5" fill="url(#cellE)"/>
<circle cx="311" cy="164.3" r="1.47" fill="url(#cellE)"/>
<circle cx="320.4" cy="110.6" r="1.5" fill="url(#cellE)"/>
<circle cx="288.2" cy="150.1" r="1.56" fill="url(#cellE)"/>
<circle cx="295.7" cy="146.1" r="1.45" fill="url(#cellE)"/>
<circle cx="317.5" cy="116.5" r="1.66" fill="url(#cellE)"/>
<circle cx="289.6" cy="121" r="1.67" fill="url(#cellE)"/>
<circle cx="300.4" cy="131.6" r="1.61" fill="url(#cellE)"/>
<circle cx="305.8" cy="118.7" r="1.5" fill="url(#cellE)"/>
<circle cx="311.7" cy="147.3" r="1.66" fill="url(#cellE)"/>
<circle cx="324.5" cy="145.7" r="1.83" fill="url(#cellE)"/>
<circle cx="288.5" cy="153.3" r="1.8" fill="url(#cellE)"/>
<circle cx="327.5" cy="128" r="1.56" fill="url(#cellE)"/>
<circle cx="328.7" cy="122.2" r="1.9" fill="url(#cellE)"/>
<circle cx="326.7" cy="117.2" r="1.52" fill="url(#cellE)"/>
<circle cx="317.3" cy="124.7" r="1.45" fill="url(#cellE)"/>
<circle cx="323.4" cy="134.3" r="1.79" fill="url(#cellE)"/>
<circle cx="282.3" cy="133.2" r="1.74" fill="url(#cellE)"/>
<circle cx="276" cy="121.2" r="1.74" fill="url(#cellE)"/>
<circle cx="328" cy="166.9" r="1.46" fill="url(#cellE)"/>
<circle cx="304.4" cy="154.4" r="1.65" fill="url(#cellE)"/>
<circle cx="314.9" cy="120.5" r="1.44" fill="url(#cellE)"/>
<circle cx="281.2" cy="111.4" r="1.68" fill="url(#cellE)"/>
<circle cx="305" cy="143.1" r="1.48" fill="url(#cellE)"/>
<circle cx="285.7" cy="121.4" r="1.82" fill="url(#cellE)"/>
<circle cx="332.6" cy="164.4" r="1.45" fill="url(#cellE)"/>
<circle cx="278.6" cy="165.9" r="1.63" fill="url(#cellE)"/>
<circle cx="319.5" cy="128.7" r="1.63" fill="url(#cellE)"/>
<circle cx="305" cy="134.8" r="1.7" fill="url(#cellE)"/>
<circle cx="275.8" cy="151" r="1.82" fill="url(#cellE)"/>
<circle cx="285.5" cy="136.3" r="1.77" fill="url(#cellE)"/>
<circle cx="298.6" cy="120.8" r="1.48" fill="url(#cellE)"/>
<circle cx="304.8" cy="110.1" r="1.84" fill="url(#cellE)"/>
<circle cx="321.7" cy="151.2" r="1.83" fill="url(#cellE)"/>
<circle cx="311.6" cy="133.3" r="1.7" fill="url(#cellE)"/>
<circle cx="304.3" cy="167.8" r="1.8" fill="url(#cellE)"/>
<circle cx="290" cy="163.5" r="1.77" fill="url(#cellE)"/>
<circle cx="320.3" cy="157.8" r="1.6" fill="url(#cellE)"/>
<circle cx="327.2" cy="161.6" r="1.75" fill="url(#cellE)"/>
<circle cx="319.7" cy="154.8" r="1.6" fill="url(#cellE)"/>
<circle cx="317.1" cy="113.4" r="1.57" fill="url(#cellE)"/>
<circle cx="302.3" cy="109.8" r="1.58" fill="url(#cellE)"/>
<circle cx="312.2" cy="146.4" r="1.52" fill="url(#cellE)"/>
<circle cx="330" cy="148.9" r="1.57" fill="url(#cellE)"/>
<circle cx="313.4" cy="143.1" r="1.67" fill="url(#cellE)"/>
<circle cx="297.7" cy="168.8" r="1.72" fill="url(#cellE)"/>
<circle cx="315.8" cy="154.6" r="1.89" fill="url(#cellE)"/>
<circle cx="276.3" cy="145.9" r="1.77" fill="url(#cellE)"/>
<circle cx="289.9" cy="133.1" r="1.43" fill="url(#cellE)"/>
<circle cx="286.4" cy="131.6" r="1.45" fill="url(#cellE)"/>
<circle cx="289.6" cy="163.2" r="1.67" fill="url(#cellE)"/>
<circle cx="304.6" cy="166.8" r="1.68" fill="url(#cellE)"/>
<circle cx="332.9" cy="147.2" r="1.8" fill="url(#cellE)"/>
<circle cx="279.4" cy="144.8" r="1.78" fill="url(#cellE)"/>
<circle cx="277.6" cy="164.6" r="1.48" fill="url(#cellE)"/>
<circle cx="302.5" cy="119.3" r="1.65" fill="url(#cellE)"/>
<circle cx="310.6" cy="112.7" r="1.87" fill="url(#cellE)"/>
<circle cx="299.5" cy="140.6" r="1.7" fill="url(#cellE)"/>
<circle cx="296.3" cy="126.2" r="1.73" fill="url(#cellE)"/>
<circle cx="307.6" cy="126.1" r="1.76" fill="url(#cellE)"/>
<circle cx="292.2" cy="110" r="1.52" fill="url(#cellE)"/>
<circle cx="302.35" cy="118.74" r="1.5" fill="#4ee044"/>
<path d="M277.5 118.5h-0.6M278.1 128h-0.6M277.9 168.1h0.8M279.3 163.2h-0.6M316.9 124.2h0M277.6 115.1h-0.6M283.4 166.4h0M310.1 116.1h-0.6M301.5 121.3h0M295.8 118.4h0.8M300.8 149h-0.6M310 147.3h-0.6M296.2 153.5h0M330.4 153h0M303 139.2h0.8M320.6 146.4h0.8M291 145.5h0M311.8 154.1h0M330.4 139.1h0M326.1 111.6h0" stroke="#22b822" stroke-width="1.3" stroke-linecap="round" fill="none"/>
</g>
<path d="M277.5 125.1l3.3 0M310.2 116.1l2.9 1.6M291.8 153.7l2.7 -1.9M285.6 123.7l3.3 0M302.7 130.6l3.3 0M295.3 153.1l1.8 2.8M323.3 156.4l3.3 0" stroke="#ecca1c" stroke-width="0.8" fill="none" filter="url(#b03)"/>
</g>
<rect x="275.3" y="109.5" width="57.6" height="59" fill="none" stroke="#0c0000" stroke-width="0.6"/>
<g clip-path="url(#c8)">
<rect x="337" y="109.2" width="58.2" height="59.6" fill="#100000" />
<circle cx="357.37" cy="130.06" r="15" fill="#5a0606" opacity="0.7" filter="url(#b30)"/>
<circle cx="377.74" cy="144.96" r="14" fill="#5a0606" opacity="0.7" filter="url(#b30)"/>
<circle cx="378.9" cy="121.12" r="10" fill="#4a0505" opacity="0.5" filter="url(#b30)"/>
<circle cx="366.1" cy="139" r="14" fill="#6a0808" opacity="0.6" filter="url(#b30)"/>
<g filter="url(#semi)">
<circle cx="364.6" cy="148.4" r="1.9" fill="url(#cellD)"/>
<circle cx="345.3" cy="109.8" r="1.75" fill="url(#cellD)"/>
<circle cx="352.9" cy="157.5" r="1.91" fill="url(#cellD)"/>
<circle cx="372" cy="142.5" r="1.89" fill="url(#cellD)"/>
<circle cx="345.5" cy="135.4" r="1.65" fill="url(#cellD)"/>
<circle cx="389.7" cy="112.7" r="1.97" fill="url(#cellD)"/>
<circle cx="341.3" cy="150.1" r="1.73" fill="url(#cellD)"/>
<circle cx="360.5" cy="159.4" r="1.58" fill="url(#cellD)"/>
<circle cx="340.5" cy="163.7" r="1.82" fill="url(#cellD)"/>
<circle cx="342.3" cy="168" r="2.04" fill="url(#cellD)"/>
<circle cx="343.5" cy="134.4" r="1.63" fill="url(#cellD)"/>
<circle cx="355.2" cy="146.2" r="1.65" fill="url(#cellD)"/>
<circle cx="377.6" cy="112.3" r="1.65" fill="url(#cellD)"/>
<circle cx="384.5" cy="133.1" r="1.77" fill="url(#cellD)"/>
<circle cx="371.7" cy="137.6" r="1.76" fill="url(#cellD)"/>
<circle cx="338.8" cy="152.5" r="2.05" fill="url(#cellD)"/>
<circle cx="393.8" cy="148.8" r="1.74" fill="url(#cellD)"/>
<circle cx="358.1" cy="150.3" r="1.9" fill="url(#cellD)"/>
<circle cx="343.6" cy="123.2" r="1.75" fill="url(#cellD)"/>
<circle cx="366.8" cy="157.5" r="1.82" fill="url(#cellD)"/>
<circle cx="338.6" cy="158.2" r="1.78" fill="url(#cellD)"/>
<circle cx="367.2" cy="122.4" r="1.78" fill="url(#cellD)"/>
<circle cx="359.6" cy="155.2" r="1.62" fill="url(#cellD)"/>
<circle cx="369" cy="119.8" r="1.91" fill="url(#cellD)"/>
<circle cx="339.1" cy="125.7" r="1.74" fill="url(#cellD)"/>
<circle cx="374.1" cy="112.3" r="1.79" fill="url(#cellD)"/>
<circle cx="349.2" cy="126" r="1.8" fill="url(#cellD)"/>
<circle cx="392.8" cy="137.9" r="2.04" fill="url(#cellD)"/>
<circle cx="346.8" cy="164.3" r="1.75" fill="url(#cellD)"/>
<circle cx="348" cy="153.8" r="2.02" fill="url(#cellD)"/>
<circle cx="337.4" cy="125.2" r="1.95" fill="url(#cellD)"/>
<circle cx="356.9" cy="123.6" r="1.57" fill="url(#cellD)"/>
<circle cx="339.3" cy="146.1" r="2.05" fill="url(#cellD)"/>
<circle cx="395.1" cy="139.2" r="1.58" fill="url(#cellD)"/>
<circle cx="355.8" cy="156.1" r="1.98" fill="url(#cellD)"/>
<circle cx="374.2" cy="122.9" r="1.83" fill="url(#cellD)"/>
<circle cx="364.8" cy="146.6" r="1.7" fill="url(#cellD)"/>
<circle cx="392.1" cy="162.5" r="1.65" fill="url(#cellD)"/>
<circle cx="354" cy="161.2" r="1.71" fill="url(#cellD)"/>
<circle cx="391.9" cy="139.9" r="1.91" fill="url(#cellD)"/>
<circle cx="378" cy="122" r="1.71" fill="url(#cellD)"/>
<circle cx="351.8" cy="149.9" r="1.91" fill="url(#cellD)"/>
<circle cx="344.7" cy="162" r="1.78" fill="url(#cellD)"/>
<circle cx="351" cy="135.1" r="2.05" fill="url(#cellD)"/>
<circle cx="369.6" cy="146.4" r="2.02" fill="url(#cellD)"/>
<circle cx="393" cy="154.5" r="1.77" fill="url(#cellD)"/>
<circle cx="371.2" cy="162.9" r="1.96" fill="url(#cellD)"/>
<circle cx="370.8" cy="129.9" r="1.75" fill="url(#cellD)"/>
<circle cx="379.8" cy="142.8" r="1.58" fill="url(#cellD)"/>
<circle cx="378.3" cy="163.1" r="1.96" fill="url(#cellD)"/>
<circle cx="389.2" cy="163.5" r="1.83" fill="url(#cellD)"/>
<circle cx="382.9" cy="131.8" r="1.62" fill="url(#cellD)"/>
<circle cx="357.6" cy="127.8" r="2.03" fill="url(#cellD)"/>
<circle cx="377.1" cy="141.5" r="1.88" fill="url(#cellD)"/>
<circle cx="344.3" cy="141" r="1.91" fill="url(#cellD)"/>
<circle cx="359.9" cy="123.8" r="1.77" fill="url(#cellD)"/>
<circle cx="355.8" cy="150" r="1.64" fill="url(#cellD)"/>
<circle cx="342.3" cy="127.8" r="1.91" fill="url(#cellD)"/>
<circle cx="381.2" cy="148.5" r="2.03" fill="url(#cellD)"/>
<circle cx="358.3" cy="111" r="1.81" fill="url(#cellD)"/>
<circle cx="362.8" cy="119.9" r="1.9" fill="url(#cellD)"/>
<circle cx="356.9" cy="123.4" r="1.73" fill="url(#cellD)"/>
<circle cx="391.9" cy="109.7" r="1.75" fill="url(#cellD)"/>
<circle cx="353.3" cy="121.2" r="1.78" fill="url(#cellD)"/>
<circle cx="349.8" cy="164" r="1.82" fill="url(#cellD)"/>
<circle cx="377.6" cy="118.9" r="1.8" fill="url(#cellD)"/>
<circle cx="372.3" cy="159.4" r="1.69" fill="url(#cellD)"/>
<circle cx="363.8" cy="160.1" r="1.98" fill="url(#cellD)"/>
<circle cx="350.2" cy="141.3" r="1.94" fill="url(#cellD)"/>
<circle cx="360" cy="149.3" r="1.9" fill="url(#cellD)"/>
<circle cx="393.6" cy="142.2" r="1.9" fill="url(#cellD)"/>
<circle cx="357.4" cy="152.8" r="1.73" fill="url(#cellD)"/>
<circle cx="366.1" cy="130.7" r="1.72" fill="url(#cellD)"/>
<circle cx="344.9" cy="122.7" r="1.84" fill="url(#cellD)"/>
<circle cx="351.7" cy="111.9" r="1.97" fill="url(#cellD)"/>
<circle cx="353.6" cy="165" r="1.86" fill="url(#cellD)"/>
<circle cx="359.6" cy="161.2" r="2.01" fill="url(#cellD)"/>
<circle cx="355.7" cy="116.7" r="1.88" fill="url(#cellD)"/>
<circle cx="386" cy="145.5" r="1.96" fill="url(#cellD)"/>
<circle cx="361" cy="146" r="1.7" fill="url(#cellD)"/>
<circle cx="360.7" cy="131.8" r="1.76" fill="url(#cellD)"/>
<circle cx="360.3" cy="157.3" r="1.65" fill="url(#cellD)"/>
<circle cx="348.9" cy="124.4" r="2.05" fill="url(#cellD)"/>
<circle cx="367.4" cy="112.4" r="1.98" fill="url(#cellD)"/>
<circle cx="387.8" cy="158.1" r="1.75" fill="url(#cellD)"/>
<circle cx="379.8" cy="127.4" r="1.64" fill="url(#cellD)"/>
<circle cx="387.4" cy="158.8" r="1.67" fill="url(#cellD)"/>
<circle cx="388.2" cy="110.7" r="1.72" fill="url(#cellD)"/>
<circle cx="337.8" cy="119.4" r="1.65" fill="url(#cellD)"/>
<circle cx="378.7" cy="126.9" r="1.66" fill="url(#cellD)"/>
<circle cx="347.7" cy="127.8" r="1.99" fill="url(#cellD)"/>
<circle cx="372.3" cy="115.3" r="1.91" fill="url(#cellD)"/>
<circle cx="368.2" cy="135.9" r="1.83" fill="url(#cellD)"/>
<circle cx="374.9" cy="156.9" r="1.82" fill="url(#cellD)"/>
<circle cx="374" cy="137.1" r="1.88" fill="url(#cellD)"/>
<circle cx="359.6" cy="133.9" r="1.82" fill="url(#cellD)"/>
<circle cx="378.6" cy="125.8" r="2.03" fill="url(#cellD)"/>
<circle cx="365.6" cy="160.2" r="1.91" fill="url(#cellD)"/>
<circle cx="392.7" cy="149.9" r="1.78" fill="url(#cellD)"/>
<circle cx="360.6" cy="145.4" r="1.94" fill="url(#cellD)"/>
<circle cx="385.8" cy="116.9" r="1.6" fill="url(#cellD)"/>
<circle cx="343.3" cy="114.2" r="1.6" fill="url(#cellD)"/>
<circle cx="337.5" cy="124.1" r="1.62" fill="url(#cellD)"/>
<circle cx="376.9" cy="145.9" r="2.05" fill="url(#cellD)"/>
<circle cx="392.9" cy="153.7" r="2.04" fill="url(#cellD)"/>
<circle cx="338.6" cy="122.8" r="2.03" fill="url(#cellD)"/>
<circle cx="364.7" cy="121.5" r="1.94" fill="url(#cellD)"/>
<circle cx="361.7" cy="141.6" r="1.72" fill="url(#cellD)"/>
<circle cx="351.1" cy="114.4" r="1.87" fill="url(#cellD)"/>
<circle cx="392.4" cy="168" r="1.95" fill="url(#cellD)"/>
<circle cx="391.3" cy="130.8" r="1.72" fill="url(#cellD)"/>
<circle cx="390.7" cy="145" r="1.9" fill="url(#cellD)"/>
<circle cx="337.7" cy="122.8" r="1.81" fill="url(#cellD)"/>
<circle cx="379.5" cy="158.4" r="1.94" fill="url(#cellD)"/>
<circle cx="356.8" cy="131.9" r="1.99" fill="url(#cellD)"/>
<circle cx="394.6" cy="138.1" r="1.66" fill="url(#cellD)"/>
<circle cx="373.3" cy="141.1" r="1.75" fill="url(#cellD)"/>
<circle cx="350.4" cy="132.2" r="1.87" fill="url(#cellD)"/>
<circle cx="344.4" cy="141.4" r="2.04" fill="url(#cellD)"/>
<circle cx="380.4" cy="124.2" r="1.77" fill="url(#cellD)"/>
<circle cx="343" cy="153.1" r="1.72" fill="url(#cellE)"/>
<circle cx="347.1" cy="141.9" r="1.7" fill="url(#cellE)"/>
<circle cx="370.6" cy="131.8" r="1.56" fill="url(#cellE)"/>
<circle cx="357.7" cy="168.7" r="1.57" fill="url(#cellE)"/>
<circle cx="366.2" cy="136.6" r="1.49" fill="url(#cellE)"/>
<circle cx="360.3" cy="121.4" r="1.56" fill="url(#cellE)"/>
<circle cx="358.4" cy="130.1" r="1.87" fill="url(#cellE)"/>
<circle cx="354.3" cy="129" r="1.73" fill="url(#cellE)"/>
<circle cx="360.1" cy="139.9" r="1.72" fill="url(#cellE)"/>
<circle cx="341.3" cy="149.2" r="1.45" fill="url(#cellE)"/>
<circle cx="351.6" cy="157.5" r="1.89" fill="url(#cellE)"/>
<circle cx="376.2" cy="119.4" r="1.62" fill="url(#cellE)"/>
<circle cx="353.4" cy="159.3" r="1.52" fill="url(#cellE)"/>
<circle cx="348.4" cy="147.2" r="1.72" fill="url(#cellE)"/>
<circle cx="371.3" cy="137.7" r="1.88" fill="url(#cellE)"/>
<circle cx="363.7" cy="165" r="1.6" fill="url(#cellE)"/>
<circle cx="364.1" cy="130.6" r="1.76" fill="url(#cellE)"/>
<circle cx="380.7" cy="123.5" r="1.66" fill="url(#cellE)"/>
<circle cx="379.3" cy="139.1" r="1.73" fill="url(#cellE)"/>
<circle cx="372.9" cy="151.8" r="1.58" fill="url(#cellE)"/>
<circle cx="354.8" cy="110.7" r="1.84" fill="url(#cellE)"/>
<circle cx="383" cy="132.5" r="1.88" fill="url(#cellE)"/>
<circle cx="389.5" cy="118.2" r="1.82" fill="url(#cellE)"/>
<circle cx="361.5" cy="127.9" r="1.53" fill="url(#cellE)"/>
<circle cx="361.1" cy="112.3" r="1.43" fill="url(#cellE)"/>
<circle cx="343.8" cy="127.5" r="1.48" fill="url(#cellE)"/>
<circle cx="344.1" cy="158.8" r="1.59" fill="url(#cellE)"/>
<circle cx="365.5" cy="145" r="1.86" fill="url(#cellE)"/>
<circle cx="345.5" cy="122.8" r="1.83" fill="url(#cellE)"/>
<circle cx="389.9" cy="164.7" r="1.66" fill="url(#cellE)"/>
<circle cx="358.4" cy="120.4" r="1.85" fill="url(#cellE)"/>
<circle cx="381.5" cy="142.1" r="1.79" fill="url(#cellE)"/>
<circle cx="352.2" cy="141" r="1.85" fill="url(#cellE)"/>
<circle cx="343.3" cy="146" r="1.49" fill="url(#cellE)"/>
<circle cx="385.8" cy="159.2" r="1.72" fill="url(#cellE)"/>
<circle cx="362.4" cy="110.5" r="1.65" fill="url(#cellE)"/>
<circle cx="357.9" cy="133" r="1.44" fill="url(#cellE)"/>
<circle cx="390.6" cy="140.3" r="1.68" fill="url(#cellE)"/>
<circle cx="386" cy="162.6" r="1.67" fill="url(#cellE)"/>
<circle cx="368.7" cy="159.7" r="1.59" fill="url(#cellE)"/>
<circle cx="389.4" cy="110.7" r="1.8" fill="url(#cellE)"/>
<circle cx="367.7" cy="146.3" r="1.89" fill="url(#cellE)"/>
<circle cx="349.8" cy="133.5" r="1.8" fill="url(#cellE)"/>
<circle cx="380.5" cy="140.4" r="1.79" fill="url(#cellE)"/>
<circle cx="376.4" cy="161" r="1.72" fill="url(#cellE)"/>
<circle cx="358.1" cy="126.3" r="1.44" fill="url(#cellE)"/>
<circle cx="344.2" cy="111.7" r="1.89" fill="url(#cellE)"/>
<circle cx="345.2" cy="145.1" r="1.47" fill="url(#cellE)"/>
<circle cx="393.2" cy="141" r="1.49" fill="url(#cellE)"/>
<circle cx="385.1" cy="160.5" r="1.89" fill="url(#cellE)"/>
<circle cx="350" cy="133.2" r="1.73" fill="url(#cellE)"/>
<circle cx="353.4" cy="143.1" r="1.75" fill="url(#cellE)"/>
<circle cx="380.7" cy="158.3" r="1.77" fill="url(#cellE)"/>
<circle cx="353.6" cy="154.2" r="1.62" fill="url(#cellE)"/>
<circle cx="346.9" cy="110.4" r="1.71" fill="url(#cellE)"/>
<circle cx="357.8" cy="114.8" r="1.65" fill="url(#cellE)"/>
<circle cx="361.1" cy="128.6" r="1.68" fill="url(#cellE)"/>
<circle cx="368.4" cy="140.8" r="1.89" fill="url(#cellE)"/>
<circle cx="389.7" cy="127" r="1.83" fill="url(#cellE)"/>
<circle cx="355.3" cy="165" r="1.43" fill="url(#cellE)"/>
<circle cx="355.5" cy="164.7" r="1.73" fill="url(#cellE)"/>
<circle cx="378.1" cy="121.4" r="1.46" fill="url(#cellE)"/>
<circle cx="392.9" cy="113.1" r="1.49" fill="url(#cellE)"/>
<circle cx="362.1" cy="158" r="1.74" fill="url(#cellE)"/>
<circle cx="395.1" cy="155.6" r="1.62" fill="url(#cellE)"/>
<circle cx="390" cy="128.1" r="1.43" fill="url(#cellE)"/>
<circle cx="392.8" cy="161.7" r="1.73" fill="url(#cellE)"/>
<circle cx="364.9" cy="121.3" r="1.51" fill="url(#cellE)"/>
<circle cx="340.9" cy="114.8" r="1.64" fill="url(#cellE)"/>
<circle cx="389.2" cy="164.8" r="1.66" fill="url(#cellE)"/>
<circle cx="376.2" cy="137.1" r="1.79" fill="url(#cellE)"/>
<circle cx="378.1" cy="167.9" r="1.82" fill="url(#cellE)"/>
<circle cx="376.5" cy="144.4" r="1.49" fill="url(#cellE)"/>
<circle cx="364.4" cy="135.9" r="1.48" fill="url(#cellE)"/>
<circle cx="348.7" cy="133.7" r="1.49" fill="url(#cellE)"/>
<circle cx="373.3" cy="128.8" r="1.89" fill="url(#cellE)"/>
<circle cx="376.8" cy="140" r="1.62" fill="url(#cellE)"/>
<circle cx="359.8" cy="121.1" r="1.88" fill="url(#cellE)"/>
<circle cx="390.2" cy="147.9" r="1.72" fill="url(#cellE)"/>
<circle cx="345.4" cy="141.5" r="1.49" fill="url(#cellE)"/>
<circle cx="355.9" cy="144.2" r="1.49" fill="url(#cellE)"/>
<circle cx="350.6" cy="152.7" r="1.64" fill="url(#cellE)"/>
<circle cx="388.8" cy="118.7" r="1.45" fill="url(#cellE)"/>
<circle cx="391.6" cy="145.5" r="1.75" fill="url(#cellE)"/>
<circle cx="369.4" cy="118.1" r="1.89" fill="url(#cellE)"/>
<circle cx="365.8" cy="163.4" r="1.47" fill="url(#cellE)"/>
<circle cx="353" cy="141.9" r="1.53" fill="url(#cellE)"/>
<circle cx="387" cy="124.7" r="1.44" fill="url(#cellE)"/>
<circle cx="346.5" cy="125.4" r="1.87" fill="url(#cellE)"/>
<circle cx="388.1" cy="149.1" r="1.61" fill="url(#cellE)"/>
<circle cx="339.4" cy="158.8" r="1.46" fill="url(#cellE)"/>
<circle cx="348.6" cy="135.1" r="1.83" fill="url(#cellE)"/>
<circle cx="347.6" cy="112.9" r="1.85" fill="url(#cellE)"/>
<circle cx="337.5" cy="153" r="1.47" fill="url(#cellE)"/>
<circle cx="354.4" cy="121.6" r="1.62" fill="url(#cellE)"/>
<path d="M390.6 159.3h0M366.7 156.5h0M383.2 163.8h0M386 167.5h0M345.8 114h0.8M381.2 131.3h0.8M379 116.3h0M362.5 156.7h0M388.1 135.2h-0.6M358.6 125.9h0.8M395.1 115.5h0.8M350.4 128.6h0.8M382.3 137.8h0.8M337.2 114.3h0M346.2 135.3h-0.6M376.5 160.6h-0.6M388.5 154.8h-0.6M377.3 114.7h0M372.4 119.2h-0.6M355.2 127h0M339.7 161.3h0.8M365.7 142.6h0M390.6 157.1h-0.6M344.6 146.3h-0.6M337.3 136.8h0.8M341.4 129.4h0M343.3 134.5h0.8M348.3 133.9h0M391 152h0M380 122.7h0M340 156.6h0M338.3 131.2h0M358.4 119.5h-0.6M373.2 114.6h0M390.7 142.6h-0.6M347.8 146.6h-0.6M356.6 115.2h0M354.8 154.2h0M338.6 112.6h0M381.7 151.2h0.8" stroke="#22b822" stroke-width="1.3" stroke-linecap="round" fill="none"/>
</g>
<path d="M347.8 134.5l3.3 0M384.9 129.1l3.3 0M341.2 166.8l2.7 -1.9M344.3 161.4l3.3 0M386.5 165.7l1.8 2.8M382.6 128l2.9 1.6M364.6 159.3l2.9 1.6M351.9 137.6l3.3 0M372.4 144l3.3 0" stroke="#ecca1c" stroke-width="0.8" fill="none" filter="url(#b03)"/>
</g>
<rect x="337.3" y="109.5" width="57.6" height="59" fill="none" stroke="#0c0000" stroke-width="0.6"/>
<g clip-path="url(#c9)">
<rect x="399" y="109.2" width="58.2" height="59.6" fill="#0e0000" />
<circle cx="419.37" cy="130.06" r="15" fill="#5a0606" opacity="0.7" filter="url(#b30)"/>
<circle cx="439.74" cy="144.96" r="14" fill="#5a0606" opacity="0.7" filter="url(#b30)"/>
<circle cx="440.9" cy="121.12" r="10" fill="#4a0505" opacity="0.5" filter="url(#b30)"/>
<g filter="url(#semi)">
<circle cx="414.1" cy="150" r="1.85" fill="url(#cellD)"/>
<circle cx="448.4" cy="120.3" r="1.63" fill="url(#cellD)"/>
<circle cx="407.6" cy="122.6" r="1.87" fill="url(#cellD)"/>
<circle cx="406.6" cy="140.9" r="1.62" fill="url(#cellD)"/>
<circle cx="416.1" cy="134.9" r="1.92" fill="url(#cellD)"/>
<circle cx="434.4" cy="110.1" r="1.65" fill="url(#cellD)"/>
<circle cx="407.5" cy="161.1" r="1.91" fill="url(#cellD)"/>
<circle cx="445.9" cy="158.5" r="1.88" fill="url(#cellD)"/>
<circle cx="454.3" cy="156.5" r="1.64" fill="url(#cellD)"/>
<circle cx="448.5" cy="138.2" r="1.88" fill="url(#cellD)"/>
<circle cx="431.8" cy="134.8" r="1.69" fill="url(#cellD)"/>
<circle cx="424" cy="127.9" r="1.58" fill="url(#cellD)"/>
<circle cx="446.7" cy="156.8" r="1.99" fill="url(#cellD)"/>
<circle cx="439.2" cy="142.2" r="1.88" fill="url(#cellD)"/>
<circle cx="406.8" cy="149.5" r="1.73" fill="url(#cellD)"/>
<circle cx="409.3" cy="121.3" r="1.77" fill="url(#cellD)"/>
<circle cx="413.7" cy="136.6" r="1.81" fill="url(#cellD)"/>
<circle cx="422" cy="117" r="1.76" fill="url(#cellD)"/>
<circle cx="412.7" cy="123.2" r="1.61" fill="url(#cellD)"/>
<circle cx="420.3" cy="113.6" r="1.83" fill="url(#cellD)"/>
<circle cx="454.5" cy="132.4" r="1.87" fill="url(#cellD)"/>
<circle cx="453.3" cy="111.8" r="1.59" fill="url(#cellD)"/>
<circle cx="445.9" cy="159.2" r="1.83" fill="url(#cellD)"/>
<circle cx="408.3" cy="133.8" r="1.94" fill="url(#cellD)"/>
<circle cx="450.6" cy="157.1" r="1.62" fill="url(#cellD)"/>
<circle cx="448.7" cy="131.5" r="1.86" fill="url(#cellD)"/>
<circle cx="407" cy="167.1" r="1.81" fill="url(#cellD)"/>
<circle cx="441.1" cy="121.8" r="1.82" fill="url(#cellD)"/>
<circle cx="432.8" cy="144.4" r="1.69" fill="url(#cellD)"/>
<circle cx="441.4" cy="129.5" r="1.66" fill="url(#cellD)"/>
<circle cx="408.6" cy="150" r="1.57" fill="url(#cellD)"/>
<circle cx="412.1" cy="113.3" r="1.83" fill="url(#cellD)"/>
<circle cx="431.4" cy="141.6" r="1.54" fill="url(#cellD)"/>
<circle cx="424.6" cy="129.6" r="1.56" fill="url(#cellD)"/>
<circle cx="399.2" cy="168.7" r="1.58" fill="url(#cellD)"/>
<circle cx="416.5" cy="125.2" r="1.81" fill="url(#cellD)"/>
<circle cx="403.5" cy="137.2" r="1.7" fill="url(#cellD)"/>
<circle cx="447.6" cy="109.5" r="1.68" fill="url(#cellD)"/>
<circle cx="427.9" cy="167" r="1.77" fill="url(#cellD)"/>
<circle cx="426.6" cy="149.1" r="1.66" fill="url(#cellD)"/>
<circle cx="400.8" cy="139.1" r="1.96" fill="url(#cellD)"/>
<circle cx="442" cy="124.6" r="1.85" fill="url(#cellD)"/>
<circle cx="448.4" cy="124.6" r="1.8" fill="url(#cellD)"/>
<circle cx="419.7" cy="123.8" r="1.66" fill="url(#cellD)"/>
<circle cx="410.9" cy="130.1" r="1.54" fill="url(#cellD)"/>
<circle cx="422.1" cy="114.4" r="1.88" fill="url(#cellD)"/>
<circle cx="433.9" cy="109.4" r="1.89" fill="url(#cellD)"/>
<circle cx="410.1" cy="137.9" r="1.79" fill="url(#cellD)"/>
<circle cx="418.4" cy="126.5" r="1.73" fill="url(#cellD)"/>
<circle cx="407" cy="160.7" r="1.57" fill="url(#cellD)"/>
<circle cx="446.9" cy="122.2" r="1.67" fill="url(#cellD)"/>
<circle cx="421.6" cy="111.2" r="1.58" fill="url(#cellD)"/>
<circle cx="420" cy="135.5" r="1.94" fill="url(#cellD)"/>
<circle cx="456.6" cy="111.8" r="1.78" fill="url(#cellD)"/>
<circle cx="406.5" cy="157.1" r="1.67" fill="url(#cellD)"/>
<circle cx="451" cy="141.7" r="1.58" fill="url(#cellD)"/>
<circle cx="399.3" cy="124" r="1.94" fill="url(#cellD)"/>
<circle cx="407.7" cy="137.7" r="1.7" fill="url(#cellD)"/>
<circle cx="419.1" cy="157" r="1.62" fill="url(#cellD)"/>
<circle cx="440.8" cy="148.9" r="1.97" fill="url(#cellD)"/>
<circle cx="429.3" cy="164.1" r="1.73" fill="url(#cellD)"/>
<circle cx="432.4" cy="146.2" r="1.92" fill="url(#cellD)"/>
<circle cx="451.2" cy="116.1" r="1.59" fill="url(#cellD)"/>
<circle cx="430.1" cy="157.6" r="1.78" fill="url(#cellD)"/>
<circle cx="416.4" cy="166.5" r="1.66" fill="url(#cellD)"/>
<circle cx="404.1" cy="112.3" r="1.53" fill="url(#cellD)"/>
<circle cx="441.3" cy="115.6" r="1.86" fill="url(#cellD)"/>
<circle cx="449.4" cy="168.8" r="1.91" fill="url(#cellD)"/>
<circle cx="423.7" cy="146.3" r="1.92" fill="url(#cellD)"/>
<circle cx="440.7" cy="126.5" r="1.89" fill="url(#cellD)"/>
<circle cx="405.4" cy="127.6" r="2" fill="url(#cellD)"/>
<circle cx="426.4" cy="125.2" r="1.9" fill="url(#cellD)"/>
<circle cx="425.2" cy="109.4" r="1.53" fill="url(#cellD)"/>
<circle cx="414.1" cy="129" r="1.97" fill="url(#cellD)"/>
<circle cx="413.4" cy="159.9" r="1.93" fill="url(#cellD)"/>
<circle cx="423.2" cy="168.4" r="1.89" fill="url(#cellD)"/>
<circle cx="427.2" cy="124.8" r="1.74" fill="url(#cellD)"/>
<circle cx="451.5" cy="141.2" r="1.61" fill="url(#cellD)"/>
<circle cx="420.9" cy="137.6" r="1.61" fill="url(#cellD)"/>
<circle cx="432.3" cy="111.2" r="1.91" fill="url(#cellD)"/>
<circle cx="409.4" cy="115.3" r="1.8" fill="url(#cellD)"/>
<circle cx="416.9" cy="162" r="1.76" fill="url(#cellD)"/>
<circle cx="429.3" cy="158.9" r="1.62" fill="url(#cellD)"/>
<circle cx="442.4" cy="147.9" r="1.73" fill="url(#cellD)"/>
<circle cx="454.8" cy="110.5" r="1.93" fill="url(#cellD)"/>
<circle cx="407.3" cy="159.2" r="1.59" fill="url(#cellD)"/>
<circle cx="402.1" cy="139" r="1.96" fill="url(#cellD)"/>
<circle cx="414" cy="138.2" r="1.81" fill="url(#cellD)"/>
<circle cx="413.2" cy="140.8" r="1.52" fill="url(#cellD)"/>
<circle cx="425.2" cy="154.5" r="1.68" fill="url(#cellD)"/>
<circle cx="411.8" cy="112.2" r="1.86" fill="url(#cellD)"/>
<circle cx="423.9" cy="163.7" r="1.88" fill="url(#cellD)"/>
<circle cx="404.8" cy="163.7" r="1.97" fill="url(#cellD)"/>
<circle cx="446.5" cy="158.7" r="1.85" fill="url(#cellD)"/>
<circle cx="441" cy="149" r="1.8" fill="url(#cellD)"/>
<circle cx="414" cy="117.2" r="1.87" fill="url(#cellD)"/>
<circle cx="433.7" cy="112.6" r="1.83" fill="url(#cellD)"/>
<circle cx="434.5" cy="139.7" r="1.89" fill="url(#cellD)"/>
<circle cx="450" cy="131.9" r="1.91" fill="url(#cellD)"/>
<circle cx="428.1" cy="143.3" r="1.72" fill="url(#cellD)"/>
<circle cx="453.3" cy="135.7" r="1.98" fill="url(#cellD)"/>
<circle cx="418.7" cy="149.3" r="1.96" fill="url(#cellD)"/>
<circle cx="438.8" cy="131.6" r="1.56" fill="url(#cellD)"/>
<circle cx="426.8" cy="133.9" r="1.91" fill="url(#cellD)"/>
<circle cx="444.6" cy="168" r="1.73" fill="url(#cellD)"/>
<circle cx="422.9" cy="142.8" r="1.88" fill="url(#cellD)"/>
<circle cx="403.7" cy="122" r="1.59" fill="url(#cellD)"/>
<circle cx="417.9" cy="127.1" r="1.98" fill="url(#cellD)"/>
<circle cx="411.1" cy="164.8" r="1.66" fill="url(#cellD)"/>
<circle cx="410.9" cy="167.3" r="1.56" fill="url(#cellD)"/>
<circle cx="405.6" cy="116.9" r="1.39" fill="url(#cellE)"/>
<circle cx="421.5" cy="121.9" r="1.44" fill="url(#cellE)"/>
<circle cx="399.9" cy="150.8" r="1.38" fill="url(#cellE)"/>
<circle cx="412.5" cy="142.9" r="1.78" fill="url(#cellE)"/>
<circle cx="437.4" cy="151.4" r="1.7" fill="url(#cellE)"/>
<circle cx="445.4" cy="160" r="1.43" fill="url(#cellE)"/>
<circle cx="402.1" cy="146.2" r="1.61" fill="url(#cellE)"/>
<circle cx="429.3" cy="155.8" r="1.44" fill="url(#cellE)"/>
<circle cx="440.1" cy="134.6" r="1.56" fill="url(#cellE)"/>
<circle cx="413.2" cy="126" r="1.64" fill="url(#cellE)"/>
<circle cx="431.2" cy="163.2" r="1.49" fill="url(#cellE)"/>
<circle cx="440.6" cy="115" r="1.67" fill="url(#cellE)"/>
<circle cx="408.4" cy="160.3" r="1.82" fill="url(#cellE)"/>
<circle cx="413.8" cy="157.4" r="1.47" fill="url(#cellE)"/>
<circle cx="416.8" cy="115.4" r="1.57" fill="url(#cellE)"/>
<circle cx="405.1" cy="151.2" r="1.64" fill="url(#cellE)"/>
<circle cx="423.4" cy="151.5" r="1.47" fill="url(#cellE)"/>
<circle cx="418.3" cy="130.9" r="1.36" fill="url(#cellE)"/>
<circle cx="450.6" cy="114.5" r="1.41" fill="url(#cellE)"/>
<circle cx="445.4" cy="158" r="1.57" fill="url(#cellE)"/>
<circle cx="423.5" cy="117.5" r="1.36" fill="url(#cellE)"/>
<circle cx="429.3" cy="123.7" r="1.43" fill="url(#cellE)"/>
<circle cx="451.7" cy="110.3" r="1.53" fill="url(#cellE)"/>
<circle cx="442.7" cy="153.7" r="1.41" fill="url(#cellE)"/>
<circle cx="442.2" cy="142.8" r="1.66" fill="url(#cellE)"/>
<circle cx="453.9" cy="156.8" r="1.65" fill="url(#cellE)"/>
<circle cx="443.8" cy="138.5" r="1.62" fill="url(#cellE)"/>
<circle cx="446.6" cy="146.1" r="1.54" fill="url(#cellE)"/>
<circle cx="400.2" cy="156.3" r="1.52" fill="url(#cellE)"/>
<circle cx="424" cy="126.3" r="1.63" fill="url(#cellE)"/>
<circle cx="422.3" cy="158.9" r="1.65" fill="url(#cellE)"/>
<circle cx="431.5" cy="155.9" r="1.57" fill="url(#cellE)"/>
<circle cx="430.2" cy="153.9" r="1.71" fill="url(#cellE)"/>
<circle cx="442.3" cy="162.3" r="1.63" fill="url(#cellE)"/>
<circle cx="431.3" cy="120.4" r="1.48" fill="url(#cellE)"/>
<circle cx="424.3" cy="138.9" r="1.79" fill="url(#cellE)"/>
<circle cx="401.5" cy="130" r="1.72" fill="url(#cellE)"/>
<circle cx="425.7" cy="159.8" r="1.44" fill="url(#cellE)"/>
<circle cx="443.9" cy="134.9" r="1.63" fill="url(#cellE)"/>
<circle cx="402.3" cy="133.2" r="1.75" fill="url(#cellE)"/>
<circle cx="441.8" cy="142.8" r="1.56" fill="url(#cellE)"/>
<circle cx="401.3" cy="150.9" r="1.57" fill="url(#cellE)"/>
<circle cx="441.1" cy="145.7" r="1.55" fill="url(#cellE)"/>
<circle cx="449.9" cy="117.1" r="1.82" fill="url(#cellE)"/>
<circle cx="404" cy="167" r="1.64" fill="url(#cellE)"/>
<path d="M425.1 165h0M402.5 156.7h0M412.9 116h-0.6M439.8 142.6h0M426.1 111.3h0M410.8 152.8h-0.6M429.6 118h0M445.2 152.1h0M409.3 113.2h0M439.5 166.5h-0.6M399.1 151.9h0M426.2 116.1h0M421.6 150.8h0M431.8 112.6h0" stroke="#22b822" stroke-width="1.3" stroke-linecap="round" fill="none"/>
</g>
<path d="M421.3 122l3.3 0M437 167.6l3.3 0M424.8 144.8l1.8 2.8M410.3 118.3l3.3 0M431.8 164.2l2.7 -1.9M438.8 143.1l3.3 0M427.8 134.9l1.8 2.8M410 145.8l3.3 0M442.4 126.7l1.8 2.8M441 116.4l3.3 0M425.3 151.3l1.8 2.8M444.4 125.4l2.7 -1.9M442 165.4l2.9 1.6M415.7 141.2l1.8 2.8M438.5 161.9l2.7 -1.9M442.6 143.6l3.3 0" stroke="#ecca1c" stroke-width="0.8" fill="none" filter="url(#b03)"/>
</g>
<rect x="399.3" y="109.5" width="57.6" height="59" fill="none" stroke="#0c0000" stroke-width="0.6"/>
<g clip-path="url(#c10)">
<rect x="461.2" y="109.2" width="58.2" height="59.6" fill="#0a0200" />
<circle cx="481.57" cy="130.06" r="15" fill="#5a0606" opacity="0.7" filter="url(#b30)"/>
<circle cx="501.94" cy="144.96" r="14" fill="#5a0606" opacity="0.7" filter="url(#b30)"/>
<circle cx="472.84" cy="121.12" r="9" fill="#1a6a10" opacity="0.6" filter="url(#b30)"/>
<circle cx="510.67" cy="127.08" r="9" fill="#1a6a10" opacity="0.5" filter="url(#b30)"/>
<circle cx="484.48" cy="156.88" r="9" fill="#1a5a10" opacity="0.5" filter="url(#b30)"/>
<g filter="url(#semi)">
<circle cx="467.4" cy="151.1" r="1.83" fill="url(#cellD)"/>
<circle cx="515.9" cy="125.4" r="1.64" fill="url(#cellD)"/>
<circle cx="503.9" cy="148.4" r="1.67" fill="url(#cellD)"/>
<circle cx="501" cy="132.8" r="1.89" fill="url(#cellD)"/>
<circle cx="468.1" cy="122.5" r="1.95" fill="url(#cellD)"/>
<circle cx="482" cy="124.7" r="1.91" fill="url(#cellD)"/>
<circle cx="498" cy="118.1" r="1.78" fill="url(#cellD)"/>
<circle cx="499.8" cy="119" r="1.83" fill="url(#cellD)"/>
<circle cx="468.4" cy="129.3" r="1.56" fill="url(#cellD)"/>
<circle cx="473.1" cy="167.5" r="1.71" fill="url(#cellD)"/>
<circle cx="518.8" cy="135.3" r="1.81" fill="url(#cellD)"/>
<circle cx="512" cy="150.1" r="1.57" fill="url(#cellD)"/>
<circle cx="495.5" cy="147" r="1.61" fill="url(#cellD)"/>
<circle cx="466.7" cy="161.3" r="1.77" fill="url(#cellD)"/>
<circle cx="472.5" cy="136.2" r="1.62" fill="url(#cellD)"/>
<circle cx="507.7" cy="139" r="1.57" fill="url(#cellD)"/>
<circle cx="508.8" cy="114.5" r="1.65" fill="url(#cellD)"/>
<circle cx="462.8" cy="153.3" r="1.57" fill="url(#cellD)"/>
<circle cx="491.8" cy="114.7" r="1.75" fill="url(#cellD)"/>
<circle cx="501.1" cy="141.1" r="1.74" fill="url(#cellD)"/>
<circle cx="489.4" cy="135.2" r="1.81" fill="url(#cellD)"/>
<circle cx="466.7" cy="137.5" r="1.63" fill="url(#cellD)"/>
<circle cx="511.6" cy="165.2" r="1.55" fill="url(#cellD)"/>
<circle cx="469.5" cy="151.1" r="1.79" fill="url(#cellD)"/>
<circle cx="462.3" cy="151.2" r="1.97" fill="url(#cellD)"/>
<circle cx="485.8" cy="129.9" r="1.79" fill="url(#cellD)"/>
<circle cx="515.9" cy="124.9" r="1.67" fill="url(#cellD)"/>
<circle cx="472.2" cy="146.7" r="1.75" fill="url(#cellD)"/>
<circle cx="476.1" cy="132.3" r="1.54" fill="url(#cellD)"/>
<circle cx="479.4" cy="167.8" r="1.8" fill="url(#cellD)"/>
<circle cx="477.6" cy="165" r="1.69" fill="url(#cellD)"/>
<circle cx="475.8" cy="111.3" r="1.59" fill="url(#cellD)"/>
<circle cx="472.8" cy="122.9" r="1.94" fill="url(#cellD)"/>
<circle cx="476.6" cy="124" r="1.81" fill="url(#cellD)"/>
<circle cx="514.6" cy="126.6" r="1.89" fill="url(#cellD)"/>
<circle cx="482.7" cy="142.6" r="1.81" fill="url(#cellD)"/>
<circle cx="516" cy="154.3" r="1.76" fill="url(#cellD)"/>
<circle cx="510.2" cy="131" r="1.7" fill="url(#cellD)"/>
<circle cx="517.1" cy="141.7" r="1.89" fill="url(#cellD)"/>
<circle cx="479.5" cy="163.8" r="1.81" fill="url(#cellD)"/>
<circle cx="475.6" cy="164.8" r="1.75" fill="url(#cellD)"/>
<circle cx="481" cy="124.9" r="1.57" fill="url(#cellD)"/>
<circle cx="472.9" cy="150.5" r="1.59" fill="url(#cellD)"/>
<circle cx="476.3" cy="135.9" r="1.78" fill="url(#cellD)"/>
<circle cx="483.3" cy="156" r="1.64" fill="url(#cellD)"/>
<circle cx="482.7" cy="134.5" r="1.58" fill="url(#cellD)"/>
<circle cx="474.1" cy="117.9" r="1.87" fill="url(#cellD)"/>
<circle cx="469.7" cy="149" r="1.63" fill="url(#cellD)"/>
<circle cx="498.9" cy="148.3" r="1.69" fill="url(#cellD)"/>
<circle cx="515.5" cy="148.3" r="1.79" fill="url(#cellD)"/>
<circle cx="463.9" cy="133.4" r="1.65" fill="url(#cellD)"/>
<circle cx="488.5" cy="164.8" r="1.93" fill="url(#cellD)"/>
<circle cx="464.8" cy="149.7" r="1.97" fill="url(#cellD)"/>
<circle cx="492.8" cy="115" r="1.94" fill="url(#cellD)"/>
<circle cx="486" cy="167.6" r="1.94" fill="url(#cellD)"/>
<circle cx="509.4" cy="164.7" r="1.55" fill="url(#cellD)"/>
<circle cx="507.4" cy="127.4" r="1.58" fill="url(#cellD)"/>
<circle cx="483.3" cy="144.3" r="1.52" fill="url(#cellD)"/>
<circle cx="487.4" cy="155.9" r="1.76" fill="url(#cellD)"/>
<circle cx="491.9" cy="126.9" r="1.99" fill="url(#cellD)"/>
<circle cx="475.6" cy="149.8" r="1.83" fill="url(#cellD)"/>
<circle cx="461.2" cy="168.6" r="1.63" fill="url(#cellD)"/>
<circle cx="518.8" cy="164.5" r="1.95" fill="url(#cellD)"/>
<circle cx="511" cy="132.9" r="1.73" fill="url(#cellD)"/>
<circle cx="481.3" cy="165" r="1.53" fill="url(#cellD)"/>
<circle cx="469.2" cy="166.2" r="1.91" fill="url(#cellD)"/>
<circle cx="502.3" cy="166.9" r="1.77" fill="url(#cellD)"/>
<circle cx="509.8" cy="135.6" r="1.95" fill="url(#cellD)"/>
<circle cx="465.3" cy="135.3" r="1.8" fill="url(#cellD)"/>
<circle cx="507.4" cy="134.4" r="1.85" fill="url(#cellD)"/>
<circle cx="517.5" cy="134.2" r="1.46" fill="url(#cellE)"/>
<circle cx="463" cy="160.6" r="1.59" fill="url(#cellE)"/>
<circle cx="483.8" cy="140.2" r="1.42" fill="url(#cellE)"/>
<circle cx="474.1" cy="123.3" r="1.48" fill="url(#cellE)"/>
<circle cx="511.2" cy="123.9" r="1.4" fill="url(#cellE)"/>
<circle cx="511.6" cy="142.5" r="1.37" fill="url(#cellE)"/>
<circle cx="500.5" cy="150.1" r="1.67" fill="url(#cellE)"/>
<circle cx="506.3" cy="134.5" r="1.47" fill="url(#cellE)"/>
<circle cx="504.5" cy="146.5" r="1.7" fill="url(#cellE)"/>
<circle cx="471.9" cy="131.4" r="1.69" fill="url(#cellE)"/>
<circle cx="483.6" cy="145.1" r="1.59" fill="url(#cellE)"/>
<circle cx="505.1" cy="130" r="1.6" fill="url(#cellE)"/>
<circle cx="509.4" cy="127.7" r="1.44" fill="url(#cellE)"/>
<circle cx="498.3" cy="117.1" r="1.77" fill="url(#cellE)"/>
<circle cx="477.2" cy="163.1" r="1.62" fill="url(#cellE)"/>
<circle cx="470.2" cy="140.3" r="1.69" fill="url(#cellE)"/>
<circle cx="489.5" cy="147.1" r="1.54" fill="url(#cellE)"/>
<circle cx="517" cy="119.6" r="1.74" fill="url(#cellE)"/>
<circle cx="462.6" cy="139.4" r="1.39" fill="url(#cellE)"/>
<circle cx="468.9" cy="144.3" r="1.79" fill="url(#cellE)"/>
<circle cx="479.2" cy="133.2" r="1.59" fill="url(#cellE)"/>
<circle cx="496.4" cy="130.1" r="1.53" fill="url(#cellE)"/>
<circle cx="510.9" cy="142.3" r="1.53" fill="url(#cellE)"/>
<circle cx="508.8" cy="168.7" r="1.57" fill="url(#cellE)"/>
<circle cx="462.1" cy="127.4" r="1.79" fill="url(#cellE)"/>
<circle cx="471.2" cy="121" r="1.74" fill="url(#cellE)"/>
<circle cx="467.9" cy="159.8" r="1.47" fill="url(#cellE)"/>
<circle cx="483.8" cy="144.6" r="1.41" fill="url(#cellE)"/>
<circle cx="506.3" cy="135.3" r="1.73" fill="url(#cellE)"/>
<circle cx="505.7" cy="113.8" r="1.75" fill="url(#cellE)"/>
<circle cx="509" cy="123.6" r="1.64" fill="url(#cellE)"/>
<circle cx="473.2" cy="141.3" r="1.72" fill="url(#cellE)"/>
<circle cx="483.1" cy="141" r="1.42" fill="url(#cellE)"/>
<circle cx="511.4" cy="146.5" r="1.76" fill="url(#cellE)"/>
<circle cx="465.9" cy="153.6" r="1.4" fill="url(#cellE)"/>
<circle cx="493.6" cy="123" r="1.79" fill="url(#cellE)"/>
<circle cx="467.4" cy="137.4" r="1.59" fill="url(#cellE)"/>
<circle cx="483.7" cy="113" r="1.68" fill="url(#cellE)"/>
<circle cx="517.8" cy="130.7" r="1.79" fill="url(#cellE)"/>
<circle cx="480.9" cy="125.5" r="1.58" fill="url(#cellE)"/>
<circle cx="517.8" cy="155.7" r="1.66" fill="url(#cellE)"/>
<circle cx="463.5" cy="136.1" r="1.37" fill="url(#cellE)"/>
<circle cx="464.8" cy="131.6" r="1.48" fill="url(#cellE)"/>
<circle cx="467.3" cy="139.7" r="1.74" fill="url(#cellE)"/>
<circle cx="515.1" cy="163.8" r="1.56" fill="url(#cellE)"/>
<circle cx="471.6" cy="166.6" r="1.56" fill="url(#cellE)"/>
<circle cx="481.2" cy="158.3" r="1.63" fill="url(#cellE)"/>
<circle cx="516.6" cy="151" r="1.81" fill="url(#cellE)"/>
<circle cx="470.1" cy="165.4" r="1.62" fill="url(#cellE)"/>
<circle cx="501.7" cy="127.1" r="1.48" fill="url(#cellE)"/>
<circle cx="471.09" cy="121.12" r="1.8" fill="#4ee044"/>
<circle cx="478.66" cy="119.33" r="1.4" fill="#4ee044"/>
<circle cx="462.95" cy="141.98" r="1.9" fill="#4ee044"/>
<circle cx="511.25" cy="127.08" r="1.7" fill="#4ee044"/>
<circle cx="510.09" cy="117.54" r="1.4" fill="#4ee044"/>
<circle cx="507.76" cy="152.11" r="1.4" fill="#4ee044"/>
<circle cx="485.64" cy="161.65" r="1.4" fill="#4ee044"/>
<circle cx="497.28" cy="116.35" r="1.3" fill="#4ee044"/>
<circle cx="481.57" cy="141.98" r="1.4" fill="#4ee044"/>
<circle cx="496.12" cy="146.15" r="1.3" fill="#4ee044"/>
<circle cx="467.02" cy="156.88" r="1.2" fill="#4ee044"/>
<circle cx="503.1" cy="137.81" r="1.3" fill="#4ee044"/>
<circle cx="490.3" cy="130.06" r="1.2" fill="#4ee044"/>
<circle cx="475.75" cy="150.92" r="1.3" fill="#4ee044"/>
<circle cx="514.74" cy="162.84" r="1.3" fill="#4ee044"/>
<circle cx="493.21" cy="153.9" r="1.2" fill="#4ee044"/>
<circle cx="484.48" cy="113.97" r="1.2" fill="#4ee044"/>
<path d="M478.5 119.3h0M476 139.7h0M473.1 121.9h0.8M467.8 122.8h0M504.3 148.5h0.8M463.2 125.6h0M474 166.7h0M464.2 125.6h0M461.4 159.7h-0.6M498.1 125.5h-0.6M487.5 123.6h0M490 118.2h0M502.6 147.4h0M490.6 163.5h0.8M514.9 138.6h-0.6M462.9 167.2h0.8M518.7 128.2h0.8M509.9 113.3h0M518.6 113h0M517 135.4h-0.6M490 151.5h-0.6M461.4 143.2h0M477.9 139.6h0M505.8 153.3h-0.6M516.5 157.1h-0.6M502.8 136.3h0.8M483.5 143h0.8M483.8 131h0M468.6 167.9h0M490 152.5h-0.6M499.8 123.1h0M464.4 133.8h0M495.8 161h0M483.6 121.7h0M515.3 111.6h0.8M464.9 166.8h0M467.4 114.3h0M505.3 142.6h0M512.4 129.2h-0.6M497.2 158.7h0" stroke="#22b822" stroke-width="1.3" stroke-linecap="round" fill="none"/>
</g>
<path d="M496.5 137.9l1.8 2.8M466 165.7l2.7 -1.9M486 146l3.3 0M506.1 117.4l3.3 0M480.4 112.6l2.7 -1.9M473.4 137.1l2.7 -1.9M480.3 124.6l3.3 0M506.6 166l3.3 0M473.5 138.2l2.7 -1.9M505 139.7l1.8 2.8M496.2 123.7l3.3 0M471.7 114.9l3.3 0M481 120.6l1.8 2.8M494.4 135l2.7 -1.9M512.3 164.2l3.3 0M504.5 130l3.3 0M482.2 167.1l2.9 1.6M505.1 124.4l2.9 1.6M464.1 113.7l3.3 0M491.4 156.1l3.3 0M503.7 145l3.3 0M502.3 143.2l3.3 0M484.3 117.2l1.8 2.8M515.8 161.8l3.3 0M508.5 127.5l1.8 2.8M511.3 130.7l3.3 0M494.8 146.7l3.3 0M516.2 142.4l3.3 0M476.2 163.6l2.9 1.6M497.1 116.5l3.3 0M483.4 129.4l3.3 0M467.9 147.3l3.3 0M479.7 157.6l1.8 2.8M468.9 138.2l3.3 0M512.2 113.4l2.9 1.6M478.7 127.1l2.9 1.6" stroke="#ecca1c" stroke-width="0.8" fill="none" filter="url(#b03)"/>
</g>
<rect x="461.5" y="109.5" width="57.6" height="59" fill="none" stroke="#0c0000" stroke-width="0.6"/>
<rect x="356.1" y="97.6" width="38.2" height="8.1" fill="#fff" stroke="#cf5426" stroke-width="1"/>
<text transform="translate(375.2 103.05) scale(0.1)" font-size="40" text-anchor="middle" font-weight="bold" stroke="#cf5426" stroke-width="1.2" fill="#cf5426" >Macrophage</text>
<rect x="401.3" y="97.6" width="37.6" height="8.1" fill="#fff" stroke="#178f72" stroke-width="1"/>
<text transform="translate(420.1 103.05) scale(0.1)" font-size="40" text-anchor="middle" font-weight="bold" stroke="#178f72" stroke-width="1.2" fill="#178f72" >GP5d tumor cells</text>
<text transform="translate(304.1 175.4) scale(0.1)" font-size="39.5" text-anchor="middle" font-weight="bold" stroke="#000" stroke-width="1.2" >20 nmol/L anti-RSV</text>
<text transform="translate(304.1 180.1) scale(0.1)" font-size="39.5" text-anchor="middle" font-weight="bold" stroke="#000" stroke-width="1.2" >isotype control</text>
<text transform="translate(366.1 175.4) scale(0.1)" font-size="39.5" text-anchor="middle" font-weight="bold" stroke="#000" stroke-width="1.2" >20 nmol/L anti-RSV</text>
<text transform="translate(366.1 180.1) scale(0.1)" font-size="39.5" text-anchor="middle" font-weight="bold" stroke="#000" stroke-width="1.2" >isotype control</text>
<text transform="translate(366.1 184.8) scale(0.1)" font-size="39.5" text-anchor="middle" font-weight="bold" stroke="#000" stroke-width="1.2" >+ 0.2 nmol/L cetuximab</text>
<text transform="translate(428.1 175.4) scale(0.1)" font-size="39.5" text-anchor="middle" font-weight="bold" stroke="#000" stroke-width="1.2" >20 nmol/L BMS-986351</text>
<text transform="translate(490.3 175.4) scale(0.1)" font-size="39.5" text-anchor="middle" font-weight="bold" stroke="#000" stroke-width="1.2" >20 nmol/L BMS-986351</text>
<text transform="translate(490.3 180.1) scale(0.1)" font-size="39.5" text-anchor="middle" font-weight="bold" stroke="#000" stroke-width="1.2" >+ 0.2 nmol/L cetuximab</text>
<text transform="translate(268.4 95.1) scale(0.1)" font-size="37" text-anchor="middle" font-weight="bold" stroke="#000" stroke-width="1.2" >E</text>
<g clip-path="url(#c11)">
<rect x="273.8" y="209.4" width="60.4" height="60.2" fill="#040000" />
<circle cx="291.92" cy="233.48" r="10" fill="#3a0404" opacity="0.7" filter="url(#b30)"/>
<circle cx="316.08" cy="227.46" r="9" fill="#3a0404" opacity="0.6" filter="url(#b30)"/>
<circle cx="310.04" cy="257.56" r="9" fill="#300404" opacity="0.6" filter="url(#b30)"/>
<g filter="url(#b03)">
<circle cx="302.7" cy="222.4" r="1.91" fill="url(#cellF)"/>
<circle cx="304.8" cy="239.8" r="1.49" fill="url(#cellF)"/>
<circle cx="296.2" cy="244.6" r="1.9" fill="url(#cellF)"/>
<circle cx="287.8" cy="223.4" r="2.01" fill="url(#cellF)"/>
<circle cx="318.4" cy="262.1" r="1.51" fill="url(#cellF)"/>
<circle cx="293.7" cy="239.4" r="1.99" fill="url(#cellF)"/>
<circle cx="307.1" cy="230" r="1.59" fill="url(#cellF)"/>
<circle cx="308.9" cy="253.3" r="1.74" fill="url(#cellF)"/>
<circle cx="327.4" cy="234.1" r="1.72" fill="url(#cellF)"/>
<circle cx="307" cy="254.4" r="1.81" fill="url(#cellF)"/>
<circle cx="307.4" cy="246.9" r="1.58" fill="url(#cellF)"/>
<circle cx="294.8" cy="265.2" r="1.8" fill="url(#cellF)"/>
<circle cx="292.3" cy="215.6" r="1.91" fill="url(#cellF)"/>
<circle cx="320.7" cy="232" r="1.84" fill="url(#cellF)"/>
<circle cx="327.1" cy="239" r="1.62" fill="url(#cellF)"/>
<circle cx="326.7" cy="219.2" r="1.91" fill="url(#cellF)"/>
<circle cx="277" cy="224.9" r="1.71" fill="url(#cellF)"/>
<circle cx="284.1" cy="213.6" r="1.96" fill="url(#cellF)"/>
<circle cx="317.8" cy="211.1" r="1.93" fill="url(#cellF)"/>
<circle cx="321.8" cy="262.5" r="1.71" fill="url(#cellF)"/>
<circle cx="308.9" cy="260.5" r="1.77" fill="url(#cellF)"/>
<circle cx="290.5" cy="255.6" r="1.85" fill="url(#cellF)"/>
<circle cx="312.7" cy="260.7" r="1.62" fill="url(#cellF)"/>
<circle cx="281.9" cy="215.1" r="1.5" fill="url(#cellF)"/>
<circle cx="313.4" cy="217" r="1.66" fill="url(#cellF)"/>
<circle cx="303.6" cy="222.6" r="1.58" fill="url(#cellF)"/>
<circle cx="296.6" cy="252.1" r="1.51" fill="url(#cellF)"/>
<circle cx="316.7" cy="262" r="1.9" fill="url(#cellF)"/>
<circle cx="274.3" cy="237.3" r="1.89" fill="url(#cellF)"/>
<circle cx="284.4" cy="252.2" r="1.85" fill="url(#cellF)"/>
<circle cx="292.7" cy="211.9" r="1.65" fill="url(#cellF)"/>
<circle cx="328.2" cy="227.2" r="1.78" fill="url(#cellF)"/>
<circle cx="304.5" cy="253.6" r="1.65" fill="url(#cellF)"/>
<circle cx="316" cy="241.1" r="1.52" fill="url(#cellF)"/>
<circle cx="323" cy="268.2" r="1.65" fill="url(#cellF)"/>
<circle cx="333.8" cy="215.9" r="1.53" fill="url(#cellF)"/>
<circle cx="323" cy="255.1" r="1.81" fill="url(#cellF)"/>
<circle cx="305.1" cy="232.8" r="1.61" fill="url(#cellF)"/>
<circle cx="276.7" cy="235.5" r="1.86" fill="url(#cellF)"/>
<circle cx="323.2" cy="253" r="1.61" fill="url(#cellF)"/>
<circle cx="297.1" cy="238.7" r="1.99" fill="url(#cellF)"/>
<circle cx="279" cy="238.3" r="1.86" fill="url(#cellF)"/>
<circle cx="316" cy="250.5" r="1.97" fill="url(#cellF)"/>
<circle cx="297.1" cy="246.4" r="1.99" fill="url(#cellF)"/>
<circle cx="292.6" cy="233" r="1.78" fill="url(#cellF)"/>
<circle cx="318.6" cy="237.2" r="1.99" fill="url(#cellF)"/>
<circle cx="316.3" cy="221.8" r="1.82" fill="url(#cellF)"/>
<circle cx="315" cy="225.1" r="1.66" fill="url(#cellF)"/>
<circle cx="289.2" cy="260.3" r="1.85" fill="url(#cellF)"/>
<circle cx="285.9" cy="245.4" r="1.69" fill="url(#cellF)"/>
<circle cx="311.1" cy="226.3" r="1.69" fill="url(#cellF)"/>
<circle cx="316.4" cy="210.5" r="1.51" fill="url(#cellF)"/>
<circle cx="310.5" cy="251.6" r="1.49" fill="url(#cellF)"/>
<circle cx="306.7" cy="215.1" r="1.73" fill="url(#cellF)"/>
<circle cx="327.8" cy="231.7" r="1.9" fill="url(#cellF)"/>
<circle cx="323.5" cy="241.3" r="1.59" fill="url(#cellF)"/>
<circle cx="298.1" cy="242.6" r="1.91" fill="url(#cellF)"/>
<circle cx="274.9" cy="244.4" r="1.96" fill="url(#cellF)"/>
<circle cx="318.9" cy="255.1" r="1.52" fill="url(#cellF)"/>
<circle cx="302.3" cy="257.6" r="1.63" fill="url(#cellF)"/>
<circle cx="295.1" cy="227.3" r="1.95" fill="url(#cellF)"/>
<circle cx="314.8" cy="220.8" r="1.52" fill="url(#cellF)"/>
<circle cx="313.3" cy="218.9" r="1.98" fill="url(#cellF)"/>
<circle cx="306.3" cy="234" r="1.87" fill="url(#cellF)"/>
<circle cx="286.7" cy="211.8" r="1.77" fill="url(#cellF)"/>
<circle cx="311.7" cy="219.9" r="1.75" fill="url(#cellF)"/>
<circle cx="328.5" cy="250.3" r="1.9" fill="url(#cellF)"/>
<circle cx="330.4" cy="257.2" r="1.67" fill="url(#cellF)"/>
<circle cx="310.9" cy="246" r="1.83" fill="url(#cellF)"/>
<circle cx="307.3" cy="256.1" r="1.95" fill="url(#cellF)"/>
<circle cx="295.7" cy="214.4" r="1.58" fill="url(#cellF)"/>
<circle cx="306.4" cy="258.5" r="1.56" fill="url(#cellF)"/>
<circle cx="275.4" cy="249.5" r="1.54" fill="url(#cellF)"/>
<circle cx="304.8" cy="216.8" r="1.71" fill="url(#cellF)"/>
<circle cx="312.5" cy="255.8" r="1.83" fill="url(#cellF)"/>
<circle cx="289.1" cy="235.3" r="1.74" fill="url(#cellF)"/>
<circle cx="289.8" cy="241.8" r="1.51" fill="url(#cellF)"/>
<circle cx="296.6" cy="233.1" r="1.84" fill="url(#cellF)"/>
<circle cx="285.7" cy="223.1" r="1.91" fill="url(#cellF)"/>
<circle cx="303" cy="212.7" r="1.92" fill="url(#cellF)"/>
<circle cx="304" cy="237.2" r="1.82" fill="url(#cellF)"/>
<circle cx="309.9" cy="251.1" r="1.88" fill="url(#cellF)"/>
<circle cx="296.4" cy="224.5" r="1.9" fill="url(#cellF)"/>
<circle cx="327.6" cy="214" r="1.82" fill="url(#cellF)"/>
<circle cx="282.6" cy="259.4" r="1.85" fill="url(#cellF)"/>
<circle cx="291.7" cy="222.5" r="1.75" fill="url(#cellF)"/>
<circle cx="316.9" cy="222.5" r="1.66" fill="url(#cellF)"/>
<circle cx="313" cy="231.6" r="1.56" fill="url(#cellF)"/>
<circle cx="300.6" cy="239.5" r="1.68" fill="url(#cellF)"/>
<circle cx="312.2" cy="247.7" r="1.67" fill="url(#cellF)"/>
<circle cx="319.4" cy="247.7" r="1.76" fill="url(#cellF)"/>
<circle cx="287.3" cy="256.9" r="1.83" fill="url(#cellF)"/>
<circle cx="301.3" cy="222.7" r="1.79" fill="url(#cellF)"/>
<circle cx="279" cy="238.9" r="1.91" fill="url(#cellF)"/>
<circle cx="293.5" cy="229.2" r="1.51" fill="url(#cellF)"/>
<circle cx="325" cy="222.7" r="1.77" fill="url(#cellF)"/>
<circle cx="286.1" cy="251.5" r="1.53" fill="url(#cellF)"/>
<circle cx="288.4" cy="245.5" r="1.59" fill="url(#cellF)"/>
<path d="M308.6 258.6h0M297.9 267.2h0.8M327.2 234.5h-0.6M276.6 233.7h-0.6M284.8 265.2h0M320.9 224.9h-0.6" stroke="#22b822" stroke-width="1.0" stroke-linecap="round" fill="none"/>
</g>
</g>
<g clip-path="url(#c12)">
<rect x="338" y="209.4" width="57" height="60.2" fill="#040000" />
<circle cx="355.1" cy="239.5" r="12" fill="#3a0404" opacity="0.7" filter="url(#b30)"/>
<circle cx="377.9" cy="239.5" r="12" fill="#3a0404" opacity="0.7" filter="url(#b30)"/>
<g filter="url(#b03)">
<circle cx="392.6" cy="217.9" r="1.5" fill="url(#cellF)"/>
<circle cx="394.9" cy="220.5" r="1.55" fill="url(#cellF)"/>
<circle cx="375.1" cy="230.2" r="1.95" fill="url(#cellF)"/>
<circle cx="351.2" cy="267.2" r="1.66" fill="url(#cellF)"/>
<circle cx="372.3" cy="265.5" r="1.85" fill="url(#cellF)"/>
<circle cx="390.7" cy="252" r="1.51" fill="url(#cellF)"/>
<circle cx="388.2" cy="244.9" r="1.65" fill="url(#cellF)"/>
<circle cx="348.8" cy="260.6" r="1.79" fill="url(#cellF)"/>
<circle cx="391.5" cy="256" r="1.99" fill="url(#cellF)"/>
<circle cx="370.3" cy="251.4" r="1.81" fill="url(#cellF)"/>
<circle cx="352.7" cy="267" r="1.65" fill="url(#cellF)"/>
<circle cx="382.5" cy="266.9" r="1.83" fill="url(#cellF)"/>
<circle cx="346.1" cy="259.1" r="1.84" fill="url(#cellF)"/>
<circle cx="348.5" cy="212.4" r="1.77" fill="url(#cellF)"/>
<circle cx="339.8" cy="265.1" r="1.75" fill="url(#cellF)"/>
<circle cx="367.5" cy="234" r="1.83" fill="url(#cellF)"/>
<circle cx="390.2" cy="227.9" r="1.68" fill="url(#cellF)"/>
<circle cx="371.2" cy="227.3" r="1.8" fill="url(#cellF)"/>
<circle cx="369" cy="235.5" r="1.84" fill="url(#cellF)"/>
<circle cx="368.1" cy="214.7" r="2.01" fill="url(#cellF)"/>
<circle cx="358.3" cy="235.4" r="1.7" fill="url(#cellF)"/>
<circle cx="391" cy="266.7" r="1.76" fill="url(#cellF)"/>
<circle cx="360.8" cy="215.2" r="1.96" fill="url(#cellF)"/>
<circle cx="347.8" cy="242.3" r="1.67" fill="url(#cellF)"/>
<circle cx="356.7" cy="230.9" r="1.59" fill="url(#cellF)"/>
<circle cx="340.1" cy="241.6" r="1.91" fill="url(#cellF)"/>
<circle cx="374.9" cy="221.5" r="1.85" fill="url(#cellF)"/>
<circle cx="341" cy="234.1" r="1.92" fill="url(#cellF)"/>
<circle cx="390.5" cy="237.1" r="1.93" fill="url(#cellF)"/>
<circle cx="366.4" cy="240.9" r="1.79" fill="url(#cellF)"/>
<circle cx="394.5" cy="254.2" r="1.74" fill="url(#cellF)"/>
<circle cx="379.5" cy="248.1" r="1.67" fill="url(#cellF)"/>
<circle cx="382.7" cy="258.8" r="1.81" fill="url(#cellF)"/>
<circle cx="391.7" cy="210.5" r="1.75" fill="url(#cellF)"/>
<circle cx="374.2" cy="229.9" r="1.58" fill="url(#cellF)"/>
<circle cx="377.4" cy="235.6" r="1.63" fill="url(#cellF)"/>
<circle cx="340.4" cy="267.6" r="1.67" fill="url(#cellF)"/>
<circle cx="344.7" cy="222.4" r="1.62" fill="url(#cellF)"/>
<circle cx="387.4" cy="220.3" r="1.63" fill="url(#cellF)"/>
<circle cx="343.5" cy="237.7" r="1.6" fill="url(#cellF)"/>
<circle cx="357.6" cy="253.6" r="1.97" fill="url(#cellF)"/>
<circle cx="385.5" cy="211.7" r="1.69" fill="url(#cellF)"/>
<circle cx="386.4" cy="211.4" r="1.59" fill="url(#cellF)"/>
<circle cx="365.9" cy="232.4" r="1.88" fill="url(#cellF)"/>
<circle cx="378.9" cy="237.4" r="1.62" fill="url(#cellF)"/>
<circle cx="351.2" cy="225.4" r="1.52" fill="url(#cellF)"/>
<circle cx="375.9" cy="218.9" r="1.95" fill="url(#cellF)"/>
<circle cx="374.8" cy="212.8" r="1.75" fill="url(#cellF)"/>
<circle cx="372.4" cy="211.9" r="1.74" fill="url(#cellF)"/>
<circle cx="339.7" cy="255.5" r="1.49" fill="url(#cellF)"/>
<circle cx="374" cy="268.7" r="1.93" fill="url(#cellF)"/>
<circle cx="351.3" cy="241.6" r="1.56" fill="url(#cellF)"/>
<circle cx="357.5" cy="261.4" r="1.92" fill="url(#cellF)"/>
<circle cx="338.5" cy="232.3" r="1.82" fill="url(#cellF)"/>
<circle cx="348" cy="257.7" r="1.96" fill="url(#cellF)"/>
<circle cx="369.4" cy="231.2" r="1.93" fill="url(#cellF)"/>
<circle cx="367.2" cy="220.7" r="1.63" fill="url(#cellF)"/>
<circle cx="347.1" cy="259.9" r="1.76" fill="url(#cellF)"/>
<circle cx="377.7" cy="258.6" r="2" fill="url(#cellF)"/>
<circle cx="348.9" cy="233.8" r="1.95" fill="url(#cellF)"/>
<circle cx="381.4" cy="232.7" r="1.83" fill="url(#cellF)"/>
<circle cx="349.1" cy="219.1" r="1.51" fill="url(#cellF)"/>
<circle cx="359.6" cy="223.6" r="1.76" fill="url(#cellF)"/>
<circle cx="393.3" cy="218.6" r="1.78" fill="url(#cellF)"/>
<circle cx="387.3" cy="245.4" r="1.76" fill="url(#cellF)"/>
<circle cx="381.8" cy="210.7" r="1.99" fill="url(#cellF)"/>
<circle cx="377.1" cy="258" r="1.92" fill="url(#cellF)"/>
<circle cx="343.6" cy="213.4" r="1.58" fill="url(#cellF)"/>
<circle cx="366.8" cy="265.9" r="1.96" fill="url(#cellF)"/>
<circle cx="361.5" cy="246.9" r="1.88" fill="url(#cellF)"/>
<circle cx="356.9" cy="267.8" r="1.98" fill="url(#cellF)"/>
<circle cx="379.4" cy="263.7" r="1.91" fill="url(#cellF)"/>
<circle cx="375.2" cy="228.7" r="1.64" fill="url(#cellF)"/>
<circle cx="351.6" cy="212.9" r="1.97" fill="url(#cellF)"/>
<circle cx="355" cy="210.8" r="1.65" fill="url(#cellF)"/>
<circle cx="343.9" cy="236.2" r="1.66" fill="url(#cellF)"/>
<circle cx="348" cy="238.1" r="1.71" fill="url(#cellF)"/>
<circle cx="358.2" cy="258.4" r="1.65" fill="url(#cellF)"/>
<circle cx="368.9" cy="262.3" r="1.99" fill="url(#cellF)"/>
<circle cx="359.4" cy="211.8" r="1.99" fill="url(#cellF)"/>
<circle cx="367.3" cy="222.5" r="1.55" fill="url(#cellF)"/>
<circle cx="351.6" cy="228.1" r="1.56" fill="url(#cellF)"/>
<circle cx="340.8" cy="269.3" r="1.92" fill="url(#cellF)"/>
<circle cx="344.5" cy="238.3" r="1.91" fill="url(#cellF)"/>
<circle cx="366.8" cy="213.6" r="1.67" fill="url(#cellF)"/>
<circle cx="359.7" cy="264.5" r="1.79" fill="url(#cellF)"/>
<circle cx="364.2" cy="247.4" r="1.51" fill="url(#cellF)"/>
<circle cx="377.1" cy="258" r="1.84" fill="url(#cellF)"/>
<circle cx="358.6" cy="226.6" r="1.49" fill="url(#cellF)"/>
<circle cx="342.7" cy="218.7" r="1.73" fill="url(#cellF)"/>
<circle cx="382.4" cy="222.5" r="1.74" fill="url(#cellF)"/>
<circle cx="374.2" cy="247.3" r="1.5" fill="url(#cellF)"/>
<circle cx="390.5" cy="244.6" r="1.65" fill="url(#cellF)"/>
<circle cx="351.6" cy="250.9" r="1.98" fill="url(#cellF)"/>
<circle cx="357.2" cy="233.4" r="1.78" fill="url(#cellF)"/>
<circle cx="348" cy="233.8" r="1.97" fill="url(#cellF)"/>
<circle cx="369.7" cy="258.9" r="1.62" fill="url(#cellF)"/>
<circle cx="387.5" cy="256.5" r="1.61" fill="url(#cellF)"/>
<circle cx="368.2" cy="250.5" r="1.79" fill="url(#cellF)"/>
<circle cx="372.3" cy="223.9" r="1.78" fill="url(#cellF)"/>
<circle cx="358.2" cy="257.4" r="1.68" fill="url(#cellF)"/>
<circle cx="393.8" cy="244.3" r="1.61" fill="url(#cellF)"/>
<circle cx="361.7" cy="217.1" r="1.87" fill="url(#cellF)"/>
<circle cx="340.6" cy="245.8" r="1.65" fill="url(#cellF)"/>
<path d="M382.3 217h0M360.6 215.6h0.8M338.7 219.4h0.8M347 266h0M378.2 225.1h0M365.2 220h0M377.6 249.7h-0.6M368.7 229h0.8M351 220.2h0M373 231.3h0M385.1 242h-0.6M373.7 229.6h-0.6M381.7 215.1h-0.6M353 243.7h0.8M346.4 263.9h-0.6M367.1 263.9h0.8" stroke="#22b822" stroke-width="1.2" stroke-linecap="round" fill="none"/>
</g>
</g>
<g clip-path="url(#c13)">
<rect x="398.9" y="209.4" width="58.4" height="60.2" fill="#030000" />
<g filter="url(#b03)">
<circle cx="452.9" cy="266.5" r="1.36" fill="url(#cellF)"/>
<circle cx="433.5" cy="234.9" r="1.38" fill="url(#cellF)"/>
<circle cx="410.1" cy="236.2" r="1.53" fill="url(#cellF)"/>
<circle cx="423.5" cy="240.3" r="1.48" fill="url(#cellF)"/>
<circle cx="402.3" cy="256.5" r="1.62" fill="url(#cellF)"/>
<circle cx="435.2" cy="267.8" r="1.67" fill="url(#cellF)"/>
<circle cx="420.4" cy="243.8" r="1.46" fill="url(#cellF)"/>
<circle cx="403.9" cy="237.9" r="1.59" fill="url(#cellF)"/>
<circle cx="425" cy="248.1" r="1.4" fill="url(#cellF)"/>
<circle cx="417.8" cy="258.5" r="1.37" fill="url(#cellF)"/>
<circle cx="432.4" cy="258.8" r="1.49" fill="url(#cellF)"/>
<circle cx="431" cy="225" r="1.68" fill="url(#cellF)"/>
<circle cx="440.2" cy="259.3" r="1.57" fill="url(#cellF)"/>
<circle cx="452.6" cy="245.1" r="1.4" fill="url(#cellF)"/>
<circle cx="455.8" cy="212.8" r="1.33" fill="url(#cellF)"/>
<circle cx="446.2" cy="250.8" r="1.69" fill="url(#cellF)"/>
<circle cx="454.3" cy="241.8" r="1.67" fill="url(#cellF)"/>
<circle cx="419.1" cy="268.1" r="1.41" fill="url(#cellF)"/>
<circle cx="403.3" cy="237.5" r="1.75" fill="url(#cellF)"/>
<circle cx="454.4" cy="222.4" r="1.56" fill="url(#cellF)"/>
<circle cx="408.8" cy="242.1" r="1.44" fill="url(#cellF)"/>
<circle cx="423.5" cy="263.6" r="1.48" fill="url(#cellF)"/>
<circle cx="451" cy="258.4" r="1.64" fill="url(#cellF)"/>
<circle cx="423" cy="251.1" r="1.61" fill="url(#cellF)"/>
<circle cx="444" cy="242.9" r="1.7" fill="url(#cellF)"/>
<circle cx="405.2" cy="247.4" r="1.58" fill="url(#cellF)"/>
<circle cx="447.7" cy="224.4" r="1.35" fill="url(#cellF)"/>
<circle cx="431.7" cy="242" r="1.58" fill="url(#cellF)"/>
<circle cx="426.4" cy="236.5" r="1.32" fill="url(#cellF)"/>
<circle cx="420.9" cy="256.7" r="1.72" fill="url(#cellF)"/>
<circle cx="410.8" cy="250.4" r="1.53" fill="url(#cellF)"/>
<circle cx="426.9" cy="250.9" r="1.58" fill="url(#cellF)"/>
<circle cx="429.6" cy="227.3" r="1.36" fill="url(#cellF)"/>
<circle cx="450.1" cy="261.4" r="1.68" fill="url(#cellF)"/>
<circle cx="438.2" cy="245.8" r="1.47" fill="url(#cellF)"/>
<circle cx="446.6" cy="238.2" r="1.44" fill="url(#cellF)"/>
<circle cx="415.1" cy="214.8" r="1.44" fill="url(#cellF)"/>
<circle cx="448.7" cy="239.6" r="1.53" fill="url(#cellF)"/>
<circle cx="406" cy="243.5" r="1.72" fill="url(#cellF)"/>
<circle cx="414" cy="260.6" r="1.77" fill="url(#cellF)"/>
<circle cx="435.9" cy="212" r="1.45" fill="url(#cellF)"/>
<circle cx="404.2" cy="253.8" r="1.63" fill="url(#cellF)"/>
<circle cx="437.1" cy="219.6" r="1.74" fill="url(#cellF)"/>
<circle cx="407" cy="253.5" r="1.65" fill="url(#cellF)"/>
<circle cx="432.2" cy="255.8" r="1.6" fill="url(#cellF)"/>
<circle cx="433.4" cy="229.1" r="1.36" fill="url(#cellF)"/>
<circle cx="448.9" cy="221.8" r="1.46" fill="url(#cellF)"/>
<circle cx="435.1" cy="241.5" r="1.52" fill="url(#cellF)"/>
<circle cx="420" cy="248.6" r="1.75" fill="url(#cellF)"/>
<circle cx="417.1" cy="262.8" r="1.77" fill="url(#cellF)"/>
<circle cx="447.4" cy="211.8" r="1.65" fill="url(#cellF)"/>
<circle cx="443.2" cy="241.6" r="1.51" fill="url(#cellF)"/>
<circle cx="447" cy="244.9" r="1.43" fill="url(#cellF)"/>
<circle cx="417.3" cy="249.8" r="1.4" fill="url(#cellF)"/>
<circle cx="446.9" cy="244.1" r="1.57" fill="url(#cellF)"/>
<circle cx="435.3" cy="235.1" r="1.74" fill="url(#cellF)"/>
<circle cx="456.2" cy="249.2" r="1.35" fill="url(#cellF)"/>
<circle cx="448" cy="233" r="1.34" fill="url(#cellF)"/>
<circle cx="442.1" cy="252.1" r="1.44" fill="url(#cellF)"/>
<circle cx="408.7" cy="245.7" r="1.59" fill="url(#cellF)"/>
<circle cx="428.9" cy="242.1" r="1.35" fill="url(#cellF)"/>
<circle cx="426.5" cy="218.2" r="1.46" fill="url(#cellF)"/>
<circle cx="435.1" cy="254.6" r="1.56" fill="url(#cellF)"/>
<circle cx="430.8" cy="257" r="1.77" fill="url(#cellF)"/>
<circle cx="400.2" cy="257" r="1.74" fill="url(#cellF)"/>
<circle cx="407.8" cy="250.9" r="1.63" fill="url(#cellF)"/>
<circle cx="405.5" cy="264.8" r="1.37" fill="url(#cellF)"/>
<circle cx="447.2" cy="214.2" r="1.69" fill="url(#cellF)"/>
<circle cx="440.9" cy="267" r="1.56" fill="url(#cellF)"/>
<circle cx="414.8" cy="243.9" r="1.62" fill="url(#cellF)"/>
<circle cx="450" cy="221.3" r="1.66" fill="url(#cellF)"/>
<circle cx="403" cy="258.8" r="1.42" fill="url(#cellF)"/>
<circle cx="402.5" cy="249.3" r="1.77" fill="url(#cellF)"/>
<circle cx="398.9" cy="258.1" r="1.58" fill="url(#cellF)"/>
<circle cx="432.3" cy="257.4" r="1.38" fill="url(#cellF)"/>
<circle cx="445.4" cy="230.7" r="1.56" fill="url(#cellF)"/>
<circle cx="451.7" cy="234.3" r="1.36" fill="url(#cellF)"/>
<circle cx="417.9" cy="249.8" r="1.7" fill="url(#cellF)"/>
<circle cx="411" cy="257.8" r="1.38" fill="url(#cellF)"/>
<circle cx="407.1" cy="244.5" r="1.6" fill="url(#cellF)"/>
<path d="M423.9 239.9h0M429.4 241.7h0M447.9 225.4h0M447 252.6h0M405.6 235.3h0M410.9 239.5h0.8M443.8 215.4h0M407.5 247.4h-0.6M425.7 219h0M418.5 243.3h0M444.2 253.7h0M403 231.8h0" stroke="#22b822" stroke-width="1.1" stroke-linecap="round" fill="none"/>
</g>
</g>
<g clip-path="url(#c14)">
<rect x="461.2" y="209.4" width="58.8" height="60.2" fill="#0c0600" />
<circle cx="475.9" cy="227.46" r="13" fill="#5a2c08" opacity="0.85" filter="url(#b30)"/>
<circle cx="478.84" cy="257.56" r="13" fill="#4a3208" opacity="0.85" filter="url(#b30)"/>
<circle cx="508.24" cy="218.43" r="11" fill="#4a2808" opacity="0.75" filter="url(#b30)"/>
<circle cx="512.94" cy="260.57" r="10" fill="#3a2406" opacity="0.75" filter="url(#b30)"/>
<circle cx="470.02" cy="260.57" r="8" fill="#1a5a10" opacity="0.6" filter="url(#b30)"/>
<circle cx="481.78" cy="215.42" r="8" fill="#1a5a10" opacity="0.6" filter="url(#b30)"/>
<circle cx="490.6" cy="266.59" r="8" fill="#3a3008" opacity="0.7" filter="url(#b30)"/>
<g filter="url(#b03)">
<circle cx="503.1" cy="260" r="2.07" fill="url(#cellF)"/>
<circle cx="472.6" cy="249.8" r="1.94" fill="url(#cellF)"/>
<circle cx="470.1" cy="251.9" r="1.94" fill="url(#cellF)"/>
<circle cx="487.2" cy="261.5" r="1.59" fill="url(#cellF)"/>
<circle cx="491.6" cy="267.1" r="1.77" fill="url(#cellF)"/>
<circle cx="479.1" cy="266.8" r="1.94" fill="url(#cellF)"/>
<circle cx="510.8" cy="218.9" r="1.69" fill="url(#cellF)"/>
<circle cx="493.1" cy="231.5" r="2.03" fill="url(#cellF)"/>
<circle cx="479.8" cy="263.3" r="1.58" fill="url(#cellF)"/>
<circle cx="500.3" cy="257.5" r="2.07" fill="url(#cellF)"/>
<circle cx="511.8" cy="225.4" r="2.03" fill="url(#cellF)"/>
<circle cx="466.7" cy="239.2" r="1.61" fill="url(#cellF)"/>
<circle cx="489.4" cy="249.8" r="1.6" fill="url(#cellF)"/>
<circle cx="490.9" cy="269.4" r="1.82" fill="url(#cellF)"/>
<circle cx="475.5" cy="247.4" r="1.88" fill="url(#cellF)"/>
<circle cx="484.9" cy="237.6" r="1.67" fill="url(#cellF)"/>
<circle cx="472.1" cy="244" r="2" fill="url(#cellF)"/>
<circle cx="475.8" cy="231.8" r="1.77" fill="url(#cellF)"/>
<circle cx="479.6" cy="236.4" r="1.55" fill="url(#cellF)"/>
<circle cx="519.4" cy="252.2" r="1.82" fill="url(#cellF)"/>
<circle cx="474.2" cy="227.6" r="1.71" fill="url(#cellF)"/>
<circle cx="514.5" cy="257.5" r="1.54" fill="url(#cellF)"/>
<circle cx="476.6" cy="242.1" r="1.76" fill="url(#cellF)"/>
<circle cx="498.4" cy="263.9" r="1.74" fill="url(#cellF)"/>
<circle cx="505.9" cy="228.6" r="1.74" fill="url(#cellF)"/>
<circle cx="462.3" cy="237.2" r="1.95" fill="url(#cellF)"/>
<circle cx="473.7" cy="236.2" r="1.56" fill="url(#cellF)"/>
<circle cx="509.7" cy="212.5" r="1.83" fill="url(#cellF)"/>
<circle cx="502.4" cy="212.4" r="1.96" fill="url(#cellF)"/>
<circle cx="467.3" cy="220.4" r="1.8" fill="url(#cellF)"/>
<circle cx="465.8" cy="257.5" r="1.91" fill="url(#cellF)"/>
<circle cx="476.2" cy="248.8" r="1.88" fill="url(#cellF)"/>
<circle cx="485.4" cy="269" r="1.98" fill="url(#cellF)"/>
<circle cx="481.3" cy="220.9" r="1.6" fill="url(#cellF)"/>
<circle cx="518.1" cy="226.4" r="1.66" fill="url(#cellF)"/>
<circle cx="497.6" cy="224.4" r="1.93" fill="url(#cellF)"/>
<circle cx="497" cy="266.3" r="1.68" fill="url(#cellF)"/>
<circle cx="464.9" cy="222.3" r="1.83" fill="url(#cellF)"/>
<circle cx="489.2" cy="229.9" r="1.9" fill="url(#cellF)"/>
<circle cx="470.4" cy="212.2" r="1.97" fill="url(#cellF)"/>
<circle cx="504.3" cy="223" r="1.7" fill="url(#cellF)"/>
<circle cx="501.1" cy="254.5" r="1.71" fill="url(#cellF)"/>
<circle cx="475.1" cy="266.3" r="2.04" fill="url(#cellF)"/>
<circle cx="475.4" cy="247.5" r="2.03" fill="url(#cellF)"/>
<circle cx="482.6" cy="223.2" r="2.04" fill="url(#cellF)"/>
<circle cx="491.1" cy="229.4" r="1.77" fill="url(#cellF)"/>
<circle cx="515.6" cy="230.9" r="1.83" fill="url(#cellF)"/>
<circle cx="475.2" cy="215.9" r="2.05" fill="url(#cellF)"/>
<circle cx="512.5" cy="227.6" r="1.98" fill="url(#cellF)"/>
<circle cx="495.5" cy="231" r="1.91" fill="url(#cellF)"/>
<circle cx="501.6" cy="222.3" r="1.59" fill="url(#cellF)"/>
<circle cx="509.9" cy="262.7" r="1.86" fill="url(#cellF)"/>
<circle cx="502.8" cy="218.8" r="1.77" fill="url(#cellF)"/>
<circle cx="512.3" cy="219.3" r="1.61" fill="url(#cellF)"/>
<circle cx="497.1" cy="263.1" r="1.79" fill="url(#cellF)"/>
<circle cx="461.5" cy="240.1" r="2.05" fill="url(#cellF)"/>
<circle cx="489.8" cy="264.2" r="1.98" fill="url(#cellF)"/>
<circle cx="481.8" cy="215.2" r="1.59" fill="url(#cellF)"/>
<circle cx="498" cy="220.2" r="1.94" fill="url(#cellF)"/>
<circle cx="517.7" cy="221.5" r="1.76" fill="url(#cellF)"/>
<circle cx="518.5" cy="224.7" r="1.74" fill="url(#cellF)"/>
<circle cx="464.8" cy="241.9" r="1.78" fill="url(#cellF)"/>
<circle cx="461.4" cy="226.3" r="1.83" fill="url(#cellF)"/>
<circle cx="504.5" cy="259.7" r="2.02" fill="url(#cellF)"/>
<circle cx="495" cy="219.7" r="2" fill="url(#cellF)"/>
<circle cx="470.6" cy="248.9" r="1.63" fill="url(#cellF)"/>
<circle cx="518.3" cy="223.3" r="1.87" fill="url(#cellF)"/>
<circle cx="517.4" cy="256.1" r="1.65" fill="url(#cellF)"/>
<circle cx="511.9" cy="235.5" r="1.93" fill="url(#cellF)"/>
<circle cx="496.6" cy="252.7" r="1.68" fill="url(#cellF)"/>
<circle cx="503.6" cy="217" r="1.96" fill="url(#cellF)"/>
<circle cx="469.6" cy="209.5" r="1.63" fill="url(#cellF)"/>
<circle cx="492.5" cy="226.9" r="1.67" fill="url(#cellF)"/>
<circle cx="465.5" cy="260.4" r="1.95" fill="url(#cellF)"/>
<circle cx="469.8" cy="228.9" r="1.99" fill="url(#cellF)"/>
<circle cx="518.5" cy="266.5" r="1.86" fill="url(#cellF)"/>
<circle cx="490.5" cy="216.3" r="1.86" fill="url(#cellF)"/>
<circle cx="517.8" cy="268.5" r="1.81" fill="url(#cellF)"/>
<circle cx="513" cy="226.4" r="1.85" fill="url(#cellF)"/>
<circle cx="486.7" cy="232.9" r="1.61" fill="url(#cellF)"/>
<circle cx="478.7" cy="268.9" r="1.53" fill="url(#cellF)"/>
<circle cx="505.7" cy="217.9" r="2.03" fill="url(#cellF)"/>
<circle cx="514.4" cy="262.8" r="1.87" fill="url(#cellF)"/>
<circle cx="463" cy="224.7" r="1.85" fill="url(#cellF)"/>
<circle cx="514.8" cy="219.7" r="1.84" fill="url(#cellF)"/>
<circle cx="496.1" cy="216.7" r="1.81" fill="url(#cellF)"/>
<circle cx="503" cy="230.6" r="2.06" fill="url(#cellF)"/>
<circle cx="512.1" cy="252.8" r="1.74" fill="url(#cellF)"/>
<circle cx="515.6" cy="244.1" r="1.75" fill="url(#cellF)"/>
<circle cx="464.1" cy="262.8" r="1.73" fill="url(#cellF)"/>
<circle cx="516.9" cy="217.3" r="2.07" fill="url(#cellF)"/>
<circle cx="498.4" cy="218.8" r="1.54" fill="url(#cellF)"/>
<circle cx="500.9" cy="215.2" r="1.94" fill="url(#cellF)"/>
<circle cx="513.7" cy="223.3" r="1.92" fill="url(#cellF)"/>
<circle cx="515.4" cy="243.7" r="1.77" fill="url(#cellF)"/>
<circle cx="475.4" cy="238.5" r="1.9" fill="url(#cellF)"/>
<circle cx="473.1" cy="264.5" r="1.75" fill="url(#cellF)"/>
<circle cx="461.3" cy="249.6" r="1.6" fill="url(#cellF)"/>
<circle cx="514.6" cy="233.5" r="1.68" fill="url(#cellF)"/>
<circle cx="519.7" cy="230.5" r="1.67" fill="url(#cellF)"/>
<circle cx="466" cy="217.3" r="1.78" fill="url(#cellF)"/>
<circle cx="486.6" cy="251.8" r="2" fill="url(#cellF)"/>
<circle cx="469.4" cy="243" r="1.69" fill="url(#cellF)"/>
<circle cx="483.9" cy="233" r="1.76" fill="url(#cellF)"/>
<circle cx="470.6" cy="245.5" r="2.02" fill="url(#cellF)"/>
<circle cx="467.5" cy="218.7" r="1.69" fill="url(#cellF)"/>
<circle cx="507.2" cy="214.2" r="2.01" fill="url(#cellF)"/>
<circle cx="474.8" cy="254.2" r="2.05" fill="url(#cellF)"/>
<circle cx="482.8" cy="216.8" r="1.88" fill="url(#cellF)"/>
<circle cx="477.9" cy="218.8" r="1.61" fill="url(#cellF)"/>
<circle cx="498.6" cy="266.7" r="1.55" fill="url(#cellF)"/>
<circle cx="471" cy="228.2" r="2.04" fill="url(#cellF)"/>
<circle cx="496.8" cy="233.3" r="1.98" fill="url(#cellF)"/>
<circle cx="462.6" cy="225.1" r="1.9" fill="url(#cellF)"/>
<circle cx="472.1" cy="269" r="1.9" fill="url(#cellF)"/>
<circle cx="471.78" cy="259.37" r="1.3" fill="#4ee044"/>
<circle cx="478.84" cy="227.46" r="1.2" fill="#4ee044"/>
<circle cx="484.72" cy="215.42" r="1.2" fill="#4ee044"/>
<path d="M474.9 257.3h0M470.8 255.7h-0.6M507.5 244.9h0.8M499.8 244.7h0M470.2 210.1h0M494.3 210.8h-0.6M479.7 231.3h0M483 260h0M467.5 223.6h0M464.4 229.4h0.8M503.5 218.2h0M486.7 256.1h0M473.2 226.3h0.8M464.3 232.7h0M484.8 236.5h-0.6M518.2 255.3h-0.6M468.9 266h-0.6M507.8 249h0M477.3 218.8h0M490.9 248.3h0.8M480.5 266.5h-0.6M480.9 262.8h0M488.1 253.3h-0.6M466.5 228.8h-0.6M507.9 246.8h-0.6M469.7 214.2h0.8" stroke="#22b822" stroke-width="1.3" stroke-linecap="round" fill="none"/>
</g>
</g>
<rect x="355.6" y="198" width="38.2" height="7.8" fill="#fff" stroke="#cf5426" stroke-width="1"/>
<text transform="translate(374.7 203.3) scale(0.1)" font-size="40" text-anchor="middle" font-weight="bold" stroke="#cf5426" stroke-width="1.2" fill="#cf5426" >Macrophage</text>
<rect x="400.9" y="198" width="38" height="7.8" fill="#fff" stroke="#178f72" stroke-width="1"/>
<text transform="translate(419.9 203.3) scale(0.1)" font-size="40" text-anchor="middle" font-weight="bold" stroke="#178f72" stroke-width="1.2" fill="#178f72" >FaDu tumor cells</text>
<text transform="translate(304 275.2) scale(0.1)" font-size="39.5" text-anchor="middle" font-weight="bold" stroke="#000" stroke-width="1.2" >20 nmol/L anti-RSV</text>
<text transform="translate(304 279.9) scale(0.1)" font-size="39.5" text-anchor="middle" font-weight="bold" stroke="#000" stroke-width="1.2" >isotype control</text>
<text transform="translate(366.5 275.2) scale(0.1)" font-size="39.5" text-anchor="middle" font-weight="bold" stroke="#000" stroke-width="1.2" >20 nmol/L anti-RSV</text>
<text transform="translate(366.5 279.9) scale(0.1)" font-size="39.5" text-anchor="middle" font-weight="bold" stroke="#000" stroke-width="1.2" >isotype control</text>
<text transform="translate(366.5 284.6) scale(0.1)" font-size="39.5" text-anchor="middle" font-weight="bold" stroke="#000" stroke-width="1.2" >+ 0.2 nmol/L cetuximab</text>
<text transform="translate(428.1 275.2) scale(0.1)" font-size="39.5" text-anchor="middle" font-weight="bold" stroke="#000" stroke-width="1.2" >20 nmol/L BMS-986351</text>
<text transform="translate(490.6 275.2) scale(0.1)" font-size="39.5" text-anchor="middle" font-weight="bold" stroke="#000" stroke-width="1.2" >20 nmol/L BMS-986351</text>
<text transform="translate(490.6 279.9) scale(0.1)" font-size="39.5" text-anchor="middle" font-weight="bold" stroke="#000" stroke-width="1.2" >+ 0.2 nmol/L cetuximab</text>
<text transform="translate(268.4 194.6) scale(0.1)" font-size="37" text-anchor="middle" font-weight="bold" stroke="#000" stroke-width="1.2" >F</text>
</svg>
</body></html>
